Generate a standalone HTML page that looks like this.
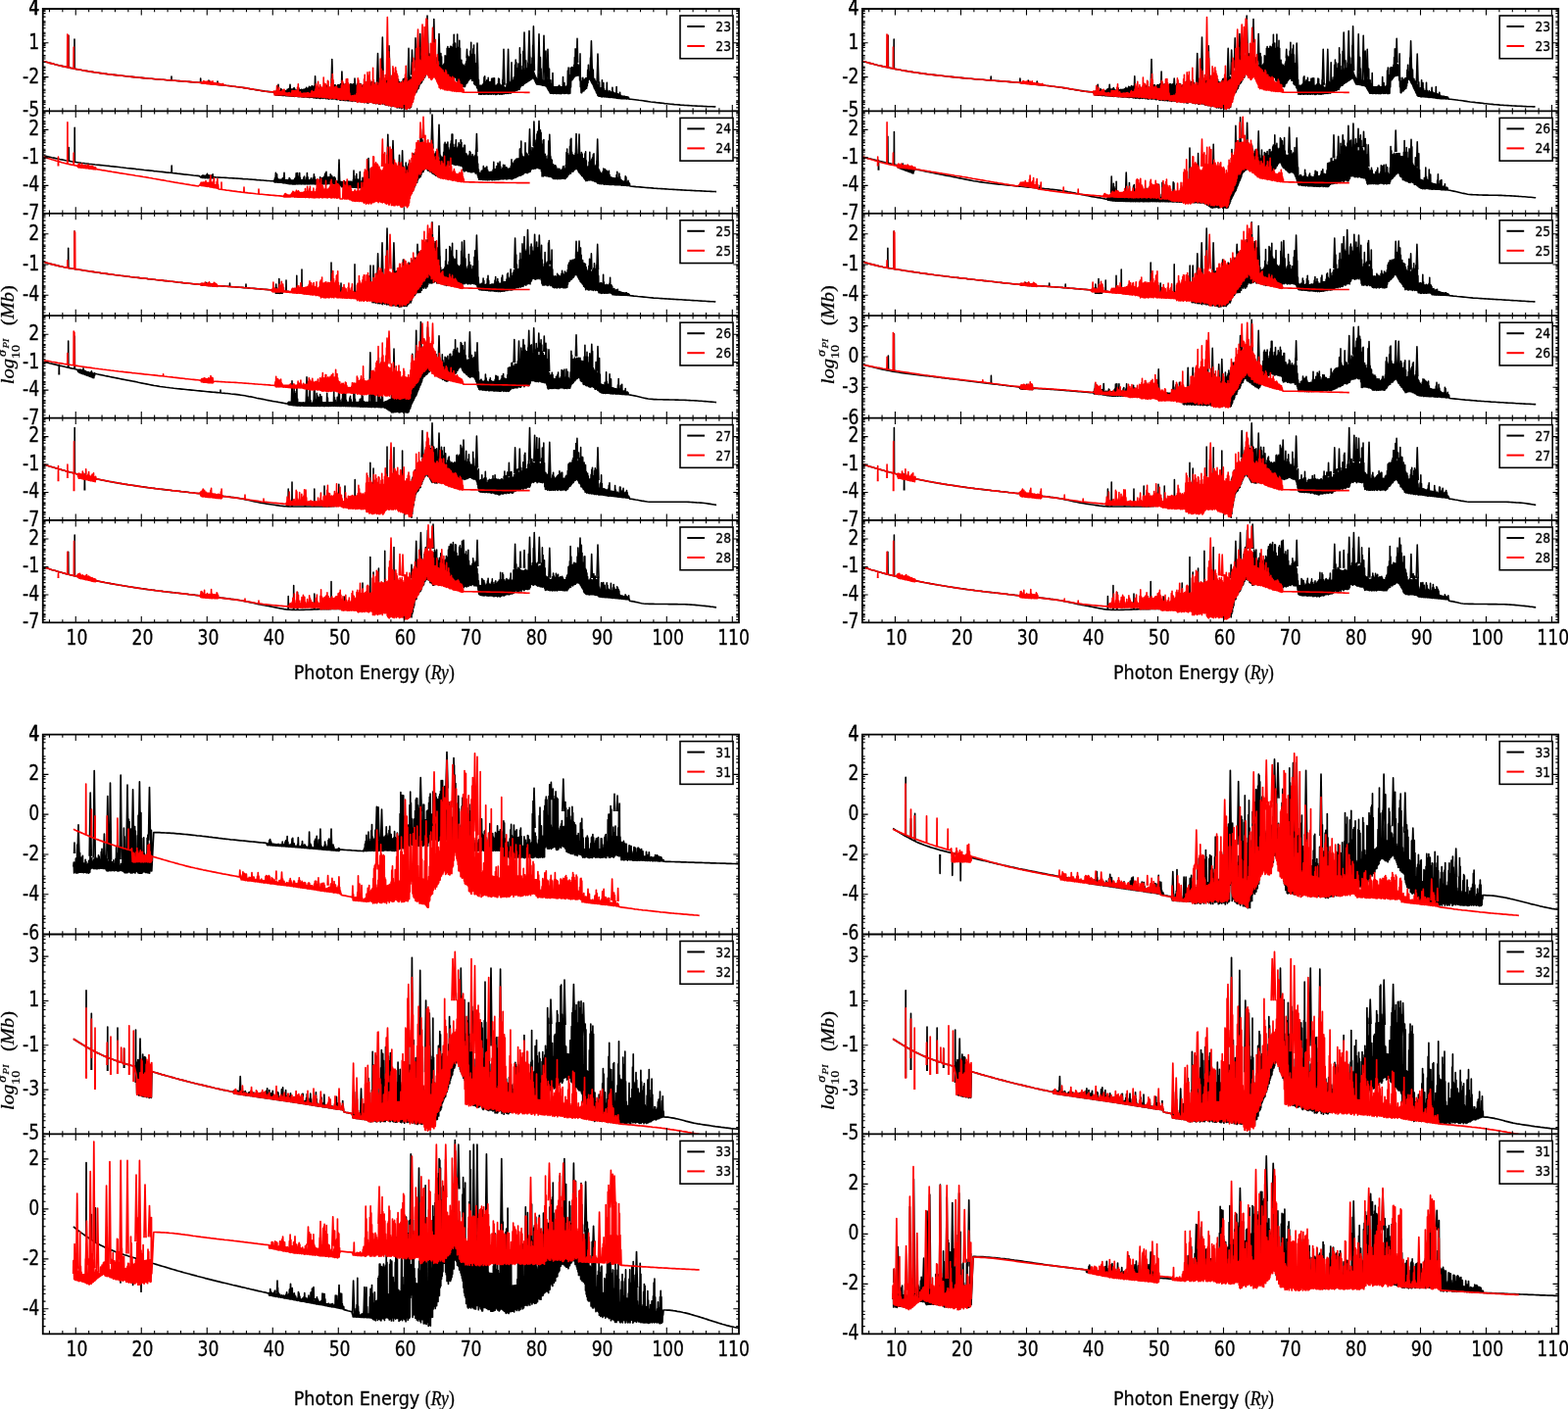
<!DOCTYPE html><html><head><meta charset="utf-8"><title>Photoionization cross sections</title><style>html,body{margin:0;padding:0;background:#fff;width:1600px;height:1438px;overflow:hidden}svg{display:block}text{stroke:#000;stroke-width:.3px}</style></head><body><svg width="1600" height="1438" viewBox="0 0 1600 1438" font-family="'DejaVu Sans', sans-serif">
<rect width="1600" height="1438" fill="#fff"/>
<clipPath id="cTL0"><rect x="43.75" y="9.00" width="710.25" height="104.40"/></clipPath>
<g id="dTL0" clip-path="url(#cTL0)"><path transform="scale(.1)" d="M440 624l20 6 20 5 20 6 20 5 21 5 20 6 20 5 20 5 20 4 20 5 20 5 20 4 20 4 20 5 21 4 20 4 20 4 20 4 20 3 20 4 20 4 20 3 20 4 20 3 21 3 20 3 20 4 20 2 20 3 20 3 20 3 20 2 20 3 20 2 21 3 20 2 20 2 20 3 20 2 20 2 20 2 20 3 20 2 20 2 21 2 20 2 20 2 20 2 20 2 20 2 20 2 20 2 20 2 20 2 21 1 20 2 20 2 20 2 20 1 20 2 20 1 20 2 20 2 20 1 21 2 20 2 20 1 20 2 20 1 20 2 20 2 20 1 20 2 21 1 20 2 20 2 20 2 20 1 20 2 20 2 20 2 20 2 20 2 21 2 20 2 20 2 20 2 20 2 20 3 20 2 20 2 20 2 20 3 21 2 20 2 20 3 20 2 20 3 20 2 20 3 20 3 20 3 20 3 21 3 20 4 20 3 20 4 20 3 20 3 20 4 20 3 20 3 20 3 21 2 20 2 20 2 20 1 2 1 4-1 3 13 4-16 3 30 4-31 3 34 4-40 3 41 4-55 3 54 4-57 3 60 4-69 3 68 4-48 3 50 4-41 3 38 4-48 3 50 4-67 3 67 4-57 3 59 4-52 3 53 4-45 3 44 4-45 3 46 4-46 3 44 4-45 3 50 4-50 3 50 4-51 3 49 4-62 3 63 4-64 3 66 4-74 3 72 4-64 3 66 4-58 3 59 4-55 3 55 4-68 3 71 4-73 3 73 4-73 3 71 4-78 3 78 4-85 3 88 4-75 3 72 4-60 3 62 4-62 3 60 4-61 3 64 4-70 3 70 4-69 3 71 4-85 3 85 4-67 3 65 4-66 3 66 4-69 3 72 4-75 3 75 4-70 3 73 4-74 3 73 4-75 3 76 4-76 3 75 4-80 3 79 4-84 3 86 4-98 3 96 4-86 3 91 4-80 3 80 4-96 3 93 4-108 3 114 4-108 3 103 4-98 3 98 4-104 3 106 4-117 3 115 4-102 3 103 4-109 3 116 4-117 3 114 4-103 3 101 4-86 3 93 4-93 3 92 4-107 3 108 4-108 3 106 4-93 3 89 4-89 3 96 4-112 3 114 4-119 3 119 4-114 3 111 4-97 3 95 4-95 3 97 4-98 3 102 4-102 3 95 4-114 3 115 4-116 3 118 4-112 3 118 4-108 3 102 4-127 3 134 4-126 3 125 4-108 3 112 4-124 3 123 4-111 3 105 4-106 3 110 4-114 3 113 4-111 3 117 4-134 3 128 4-127 3 127 4-128 3 131 4-143 3 141 4-141 3 143 4-125 3 131 4-122 3 118 4-138 3 142 4-150 3 145 4-143 3 144 4-138 3 147 4-157 3 157 4-162 3 164 4-154 3 148 4-130 3 129 4-145 3 153 4-170 3 162 4-149 3 158 4-158 3 159 4-167 3 166 4-161 3 160 4-144 3 138 4-137 3 148 4-145 3 143 4-159 3 153 4-136 3 144 4-170 3 164 4-165 3 171 4-148 3 154 4-172 3 159 4-162 3 169 4-173 3 174 4-184 3 181 4-169 3 175 4-161 3 158 4-149 3 154 4-176 3 176 4-183 3 186 4-182 3 177 4-155 3 158 4-181 3 181 4-181 3 188 4-164 3 160 4-162 3 155 4-162 3 166 4-161 3 159 4-173 3 186 4-188 3 186 4-198 3 191 4-191 3 195 4-210 3 218 4-204 3 203 4-174 3 176 4-176 3 162 4-163 3 169 4-169 3 169 4-199 3 197 4-205 3 208 4-200 3 202 4-190 3 195 4-205 3 209 4-211 3 204 4-177 3 184 4-185 3 188 4-188 3 181 4-181 3 184 4-203 3 198 4-207 3 220 4-234 3 234 4-235 3 227 4-220 3 214 4-210 3 217 4-222 3 224 4-219 3 223 4-224 3 216 4-219 3 222 4-227 3 238 4-233 3 235 4-207 3 210 4-252 3 249 4-242 3 239 4-236 3 248 4-249 3 249 4-250 3 236 4-237 3 246 4-233 3 244 4-227 3 230 4-231 3 224 4-225 3 218 4-223 3 235 4-279 3 269 4-256 3 264 4-264 3 266 4-273 3 284 4-288 3 291 4-288 3 278 4-275 3 284 4-262 3 265 4-263 3 260 4-251 3 248 4-248 3 260 4-271 3 268 4-276 3 261 4-281 3 282 4-284 3 284 4-289 3 308 4-287 3 286 4-266 3 251 4-252 3 262 4-284 3 270 4-287 3 291 4-295 3 300 4-298 3 307 4-269 3 258 4-310 3 308 4-280 3 242 4-254 3 241 4-302 3 270 4-280 3 256 4-246 3 221 4-226 3 214 4-227 3 216 4-234 3 234 4-242 3 222 4-221 3 209 4-269 3 264 4-261 3 240 4-242 3 222 4-232 3 226 4-235 3 227 4-229 3 220 4-220 3 199 4-204 3 202 4-244 3 222 4-231 3 230 4-203 3 189 4-203 3 179 4-224 3 224 4-232 3 227 4-225 3 232 4-203 3 200 4-205 3 205 4-195 3 209 4-189 3 183 4-192 3 189 4-170 3 174 4-139 3 143 4-158 3 158 4-200 3 203 4-152 3 168 4-158 3 173 4-211 3 213 4-155 3 174 4-143 3 148 4-162 3 177 4-147 3 153 4-181 3 185 4-202 3 200 4-304 3 303 4-269 3 279 4-186 3 173 4-178 3 182 4-192 3 191 4-200 3 193 4-274 3 258 4-236 3 235 4-253 3 244 4-322 3 315 4-333 3 342 4-305 3 294 4-311 3 304 4-258 3 254 4-322 3 329 4-327 3 335 4-269 3 253 4-313 3 319 4-349 3 351 4-449 3 440 4-254 3 250 4-348 3 350 4-258 3 286 4-326 3 315 4-457 3 481 4-350 3 345 4-264 3 289 4-438 3 425 4-347 3 359 4-228 3 248 4-259 3 255 4-216 3 227 4-213 3 218 4-220 3 219 4-199 3 204 4-214 3 208 4-230 3 206 4-229 3 221 4-297 3 295 4-282 3 264 4-240 3 231 4-239 3 232 4-224 3 205 4-274 3 282 4-370 3 369 4-248 3 270 4-260 3 252 4-316 3 326 4-364 3 393 4-297 3 308 4-220 3 221 4-206 3 213 4-187 3 208 4-208 3 218 4-239 3 267 4-120 3 150 4-90 3 85 4-85 3 89 4-89 3 91 4-91 3 91 4-91 3 85 4-93 3 96 4-106 3 108 4-173 3 173 4-183 3 179 4-125 3 128 4-95 3 93 4-140 3 139 4-108 3 113 4-169 3 168 4-126 3 121 4-114 3 118 4-126 3 125 4-102 3 104 4-160 3 157 4-141 3 139 4-159 3 163 4-117 3 114 4-160 3 158 4-84 3 92 4-92 3 92 4-92 3 91 4-100 3 97 4-104 3 100 4-156 3 156 4-151 3 157 4-104 3 98 4-86 3 93 4-91 3 85 4-87 3 91 4-149 3 145 4-115 3 114 4-72 3 72 4-62 3 59 4-58 3 57 4-59 3 62 4-99 3 97 4-175 3 175 4-140 3 142 4-122 3 116 4-119 3 118 4-102 3 107 4-112 3 108 4-311 3 302 4-149 3 150 4-117 3 114 4-120 3 118 4-149 3 147 4-272 3 265 4-317 3 314 4-287 3 288 4-230 3 226 4-154 3 147 4-264 3 263 4-213 3 214 4-426 3 410 4-346 3 330 4-207 3 201 4-142 3 138 4-156 3 156 4-350 3 345 4-167 3 155 4-145 3 142 4-138 3 132 4-227 3 222 4-131 3 131 4-142 3 130 4-188 3 188 4-166 3 157 4-162 3 165 4-244 3 236 4-158 3 153 4-120 3 117 4-216 3 207 4-336 3 336 4-147 3 152 4-57 3 71 4-53 3 68 4-52 3 66 4-53 3 67 4-52 3 51 4-54 3 57 4-51 3 52 4-51 3 51 4-112 3 113 4-278 3 278 4-164 3 167 4-49 3 51 4-49 3 51 4-52 3 53 4-50 3 51 4-49 3 50 4-51 3 53 4-355 3 361 4-108 3 117 4-81 3 94 4-50 3 62 4-52 3 64 4-225 3 237 4-108 3 120 4-135 3 134 4-99 3 99 4-79 3 80 4-206 3 209 4-72 3 71 4-65 3 64 4-64 3 63 4-63 3 65 4-65 3 66 4-66 3 65 4-65 3 62 4-69 3 73 4-82 3 81 4-81 3 81 4-68 3 69 4-66 3 67 4-68 3 65 4-67 3 64 4-165 3 166 4-105 3 109 4-109 3 107 4-64 3 65 4-71 3 68 4-62 3 61 4-76 3 77 4-231 3 236 4-266 3 265 4-160 3 160 4-190 3 187 4-259 3 196 4-193 3 123 4-133 3 132 4-115 3 105 4-121 3 111 4-134 3 124 4-202 3 194 4-281 3 276 4-237 3 236 4-154 3 152 4-119 3 117 4-111 3 111 4-101 3 99 4-74 3 126 4-271 3 339 4-95 3 153 4-112 3 113 4-118 3 104 4-139 3 134 4-109 3 110 4-115 3 102 4-108 3 103 4-114 3 105 4-103 3 104 4-108 3 83 4-164 3 132 4-184 3 149 4-63 3 57 4-75 3 83 4-222 3 235 4-213 3 228 4-118 3 130 4-153 3 163 4-150 3 168 4-79 3 98 4-95 3 106 4-87 3 101 4-90 3 107 4-108 3 121 4-98 3 115 4-102 3 110 4-123 3 125 4-145 3 145 4-84 3 85 4-86 3 90 4-77 3 77 4-169 3 171 4-113 3 109 4-139 3 139 4-77 3 82 4-65 3 63 4-59 3 60 4-67 3 67 4-147 3 147 4-65 3 65 4-51 3 56 4-56 3 52 4-65 3 69 4-55 3 55 4-53 3 52 4-47 3 49 4-102 3 102 4-59 3 60 4-45 3 46 4-49 3 48 4-43 3 46 4-46 3 47 4-114 3 116 4-47 3 50 4-47 3 45 4-27 3 29 4-44 3 44 4-61 3 60 4-33 3 35 4-26 3 26 4-26 3 27 4-24 3 24 4-24 3 24 4-24 3 24 4-23 3 24 4-21 3 20 4-19 3 21 4-21 3 21 4-19 3 18 4-18 3 19 4-10 3 12 20 2 20 2 20 2 20 3 21 3 20 2 20 3 20 3 20 3 20 3 20 3 20 2 20 2 20 3 21 2 20 2 20 2 20 3 20 2 20 2 20 2 20 2 20 2 20 1 21 2 20 2 20 1 20 2 20 1 20 1 20 1 20 2 20 1 20 1 21 1 20 1 20 1 20 1 20 1 20 1 20 0 20 1 20 1 19 0M698 689l2 -327 2 327M758 701l2 -301 2 301M1748 820l2 -40 2 40M2045 845l2 -45 2 45M2128 853l2 -33 2 33M2218 863l2 -33 2 33M2836 927l4 -64 4 64M2956 917l4 -54 4 54M3212 896l4 -119 4 119M3380 881l8 -276 8 276M3485 873l4 -143 4 143M3616 862l4 -62 4 62M3846 843l9 -297 9 297M3893 838l10 -458 10 458M3960 829l10 -362 10 362M4161 802l9 -308 9 308M4197 766l8 -256 8 256M4231 696l9 -307 9 307M4278 632l9 -287 9 287M4350 541l10 -380 10 380M4418 617l10 -421 10 421M4470 675l10 -330 10 330M4761 594l4 -91 4 91M4862 700l8 -260 8 260M5130 867l10 -364 10 364M5176 856l10 -353 10 353M5434 720l10 -451 10 451M5390 679l10 -363 10 363M5340 702l10 -372 10 372M5490 805l10 -458 10 458M5540 816l10 -454 10 454M5580 846l10 -343 10 343M5883 640l7 -246 7 246M6024 756l10 -339 10 339M6091 850l9 -300 9 300" fill="none" stroke="#000" stroke-width="16" stroke-linejoin="round"/><path transform="scale(.1)" d="M440 624l20 6 20 5 20 6 20 5 21 5 20 6 20 5 20 5 20 4 20 5 20 5 20 4 20 4 20 5 21 4 20 4 20 4 20 4 20 3 20 4 20 4 20 3 20 4 20 3 21 3 20 3 20 4 20 2 20 3 20 3 20 3 20 2 20 3 20 2 21 3 20 2 20 2 20 3 20 2 20 2 20 2 20 3 20 2 20 2 21 2 20 2 20 2 20 2 20 2 20 2 20 2 20 2 20 2 20 2 21 1 20 2 20 2 20 2 20 1 20 2 20 1 20 2 20 2 20 1 21 2 20 2 20 1 20 2 20 1 20 2 20 2 20 1 20 2 21 1 20 2 20 2 20 2 20 1 20 2 12-3 4 0 3 3 4-3 3 7 4-6 3 9 4-9 3 10 4-19 3 19 4-25 3 26 4-14 3 15 4-21 3 21 4-11 3 12 4-20 3 21 4-20 3 21 4-27 3 28 4-15 3 15 4-15 3 16 4-25 3 26 4-29 3 29 4-18 3 18 4-21 3 23 4-32 3 32 4-15 3 16 4-15 3 16 4-15 3 15 4-14 3 14 4-12 3 13 4-13 3 13 4-11 3 12 4-16 3 17 4-14 3 15 4-11 3 11 4-10 3 11 4-10 3 11 4-9 3 9 4-11 3 11 4-15 3 16 4-8 3 8 5 0 20 3 20 2 20 3 20 2 21 2 20 3 20 3 20 2 20 3 20 3 20 3 20 3 20 4 20 3 21 4 20 4 20 3 20 3 20 4 20 3 20 2 20 3 20 2 20 1 21 1 1 1 4-13 3 42 4-34 3 33 4-33 3 34 4-42 3 40 4-92 3 95 4-57 3 56 4-42 3 41 4-76 3 77 4-34 3 33 4-33 3 34 4-34 3 33 4-35 3 37 4-50 3 47 4-44 3 44 4-53 3 53 4-51 3 52 4-21 3 23 4-20 3 21 4-21 3 22 4-22 3 24 4-22 3 23 4-27 3 28 4-31 3 30 4-23 3 25 4-25 3 28 4-33 3 32 4-53 3 53 4-54 3 54 4-52 3 51 4-51 3 55 4-54 3 52 4-52 3 55 4-55 3 55 4-55 3 55 4-92 3 91 4-125 3 126 4-42 3 44 4-40 3 40 4-46 3 46 4-31 3 32 4-31 3 31 4-31 3 32 4-32 3 30 4-34 3 36 4-33 3 32 4-33 3 33 4-35 3 37 4-33 3 32 4-39 3 40 4-43 3 41 4-37 3 38 4-32 3 31 4-31 3 33 4-33 3 33 4-49 3 47 4-60 3 62 4-53 3 53 4-50 3 51 4-54 3 53 4-54 3 56 4-79 3 74 4-128 3 132 4-108 3 109 4-88 3 86 4-154 3 156 4-75 3 77 4-80 3 82 4-129 3 123 4-90 3 91 4-94 3 97 4-88 3 88 4-112 3 114 4-203 3 202 4-144 3 144 4-121 3 122 4-137 3 141 4-97 3 98 4-102 3 100 4-173 3 170 4-163 3 169 4-107 3 111 4-109 3 103 4-104 3 108 4-147 3 148 4-201 3 196 4-243 3 243 4-180 3 188 4-111 3 108 4-112 3 110 4-106 3 108 4-120 3 117 4-116 3 119 4-103 3 107 4-102 3 110 4-110 3 106 4-106 3 106 4-105 3 105 4-105 3 108 4-143 3 146 4-195 3 195 4-183 3 177 4-138 3 140 4-136 3 141 4-158 3 159 4-130 3 125 4-206 3 210 4-152 3 149 4-210 3 208 4-166 3 168 4-152 3 155 4-68 3 75 4-52 3 51 4-44 3 47 4-47 3 45 4-46 3 48 4-46 3 45 4-51 3 51 4-54 3 56 4-54 3 51 4-44 3 46 4-72 3 82 4-161 3 168 4-245 3 237 4-217 3 218 4-181 3 179 4-139 3 138 4-171 3 178 4-180 3 183 4-151 3 150 4-151 3 151 4-176 3 176 4-236 3 238 4-282 3 273 4-201 3 211 4-178 3 175 4-205 3 201 4-300 3 299 4-268 3 277 4-246 3 242 4-309 3 307 4-220 3 219 4-159 3 163 4-164 3 163 4-202 3 205 4-353 3 359 4-237 3 234 4-171 3 173 4-187 3 183 4-183 3 194 4-212 3 203 4-207 3 202 4-170 3 179 4-180 3 186 4-210 3 202 4-251 3 250 4-449 3 463 4-361 3 352 4-189 3 184 4-224 3 223 4-326 3 336 4-260 3 257 4-196 3 192 4-287 3 304 4-213 3 208 4-211 3 218 4-234 3 232 4-289 3 283 4-536 3 551 4-483 3 474 4-255 3 261 4-218 3 228 4-312 3 312 4-309 3 301 4-400 3 393 4-373 3 384 4-337 3 344 4-285 3 287 4-402 3 389 4-354 3 372 4-343 3 337 4-315 3 319 4-241 3 240 4-241 3 238 4-239 3 233 4-234 3 246 4-248 3 249 4-250 3 242 4-263 3 275 4-256 3 252 4-254 3 260 4-278 3 280 4-343 3 340 4-429 3 437 4-312 3 320 4-279 3 259 4-259 3 265 4-278 3 272 4-260 3 264 4-282 3 270 4-276 3 275 4-276 3 255 4-263 3 238 4-404 3 401 4-447 3 417 4-249 3 214 4-238 3 224 4-342 3 320 4-442 3 423 4-318 3 304 4-279 3 262 4-444 3 419 4-380 3 380 4-253 3 241 4-222 3 205 4-215 3 204 4-284 3 282 4-277 3 268 4-225 3 223 4-247 3 223 4-510 3 510 4-213 3 194 4-198 3 183 4-319 3 317 4-548 3 562 4-321 3 330 4-198 3 217 4-212 3 205 4-202 3 212 4-351 3 366 4-235 3 239 4-314 3 306 4-227 3 216 4-256 3 247 4-346 3 341 4-136 3 144 4-384 3 397 4-144 3 159 4-164 3 183 4-278 3 292 4-222 3 235 4-181 3 210 4-209 3 213 4-204 3 215 4-195 3 187 4-197 3 197 4-177 3 185 4-190 3 189 4-171 3 174 4-162 3 171 4-172 3 162 4-193 3 204 4-189 3 188 4-152 3 155 4-157 3 148 4-147 3 156 4-135 3 133 4-134 3 133 4-129 3 137 4-129 3 126 4-121 3 127 4-147 3 145 4-129 3 130 4-133 3 136 4-100 3 99 4-94 3 94 4-88 3 92 4-87 3 84 4-91 3 95 4-96 3 92 4-121 3 124 4-105 3 104 4-66 3 67 4-71 3 71 4-70 3 74 4-69 3 70 4-29 3 31 4-29 3 30 2 0 20 0 20 0 20 0 20 0 21 0 20 0 20 0 20 0 20 0 20 0 20 0 20 0 20 0 20 0 21 0 20 0 20 0 20 0 20 0 20 0 20 0 20 1 20 0 20 0 21 0 20 0 20 0 20 0 20 0 20 0 20 1 20 0 20 0 8 0M686 687l2 -337 2 337M694 688l2 -328 2 328M750 700l2 -219 2 219M3943 822l10 -647 10 647M4255 640l10 -340 10 340M4301 566l9 -316 9 316M4340 539l10 -349 10 349M4406 599l9 -315 9 315" fill="none" stroke="#f00" stroke-width="16" stroke-linejoin="round"/></g>
<clipPath id="cTL1"><rect x="43.75" y="113.40" width="710.25" height="104.40"/></clipPath>
<g id="dTL1" clip-path="url(#cTL1)"><path transform="scale(.1)" d="M447 1588l20 4 20 5 20 5 20 5 21 4 20 5 20 4 20 5 20 4 20 4 20 4 20 3 20 4 20 4 21 3 20 3 20 3 20 3 20 3 20 2 20 3 20 2 20 3 20 2 21 2 20 3 20 2 20 2 20 2 20 2 20 2 20 2 20 2 20 3 21 2 20 2 20 2 20 2 20 3 20 2 20 2 20 3 20 2 20 2 21 2 20 2 20 3 20 2 20 2 20 2 20 3 20 2 20 2 20 2 21 2 20 3 20 2 20 2 20 2 20 2 20 2 20 3 20 2 20 2 21 2 20 2 20 2 20 3 20 2 20 2 20 3 20 2 20 2 21 2 20 2 20 3 20 2 20 2 20 2 13 14 4-5 3 7 4-17 3 19 4-24 3 25 4-24 3 24 4-22 3 22 4-22 3 23 4-23 3 23 4-23 3 22 4-31 3 32 4-43 3 43 4-29 3 30 4-26 3 25 4-25 3 27 4-26 3 25 4-24 3 25 4-24 3 24 4-33 3 33 4-39 3 40 4-16 2 4 20 2 20 1 20 1 20 1 21 1 20 1 20 1 20 2 20 1 20 1 20 1 20 1 20 2 20 1 21 2 20 1 20 1 20 2 20 1 20 2 20 1 20 2 20 1 20 2 21 1 20 2 20 2 20 1 20 2 20 1 11 2 4-12 3 21 4-42 3 42 4-37 3 37 4-56 3 57 4-82 3 82 4-39 3 40 4-33 3 35 4-30 3 30 4-30 3 30 4-29 3 29 4-29 3 29 4-29 3 30 4-43 3 45 4-47 3 49 4-35 3 36 4-33 3 32 4-32 3 34 4-33 3 33 4-34 3 36 4-35 3 37 4-36 3 35 4-41 3 45 4-62 3 61 4-54 3 54 4-37 3 39 4-38 3 37 4-37 3 39 4-39 3 39 4-39 3 40 4-46 3 45 4-57 3 57 4-67 3 67 4-110 3 109 4-66 3 65 4-111 3 113 4-46 3 45 4-77 3 77 4-112 3 111 4-63 3 62 4-37 3 40 4-42 3 40 4-41 3 42 4-40 3 40 4-67 3 69 4-79 3 76 4-39 3 42 4-42 3 39 4-64 3 63 4-110 3 113 4-70 3 67 4-36 3 40 4-43 3 40 4-39 3 39 4-46 3 46 4-58 3 58 4-45 3 45 4-37 3 38 4-65 3 65 4-99 3 98 4-73 3 76 4-47 3 47 4-40 3 38 4-44 3 46 4-45 3 42 4-40 3 42 4-40 3 40 4-39 3 40 4-73 3 71 4-49 3 50 4-58 3 57 4-60 3 58 4-64 3 67 4-67 3 66 4-78 3 76 4-101 3 103 4-116 3 112 4-120 3 125 4-79 3 74 4-62 3 65 4-67 3 65 4-67 3 67 4-64 3 65 4-97 3 99 4-83 3 80 4-82 3 86 4-67 3 65 4-67 3 64 4-62 3 63 4-66 3 67 4-58 3 64 4-37 3 44 4-34 3 36 4-37 3 39 4-44 3 42 4-80 3 82 4-86 3 89 4-49 3 48 4-39 3 41 4-41 3 51 4-50 3 50 4-50 3 50 4-56 3 58 4-63 3 63 4-52 3 51 4-51 3 51 4-51 3 51 4-53 3 57 4-62 3 61 4-57 3 58 4-56 3 55 4-57 3 57 4-57 3 57 4-58 3 57 4-53 3 53 4-52 3 54 4-73 3 74 4-125 3 124 4-116 3 116 4-68 3 70 4-84 3 83 4-137 3 140 4-89 3 86 4-55 3 56 4-81 3 82 4-75 3 78 4-165 3 161 4-64 3 66 4-58 3 60 4-70 3 66 4-101 3 122 4-100 3 120 4-107 3 110 4-111 3 112 4-113 3 106 4-126 3 125 4-141 3 149 4-133 3 133 4-128 3 126 4-118 3 112 4-115 3 123 4-122 3 118 4-123 3 124 4-126 3 131 4-128 3 127 4-183 3 183 4-149 3 143 4-202 3 206 4-210 3 216 4-238 3 227 4-184 3 189 4-172 3 169 4-238 3 243 4-193 3 195 4-148 3 143 4-135 3 134 4-144 3 154 4-156 3 148 4-139 3 139 4-146 3 152 4-147 3 149 4-191 3 186 4-191 3 193 4-173 3 170 4-179 3 180 4-181 3 187 4-185 3 185 4-218 3 214 4-255 3 256 4-180 3 172 4-235 3 234 4-222 3 234 4-173 3 174 4-166 3 158 4-216 3 215 4-244 3 241 4-195 3 201 4-205 3 209 4-291 3 285 4-195 3 193 4-171 3 175 4-177 3 173 4-175 3 181 4-187 3 195 4-278 3 280 4-225 3 210 4-213 3 227 4-238 3 230 4-226 3 235 4-275 3 275 4-270 3 267 4-218 3 217 4-208 3 211 4-312 3 308 4-266 3 273 4-235 3 227 4-278 3 286 4-306 3 304 4-332 3 331 4-292 3 289 4-303 3 312 4-286 3 280 4-281 3 263 4-311 3 297 4-372 3 342 4-316 3 316 4-337 3 321 4-315 3 289 4-293 3 283 4-289 3 293 4-305 3 280 4-301 3 281 4-283 3 282 4-285 3 264 4-274 3 283 4-344 3 323 4-375 3 352 4-334 3 329 4-269 3 267 4-283 3 263 4-269 3 256 4-261 3 246 4-243 3 256 4-247 3 243 4-234 3 256 4-254 3 259 4-249 3 247 4-240 3 244 4-250 3 262 4-232 3 227 4-215 3 221 4-212 3 224 4-214 3 217 4-208 3 199 4-190 3 209 4-200 3 195 4-214 3 229 4-244 3 246 4-188 3 187 4-177 3 185 4-173 3 173 4-169 3 179 4-178 3 160 4-212 3 216 4-205 3 187 4-166 3 159 4-164 3 152 4-159 3 145 4-192 3 183 4-267 3 265 4-283 3 276 4-249 3 237 4-243 3 234 4-230 3 218 4-245 3 249 4-191 3 183 4-154 3 151 4-158 3 148 4-208 3 211 4-243 3 230 4-298 3 299 4-298 3 303 4-200 3 203 4-171 3 165 4-165 3 179 4-213 3 204 4-248 3 256 4-174 3 166 4-162 3 165 4-181 3 190 4-231 3 231 4-212 3 203 4-201 3 215 4-266 3 258 4-233 3 242 4-180 3 187 4-191 3 226 4-190 3 204 4-268 3 260 4-260 3 266 4-177 3 167 4-171 3 173 4-160 3 165 4-151 3 159 4-151 3 147 4-169 3 170 4-205 3 209 4-202 3 205 4-163 3 164 4-143 3 142 4-181 3 179 4-165 3 164 4-145 3 144 4-152 3 155 4-172 3 187 4-241 3 237 4-274 3 275 4-170 3 192 4-120 3 142 4-82 3 103 4-70 3 67 4-65 3 66 4-65 3 67 4-88 3 85 4-89 3 94 4-82 3 82 4-139 3 138 4-120 3 118 4-69 3 73 4-120 3 119 4-127 3 127 4-135 3 138 4-105 3 103 4-86 3 85 4-79 3 81 4-79 3 74 4-74 3 75 4-79 3 80 4-79 3 81 4-84 3 85 4-105 3 97 4-176 3 183 4-110 3 108 4-87 3 88 4-110 3 108 4-134 3 135 4-137 3 135 4-170 3 172 4-160 3 159 4-151 3 148 4-179 3 179 4-129 3 127 4-99 3 99 4-94 3 94 4-116 3 117 4-147 3 143 4-136 3 138 4-142 3 139 4-111 3 111 4-116 3 121 4-119 3 118 4-105 3 104 4-105 3 102 4-102 3 101 4-103 3 105 4-106 3 106 4-129 3 128 4-197 3 202 4-172 3 167 4-145 3 142 4-152 3 148 4-171 3 170 4-181 3 176 4-180 3 181 4-188 3 178 4-181 3 184 4-175 3 163 4-176 3 179 4-170 3 162 4-267 3 271 4-275 3 275 4-352 3 347 4-217 3 212 4-190 3 188 4-166 3 163 4-173 3 163 4-168 3 164 4-306 3 303 4-180 3 183 4-199 3 202 4-192 3 192 4-168 3 162 4-169 3 155 4-172 3 181 4-162 3 158 4-180 3 158 4-188 3 187 4-222 3 217 4-205 3 189 4-189 3 207 4-292 3 280 4-253 3 260 4-239 3 239 4-290 3 281 4-342 3 338 4-364 3 371 4-212 3 216 4-257 3 260 4-291 3 281 4-384 3 395 4-369 3 395 4-278 3 330 4-247 3 240 4-361 3 367 4-373 3 365 4-175 3 175 4-218 3 222 4-202 3 198 4-166 3 174 4-176 3 169 4-204 3 210 4-358 3 364 4-341 3 339 4-285 3 276 4-195 3 210 4-183 3 173 4-164 3 179 4-111 3 121 4-144 3 147 4-130 3 124 4-130 3 136 4-138 3 132 4-119 3 123 4-102 3 105 4-103 3 97 4-99 3 104 4-92 3 91 4-103 3 101 4-86 3 89 4-89 3 83 4-88 3 91 4-99 3 95 4-119 3 123 4-125 3 124 4-99 3 102 4-105 3 104 4-138 3 124 4-254 3 254 4-289 3 281 4-236 3 217 4-200 3 202 4-189 3 176 4-278 3 271 4-341 3 347 4-357 3 338 4-199 3 194 4-171 3 176 4-165 3 160 4-162 3 144 4-139 3 141 4-168 3 161 4-268 3 266 4-199 3 201 4-148 3 159 4-139 3 155 4-174 3 184 4-201 3 204 4-183 3 197 4-199 3 204 4-227 3 239 4-224 3 226 4-179 3 187 4-184 3 197 4-203 3 212 4-259 3 266 4-285 3 299 4-209 3 202 4-138 3 142 4-141 3 137 4-142 3 135 4-181 3 186 4-287 3 285 4-196 3 197 4-186 3 187 4-217 3 206 4-221 3 239 4-268 3 267 4-278 3 277 4-148 3 159 4-154 3 151 4-169 3 175 4-214 3 217 4-233 3 243 4-167 3 167 4-145 3 145 4-134 3 141 4-126 3 122 4-111 3 114 4-107 3 108 4-96 3 92 4-123 3 125 4-155 3 160 4-124 3 126 4-157 3 153 4-145 3 148 4-110 3 107 4-136 3 140 4-110 3 108 4-127 3 128 4-140 3 142 4-98 3 99 4-76 3 76 4-74 3 73 4-71 3 72 4-69 3 66 4-64 3 66 4-64 3 65 4-68 3 69 4-63 3 64 4-70 3 71 4-102 3 100 4-132 3 134 4-69 3 68 4-73 3 72 4-115 3 116 4-82 3 82 4-54 3 56 4-53 3 55 4-44 3 44 4-44 3 43 4-38 3 39 4-37 3 37 4-45 3 45 4-93 3 94 4-83 3 86 4-37 3 36 4-34 3 35 4-51 3 50 4-30 3 31 4-23 3 24 3 4 20 2 20 2 20 2 20 1 21 2 20 2 20 2 20 2 20 1 20 2 20 1 20 2 20 1 20 2 21 1 20 1 20 2 20 1 20 1 20 2 20 1 20 1 20 1 20 1 21 2 20 1 20 1 20 1 20 1 20 1 20 1 20 1 20 1 20 1 21 1 20 1 20 1 20 1 20 1 20 1 20 1 20 1 20 0 16 1M700 1643l2 -137 2 137M760 1653l2 -350 2 350M1750 1765l2 -75 2 75M2810 1830l4 -66 4 66M2896 1831l4 -67 4 67M3453 1850l7 -220 7 220M3606 1850l4 -110 4 110M3754 1825l6 -209 6 209M3804 1815l6 -199 6 199M3948 1788l10 -415 10 415M4000 1776l10 -340 10 340M4070 1754l5 -170 5 170M4100 1743l6 -205 6 205M4289 1478l5 -159 5 159M4400 1518l10 -348 10 348M4470 1616l10 -344 10 344M4858 1550l6 -184 6 184M5397 1571l8 -252 8 252M5442 1490l7 -250 7 250M5492 1490l8 -255 8 255M5601 1600l7 -227 7 227M5874 1570l6 -204 6 204M5904 1579l6 -209 6 209M6089 1698l8 -278 8 278" fill="none" stroke="#000" stroke-width="16" stroke-linejoin="round"/><path transform="scale(.1)" d="M447 1600l20 7 20 7 20 6 20 7 21 6 20 7 20 6 20 5 20 6 20 5 20 5 20 5 20 4 20 5 21 4 20 4 20 4 1 7 4-12 3 19 4-32 3 35 4-39 3 39 4-31 3 30 4-23 3 25 4-26 3 27 4-42 3 43 4-26 3 26 4-26 3 28 4-26 3 25 4-26 3 27 4-29 3 30 4-26 3 28 4-26 3 26 4-29 3 29 4-37 3 38 4-32 3 34 4-26 3 27 4-24 3 24 4-27 3 28 4-26 3 27 4-32 3 32 4-25 3 27 4-19 3 20 4-20 3 21 4-21 3 22 4-20 4 16 20 4 20 3 20 4 20 3 21 3 20 4 20 3 20 4 20 3 20 3 20 3 20 4 20 3 20 3 21 3 20 4 20 3 20 3 20 3 20 4 20 3 20 3 20 3 20 4 21 3 20 3 20 4 20 3 20 4 20 3 20 4 20 3 20 4 20 3 21 4 20 4 20 3 20 4 20 3 20 4 20 3 20 4 20 3 20 3 21 4 20 3 20 3 20 4 20 3 20 3 20 3 20 3 15-15 4-7 3 13 4-27 3 30 4-30 3 33 4-35 3 33 4-31 3 33 4-36 3 36 4-35 3 37 4-35 3 36 4-54 3 55 4-38 3 38 4-36 3 40 4-40 3 38 4-37 3 39 4-39 3 41 4-74 3 76 4-118 3 116 4-55 3 59 4-49 3 48 4-35 3 39 4-68 3 68 4-98 3 100 4-31 3 31 4-27 3 29 4-26 3 28 4-68 3 70 4-97 3 98 4-40 4 47 20 3 20 2 20 3 20 3 21 2 20 3 20 3 20 2 20 3 20 3 20 2 20 3 20 2 20 2 21 3 20 2 20 2 20 2 20 3 20 2 20 2 20 1 20 2 20 2 21 2 20 2 20 2 20 1 20 2 20 2 20 1 20 2 15 4 3-4 4 6 3-13 4 16 3-30 4 29 3-34 4 34 3-22 4 22 3-25 4 26 3-19 4 18 3-18 4 18 3-17 4 17 3-17 4 18 3-19 4 19 3-23 4 21 3-33 4 32 3-41 4 42 3-55 4 54 3-49 4 49 3-42 4 46 3-47 4 45 3-49 4 52 3-68 4 65 3-56 4 59 3-59 4 59 3-64 4 65 3-54 4 53 3-46 4 45 3-45 4 46 3-46 4 45 3-45 4 45 3-45 4 47 3-46 4 45 3-53 4 54 3-57 4 58 3-88 4 88 3-59 4 57 3-57 4 58 3-109 4 109 3-62 4 64 3-48 4 50 3-90 4 89 3-114 4 111 3-54 4 55 3-55 4 59 3-56 4 53 3-65 4 66 3-96 4 99 3-60 4 57 3-49 4 50 3-62 4 62 3-86 4 83 3-177 4 178 3-187 4 190 3-120 4 119 3-182 4 182 3-146 4 145 3-117 4 114 3-191 4 191 3-98 4 104 3-129 4 124 3-106 4 109 3-82 4 78 3-83 4 84 3-80 4 81 3-171 4 173 3-84 4 85 3-85 4 86 3-86 4 82 3-91 4 88 3-91 4 91 3-108 4 113 3-164 4 167 3-186 4 186 3-148 4 141 3-116 4 120 3-128 4 123 3-120 4 127 3-132 4 130 3-122 4 118 3-169 4 177 3-147 4 149 3-145 4 140 3-138 4 137 3-128 4 127 3-119 4 128 3 5 4 0 3 0 4 0 3 0 4 0 3 0 4 0 3-116 4 110 3-178 4 179 3-137 4 143 3-139 4 137 3-122 4 118 3-169 4 176 3-202 4 197 3-136 4 137 3-104 4 109 3-122 4 127 3-142 4 142 3-138 4 139 3-109 4 115 3-88 4 93 3-93 4 92 3-92 4 92 3-92 4 95 3-111 4 113 3-114 4 107 3-92 4 96 3-95 4 97 3-104 4 104 3-183 4 178 3-93 4 101 3-106 4 102 3-103 4 104 3-124 4 127 3-192 4 186 3-138 4 144 3-131 4 140 3-201 4 208 3-313 4 305 3-334 4 338 3-212 4 226 3-341 4 334 3-447 4 445 3-322 4 327 3-232 4 234 3-248 4 236 3-241 4 233 3-340 4 359 3-367 4 365 3-282 4 273 3-362 4 348 3-457 4 470 3-467 4 456 3-349 4 352 3-388 4 383 3-395 4 389 3-335 4 341 3-380 4 381 3-369 4 382 3-366 4 351 3-351 4 352 3-304 4 310 3-326 4 330 3-320 4 316 3-315 4 324 3-333 4 309 3-328 4 345 3-490 4 476 3-491 4 519 3-403 4 388 3-380 4 401 3-500 4 479 3-557 4 568 3-377 4 395 3-413 4 412 3-444 4 425 3-429 4 428 3-449 4 476 3-571 4 541 3-391 4 419 3-408 4 412 3-402 4 375 3-437 4 465 3-413 4 403 3-425 4 416 3-400 4 413 3-394 4 399 3-402 4 396 3-433 4 426 3-391 4 398 3-366 4 376 3-433 4 445 3-455 4 429 3-382 4 409 3-353 4 325 3-373 4 392 3-401 4 386 3-371 4 380 3-327 4 324 3-324 4 329 3-363 4 378 3-355 4 346 3-334 4 324 3-407 4 380 3-438 4 393 3-318 4 289 3-332 4 317 3-367 4 358 3-410 4 383 3-343 4 344 3-362 4 344 3-315 4 282 3-341 4 336 3-368 4 353 3-419 4 396 3-393 4 361 3-383 4 350 3-353 4 334 3-311 4 303 3-304 4 322 3-322 4 312 3-313 4 294 3-295 4 282 3-283 4 274 3-275 4 265 3-266 4 281 3-347 4 331 3-334 4 335 3-286 4 287 3-256 4 259 3-236 4 226 3-285 4 303 3-261 4 253 3-261 4 282 3-232 4 239 3-276 4 265 3-307 4 312 3-274 4 289 3-245 4 249 3-221 4 223 3-164 4 163 3-128 4 143 3-146 4 144 3-182 4 195 3-267 4 266 3-248 4 266 3-201 4 195 3-160 4 167 3-161 4 167 3-126 4 131 3-119 4 117 3-171 4 173 3-156 4 160 3-151 4 152 3-99 4 95 3-227 4 228 3-95 4 102 3-123 4 120 3-124 4 128 3-144 4 144 3-181 4 186 3-85 4 80 3-121 4 122 3-183 4 187 3-221 4 224 3-139 4 137 3-78 4 84 3-83 4 83 3-95 4 92 3-112 4 113 3-88 4 94 3-73 4 72 3-71 4 75 3-71 4 72 3-71 4 73 3-69 4 68 3-80 4 79 3-89 4 92 3-86 4 89 3-59 4 60 3-122 4 119 3-89 4 92 3-51 4 50 3-28 3 31 20 0 20 0 20 1 20 0 21 0 20 1 20 0 20 1 20 0 20 1 20 0 20 1 20 0 20 0 21 0 20 1 20 0 20 0 20 0 20 0 20 1 20 0 20 0 20 0 21 0 20 0 20 1 20 0 20 0 20 0 20 0 20 0 20 0 8 0M593 1694l2 -94 2 94M687 1672l2 -424 2 424M750 1685l2 -125 2 125M2258 1934l2 -74 2 74M2488 1964l2 -54 2 54M2638 1980l2 -50 2 50M3895 1700l8 -280 8 280M3976 1647l4 -147 4 147M4285 1412l5 -162 5 162M4313 1412l7 -218 7 218" fill="none" stroke="#f00" stroke-width="16" stroke-linejoin="round"/></g>
<clipPath id="cTL2"><rect x="43.75" y="217.80" width="710.25" height="104.40"/></clipPath>
<g id="dTL2" clip-path="url(#cTL2)"><path transform="scale(.1)" d="M447 2673l20 6 20 6 20 6 20 5 21 5 20 5 20 5 20 5 20 4 20 5 20 4 20 4 20 3 20 4 21 3 20 3 20 3 20 3 20 3 20 4 20 3 20 3 20 3 20 3 21 3 20 3 20 3 20 3 20 3 20 2 20 3 20 3 20 3 20 2 21 3 20 3 20 2 20 3 20 3 20 2 20 3 20 2 20 2 20 3 21 2 20 3 20 2 20 2 20 3 20 2 20 2 20 2 20 3 20 2 21 2 20 2 20 3 20 2 20 2 20 2 20 3 20 2 20 2 20 3 21 2 20 2 20 2 20 3 20 2 20 2 20 3 20 2 20 2 21 2 20 2 20 2 20 2 20 2 20 2 5 0 4-1 3 3 4-5 3 7 4-11 3 14 4-14 3 13 4-12 3 13 4-12 3 12 4-12 3 14 4-16 3 16 4-29 3 30 4-26 3 25 4-17 3 18 4-14 3 15 4-27 3 27 4-29 3 30 4-18 3 19 4-16 3 15 4-14 3 15 4-15 3 16 4-19 3 19 4-20 3 20 4-20 3 22 4-19 3 19 4-17 3 18 4-12 3 12 2-4 20 1 20 1 20 2 20 1 21 1 20 2 20 1 20 2 20 1 20 2 20 1 20 2 20 1 20 2 21 1 20 2 20 2 20 1 20 2 20 2 20 2 20 1 20 2 20 2 21 1 20 2 20 2 20 2 20 1 13 1 4-21 3 51 4-91 3 92 4-55 3 54 4-29 3 29 4-28 3 29 4-32 3 32 4-50 3 51 4-50 3 49 4-29 3 29 4-30 3 30 4-31 3 30 4-28 3 6 20 2 20 2 20 2 20 1 21 2 20 2 20 2 20 2 20 1 20 2 20 2 20 1 20 2 20 1 21 1 20 2 20 1 20 2 20 1 20 2 20 1 20 2 20 1 20 2 21 1 20 2 20 1 20 1 20 1 20 1 20 1 20 1 20 1 20 0 21 1 20 0 20 0 20 0 20 0 20 0 20 0 20 0 20-1 20 0 21 0 5 68 4-177 3 174 4-186 3 189 4-186 3 184 4-180 3 182 4-184 3 189 4-219 3 211 4-216 3 219 4-200 3 211 4-216 3 208 4-230 3 237 4-242 3 243 4-243 3 238 4-237 3 241 4-217 3 223 4-244 3 248 4-265 3 248 4-257 3 259 4-261 3 272 4-271 3 263 4-230 3 235 4-238 3 247 4-260 3 251 4-284 3 291 4-295 3 289 4-249 3 262 4-315 3 307 4-275 3 272 4-297 3 304 4-312 3 318 4-318 3 321 4-328 3 315 4-288 3 285 4-313 3 330 4-335 3 337 4-348 3 338 4-343 3 353 4-347 3 342 4-343 3 354 4-357 3 361 4-363 3 363 4-367 3 361 4-362 3 366 4-369 3 367 4-377 3 371 4-372 3 366 4-315 3 325 4-327 3 315 4-320 3 329 4-349 3 339 4-320 3 333 4-335 3 325 4-355 3 344 4-371 3 365 4-384 3 375 4-378 3 364 4-388 3 402 4-413 3 392 4-396 3 374 4-393 3 379 4-404 3 389 4-352 3 351 4-369 3 365 4-379 3 365 4-362 3 348 4-343 3 346 4-434 3 432 4-412 3 400 4-404 3 416 4-393 3 383 4-391 3 399 4-385 3 359 4-401 3 405 4-401 3 377 4-362 3 357 4-435 3 445 4-443 3 428 4-402 3 391 4-427 3 453 4-489 3 468 4-462 3 468 4-479 3 457 4-450 3 432 4-382 3 379 4-399 3 403 4-399 3 395 4-475 3 481 4-501 3 483 4-471 3 485 4-428 3 423 4-397 3 396 4-380 3 371 4-406 3 407 4-405 3 408 4-341 3 354 4-358 3 355 4-290 3 284 4-270 3 281 4-248 3 246 4-273 3 271 4-157 3 163 4-129 3 128 4-133 3 137 4-142 3 140 4-144 3 155 4-162 3 164 4-178 3 168 4-235 3 247 4-364 3 370 4-215 3 211 4-194 3 183 4-192 3 186 4-223 3 218 4-373 3 359 4-350 3 343 4-196 3 185 4-297 3 289 4-366 3 351 4-213 3 222 4-184 3 197 4-213 3 219 4-213 3 210 4-215 3 216 4-304 3 314 4-170 3 182 4-173 3 168 4-160 3 165 4-162 3 163 4-150 3 154 4-185 3 201 4-341 3 336 4-427 3 442 4-288 3 273 4-179 3 171 4-206 3 213 4-224 3 222 4-256 3 249 4-165 3 165 4-145 3 149 4-135 3 142 4-187 3 178 4-295 3 299 4-220 3 222 4-157 3 158 4-189 3 190 4-150 3 141 4-121 3 125 4-176 3 176 4-155 3 160 4-274 3 274 4-339 3 338 4-219 3 226 4-274 3 279 4-277 3 297 4-268 3 278 4-109 3 122 4-59 3 64 4-51 3 52 4-52 3 51 4-61 3 63 4-67 3 70 4-63 3 61 4-120 3 121 4-95 3 94 4-54 3 55 4-53 3 53 4-57 3 58 4-65 3 68 4-119 3 117 4-149 3 152 4-102 3 104 4-60 3 60 4-60 3 62 4-65 3 63 4-65 3 65 4-67 3 65 4-62 3 66 4-66 3 63 4-75 3 81 4-113 3 110 4-145 3 149 4-97 3 94 4-72 3 71 4-124 3 130 4-101 3 95 4-78 3 79 4-76 3 81 4-82 3 78 4-80 3 80 4-139 3 138 4-160 3 161 4-85 3 82 4-91 3 93 4-95 3 91 4-86 3 86 4-92 3 90 4-114 3 111 4-164 3 168 4-178 3 171 4-128 3 129 4-97 3 94 4-114 3 117 4-211 3 212 4-172 3 167 4-94 3 97 4-144 3 137 4-175 3 174 4-196 3 190 4-190 3 191 4-245 3 235 4-335 3 334 4-234 3 235 4-187 3 179 4-179 3 189 4-195 3 181 4-272 3 274 4-342 3 348 4-213 3 205 4-277 3 268 4-426 3 435 4-344 3 342 4-281 3 267 4-231 3 229 4-358 3 355 4-340 3 350 4-236 3 222 4-233 3 231 4-346 3 347 4-293 3 284 4-190 3 194 4-289 3 295 4-382 3 358 4-385 3 376 4-346 3 318 4-278 3 284 4-211 3 208 4-237 3 238 4-237 3 246 4-209 3 209 4-280 3 265 4-366 3 377 4-276 3 268 4-311 3 309 4-267 3 277 4-227 3 220 4-194 3 191 4-239 3 259 4-353 3 389 4-243 3 260 4-187 3 184 4-184 3 189 4-220 3 213 4-330 3 332 4-184 3 181 4-215 3 221 4-237 3 242 4-230 3 229 4-433 3 418 4-176 3 179 4-179 3 192 4-193 3 193 4-253 3 244 4-356 3 369 4-170 3 182 4-119 3 120 4-110 3 116 4-116 3 112 4-116 3 116 4-112 3 112 4-112 3 117 4-147 3 143 4-129 3 124 4-109 3 109 4-118 3 127 4-119 3 114 4-114 3 113 4-141 3 138 4-168 3 170 4-141 3 147 4-116 3 111 4-132 3 139 4-170 3 162 4-141 3 146 4-153 3 151 4-150 3 148 4-178 3 146 4-199 3 167 4-185 3 188 4-194 3 190 4-211 3 189 4-174 3 180 4-191 3 186 4-194 3 181 4-178 3 177 4-180 3 170 4-175 3 160 4-164 3 158 4-180 3 184 4-256 3 253 4-230 3 247 4-176 3 188 4-238 3 254 4-231 3 239 4-327 3 344 4-342 3 349 4-276 3 280 4-221 3 235 4-242 3 246 4-219 3 240 4-236 3 237 4-233 3 244 4-240 3 262 4-231 3 220 4-195 3 198 4-178 3 185 4-190 3 193 4-246 3 247 4-317 3 314 4-225 3 220 4-176 3 181 4-181 3 184 4-203 3 191 4-190 3 207 4-228 3 213 4-262 3 268 4-212 3 220 4-221 3 218 4-254 3 253 4-239 3 244 4-314 3 317 4-154 3 174 4-97 3 97 4-77 3 76 4-100 3 106 4-104 3 105 4-86 3 83 4-101 3 97 4-184 3 188 4-112 3 114 4-86 3 85 4-81 3 78 4-79 3 81 4-88 3 89 4-81 3 77 4-77 3 80 4-83 3 80 4-96 3 98 4-157 3 155 4-82 3 87 4-82 3 86 4-74 3 85 4-48 3 48 4-59 3 58 4-61 3 64 4-49 3 49 4-47 3 46 4-51 3 53 4-35 3 33 4-55 3 55 4-37 3 39 4-31 3 29 4-33 3 35 4-31 3 32 4-28 3 28 4-26 3 26 4-25 3 26 4-24 3 24 4-23 3 23 4-22 3 21 4-19 3 19 4-23 3 25 4-27 3 26 4-15 3 16 4-16 3 16 4-15 3 15 4-9 3 11 3 1 20 2 20 2 20 1 20 3 21 2 20 2 20 2 20 2 20 2 20 2 20 2 20 2 20 1 20 1 21 2 20 1 20 2 20 1 20 1 20 1 20 2 20 1 20 1 20 1 21 1 20 1 20 2 20 1 20 1 20 1 20 2 20 1 20 1 20 1 21 2 20 1 20 1 20 1 20 2 20 1 20 1 20 1 20 1 11 1M695 2734l2 -201 2 201M758 2745l2 -384 2 384M2343 2925l2 -35 2 35M2508 2937l2 -37 2 37M2844 2960l4 -115 4 115M2918 2973l2 -113 2 113M3026 2983l2 -169 2 169M3078 2987l2 -237 2 237M3378 3009l2 -329 2 329M3478 3016l2 -126 2 126M3618 3020l2 -323 2 323M3778 3019l2 -309 2 309M3805 2886l5 -176 5 176M3848 2866l8 -278 8 278M3890 2847l10 -369 10 369M3940 2825l10 -495 10 495M4010 2795l9 -317 9 317M4110 2756l4 -106 4 106M4166 2740l4 -60 4 60M4196 2680l4 17 4 -17M4256 2585l4 -91 4 91M4406 2412l4 -145 4 145M4470 2673l10 -367 10 367M4729 2707l8 -252 8 252M4855 2700l9 -300 9 300M5375 2677l10 -332 10 332M5247 2737l9 -307 9 307M5342 2694l8 -278 8 278M5449 2620l7 -228 7 228M5496 2620l7 -220 7 220M5596 2697l7 -242 7 242M5875 2620l5 -158 5 158M5905 2633l5 -173 5 173M6029 2750l5 -162 5 162M6089 2750l8 -256 8 256" fill="none" stroke="#000" stroke-width="16" stroke-linejoin="round"/><path transform="scale(.1)" d="M447 2673l20 6 20 6 20 6 20 5 21 5 20 5 20 5 20 5 20 4 20 5 20 4 20 4 20 3 20 4 21 3 20 3 20 3 20 3 20 3 20 4 20 3 20 3 20 3 20 3 21 3 20 3 20 3 20 3 20 3 20 2 20 3 20 3 20 3 20 2 21 3 20 3 20 2 20 3 20 3 20 2 20 3 20 2 20 2 20 3 21 2 20 3 20 2 20 2 20 3 20 2 20 2 20 2 20 3 20 2 21 2 20 2 20 3 20 2 20 2 20 2 20 3 20 2 20 2 20 3 21 2 20 2 20 2 20 3 20 2 20 2 20 3 20 2 20 2 21 2 20 2 20 2 20 2 20 2 20 2 5 0 4-4 3 9 4-16 3 18 4-17 3 17 4-17 3 17 4-16 3 18 4-19 3 19 4-21 3 22 4-33 3 33 4-18 3 19 4-18 3 18 4-21 3 23 4-25 3 25 4-30 3 31 4-38 3 39 4-24 3 24 4-19 3 19 4-19 3 19 4-20 3 21 4-19 3 21 4-28 3 28 4-38 3 40 4-34 3 34 4-28 3 28 4-28 3 28 4-20 3 22 5-9 20 2 20 1 20 1 20 2 21 1 20 2 20 1 20 1 20 2 20 1 20 2 20 1 20 2 20 2 21 1 20 2 20 2 20 1 20 2 20 2 20 1 20 2 20 2 20 2 21 1 20 2 20 2 15 16 4-31 3 35 4-98 3 99 4-43 3 41 4-35 3 35 4-31 3 33 4-27 3 27 4-29 3 28 4-25 3 26 4-26 3 26 4-41 3 40 4-79 3 79 4-69 3 68 4-51 3 51 4-105 3 107 4-62 3 61 4-79 3 79 4-45 3 46 4-9 3 9 4-10 3 10 4-9 3 10 4-10 3 10 4-8 3 9 4-8 3 8 4-8 3 9 4-8 3 8 4-8 3 9 4-9 3 10 4-10 3 10 4-34 3 37 4-44 3 46 4-44 3 43 4-43 3 42 4-46 3 49 4-46 3 43 4-44 3 48 4-47 3 48 4-74 3 72 4-45 3 44 4-72 3 73 4-56 3 56 4-54 3 54 4-103 3 103 4-59 3 63 4-61 3 61 4-57 3 61 4-62 3 60 4-60 3 65 4-67 3 64 4-66 3 70 4-64 3 63 4-73 3 73 4-77 3 77 4-81 3 84 4-102 3 100 4-134 3 138 4-98 3 99 4-122 3 121 4-89 3 89 4-89 3 93 4-117 3 114 4-123 3 123 4-84 3 84 4-68 3 73 4-86 3 89 4-138 3 134 4-72 3 72 4-72 3 77 4-79 3 80 4-90 3 90 4-141 3 147 4-163 3 179 4-175 3 167 4-202 3 197 4-137 3 144 4-144 3 144 4-144 3 149 4-155 3 143 4-141 3 154 4-162 3 159 4-147 3 139 4-139 3 145 4-152 3 157 4-153 3 142 4-142 3 150 4-148 3 141 4-155 3 154 4-166 3 174 4-246 3 242 4-268 3 266 4-185 3 193 4-150 3 139 4-138 3 138 4-161 3 166 4-221 3 226 4-233 3 232 4-270 3 272 4-155 3 152 4-124 3 123 4-51 3 55 4-56 3 54 4-54 3 55 4-70 3 73 4-105 3 102 4-79 3 80 4-133 3 135 4-108 3 106 4-63 3 66 4-95 3 96 4-58 3 56 4-58 3 58 4-107 3 106 4-149 3 151 4-99 3 98 4-78 3 82 4-62 3 61 4-110 3 112 4-149 3 146 4-68 3 70 4-70 3 73 4-62 3 59 4-58 3 61 4-61 3 60 4-73 3 79 4-143 3 158 4-176 3 167 4-162 3 161 4-242 3 255 4-203 3 200 4-171 3 172 4-165 3 166 4-187 3 183 4-209 3 204 4-235 3 247 4-266 3 266 4-264 3 254 4-190 3 190 4-187 3 185 4-254 3 268 4-241 3 230 4-278 3 283 4-253 3 247 4-227 3 237 4-190 3 184 4-187 3 185 4-181 3 192 4-195 3 183 4-186 3 198 4-244 3 241 4-206 3 205 4-231 3 239 4-284 3 279 4-284 3 295 4-275 3 262 4-263 3 274 4-325 3 309 4-334 3 347 4-317 3 318 4-299 3 290 4-329 3 348 4-286 3 264 4-286 3 290 4-277 3 287 4-280 3 272 4-273 3 286 4-341 3 347 4-479 3 463 4-364 3 371 4-527 3 539 4-364 3 358 4-358 3 357 4-307 3 322 4-331 3 345 4-331 3 318 4-318 3 332 4-332 3 315 4-346 3 336 4-305 3 313 4-312 3 318 4-318 3 306 4-306 3 329 4-329 3 326 4-334 3 320 4-363 3 360 4-364 3 366 4-364 3 363 4-406 3 434 4-432 3 405 4-362 3 362 4-367 3 385 4-436 3 438 4-401 3 380 4-385 3 387 4-452 3 463 4-416 3 413 4-444 3 446 4-392 3 377 4-393 3 375 4-391 3 404 4-385 3 379 4-379 3 357 4-317 3 311 4-370 3 372 4-422 3 423 4-382 3 351 4-328 3 335 4-456 3 449 4-405 3 373 4-331 3 332 4-345 3 342 4-356 3 345 4-359 3 333 4-346 3 332 4-348 3 352 4-362 3 351 4-358 3 335 4-347 3 357 4-367 3 347 4-347 3 345 4-452 3 428 4-420 3 403 4-405 3 411 4-506 3 504 4-374 3 353 4-375 3 365 4-386 3 378 4-321 3 319 4-346 3 350 4-409 3 371 4-405 3 408 4-461 3 475 4-451 3 459 4-425 3 457 4-425 3 416 4-414 3 413 4-413 3 456 4-414 3 387 4-316 3 320 4-296 3 308 4-296 3 299 4-415 3 413 4-218 3 236 4-189 3 185 4-229 3 226 4-168 3 179 4-102 3 104 4-98 3 102 4-111 3 111 4-124 3 126 4-132 3 131 4-86 3 90 4-76 3 76 4-74 3 73 4-70 3 74 4-77 3 78 4-73 3 74 4-70 3 73 4-71 3 74 4-71 3 68 4-111 3 117 4-92 3 91 4-67 3 71 4-78 3 78 4-110 3 109 4-71 3 73 4-69 3 73 4-70 3 71 4-83 3 85 4-78 3 79 4-65 3 68 4-52 3 51 4-48 3 50 4-46 3 50 4-47 3 49 4-46 3 47 4-43 3 44 4-44 3 45 4-39 3 40 4-31 3 28 4-9 2 8 20 0 20 0 20 1 20 0 21 1 20 0 20 1 20 1 20 1 20 1 20 1 20 1 20 1 20 1 21 1 20 0 20 1 20 1 20 1 20 0 20 1 20 0 20 0 20 0 21 0 20 0 20 0 20 0 20 0 20 0 20 0 20 0 20 0 13 0M687 2733l2 -75 2 75M758 2745l2 -384 2 384M764 2746l2 -376 2 376M3970 2744l10 -352 10 352M4361 2438l4 -138 4 138M4401 2390l4 -115 4 115" fill="none" stroke="#f00" stroke-width="16" stroke-linejoin="round"/></g>
<clipPath id="cTL3"><rect x="43.75" y="322.20" width="710.25" height="104.40"/></clipPath>
<g id="dTL3" clip-path="url(#cTL3)"><path transform="scale(.1)" d="M447 3692l20 5 20 5 20 5 20 4 21 5 20 5 20 5 20 5 20 4 20 5 20 5 20 4 20 5 20 5 21 4 20 5 20 5 1 7 4-3 3 16 4-19 3 26 4-27 3 29 4-29 3 33 4-33 3 35 4-32 3 35 4-28 3 31 4-39 3 41 4-58 3 60 4-31 3 33 4-38 3 42 4-38 3 39 4-31 3 36 4-34 3 36 4-34 3 35 4-37 3 41 4-36 3 37 4-35 3 39 4-37 3 40 4-47 3 48 4-59 3 61 4-45 3 51 4-41 3 41 4-39 3 42 4-52 3 29 5-21 20 5 20 4 20 4 20 4 21 5 20 4 20 4 20 4 20 4 20 4 20 4 20 4 20 4 20 4 21 4 20 4 20 3 20 4 20 4 20 4 20 4 20 5 20 4 20 4 21 4 20 4 20 4 20 4 20 4 20 4 20 3 20 3 20 4 20 2 21 3 20 3 20 2 20 3 20 2 20 3 20 2 20 2 20 2 20 2 21 2 20 2 20 2 20 2 20 2 20 2 20 2 20 2 20 2 20 2 21 2 20 2 20 2 20 2 20 2 20 2 20 1 20 2 20 2 20 2 21 2 20 2 20 1 20 2 20 3 20 2 20 2 20 2 20 3 21 3 20 3 20 3 20 4 20 4 20 3 20 4 20 4 20 5 20 4 21 4 20 4 20 4 20 4 20 4 20 4 20 4 20 3 20 3 20 4 21 3 20 4 20 4 20 4 14 1 4-10 3 20 4-27 3 26 4-26 3 28 4-28 3 30 4-29 3 29 4-28 3 30 4-38 3 37 4-77 3 80 4-75 3 76 4-177 3 177 4-143 3 143 4-117 3 119 4-124 3 123 4-199 3 199 4-68 3 70 4-31 3 30 4-30 3 29 4-31 3 33 4-30 3 30 4-30 3 29 4-29 3 29 4-28 3 28 4-31 3 32 4-30 3 31 4-31 3 30 4-31 3 33 4-43 3 42 4-71 3 71 4-33 3 33 4-92 3 92 4-29 3 29 4-38 3 38 4-189 3 190 4-58 3 59 4-30 3 29 4-29 3 30 4-33 3 31 4-51 3 53 4-157 3 157 4-170 3 168 4-34 3 36 4-66 3 67 4-131 3 129 4-105 3 106 4-44 3 43 4-88 3 89 4-90 3 90 4-119 3 119 4-36 3 35 4-96 3 95 4-40 3 40 4-31 3 34 4-37 3 37 4-35 3 34 4-35 3 35 4-34 3 32 4-32 3 35 4-133 3 131 4-82 3 84 4-36 3 35 4-36 3 36 4-36 3 35 4-35 3 36 4-38 3 36 4-35 3 36 4-35 3 35 4-35 3 36 4-146 3 145 4-87 3 86 4-59 3 61 4-38 3 36 4-38 3 41 4-92 3 91 4-53 3 51 4-137 3 139 4-174 3 175 4-63 3 63 4-41 3 41 4-42 3 41 4-74 3 72 4-191 3 193 4-74 3 74 4-181 3 180 4-135 3 138 4-165 3 163 4-62 3 62 4-41 3 41 4-38 3 40 4-40 3 38 4-38 3 41 4-86 3 84 4-102 3 102 4-66 3 67 4-41 3 41 4-40 3 42 4-42 3 42 4-202 3 201 4-191 3 192 4-75 3 73 4-40 3 40 4-40 3 44 4-44 3 42 4-42 3 44 4-44 3 42 4-50 3 51 4-77 3 79 4-45 3 45 4-84 3 83 4-163 3 164 4-109 3 109 4-54 3 55 4-54 3 52 4-45 3 47 4-46 3 46 4-47 3 45 4-45 3 46 4-46 3 48 4-48 3 48 4-52 3 53 4-47 3 45 4-48 3 50 4-47 3 47 4-47 3 48 4-179 3 177 4-106 3 106 4-123 3 124 4-166 3 168 4-123 3 121 4-47 3 48 4-48 3 46 4-48 3 50 4-67 3 66 4-194 3 196 4-142 3 140 4-51 3 54 4-52 3 53 4-85 3 84 4-175 3 176 4-107 3 104 4-48 3 51 4-51 3 51 4-54 3 60 4-64 3 64 4-66 3 70 4-73 3 80 4-83 3 87 4-91 3 91 4-96 3 106 4-109 3 107 4-109 3 119 4-122 3 126 4-175 3 183 4-197 3 194 4-163 3 167 4-153 3 145 4-157 3 161 4-159 3 159 4-174 3 170 4-150 3 152 4-161 3 156 4-163 3 167 4-159 3 163 4-168 3 171 4-166 3 162 4-187 3 187 4-194 3 189 4-161 3 161 4-137 3 139 4-139 3 148 4-149 3 140 4-149 3 152 4-147 3 149 4-148 3 147 4-151 3 156 4-156 3 150 4-145 3 149 4-157 3 146 4-155 3 134 4-166 3 154 4-171 3 151 4-195 3 172 4-209 3 196 4-173 3 159 4-226 3 212 4-202 3 188 4-229 3 212 4-179 3 170 4-144 3 133 4-196 3 176 4-220 3 200 4-168 3 154 4-200 3 181 4-190 3 169 4-171 3 161 4-147 3 128 4-146 3 129 4-149 3 123 4-141 3 126 4-137 3 128 4-129 3 127 4-132 3 121 4-129 3 126 4-138 3 134 4-137 3 131 4-149 3 137 4-170 3 160 4-119 3 121 4-121 3 109 4-114 3 109 4-121 3 123 4-141 3 143 4-206 3 212 4-172 3 186 4-146 3 148 4-132 3 135 4-177 3 191 4-205 3 208 4-157 3 162 4-135 3 146 4-128 3 127 4-122 3 135 4-173 3 169 4-176 3 186 4-146 3 149 4-155 3 158 4-245 3 255 4-196 3 188 4-161 3 167 4-169 3 180 4-240 3 245 4-238 3 231 4-182 3 193 4-242 3 239 4-255 3 254 4-208 3 191 4-198 3 192 4-250 3 261 4-263 3 251 4-215 3 206 4-214 3 209 4-217 3 209 4-256 3 245 4-263 3 252 4-250 3 242 4-345 3 344 4-228 3 223 4-234 3 213 4-233 3 229 4-182 3 166 4-156 3 147 4-136 3 127 4-147 3 146 4-251 3 251 4-241 3 254 4-137 3 157 4-252 3 261 4-216 3 228 4-213 3 217 4-311 3 311 4-176 3 187 4-148 3 159 4-146 3 141 4-144 3 155 4-162 3 175 4-169 3 160 4-221 3 238 4-267 3 259 4-191 3 192 4-221 3 217 4-179 3 180 4-185 3 192 4-202 3 191 4-154 3 177 4-268 3 283 4-158 3 175 4-99 3 119 4-90 3 116 4-145 3 160 4-158 3 175 4-86 3 92 4-83 3 81 4-101 3 100 4-101 3 103 4-90 3 93 4-81 3 84 4-91 3 86 4-79 3 83 4-98 3 95 4-158 3 163 4-125 3 125 4-90 3 86 4-87 3 88 4-81 3 88 4-90 3 88 4-111 3 113 4-129 3 125 4-86 3 86 4-95 3 98 4-90 3 88 4-89 3 91 4-92 3 96 4-97 3 91 4-113 3 118 4-158 3 156 4-151 3 154 4-128 3 126 4-146 3 147 4-102 3 103 4-106 3 106 4-105 3 106 4-111 3 110 4-123 3 122 4-154 3 149 4-134 3 135 4-170 3 178 4-133 3 127 4-127 3 130 4-116 3 112 4-120 3 127 4-118 3 110 4-159 3 165 4-236 3 238 4-229 3 226 4-242 3 234 4-201 3 188 4-223 3 224 4-266 3 254 4-255 3 256 4-225 3 230 4-229 3 218 4-220 3 226 4-248 3 236 4-220 3 230 4-239 3 236 4-235 3 239 4-272 3 260 4-314 3 310 4-335 3 343 4-285 3 284 4-284 3 287 4-402 3 385 4-353 3 354 4-282 3 277 4-257 3 255 4-285 3 303 4-426 3 412 4-360 3 350 4-294 3 296 4-338 3 339 4-330 3 337 4-385 3 388 4-360 3 358 4-301 3 285 4-286 3 277 4-384 3 349 4-357 3 367 4-259 3 260 4-289 3 279 4-267 3 277 4-378 3 372 4-313 3 328 4-322 3 318 4-385 3 388 4-342 3 336 4-299 3 306 4-267 3 270 4-270 3 263 4-263 3 259 4-383 3 390 4-427 3 432 4-378 3 375 4-309 3 316 4-298 3 289 4-265 3 277 4-277 3 276 4-276 3 274 4-399 3 410 4-354 3 370 4-264 3 293 4-223 3 233 4-164 3 155 4-155 3 161 4-137 3 133 4-130 3 132 4-138 3 133 4-157 3 162 4-138 3 133 4-99 3 104 4-95 3 90 4-90 3 91 4-91 3 96 4-122 3 120 4-94 3 95 4-141 3 142 4-165 3 166 4-105 3 104 4-96 3 90 4-98 3 97 4-113 3 113 4-182 3 182 4-118 3 119 4-176 3 175 4-128 3 135 4-194 3 193 4-98 3 95 4-110 3 110 4-192 3 195 4-174 3 175 4-170 3 163 4-106 3 109 4-92 3 94 4-96 3 94 4-163 3 142 4-356 3 337 4-295 3 290 4-250 3 245 4-243 3 235 4-237 3 217 4-233 3 237 4-221 3 211 4-210 3 191 4-204 3 212 4-206 3 199 4-204 3 194 4-195 3 198 4-190 3 199 4-207 3 228 4-201 3 210 4-205 3 209 4-209 3 209 4-208 3 233 4-221 3 226 4-285 3 283 4-400 3 404 4-287 3 294 4-268 3 270 4-342 3 344 4-296 3 293 4-212 3 221 4-243 3 249 4-343 3 335 4-253 3 264 4-177 3 167 4-208 3 210 4-359 3 361 4-191 3 196 4-181 3 183 4-138 3 155 4-187 3 188 4-276 3 273 4-274 3 277 4-161 3 171 4-173 3 179 4-266 3 260 4-327 3 345 4-179 3 181 4-82 3 87 4-85 3 87 4-83 3 83 4-80 3 85 4-83 3 81 4-79 3 80 4-109 3 111 4-93 3 93 4-217 3 213 4-119 3 121 4-94 3 92 4-65 3 69 4-90 3 87 4-193 3 198 4-77 3 74 4-145 3 150 4-63 3 61 4-59 3 61 4-59 3 59 4-56 3 54 4-52 3 52 4-50 3 53 4-51 3 52 4-50 3 48 4-46 3 47 4-91 3 92 4-155 3 154 4-53 3 54 4-48 3 50 4-89 3 87 4-89 3 92 4-101 3 102 4-35 3 35 4-35 3 34 4-30 3 31 4-40 3 41 4-60 3 61 4-28 3 28 4-24 3 23 4-26 3 27 4-18 2 19 21 3 20 4 20 4 20 4 20 5 20 5 20 5 20 4 20 4 21 4 20 3 20 1 20 2 20 0 20 1 20 1 20 0 20 1 20 0 21 0 20 1 20 0 20 0 20 1 20 0 20 1 20 0 20 1 20 1 21 1 20 1 20 1 20 1 20 1 20 1 20 2 20 1 20 2 20 1 21 2 20 2 20 1 20 2 20 2 13 1M601 3825l2 -102 2 102M695 3751l2 -271 2 271M760 3767l2 -333 2 333M2248 4009l2 -29 2 29M2974 4103l6 -215 6 215M3122 4109l8 -261 8 261M3768 4100l10 -502 10 502M3854 4100l10 -447 10 447M4010 4049l10 -489 10 489M4198 3963l10 -349 10 349M4237 3878l10 -506 10 506M4284 3765l10 -479 10 479M4354 3673l10 -333 10 333M4472 3700l8 -273 8 273M4786 3650l8 -262 8 262M4861 3811l9 -314 9 314M5389 3643l8 -271 8 271M5241 3701l7 -235 7 235M5289 3683l6 -203 6 203M5334 3665l6 -199 6 199M5440 3590l7 -242 7 242M5492 3590l6 -190 6 190M5548 3590l5 -160 5 160M5593 3791l7 -224 7 224M5873 3638l7 -219 7 219M6030 3776l8 -264 8 264M6093 3785l7 -249 7 249" fill="none" stroke="#000" stroke-width="16" stroke-linejoin="round"/><path transform="scale(.1)" d="M447 3677l20 4 20 3 20 4 20 4 21 3 20 4 20 4 20 3 20 3 20 4 20 3 20 3 20 3 20 3 21 3 20 3 20 3 20 3 20 3 20 3 20 3 20 3 20 2 20 3 21 3 20 3 20 2 20 3 20 2 20 3 20 2 20 3 20 2 20 3 21 2 20 3 20 2 20 3 20 2 20 2 20 3 20 2 20 2 20 2 21 3 20 2 20 2 20 2 20 2 20 2 20 3 20 2 20 2 20 2 21 2 20 2 20 2 20 3 20 2 20 2 20 2 20 2 20 3 20 2 21 2 20 3 20 2 20 2 20 3 20 2 20 2 20 3 20 2 21 2 20 2 20 2 20 2 20 2 20 2 13 5 4-11 3 24 4-33 3 33 4-32 3 33 4-33 3 35 4-40 3 41 4-43 3 43 4-39 3 39 4-30 3 30 4-36 3 38 4-35 3 36 4-30 3 31 4-50 3 50 4-33 3 33 4-42 3 42 4-71 3 71 4-46 3 47 4-53 3 55 4-50 3 49 4-9 2-7 20 1 20 1 20 1 20 1 21 1 20 2 20 1 20 1 20 1 20 1 20 1 20 1 20 2 20 1 21 2 20 1 20 1 20 2 20 1 20 2 20 2 20 1 20 2 20 1 21 2 20 1 20 2 20 1 20 2 20 1 20 2 3 0 4-37 3 50 4-105 3 104 4-52 3 56 4-84 3 80 4-75 3 75 4-48 3 52 4-70 3 68 4-60 3 59 4-77 3 76 4-37 3 39 4-29 3 30 4-17 3 17 4-16 3 18 4-18 3 17 4-17 3 18 4-18 3 19 4-19 3 20 4-21 3 21 4-21 3 22 4-21 3 21 4-24 3 24 4-26 3 28 4-38 3 38 4-24 3 24 4-23 3 24 4-25 3 26 4-25 3 24 4-40 3 42 4-32 3 33 4-26 3 25 4-26 3 26 4-26 3 26 4-34 3 33 4-68 3 68 4-51 3 52 4-36 3 35 4-44 3 45 4-78 3 77 4-41 3 42 4-17 3 18 4-30 3 32 4-49 3 51 4-42 3 44 4-39 3 39 4-43 3 46 4-47 3 47 4-46 3 46 4-46 3 50 4-80 3 78 4-112 3 117 4-76 3 78 4-98 3 100 4-80 3 76 4-80 3 83 4-117 3 116 4-86 3 87 4-69 3 66 4-72 3 72 4-77 3 79 4-84 3 80 4-62 3 64 4-82 3 86 4-110 3 110 4-74 3 70 4-65 3 65 4-117 3 124 4-111 3 109 4-120 3 129 4-143 3 144 4-186 3 186 4-132 3 132 4-132 3 129 4-130 3 128 4-161 3 168 4-168 3 160 4-126 3 137 4-137 3 126 4-137 3 148 4-137 3 132 4-132 3 126 4-143 3 153 4-136 3 133 4-166 3 163 4-160 3 161 4-177 3 174 4-135 3 136 4-137 3 140 4-133 3 132 4-218 3 220 4-161 3 165 4-180 3 181 4-138 3 133 4-105 3 119 4-67 3 73 4-113 3 109 4-85 3 87 4-65 3 66 4-99 3 99 4-76 3 76 4-97 3 94 4-79 3 79 4-80 3 83 4-111 3 112 4-107 3 104 4-75 3 75 4-59 3 58 4-51 3 51 4-53 3 53 4-52 3 52 4-51 3 52 4-51 3 53 4-69 3 69 4-104 3 105 4-101 3 97 4-87 3 91 4-101 3 101 4-73 3 71 4-97 3 97 4-80 3 81 4-170 3 182 4-165 3 159 4-126 3 128 4-134 3 132 4-130 3 135 4-150 3 148 4-181 3 187 4-135 3 137 4-156 3 144 4-277 3 287 4-161 3 162 4-142 3 136 4-130 3 136 4-136 3 127 4-127 3 135 4-135 3 129 4-138 3 135 4-135 3 140 4-133 3 132 4-141 3 139 4-153 3 150 4-229 3 236 4-235 3 230 4-234 3 236 4-236 3 238 4-225 3 225 4-131 3 141 4-277 3 281 4-334 3 331 4-347 3 333 4-307 3 306 4-483 3 507 4-331 3 332 4-308 3 304 4-323 3 320 4-337 3 323 4-373 3 386 4-535 3 544 4-416 3 391 4-304 3 306 4-321 3 336 4-288 3 288 4-406 3 412 4-491 3 473 4-324 3 340 4-297 3 293 4-285 3 273 4-269 3 287 4-287 3 263 4-263 3 269 4-309 3 306 4-220 3 256 4-260 3 261 4-357 3 360 4-302 3 311 4-260 3 253 4-281 3 274 4-319 3 334 4-267 3 255 4-265 3 271 4-260 3 257 4-331 3 342 4-283 3 267 4-261 3 278 4-222 3 215 4-217 3 213 4-211 3 216 4-233 3 228 4-301 3 299 4-272 3 270 4-207 3 204 4-209 3 225 4-217 3 214 4-214 3 208 4-213 3 223 4-247 3 248 4-221 3 204 4-202 3 211 4-287 3 238 4-314 3 271 4-348 3 337 4-303 3 283 4-240 3 249 4-267 3 250 4-249 3 250 4-284 3 256 4-298 3 305 4-389 3 378 4-322 3 319 4-278 3 267 4-346 3 329 4-386 3 359 4-322 3 326 4-284 3 269 4-283 3 263 4-264 3 258 4-269 3 255 4-251 3 246 4-331 3 334 4-320 3 304 4-232 3 232 4-287 3 275 4-253 3 237 4-325 3 321 4-289 3 309 4-322 3 335 4-267 3 274 4-278 3 270 4-266 3 279 4-306 3 329 4-307 3 303 4-257 3 264 4-247 3 250 4-236 3 256 4-250 3 237 4-202 3 216 4-197 3 192 4-185 3 196 4-167 3 165 4-198 3 201 4-241 3 251 4-206 3 199 4-114 3 118 4-172 3 177 4-167 3 168 4-109 3 110 4-115 3 117 4-84 3 89 4-86 3 87 4-105 3 109 4-135 3 136 4-123 3 122 4-92 3 98 4-83 3 81 4-75 3 79 4-76 3 78 4-75 3 80 4-135 3 133 4-79 3 81 4-73 3 77 4-86 3 88 4-109 3 108 4-81 3 86 4-63 3 61 4-61 3 65 4-58 3 61 4-74 3 73 4-60 3 62 4-50 3 50 4-46 3 48 4-46 3 50 4-44 3 44 4-40 3 40 4-36 3 39 4-22 3 27 4-4 2 8 20 0 20 0 20 0 20 0 21 1 20 0 20 0 20 0 20 1 20 0 20 1 20 0 20 0 20 1 21 0 20 1 20 0 20 1 20 0 20 1 20 0 20 0 20 1 20 0 21 1 20 0 20 1 20 0 20 1 20 0 20 1 20 0 20 1 7 0 4 0 2 0M687 3719l2 -113 2 113M750 3729l2 -349 2 349M757 3730l2 -340 2 340M1664 3839l2 -21 2 21M3960 3716l10 -336 10 336M3942 3716l8 -266 8 266M4304 3512l6 -212 6 212M4358 3512l7 -226 7 226M4409 3512l6 -212 6 212" fill="none" stroke="#f00" stroke-width="16" stroke-linejoin="round"/></g>
<clipPath id="cTL4"><rect x="43.75" y="426.60" width="710.25" height="104.40"/></clipPath>
<g id="dTL4" clip-path="url(#cTL4)"><path transform="scale(.1)" d="M447 4740l20 6 20 7 20 6 20 6 21 6 20 6 20 6 20 6 20 5 20 6 20 6 20 5 20 6 20 5 21 6 20 5 20 6 20 5 20 5 20 6 20 5 20 5 20 5 20 5 21 5 20 4 20 5 20 4 20 4 20 4 20 4 20 4 20 4 20 3 21 4 20 4 20 3 20 4 20 3 20 3 20 4 20 3 20 3 20 3 21 3 20 3 20 3 20 3 20 3 20 3 20 3 20 3 20 3 20 2 21 3 20 2 20 3 20 2 20 3 20 2 20 2 20 3 20 2 20 2 21 3 20 2 20 2 20 2 20 2 20 3 20 2 20 2 20 2 21 3 20 2 20 2 20 3 20 2 20 2 20 2 20 3 20 2 20 2 21 2 20 2 20 2 20 2 20 3 20 2 20 2 20 3 20 2 20 2 21 3 20 3 20 2 20 3 20 3 20 3 20 4 20 3 20 4 20 5 21 4 20 5 20 4 20 5 20 4 20 4 20 4 20 4 20 3 20 3 21 3 20 3 20 3 20 3 20 3 20 3 20 3 20 2 20 2 20 2 21 1 20 1 20 0 20 0 20 0 20 0 20 0 20 0 20 0 20 0 21 0 20 0 20 0 20 0 20 0 20 0 20 0 20 0 20 0 21 0 20 0 20-1 20-1 20-2 20-1 20-2 20-1 20 0 20 0 21 0 20 1 20 0 20 1 20 1 20 0 20 1 20 1 20 1 20 1 21 1 20 1 20 1 20 1 20 1 20 1 20 1 20 1 20 1 20 0 21 1 20 0 20 1 20 0 20 0 20-1 20-3 20-4 20-5 20-6 21-7 20-7 20-8 20-9 14 152 4-392 3 354 4-374 3 309 4-318 3 296 4-308 3 262 4-282 3 251 4-284 3 248 4-238 3 223 4-238 3 222 4-226 3 229 4-238 3 230 4-243 3 223 4-241 3 231 4-228 3 225 4-240 3 209 4-229 3 223 4-258 3 232 4-227 3 212 4-231 3 214 4-242 3 226 4-248 3 243 4-272 3 252 4-245 3 245 4-244 3 259 4-295 3 303 4-327 3 321 4-297 3 305 4-283 3 308 4-315 3 327 4-299 3 313 4-326 3 335 4-345 3 337 4-357 3 360 4-355 3 355 4-328 3 339 4-341 3 336 4-299 3 305 4-352 3 344 4-230 3 234 4-220 3 213 4-249 3 249 4-231 3 238 4-199 3 195 4-247 3 251 4-363 3 361 4-326 3 324 4-262 3 255 4-265 3 264 4-349 3 358 4-275 3 273 4-293 3 285 4-187 3 178 4-178 3 155 4-183 3 176 4-202 3 200 4-213 3 206 4-161 3 152 4-131 3 119 4-123 3 123 4-126 3 135 4-127 3 130 4-130 3 128 4-128 3 137 4-145 3 140 4-135 3 146 4-141 3 142 4-224 3 223 4-227 3 234 4-219 3 217 4-168 3 169 4-232 3 241 4-195 3 196 4-343 3 339 4-293 3 304 4-315 3 315 4-334 3 326 4-175 3 178 4-147 3 153 4-168 3 166 4-188 3 180 4-280 3 283 4-175 3 172 4-165 3 163 4-197 3 192 4-238 3 231 4-153 3 154 4-130 3 133 4-130 3 129 4-131 3 140 4-132 3 131 4-269 3 278 4-210 3 209 4-129 3 130 4-127 3 129 4-164 3 171 4-193 3 211 4-114 3 141 4-131 3 168 4-194 3 224 4-89 3 96 4-116 3 117 4-122 3 125 4-127 3 122 4-170 3 177 4-130 3 129 4-105 3 104 4-139 3 141 4-149 3 149 4-210 3 210 4-146 3 145 4-95 3 94 4-96 3 101 4-124 3 122 4-104 3 107 4-135 3 131 4-127 3 129 4-128 3 136 4-142 3 136 4-116 3 117 4-173 3 172 4-141 3 147 4-136 3 139 4-189 3 193 4-159 3 155 4-146 3 150 4-142 3 144 4-150 3 146 4-147 3 157 4-134 3 134 4-151 3 150 4-137 3 128 4-149 3 148 4-150 3 151 4-133 3 133 4-141 3 142 4-180 3 173 4-223 3 224 4-178 3 175 4-163 3 170 4-185 3 175 4-208 3 209 4-140 3 144 4-155 3 156 4-150 3 143 4-154 3 154 4-210 3 203 4-205 3 216 4-155 3 156 4-158 3 156 4-160 3 148 4-176 3 170 4-165 3 167 4-203 3 198 4-217 3 209 4-190 3 188 4-210 3 206 4-163 3 167 4-177 3 182 4-221 3 220 4-239 3 232 4-221 3 209 4-170 3 172 4-177 3 182 4-272 3 270 4-269 3 264 4-343 3 332 4-262 3 268 4-186 3 192 4-196 3 186 4-190 3 179 4-223 3 231 4-266 3 260 4-228 3 235 4-208 3 194 4-209 3 186 4-237 3 224 4-238 3 233 4-183 3 187 4-199 3 202 4-194 3 181 4-185 3 185 4-220 3 218 4-286 3 290 4-448 3 461 4-341 3 328 4-288 3 291 4-237 3 240 4-188 3 180 4-177 3 188 4-188 3 188 4-244 3 246 4-354 3 356 4-312 3 304 4-399 3 397 4-191 3 242 4-148 3 174 4-168 3 167 4-152 3 151 4-149 3 160 4-154 3 144 4-150 3 157 4-161 3 166 4-217 3 213 4-140 3 141 4-120 3 121 4-121 3 118 4-151 3 153 4-180 3 179 4-138 3 134 4-116 3 123 4-122 3 113 4-119 3 120 4-131 3 136 4-146 3 150 4-156 3 146 4-147 3 150 4-191 3 188 4-162 3 169 4-138 3 141 4-182 3 177 4-177 3 175 4-116 3 119 4-119 3 113 4-113 3 113 4-113 3 120 4-138 3 142 4-153 3 146 4-134 3 127 4-186 3 183 4-251 3 234 4-241 3 231 4-239 3 239 4-235 3 231 4-234 3 221 4-224 3 209 4-234 3 233 4-253 3 249 4-328 3 312 4-310 3 304 4-248 3 246 4-375 3 359 4-217 3 227 4-185 3 191 4-192 3 201 4-289 3 309 4-254 3 253 4-203 3 215 4-375 3 401 4-246 3 248 4-307 3 310 4-304 3 321 4-246 3 251 4-273 3 281 4-253 3 274 4-277 3 269 4-202 3 218 4-162 3 161 4-200 3 197 4-169 3 177 4-144 3 145 4-144 3 144 4-147 3 140 4-185 3 196 4-248 3 241 4-261 3 268 4-183 3 177 4-178 3 189 4-241 3 241 4-266 3 264 4-250 3 254 4-160 3 154 4-220 3 224 4-264 3 267 4-111 3 115 4-71 3 66 4-64 3 66 4-122 3 123 4-202 3 202 4-115 3 115 4-64 3 67 4-61 3 60 4-64 3 67 4-63 3 63 4-59 3 60 4-56 3 58 4-56 3 56 4-59 3 63 4-71 3 71 4-108 3 109 4-134 3 130 4-52 3 54 4-48 3 52 4-50 3 47 4-50 3 53 4-47 3 47 4-45 3 44 4-50 3 52 4-110 3 112 4-67 3 67 4-40 3 41 4-46 3 47 4-48 3 50 4-40 3 40 4-40 3 41 4-102 3 102 4-101 3 102 4-44 3 45 4-61 3 62 4-72 3 72 4-93 3 94 4-46 3 47 4-43 3 42 4-55 3 58 4-41 3 42 4-76 3 75 4-52 3 54 4-22 3 22 4-20 3 21 4-6 2 14 20 2 20 3 20 4 20 3 21 4 20 4 20 3 20 3 20 3 20 2 20 1 20 0 20 0 20 0 21 0 20 0 20 0 20 0 20 0 20 0 20 0 20 0 20 0 20 0 21 0 20 0 20 0 20 0 20 0 20 1 20 1 20 1 20 1 20 2 21 1 20 1 20 2 20 2 20 3 20 3 20 3 20 3 20 3 20 4 1 0M760 4832l2 -467 2 467M862 5006l2 -166 2 166M2940 5169l2 -179 2 179M2978 5170l2 -250 2 250M3112 5170l2 -160 2 160M3206 5170l2 -180 2 180M3308 5170l2 -210 2 210M3456 5162l2 -219 2 219M3518 5162l2 -202 2 202M3620 5165l2 -269 2 269M3776 5173l2 -449 2 449M3808 5175l2 -395 2 395M3948 5180l2 -620 2 620M4018 5179l2 -611 2 611M4104 5161l2 -561 2 561M4302 4667l8 -271 8 271M4403 4560l7 -242 7 242M4472 4700l8 -280 8 280M4723 4720l7 -230 7 230M4854 4776l10 -326 10 326M5190 4865l4 -141 4 141M5248 4830l8 -262 8 262M5296 4803l7 -223 7 223M5354 4771l4 -148 4 148M5395 4743l10 -378 10 378M5448 4709l8 -266 8 266M5496 4709l7 -235 7 235M5598 4856l10 -343 10 343M5883 4682l6 -208 6 208M6033 4880l4 -30 4 30M6090 4900l10 -332 10 332" fill="none" stroke="#000" stroke-width="16" stroke-linejoin="round"/><path transform="scale(.1)" d="M447 4740l20 6 20 7 20 6 20 6 21 6 20 6 20 6 20 6 20 5 20 6 20 6 20 5 20 6 20 5 21 6 20 5 20 6 1 1 4-4 3 31 4-34 3 48 4-48 3 49 4-47 3 45 4-40 3 42 4-42 3 45 4-41 3 42 4-76 3 78 4-61 3 64 4-43 3 44 4-43 3 44 4-41 3 42 4-41 3 42 4-40 3 43 4-43 3 43 4-57 3 61 4-87 3 86 4-49 3 53 4-43 3 44 4-43 3 45 4-57 3 57 4-67 3 69 4-62 3 64 4-83 3 84 4-42 3 43 4-47 3 49 4-52 4 22 20 5 20 4 20 4 20 4 21 4 20 4 20 4 20 3 20 4 20 3 20 4 20 3 20 4 20 3 21 3 20 4 20 3 20 3 20 3 20 3 20 3 20 3 20 3 20 3 21 2 20 3 20 3 20 3 20 2 20 3 20 2 20 3 20 2 20 2 21 3 20 2 20 2 20 2 20 3 20 2 20 2 20 2 20 3 20 2 21 2 20 2 20 3 20 2 20 2 20 3 20 2 20 2 15-6 4-5 3 31 4-41 3 50 4-44 3 47 4-65 3 66 4-79 3 80 4-40 3 38 4-65 3 67 4-38 3 39 4-51 3 51 4-44 3 45 4-38 3 41 4-41 3 40 4-40 3 42 4-42 3 40 4-36 3 38 4-73 3 72 4-93 3 95 4-39 3 40 4-39 3 40 4-36 3 36 4-35 3 36 4-40 3 42 4-37 3 38 4-38 3 39 4-36 3 36 4-35 3 36 4-42 3 42 4-39 3 40 4-37 3 36 4-32 3 35 4-70 3 71 4-98 3 92 4-27 2 8 20 3 20 2 20 2 20 3 21 2 20 3 20 2 20 3 20 3 20 3 20 3 20 3 20 3 20 3 21 3 20 3 20 3 20 3 20 3 20 3 20 2 20 2 20 2 20 2 21 2 20 2 20 2 20 2 20 2 20 1 20 2 20 1 7 8 4-21 3 24 4-83 3 82 4-60 3 59 4-33 3 36 4-134 3 133 4-50 3 49 4-34 3 35 4-34 3 33 4-33 3 32 4-39 3 41 4-53 3 52 4-57 3 59 4-34 3 33 4-37 3 35 4-147 3 150 4-136 3 134 4-62 3 61 4-37 3 39 4-48 3 47 4-126 3 126 4-50 3 50 4-39 3 40 4-110 3 108 4-76 3 76 4-76 3 77 4-91 3 90 4-153 3 155 4-104 3 104 4-153 3 153 4-74 3 74 4-33 3 33 4-33 3 32 4-32 3 33 4-34 3 32 4-33 3 35 4-43 3 43 4-40 3 44 4-39 3 41 4-39 3 38 4-38 3 39 4-39 3 37 4-37 3 39 4-40 3 38 4-37 3 38 4-38 3 38 4-38 3 38 4-77 3 77 4-43 3 43 4-42 3 44 4-73 3 70 4-127 3 128 4-53 3 54 4-39 3 37 4-41 3 49 4-98 3 101 4-111 3 107 4-99 3 96 4-94 3 101 4-109 3 103 4-160 3 167 4-216 3 213 4-135 3 131 4-116 3 118 4-127 3 130 4-105 3 99 4-95 3 104 4-109 3 101 4-95 3 98 4-102 3 104 4-115 3 115 4-151 3 147 4-111 3 113 4-127 3 130 4-231 3 233 4-139 3 132 4-126 3 132 4-114 3 109 4-119 3 120 4-192 3 190 4-111 3 117 4-116 3 119 4-83 3 86 4-57 3 62 4-63 3 64 4-66 3 63 4-92 3 94 4-151 3 151 4-98 3 100 4-68 3 67 4-87 3 91 4-122 3 130 4-124 3 121 4-121 3 121 4-125 3 125 4-121 3 119 4-127 3 132 4-138 3 132 4-117 3 123 4-129 3 122 4-121 3 125 4-125 3 131 4-129 3 122 4-129 3 135 4-138 3 130 4-151 3 157 4-239 3 235 4-200 3 201 4-141 3 142 4-159 3 165 4-149 3 149 4-127 3 117 4-149 3 160 4-149 3 145 4-124 3 121 4-160 3 163 4-142 3 144 4-266 3 293 4-392 3 395 4-370 3 363 4-294 3 300 4-297 3 311 4-362 3 360 4-323 3 322 4-326 3 320 4-304 3 319 4-266 3 265 4-301 3 302 4-401 3 392 4-300 3 303 4-339 3 324 4-375 3 385 4-352 3 364 4-304 3 298 4-318 3 318 4-372 3 379 4-373 3 371 4-302 3 304 4-267 3 251 4-328 3 331 4-401 3 408 4-345 3 355 4-271 3 266 4-303 3 289 4-369 3 355 4-441 3 432 4-369 3 364 4-311 3 281 4-307 3 327 4-316 3 323 4-323 3 323 4-323 3 323 4-506 3 501 4-363 3 345 4-351 3 374 4-367 3 349 4-304 3 323 4-373 3 364 4-410 3 399 4-394 3 411 4-395 3 387 4-376 3 376 4-330 3 340 4-427 3 435 4-361 3 371 4-324 3 320 4-359 3 358 4-416 3 429 4-427 3 421 4-363 3 364 4-342 3 352 4-394 3 389 4-459 3 470 4-333 3 343 4-336 3 338 4-338 3 321 4-346 3 355 4-347 3 347 4-391 3 396 4-426 3 450 4-413 3 417 4-360 3 354 4-354 3 355 4-355 3 351 4-362 3 316 4-334 3 295 4-364 3 320 4-333 3 301 4-284 3 236 4-244 3 212 4-393 3 384 4-291 3 278 4-251 3 240 4-275 3 268 4-367 3 352 4-267 3 262 4-219 3 215 4-240 3 218 4-230 3 203 4-224 3 218 4-229 3 205 4-241 3 236 4-239 3 210 4-249 3 247 4-280 3 262 4-320 3 333 4-296 3 296 4-377 3 374 4-361 3 392 4-323 3 313 4-271 3 284 4-279 3 293 4-295 3 305 4-341 3 353 4-335 3 348 4-304 3 299 4-199 3 200 4-180 3 176 4-183 3 189 4-176 3 167 4-200 3 205 4-204 3 216 4-178 3 171 4-194 3 192 4-235 3 240 4-328 3 334 4-227 3 228 4-245 3 251 4-169 3 164 4-202 3 202 4-250 3 254 4-197 3 204 4-186 3 191 4-202 3 208 4-211 3 205 4-147 3 154 4-172 3 175 4-175 3 184 4-177 3 173 4-169 3 174 4-150 3 143 4-152 3 164 4-145 3 140 4-133 3 140 4-140 3 143 4-142 3 146 4-148 3 151 4-156 3 152 4-146 3 150 4-134 3 139 4-122 3 116 4-108 3 118 4-109 3 112 4-111 3 111 4-133 3 134 4-122 3 119 4-101 3 106 4-93 3 95 4-48 3 45 4 0 20 0 20 0 20 0 20 1 21 0 20 0 20 1 20 0 20 1 20 0 20 1 20 0 20 1 20 0 21 1 20 0 20 1 20 0 20 0 20 1 20 0 20 0 20 0 20 0 21 0 20 0 20 0 20 0 20 0 20 0 20 0 20 0 20 0 13 0M593 4912l2 -156 2 156M687 4880l2 -140 2 140M753 5013l2 -507 2 507M873 4900l4 -113 4 113M2498 5094l2 -44 2 44M2688 5122l2 -32 2 32M3981 4834l9 -314 9 314M4356 4552l4 -140 4 140" fill="none" stroke="#f00" stroke-width="16" stroke-linejoin="round"/></g>
<clipPath id="cTL5"><rect x="43.75" y="531.00" width="710.25" height="104.40"/></clipPath>
<g id="dTL5" clip-path="url(#cTL5)"><path transform="scale(.1)" d="M447 5788l20 7 20 6 20 6 20 7 21 6 20 6 20 6 20 6 20 5 20 6 20 5 20 6 20 5 20 5 21 5 20 5 20 5 20 5 20 4 20 5 20 5 20 4 20 4 20 5 21 4 20 4 20 4 20 4 20 4 20 4 20 4 20 3 20 4 20 4 21 3 20 4 20 3 20 4 20 3 20 4 20 3 20 3 20 4 20 3 21 3 20 3 20 3 20 3 20 3 20 3 20 3 20 3 20 3 20 2 21 3 20 2 20 3 20 3 20 2 20 2 20 3 20 2 20 3 20 2 21 2 20 2 20 3 20 2 20 2 20 3 20 2 20 2 20 2 21 3 20 2 20 2 20 3 20 2 20 2 20 2 20 2 20 3 20 2 21 2 20 2 20 2 20 2 20 2 20 2 20 3 20 2 20 2 20 3 21 2 20 3 20 2 20 3 20 3 20 3 20 3 20 4 20 4 20 4 21 4 20 5 20 4 20 4 20 5 20 4 20 4 20 4 20 4 20 3 21 4 20 4 20 4 20 4 20 4 20 4 20 4 20 3 20 4 20 3 21 2 20 2 20 1 20 1 20 0 20 0 20 0 20-1 20 0 20-1 21-1 20 0 20-1 20-1 20 0 20-1 20-1 20 0 20-1 21 0 20-1 20 0 20-1 20 0 20 0 20-1 20 0 20 0 20 0 21 0 20 0 20 0 20 1 20 0 20 0 20 0 20 1 20 0 20 0 21 1 20 0 20 0 20 1 20 0 20 0 20 1 20 0 20 0 20 0 21 1 20 0 20 0 20 0 20 0 20-1 20-2 20-2 20-4 20-4 21-5 20-6 20-6 20-6 14 116 4-416 3 380 4-394 3 375 4-396 3 354 4-366 3 344 4-341 3 289 4-288 3 270 4-360 3 364 4-341 3 308 4-301 3 292 4-260 3 244 4-288 3 278 4-293 3 284 4-292 3 289 4-291 3 277 4-291 3 271 4-254 3 229 4-248 3 247 4-273 3 261 4-308 3 283 4-308 3 301 4-345 3 324 4-315 3 318 4-290 3 295 4-279 3 275 4-274 3 278 4-286 3 293 4-286 3 307 4-304 3 290 4-289 3 309 4-308 3 312 4-311 3 328 4-326 3 326 4-334 3 320 4-348 3 357 4-337 3 318 4-243 3 252 4-347 3 344 4-254 3 254 4-235 3 238 4-219 3 227 4-272 3 277 4-258 3 251 4-317 3 324 4-310 3 307 4-261 3 263 4-246 3 242 4-238 3 233 4-237 3 237 4-245 3 240 4-244 3 236 4-272 3 279 4-260 3 252 4-259 3 232 4-309 3 302 4-336 3 329 4-253 3 252 4-350 3 346 4-348 3 342 4-254 3 264 4-344 3 347 4-372 3 367 4-272 3 278 4-267 3 284 4-367 3 357 4-356 3 362 4-279 3 293 4-255 3 265 4-267 3 268 4-274 3 268 4-357 3 365 4-382 3 378 4-323 3 347 4-370 3 361 4-436 3 436 4-296 3 318 4-282 3 298 4-300 3 289 4-331 3 321 4-282 3 288 4-354 3 360 4-266 3 263 4-324 3 317 4-367 3 371 4-259 3 252 4-200 3 190 4-194 3 201 4-197 3 200 4-200 3 189 4-212 3 210 4-265 3 270 4-246 3 256 4-236 3 225 4-210 3 222 4-245 3 240 4-226 3 220 4-165 3 184 4-128 3 162 4-93 3 134 4-85 3 92 4-94 3 95 4-91 3 96 4-99 3 99 4-169 3 171 4-163 3 162 4-123 3 127 4-155 3 153 4-127 3 128 4-106 3 99 4-101 3 104 4-114 3 122 4-154 3 145 4-171 3 180 4-131 3 123 4-110 3 116 4-117 3 113 4-113 3 117 4-140 3 135 4-167 3 172 4-135 3 141 4-124 3 122 4-123 3 125 4-146 3 141 4-153 3 154 4-129 3 129 4-131 3 138 4-149 3 143 4-149 3 150 4-164 3 165 4-152 3 157 4-247 3 238 4-167 3 167 4-132 3 128 4-230 3 226 4-209 3 214 4-164 3 164 4-137 3 134 4-145 3 139 4-156 3 154 4-162 3 162 4-153 3 150 4-131 3 131 4-145 3 150 4-141 3 132 4-160 3 161 4-211 3 208 4-134 3 132 4-135 3 139 4-141 3 131 4-234 3 235 4-241 3 222 4-216 3 215 4-256 3 252 4-269 3 267 4-214 3 231 4-226 3 213 4-237 3 245 4-225 3 225 4-231 3 216 4-196 3 194 4-202 3 215 4-208 3 192 4-192 3 187 4-187 3 193 4-194 3 203 4-203 3 192 4-204 3 200 4-201 3 199 4-187 3 191 4-191 3 190 4-191 3 193 4-364 3 354 4-314 3 318 4-341 3 326 4-248 3 220 4-191 3 186 4-185 3 184 4-218 3 229 4-377 3 376 4-192 3 179 4-228 3 234 4-221 3 221 4-192 3 200 4-220 3 225 4-233 3 239 4-200 3 197 4-196 3 195 4-202 3 209 4-212 3 214 4-212 3 214 4-242 3 236 4-395 3 404 4-327 3 323 4-231 3 231 4-270 3 289 4-211 3 227 4-145 3 141 4-135 3 136 4-130 3 127 4-125 3 128 4-120 3 120 4-112 3 117 4-111 3 111 4-108 3 104 4-109 3 113 4-113 3 117 4-144 3 142 4-177 3 174 4-148 3 150 4-128 3 129 4-135 3 133 4-173 3 170 4-103 3 109 4-158 3 153 4-162 3 158 4-118 3 120 4-127 3 128 4-134 3 133 4-129 3 130 4-136 3 137 4-142 3 139 4-122 3 128 4-111 3 112 4-113 3 108 4-106 3 112 4-109 3 100 4-126 3 132 4-153 3 154 4-164 3 150 4-227 3 222 4-229 3 219 4-271 3 265 4-416 3 418 4-313 3 291 4-203 3 205 4-208 3 214 4-216 3 202 4-222 3 223 4-222 3 211 4-205 3 212 4-210 3 200 4-202 3 197 4-268 3 263 4-353 3 361 4-303 3 297 4-224 3 236 4-194 3 208 4-245 3 253 4-416 3 432 4-353 3 362 4-264 3 276 4-221 3 245 4-359 3 370 4-373 3 373 4-248 3 260 4-246 3 249 4-217 3 212 4-175 3 181 4-146 3 147 4-147 3 149 4-149 3 148 4-163 3 156 4-141 3 146 4-151 3 152 4-147 3 147 4-147 3 147 4-213 3 213 4-179 3 184 4-193 3 195 4-159 3 153 4-150 3 157 4-154 3 144 4-168 3 184 4-199 3 206 4-98 3 98 4-66 3 69 4-82 3 79 4-140 3 145 4-144 3 145 4-92 3 88 4-146 3 152 4-119 3 117 4-123 3 124 4-67 3 69 4-77 3 75 4-148 3 148 4-124 3 127 4-90 3 87 4-80 3 84 4-78 3 77 4-51 3 52 4-148 3 151 4-75 3 73 4-71 3 74 4-105 3 106 4-139 3 137 4-105 3 107 4-50 3 51 4-89 3 88 4-70 3 73 4-120 3 120 4-109 3 109 4-92 3 93 4-79 3 79 4-38 3 39 4-31 3 31 4-29 3 30 4-30 3 32 4-29 3 29 4-27 3 28 4-27 3 27 4-24 3 24 4-47 3 49 4-35 3 35 4-30 3 31 4-25 3 25 4-22 3 24 4-41 3 41 4-1 2 15 20 3 20 3 20 5 20 4 21 5 20 4 20 3 20 2 20 1 20 1 20 0 20 0 20 1 20 0 21 0 20 0 20 0 20 0 20 0 20 1 20 0 20 0 20 0 20 0 21 1 20 0 20 0 20 1 20 1 20 1 20 1 20 2 20 1 20 2 21 2 20 2 20 2 20 2 20 2 20 2 20 3 20 2 20 3 20 3 1 0M695 5862l2 -230 2 230M760 5879l2 -419 2 419M2940 6221l2 -136 2 136M2995 6225l2 -250 2 250M3034 6225l2 -179 2 179M3206 6220l2 -160 2 160M3378 6215l2 -279 2 279M3511 6214l2 -124 2 124M3698 6216l2 -266 2 266M3776 6218l2 -532 2 532M3808 6218l2 -378 2 378M3862 6219l2 -419 2 419M3925 6220l2 -596 2 596M4018 6219l2 -634 2 634M4196 5900l4 -136 4 136M4239 5794l8 -272 8 272M4285 5750l9 -314 9 314M4358 5600l6 -187 6 187M4412 5600l8 -250 8 250M4724 5700l6 -186 6 186M4862 5780l8 -266 8 266M5249 5800l7 -247 7 247M5305 5798l5 -168 5 168M5345 5798l5 -182 5 182M5396 5796l9 -313 9 313M5443 5752l9 -316 9 316M5495 5756l8 -273 8 273M5599 5897l9 -305 9 305M5913 5734l7 -244 7 244M6030 5900l7 -245 7 245M6090 5900l10 -340 10 340" fill="none" stroke="#000" stroke-width="16" stroke-linejoin="round"/><path transform="scale(.1)" d="M447 5788l20 7 20 6 20 6 20 7 21 6 20 6 20 6 20 6 20 5 20 6 20 5 20 6 20 5 20 5 21 5 20 5 20 5 1-15 4-7 3 28 4-35 3 43 4-42 3 45 4-50 3 51 4-41 3 44 4-33 3 32 4-32 3 33 4-38 3 41 4-31 3 31 4-30 3 33 4-30 3 32 4-30 3 33 4-39 3 39 4-52 3 52 4-36 3 39 4-35 3 36 4-41 3 42 4-34 3 36 4-34 3 36 4-30 3 31 4-30 3 34 4-36 3 37 4-27 3 29 4-28 3 29 4-27 3 27 4-24 3 27 4-25 4 14 20 4 20 4 20 4 20 4 21 4 20 3 20 4 20 4 20 3 20 4 20 3 20 4 20 3 20 3 21 4 20 3 20 3 20 3 20 4 20 3 20 3 20 3 20 3 20 3 21 2 20 3 20 3 20 3 20 2 20 3 20 2 20 3 20 2 20 3 21 2 20 2 20 3 20 2 20 2 20 3 20 2 20 2 20 2 20 3 21 2 20 2 20 3 20 2 20 2 20 3 20 2 20 2 15 8 4-15 3 25 4-58 3 60 4-62 3 63 4-53 3 54 4-34 3 35 4-43 3 43 4-76 3 76 4-35 3 36 4-34 3 36 4-35 3 34 4-47 3 47 4-33 3 34 4-37 3 38 4-38 3 38 4-34 3 34 4-40 3 40 4-88 3 90 4-47 3 47 4-34 3 32 4-36 3 36 4-35 3 38 4-38 3 38 4-34 3 34 4-39 3 40 4-61 3 60 4-48 3 49 4-33 4 25 20 2 20 2 20 2 20 3 21 2 20 3 20 2 20 3 20 2 20 3 20 3 20 3 20 4 20 3 21 4 20 3 20 4 20 3 20 4 20 3 20 3 20 3 20 3 20 2 21 2 20 2 20 2 20 2 20 2 20 2 20 2 20 1 20 2 20 2 21 1 16 1 4-21 3 29 4-40 3 41 4-38 3 41 4-41 3 37 4-54 3 56 4-97 3 96 4-52 3 52 4-139 3 141 4-42 3 42 4-42 3 43 4-75 3 74 4-160 3 161 4-67 3 66 4-128 3 126 4-69 3 69 4-42 3 43 4-40 3 41 4-70 3 69 4-104 3 106 4-77 3 77 4-128 3 125 4-109 3 109 4-106 3 108 4-55 3 54 4-40 3 39 4-39 3 39 4-83 3 84 4-42 3 42 4-53 3 52 4-120 3 119 4-95 3 97 4-78 3 77 4-44 3 46 4-55 3 53 4-48 3 50 4-42 3 40 4-39 3 40 4-52 3 53 4-93 3 91 4-96 3 96 4-129 3 130 4-60 3 61 4-45 3 43 4-41 3 41 4-46 3 51 4-120 3 133 4-198 3 196 4-127 3 128 4-116 3 112 4-104 3 107 4-107 3 106 4-119 3 120 4-110 3 109 4-130 3 127 4-133 3 139 4-170 3 167 4-131 3 126 4-121 3 129 4-109 3 100 4-100 3 105 4-111 3 115 4-109 3 104 4-124 3 121 4-103 3 107 4-105 3 106 4-106 3 103 4-109 3 114 4-124 3 121 4-126 3 128 4-127 3 124 4-116 3 116 4-154 3 151 4-104 3 109 4-168 3 170 4-194 3 186 4-135 3 146 4-102 3 112 4-115 3 113 4-140 3 145 4-101 3 95 4-75 3 79 4-93 3 89 4-152 3 153 4-103 3 106 4-88 3 89 4-80 3 81 4-105 3 100 4-127 3 132 4-90 3 86 4-77 3 78 4-95 3 97 4-175 3 171 4-195 3 199 4-154 3 151 4-146 3 151 4-126 3 119 4-97 3 103 4-135 3 133 4-187 3 189 4-208 3 221 4-197 3 201 4-193 3 186 4-218 3 220 4-292 3 286 4-182 3 182 4-182 3 192 4-229 3 220 4-231 3 234 4-186 3 178 4-178 3 190 4-198 3 188 4-187 3 188 4-200 3 204 4-261 3 259 4-266 3 271 4-263 3 268 4-193 3 176 4-176 3 184 4-185 3 183 4-187 3 186 4-181 3 186 4-341 3 375 4-407 3 407 4-389 3 368 4-305 3 328 4-328 3 309 4-375 3 382 4-443 3 429 4-393 3 417 4-437 3 418 4-317 3 327 4-317 3 316 4-316 3 318 4-318 3 310 4-322 3 322 4-314 3 332 4-328 3 305 4-305 3 306 4-306 3 306 4-308 3 311 4-347 3 339 4-301 3 306 4-318 3 344 4-343 3 357 4-370 3 379 4-515 3 519 4-581 3 572 4-459 3 437 4-455 3 472 4-450 3 435 4-451 3 472 4-483 3 461 4-353 3 382 4-382 3 363 4-456 3 446 4-460 3 486 4-452 3 445 4-421 3 410 4-378 3 387 4-371 3 360 4-359 3 381 4-409 3 403 4-386 3 369 4-358 3 374 4-404 3 403 4-374 3 372 4-354 3 359 4-351 3 371 4-455 3 453 4-422 3 419 4-449 3 437 4-462 3 477 4-435 3 430 4-420 3 416 4-398 3 390 4-454 3 452 4-431 3 413 4-349 3 318 4-332 3 326 4-407 3 376 4-399 3 368 4-380 3 348 4-368 3 351 4-400 3 371 4-319 3 304 4-261 3 268 4-296 3 265 4-355 3 363 4-365 3 349 4-447 3 419 4-358 3 354 4-252 3 240 4-309 3 305 4-292 3 267 4-251 3 239 4-259 3 242 4-261 3 230 4-290 3 287 4-319 3 306 4-279 3 255 4-294 3 291 4-315 3 342 4-288 3 294 4-284 3 283 4-282 3 291 4-424 3 431 4-358 3 363 4-306 3 305 4-307 3 332 4-323 3 329 4-271 3 261 4-180 3 189 4-186 3 188 4-184 3 176 4-188 3 191 4-263 3 271 4-178 3 175 4-168 3 175 4-171 3 163 4-159 3 163 4-225 3 228 4-292 3 296 4-370 3 362 4-215 3 222 4-195 3 202 4-307 3 309 4-216 3 216 4-159 3 159 4-161 3 171 4-251 3 244 4-141 3 145 4-153 3 158 4-199 3 201 4-150 3 159 4-118 3 118 4-123 3 123 4-135 3 135 4-107 3 112 4-109 3 115 4-98 3 99 4-98 3 100 4-88 3 89 4-91 3 89 4-90 3 93 4-93 3 95 4-103 3 103 4-105 3 108 4-96 3 102 4-82 3 84 4-82 3 81 4-72 3 78 4-80 3 83 4-67 3 65 4-31 3 27 2-1 20 0 20 0 20 0 20 0 21 1 20 0 20 0 20 0 20 1 20 0 20 0 20 1 20 0 20 1 21 0 20 0 20 1 20 0 20 1 20 0 20 1 20 0 20 1 20 0 21 1 20 0 20 1 20 1 20 0 20 1 20 1 20 1 20 1 13 0M687 5860l2 -228 2 228M753 5877l2 -355 2 355M593 5900l2 -50 2 50M873 5882l4 -8 4 8M2498 6135l2 -25 2 25M2638 6159l2 -29 2 29M3980 5874l10 -384 10 384M4073 5874l7 -219 7 219M4103 5881l7 -221 7 221M4363 5592l7 -234 7 234M4403 5592l7 -222 7 222" fill="none" stroke="#f00" stroke-width="16" stroke-linejoin="round"/></g>
<path d="M50.45 113.40v-3.2M50.45 9.00v3.2M63.85 113.40v-3.2M63.85 9.00v3.2M77.25 113.40v-6.5M77.25 9.00v6.5M90.65 113.40v-3.2M90.65 9.00v3.2M104.05 113.40v-3.2M104.05 9.00v3.2M117.46 113.40v-3.2M117.46 9.00v3.2M130.86 113.40v-3.2M130.86 9.00v3.2M144.26 113.40v-6.5M144.26 9.00v6.5M157.66 113.40v-3.2M157.66 9.00v3.2M171.06 113.40v-3.2M171.06 9.00v3.2M184.46 113.40v-3.2M184.46 9.00v3.2M197.86 113.40v-3.2M197.86 9.00v3.2M211.26 113.40v-6.5M211.26 9.00v6.5M224.66 113.40v-3.2M224.66 9.00v3.2M238.06 113.40v-3.2M238.06 9.00v3.2M251.46 113.40v-3.2M251.46 9.00v3.2M264.87 113.40v-3.2M264.87 9.00v3.2M278.27 113.40v-6.5M278.27 9.00v6.5M291.67 113.40v-3.2M291.67 9.00v3.2M305.07 113.40v-3.2M305.07 9.00v3.2M318.47 113.40v-3.2M318.47 9.00v3.2M331.87 113.40v-3.2M331.87 9.00v3.2M345.27 113.40v-6.5M345.27 9.00v6.5M358.67 113.40v-3.2M358.67 9.00v3.2M372.07 113.40v-3.2M372.07 9.00v3.2M385.47 113.40v-3.2M385.47 9.00v3.2M398.88 113.40v-3.2M398.88 9.00v3.2M412.28 113.40v-6.5M412.28 9.00v6.5M425.68 113.40v-3.2M425.68 9.00v3.2M439.08 113.40v-3.2M439.08 9.00v3.2M452.48 113.40v-3.2M452.48 9.00v3.2M465.88 113.40v-3.2M465.88 9.00v3.2M479.28 113.40v-6.5M479.28 9.00v6.5M492.68 113.40v-3.2M492.68 9.00v3.2M506.08 113.40v-3.2M506.08 9.00v3.2M519.48 113.40v-3.2M519.48 9.00v3.2M532.88 113.40v-3.2M532.88 9.00v3.2M546.29 113.40v-6.5M546.29 9.00v6.5M559.69 113.40v-3.2M559.69 9.00v3.2M573.09 113.40v-3.2M573.09 9.00v3.2M586.49 113.40v-3.2M586.49 9.00v3.2M599.89 113.40v-3.2M599.89 9.00v3.2M613.29 113.40v-6.5M613.29 9.00v6.5M626.69 113.40v-3.2M626.69 9.00v3.2M640.09 113.40v-3.2M640.09 9.00v3.2M653.49 113.40v-3.2M653.49 9.00v3.2M666.89 113.40v-3.2M666.89 9.00v3.2M680.29 113.40v-6.5M680.29 9.00v6.5M693.70 113.40v-3.2M693.70 9.00v3.2M707.10 113.40v-3.2M707.10 9.00v3.2M720.50 113.40v-3.2M720.50 9.00v3.2M733.90 113.40v-3.2M733.90 9.00v3.2M747.30 113.40v-6.5M747.30 9.00v6.5M43.75 109.91h2.8M754.00 109.91h-2.8M43.75 106.42h2.8M754.00 106.42h-2.8M43.75 104.37h2.8M754.00 104.37h-2.8M43.75 102.92h2.8M754.00 102.92h-2.8M43.75 98.31h2.8M754.00 98.31h-2.8M43.75 94.82h2.8M754.00 94.82h-2.8M43.75 92.77h2.8M754.00 92.77h-2.8M43.75 91.32h2.8M754.00 91.32h-2.8M43.75 86.71h2.8M754.00 86.71h-2.8M43.75 83.22h2.8M754.00 83.22h-2.8M43.75 81.17h2.8M754.00 81.17h-2.8M43.75 79.72h2.8M754.00 79.72h-2.8M43.75 75.11h2.8M754.00 75.11h-2.8M43.75 71.62h2.8M754.00 71.62h-2.8M43.75 69.57h2.8M754.00 69.57h-2.8M43.75 68.12h2.8M754.00 68.12h-2.8M43.75 63.51h2.8M754.00 63.51h-2.8M43.75 60.02h2.8M754.00 60.02h-2.8M43.75 57.97h2.8M754.00 57.97h-2.8M43.75 56.52h2.8M754.00 56.52h-2.8M43.75 51.91h2.8M754.00 51.91h-2.8M43.75 48.42h2.8M754.00 48.42h-2.8M43.75 46.37h2.8M754.00 46.37h-2.8M43.75 44.92h2.8M754.00 44.92h-2.8M43.75 40.31h2.8M754.00 40.31h-2.8M43.75 36.82h2.8M754.00 36.82h-2.8M43.75 34.77h2.8M754.00 34.77h-2.8M43.75 33.32h2.8M754.00 33.32h-2.8M43.75 28.71h2.8M754.00 28.71h-2.8M43.75 25.22h2.8M754.00 25.22h-2.8M43.75 23.17h2.8M754.00 23.17h-2.8M43.75 21.72h2.8M754.00 21.72h-2.8M43.75 17.11h2.8M754.00 17.11h-2.8M43.75 13.62h2.8M754.00 13.62h-2.8M43.75 11.57h2.8M754.00 11.57h-2.8M43.75 10.12h2.8M754.00 10.12h-2.8M43.75 9.00h5.7M754.00 9.00h-5.7M43.75 43.80h5.7M754.00 43.80h-5.7M43.75 78.60h5.7M754.00 78.60h-5.7M43.75 113.40h5.7M754.00 113.40h-5.7M43.75 9.00h5.7M754.00 9.00h-5.7M50.45 217.80v-3.2M50.45 113.40v3.2M63.85 217.80v-3.2M63.85 113.40v3.2M77.25 217.80v-6.5M77.25 113.40v6.5M90.65 217.80v-3.2M90.65 113.40v3.2M104.05 217.80v-3.2M104.05 113.40v3.2M117.46 217.80v-3.2M117.46 113.40v3.2M130.86 217.80v-3.2M130.86 113.40v3.2M144.26 217.80v-6.5M144.26 113.40v6.5M157.66 217.80v-3.2M157.66 113.40v3.2M171.06 217.80v-3.2M171.06 113.40v3.2M184.46 217.80v-3.2M184.46 113.40v3.2M197.86 217.80v-3.2M197.86 113.40v3.2M211.26 217.80v-6.5M211.26 113.40v6.5M224.66 217.80v-3.2M224.66 113.40v3.2M238.06 217.80v-3.2M238.06 113.40v3.2M251.46 217.80v-3.2M251.46 113.40v3.2M264.87 217.80v-3.2M264.87 113.40v3.2M278.27 217.80v-6.5M278.27 113.40v6.5M291.67 217.80v-3.2M291.67 113.40v3.2M305.07 217.80v-3.2M305.07 113.40v3.2M318.47 217.80v-3.2M318.47 113.40v3.2M331.87 217.80v-3.2M331.87 113.40v3.2M345.27 217.80v-6.5M345.27 113.40v6.5M358.67 217.80v-3.2M358.67 113.40v3.2M372.07 217.80v-3.2M372.07 113.40v3.2M385.47 217.80v-3.2M385.47 113.40v3.2M398.88 217.80v-3.2M398.88 113.40v3.2M412.28 217.80v-6.5M412.28 113.40v6.5M425.68 217.80v-3.2M425.68 113.40v3.2M439.08 217.80v-3.2M439.08 113.40v3.2M452.48 217.80v-3.2M452.48 113.40v3.2M465.88 217.80v-3.2M465.88 113.40v3.2M479.28 217.80v-6.5M479.28 113.40v6.5M492.68 217.80v-3.2M492.68 113.40v3.2M506.08 217.80v-3.2M506.08 113.40v3.2M519.48 217.80v-3.2M519.48 113.40v3.2M532.88 217.80v-3.2M532.88 113.40v3.2M546.29 217.80v-6.5M546.29 113.40v6.5M559.69 217.80v-3.2M559.69 113.40v3.2M573.09 217.80v-3.2M573.09 113.40v3.2M586.49 217.80v-3.2M586.49 113.40v3.2M599.89 217.80v-3.2M599.89 113.40v3.2M613.29 217.80v-6.5M613.29 113.40v6.5M626.69 217.80v-3.2M626.69 113.40v3.2M640.09 217.80v-3.2M640.09 113.40v3.2M653.49 217.80v-3.2M653.49 113.40v3.2M666.89 217.80v-3.2M666.89 113.40v3.2M680.29 217.80v-6.5M680.29 113.40v6.5M693.70 217.80v-3.2M693.70 113.40v3.2M707.10 217.80v-3.2M707.10 113.40v3.2M720.50 217.80v-3.2M720.50 113.40v3.2M733.90 217.80v-3.2M733.90 113.40v3.2M747.30 217.80v-6.5M747.30 113.40v6.5M43.75 214.94h2.8M754.00 214.94h-2.8M43.75 212.09h2.8M754.00 212.09h-2.8M43.75 210.41h2.8M754.00 210.41h-2.8M43.75 209.23h2.8M754.00 209.23h-2.8M43.75 205.45h2.8M754.00 205.45h-2.8M43.75 202.59h2.8M754.00 202.59h-2.8M43.75 200.92h2.8M754.00 200.92h-2.8M43.75 199.74h2.8M754.00 199.74h-2.8M43.75 195.96h2.8M754.00 195.96h-2.8M43.75 193.10h2.8M754.00 193.10h-2.8M43.75 191.43h2.8M754.00 191.43h-2.8M43.75 190.25h2.8M754.00 190.25h-2.8M43.75 186.47h2.8M754.00 186.47h-2.8M43.75 183.61h2.8M754.00 183.61h-2.8M43.75 181.94h2.8M754.00 181.94h-2.8M43.75 180.76h2.8M754.00 180.76h-2.8M43.75 176.98h2.8M754.00 176.98h-2.8M43.75 174.12h2.8M754.00 174.12h-2.8M43.75 172.45h2.8M754.00 172.45h-2.8M43.75 171.27h2.8M754.00 171.27h-2.8M43.75 167.49h2.8M754.00 167.49h-2.8M43.75 164.63h2.8M754.00 164.63h-2.8M43.75 162.96h2.8M754.00 162.96h-2.8M43.75 161.77h2.8M754.00 161.77h-2.8M43.75 158.00h2.8M754.00 158.00h-2.8M43.75 155.14h2.8M754.00 155.14h-2.8M43.75 153.47h2.8M754.00 153.47h-2.8M43.75 152.28h2.8M754.00 152.28h-2.8M43.75 148.51h2.8M754.00 148.51h-2.8M43.75 145.65h2.8M754.00 145.65h-2.8M43.75 143.98h2.8M754.00 143.98h-2.8M43.75 142.79h2.8M754.00 142.79h-2.8M43.75 139.02h2.8M754.00 139.02h-2.8M43.75 136.16h2.8M754.00 136.16h-2.8M43.75 134.49h2.8M754.00 134.49h-2.8M43.75 133.30h2.8M754.00 133.30h-2.8M43.75 129.52h2.8M754.00 129.52h-2.8M43.75 126.67h2.8M754.00 126.67h-2.8M43.75 125.00h2.8M754.00 125.00h-2.8M43.75 123.81h2.8M754.00 123.81h-2.8M43.75 120.03h2.8M754.00 120.03h-2.8M43.75 117.18h2.8M754.00 117.18h-2.8M43.75 115.51h2.8M754.00 115.51h-2.8M43.75 114.32h2.8M754.00 114.32h-2.8M43.75 132.38h5.7M754.00 132.38h-5.7M43.75 160.85h5.7M754.00 160.85h-5.7M43.75 189.33h5.7M754.00 189.33h-5.7M43.75 217.80h5.7M754.00 217.80h-5.7M50.45 322.20v-3.2M50.45 217.80v3.2M63.85 322.20v-3.2M63.85 217.80v3.2M77.25 322.20v-6.5M77.25 217.80v6.5M90.65 322.20v-3.2M90.65 217.80v3.2M104.05 322.20v-3.2M104.05 217.80v3.2M117.46 322.20v-3.2M117.46 217.80v3.2M130.86 322.20v-3.2M130.86 217.80v3.2M144.26 322.20v-6.5M144.26 217.80v6.5M157.66 322.20v-3.2M157.66 217.80v3.2M171.06 322.20v-3.2M171.06 217.80v3.2M184.46 322.20v-3.2M184.46 217.80v3.2M197.86 322.20v-3.2M197.86 217.80v3.2M211.26 322.20v-6.5M211.26 217.80v6.5M224.66 322.20v-3.2M224.66 217.80v3.2M238.06 322.20v-3.2M238.06 217.80v3.2M251.46 322.20v-3.2M251.46 217.80v3.2M264.87 322.20v-3.2M264.87 217.80v3.2M278.27 322.20v-6.5M278.27 217.80v6.5M291.67 322.20v-3.2M291.67 217.80v3.2M305.07 322.20v-3.2M305.07 217.80v3.2M318.47 322.20v-3.2M318.47 217.80v3.2M331.87 322.20v-3.2M331.87 217.80v3.2M345.27 322.20v-6.5M345.27 217.80v6.5M358.67 322.20v-3.2M358.67 217.80v3.2M372.07 322.20v-3.2M372.07 217.80v3.2M385.47 322.20v-3.2M385.47 217.80v3.2M398.88 322.20v-3.2M398.88 217.80v3.2M412.28 322.20v-6.5M412.28 217.80v6.5M425.68 322.20v-3.2M425.68 217.80v3.2M439.08 322.20v-3.2M439.08 217.80v3.2M452.48 322.20v-3.2M452.48 217.80v3.2M465.88 322.20v-3.2M465.88 217.80v3.2M479.28 322.20v-6.5M479.28 217.80v6.5M492.68 322.20v-3.2M492.68 217.80v3.2M506.08 322.20v-3.2M506.08 217.80v3.2M519.48 322.20v-3.2M519.48 217.80v3.2M532.88 322.20v-3.2M532.88 217.80v3.2M546.29 322.20v-6.5M546.29 217.80v6.5M559.69 322.20v-3.2M559.69 217.80v3.2M573.09 322.20v-3.2M573.09 217.80v3.2M586.49 322.20v-3.2M586.49 217.80v3.2M599.89 322.20v-3.2M599.89 217.80v3.2M613.29 322.20v-6.5M613.29 217.80v6.5M626.69 322.20v-3.2M626.69 217.80v3.2M640.09 322.20v-3.2M640.09 217.80v3.2M653.49 322.20v-3.2M653.49 217.80v3.2M666.89 322.20v-3.2M666.89 217.80v3.2M680.29 322.20v-6.5M680.29 217.80v6.5M693.70 322.20v-3.2M693.70 217.80v3.2M707.10 322.20v-3.2M707.10 217.80v3.2M720.50 322.20v-3.2M720.50 217.80v3.2M733.90 322.20v-3.2M733.90 217.80v3.2M747.30 322.20v-6.5M747.30 217.80v6.5M43.75 319.06h2.8M754.00 319.06h-2.8M43.75 315.91h2.8M754.00 315.91h-2.8M43.75 314.08h2.8M754.00 314.08h-2.8M43.75 312.77h2.8M754.00 312.77h-2.8M43.75 308.62h2.8M754.00 308.62h-2.8M43.75 305.47h2.8M754.00 305.47h-2.8M43.75 303.64h2.8M754.00 303.64h-2.8M43.75 302.33h2.8M754.00 302.33h-2.8M43.75 298.18h2.8M754.00 298.18h-2.8M43.75 295.03h2.8M754.00 295.03h-2.8M43.75 293.20h2.8M754.00 293.20h-2.8M43.75 291.89h2.8M754.00 291.89h-2.8M43.75 287.74h2.8M754.00 287.74h-2.8M43.75 284.59h2.8M754.00 284.59h-2.8M43.75 282.76h2.8M754.00 282.76h-2.8M43.75 281.45h2.8M754.00 281.45h-2.8M43.75 277.30h2.8M754.00 277.30h-2.8M43.75 274.15h2.8M754.00 274.15h-2.8M43.75 272.32h2.8M754.00 272.32h-2.8M43.75 271.01h2.8M754.00 271.01h-2.8M43.75 266.86h2.8M754.00 266.86h-2.8M43.75 263.71h2.8M754.00 263.71h-2.8M43.75 261.88h2.8M754.00 261.88h-2.8M43.75 260.57h2.8M754.00 260.57h-2.8M43.75 256.42h2.8M754.00 256.42h-2.8M43.75 253.27h2.8M754.00 253.27h-2.8M43.75 251.44h2.8M754.00 251.44h-2.8M43.75 250.13h2.8M754.00 250.13h-2.8M43.75 245.98h2.8M754.00 245.98h-2.8M43.75 242.83h2.8M754.00 242.83h-2.8M43.75 241.00h2.8M754.00 241.00h-2.8M43.75 239.69h2.8M754.00 239.69h-2.8M43.75 235.54h2.8M754.00 235.54h-2.8M43.75 232.39h2.8M754.00 232.39h-2.8M43.75 230.56h2.8M754.00 230.56h-2.8M43.75 229.25h2.8M754.00 229.25h-2.8M43.75 225.10h2.8M754.00 225.10h-2.8M43.75 221.95h2.8M754.00 221.95h-2.8M43.75 220.12h2.8M754.00 220.12h-2.8M43.75 218.81h2.8M754.00 218.81h-2.8M43.75 238.68h5.7M754.00 238.68h-5.7M43.75 270.00h5.7M754.00 270.00h-5.7M43.75 301.32h5.7M754.00 301.32h-5.7M50.45 426.60v-3.2M50.45 322.20v3.2M63.85 426.60v-3.2M63.85 322.20v3.2M77.25 426.60v-6.5M77.25 322.20v6.5M90.65 426.60v-3.2M90.65 322.20v3.2M104.05 426.60v-3.2M104.05 322.20v3.2M117.46 426.60v-3.2M117.46 322.20v3.2M130.86 426.60v-3.2M130.86 322.20v3.2M144.26 426.60v-6.5M144.26 322.20v6.5M157.66 426.60v-3.2M157.66 322.20v3.2M171.06 426.60v-3.2M171.06 322.20v3.2M184.46 426.60v-3.2M184.46 322.20v3.2M197.86 426.60v-3.2M197.86 322.20v3.2M211.26 426.60v-6.5M211.26 322.20v6.5M224.66 426.60v-3.2M224.66 322.20v3.2M238.06 426.60v-3.2M238.06 322.20v3.2M251.46 426.60v-3.2M251.46 322.20v3.2M264.87 426.60v-3.2M264.87 322.20v3.2M278.27 426.60v-6.5M278.27 322.20v6.5M291.67 426.60v-3.2M291.67 322.20v3.2M305.07 426.60v-3.2M305.07 322.20v3.2M318.47 426.60v-3.2M318.47 322.20v3.2M331.87 426.60v-3.2M331.87 322.20v3.2M345.27 426.60v-6.5M345.27 322.20v6.5M358.67 426.60v-3.2M358.67 322.20v3.2M372.07 426.60v-3.2M372.07 322.20v3.2M385.47 426.60v-3.2M385.47 322.20v3.2M398.88 426.60v-3.2M398.88 322.20v3.2M412.28 426.60v-6.5M412.28 322.20v6.5M425.68 426.60v-3.2M425.68 322.20v3.2M439.08 426.60v-3.2M439.08 322.20v3.2M452.48 426.60v-3.2M452.48 322.20v3.2M465.88 426.60v-3.2M465.88 322.20v3.2M479.28 426.60v-6.5M479.28 322.20v6.5M492.68 426.60v-3.2M492.68 322.20v3.2M506.08 426.60v-3.2M506.08 322.20v3.2M519.48 426.60v-3.2M519.48 322.20v3.2M532.88 426.60v-3.2M532.88 322.20v3.2M546.29 426.60v-6.5M546.29 322.20v6.5M559.69 426.60v-3.2M559.69 322.20v3.2M573.09 426.60v-3.2M573.09 322.20v3.2M586.49 426.60v-3.2M586.49 322.20v3.2M599.89 426.60v-3.2M599.89 322.20v3.2M613.29 426.60v-6.5M613.29 322.20v6.5M626.69 426.60v-3.2M626.69 322.20v3.2M640.09 426.60v-3.2M640.09 322.20v3.2M653.49 426.60v-3.2M653.49 322.20v3.2M666.89 426.60v-3.2M666.89 322.20v3.2M680.29 426.60v-6.5M680.29 322.20v6.5M693.70 426.60v-3.2M693.70 322.20v3.2M707.10 426.60v-3.2M707.10 322.20v3.2M720.50 426.60v-3.2M720.50 322.20v3.2M733.90 426.60v-3.2M733.90 322.20v3.2M747.30 426.60v-6.5M747.30 322.20v6.5M43.75 423.74h2.8M754.00 423.74h-2.8M43.75 420.89h2.8M754.00 420.89h-2.8M43.75 419.21h2.8M754.00 419.21h-2.8M43.75 418.03h2.8M754.00 418.03h-2.8M43.75 414.25h2.8M754.00 414.25h-2.8M43.75 411.39h2.8M754.00 411.39h-2.8M43.75 409.72h2.8M754.00 409.72h-2.8M43.75 408.54h2.8M754.00 408.54h-2.8M43.75 404.76h2.8M754.00 404.76h-2.8M43.75 401.90h2.8M754.00 401.90h-2.8M43.75 400.23h2.8M754.00 400.23h-2.8M43.75 399.05h2.8M754.00 399.05h-2.8M43.75 395.27h2.8M754.00 395.27h-2.8M43.75 392.41h2.8M754.00 392.41h-2.8M43.75 390.74h2.8M754.00 390.74h-2.8M43.75 389.56h2.8M754.00 389.56h-2.8M43.75 385.78h2.8M754.00 385.78h-2.8M43.75 382.92h2.8M754.00 382.92h-2.8M43.75 381.25h2.8M754.00 381.25h-2.8M43.75 380.07h2.8M754.00 380.07h-2.8M43.75 376.29h2.8M754.00 376.29h-2.8M43.75 373.43h2.8M754.00 373.43h-2.8M43.75 371.76h2.8M754.00 371.76h-2.8M43.75 370.57h2.8M754.00 370.57h-2.8M43.75 366.80h2.8M754.00 366.80h-2.8M43.75 363.94h2.8M754.00 363.94h-2.8M43.75 362.27h2.8M754.00 362.27h-2.8M43.75 361.08h2.8M754.00 361.08h-2.8M43.75 357.31h2.8M754.00 357.31h-2.8M43.75 354.45h2.8M754.00 354.45h-2.8M43.75 352.78h2.8M754.00 352.78h-2.8M43.75 351.59h2.8M754.00 351.59h-2.8M43.75 347.82h2.8M754.00 347.82h-2.8M43.75 344.96h2.8M754.00 344.96h-2.8M43.75 343.29h2.8M754.00 343.29h-2.8M43.75 342.10h2.8M754.00 342.10h-2.8M43.75 338.32h2.8M754.00 338.32h-2.8M43.75 335.47h2.8M754.00 335.47h-2.8M43.75 333.80h2.8M754.00 333.80h-2.8M43.75 332.61h2.8M754.00 332.61h-2.8M43.75 328.83h2.8M754.00 328.83h-2.8M43.75 325.98h2.8M754.00 325.98h-2.8M43.75 324.31h2.8M754.00 324.31h-2.8M43.75 323.12h2.8M754.00 323.12h-2.8M43.75 341.18h5.7M754.00 341.18h-5.7M43.75 369.65h5.7M754.00 369.65h-5.7M43.75 398.13h5.7M754.00 398.13h-5.7M43.75 426.60h5.7M754.00 426.60h-5.7M50.45 531.00v-3.2M50.45 426.60v3.2M63.85 531.00v-3.2M63.85 426.60v3.2M77.25 531.00v-6.5M77.25 426.60v6.5M90.65 531.00v-3.2M90.65 426.60v3.2M104.05 531.00v-3.2M104.05 426.60v3.2M117.46 531.00v-3.2M117.46 426.60v3.2M130.86 531.00v-3.2M130.86 426.60v3.2M144.26 531.00v-6.5M144.26 426.60v6.5M157.66 531.00v-3.2M157.66 426.60v3.2M171.06 531.00v-3.2M171.06 426.60v3.2M184.46 531.00v-3.2M184.46 426.60v3.2M197.86 531.00v-3.2M197.86 426.60v3.2M211.26 531.00v-6.5M211.26 426.60v6.5M224.66 531.00v-3.2M224.66 426.60v3.2M238.06 531.00v-3.2M238.06 426.60v3.2M251.46 531.00v-3.2M251.46 426.60v3.2M264.87 531.00v-3.2M264.87 426.60v3.2M278.27 531.00v-6.5M278.27 426.60v6.5M291.67 531.00v-3.2M291.67 426.60v3.2M305.07 531.00v-3.2M305.07 426.60v3.2M318.47 531.00v-3.2M318.47 426.60v3.2M331.87 531.00v-3.2M331.87 426.60v3.2M345.27 531.00v-6.5M345.27 426.60v6.5M358.67 531.00v-3.2M358.67 426.60v3.2M372.07 531.00v-3.2M372.07 426.60v3.2M385.47 531.00v-3.2M385.47 426.60v3.2M398.88 531.00v-3.2M398.88 426.60v3.2M412.28 531.00v-6.5M412.28 426.60v6.5M425.68 531.00v-3.2M425.68 426.60v3.2M439.08 531.00v-3.2M439.08 426.60v3.2M452.48 531.00v-3.2M452.48 426.60v3.2M465.88 531.00v-3.2M465.88 426.60v3.2M479.28 531.00v-6.5M479.28 426.60v6.5M492.68 531.00v-3.2M492.68 426.60v3.2M506.08 531.00v-3.2M506.08 426.60v3.2M519.48 531.00v-3.2M519.48 426.60v3.2M532.88 531.00v-3.2M532.88 426.60v3.2M546.29 531.00v-6.5M546.29 426.60v6.5M559.69 531.00v-3.2M559.69 426.60v3.2M573.09 531.00v-3.2M573.09 426.60v3.2M586.49 531.00v-3.2M586.49 426.60v3.2M599.89 531.00v-3.2M599.89 426.60v3.2M613.29 531.00v-6.5M613.29 426.60v6.5M626.69 531.00v-3.2M626.69 426.60v3.2M640.09 531.00v-3.2M640.09 426.60v3.2M653.49 531.00v-3.2M653.49 426.60v3.2M666.89 531.00v-3.2M666.89 426.60v3.2M680.29 531.00v-6.5M680.29 426.60v6.5M693.70 531.00v-3.2M693.70 426.60v3.2M707.10 531.00v-3.2M707.10 426.60v3.2M720.50 531.00v-3.2M720.50 426.60v3.2M733.90 531.00v-3.2M733.90 426.60v3.2M747.30 531.00v-6.5M747.30 426.60v6.5M43.75 528.14h2.8M754.00 528.14h-2.8M43.75 525.29h2.8M754.00 525.29h-2.8M43.75 523.61h2.8M754.00 523.61h-2.8M43.75 522.43h2.8M754.00 522.43h-2.8M43.75 518.65h2.8M754.00 518.65h-2.8M43.75 515.79h2.8M754.00 515.79h-2.8M43.75 514.12h2.8M754.00 514.12h-2.8M43.75 512.94h2.8M754.00 512.94h-2.8M43.75 509.16h2.8M754.00 509.16h-2.8M43.75 506.30h2.8M754.00 506.30h-2.8M43.75 504.63h2.8M754.00 504.63h-2.8M43.75 503.45h2.8M754.00 503.45h-2.8M43.75 499.67h2.8M754.00 499.67h-2.8M43.75 496.81h2.8M754.00 496.81h-2.8M43.75 495.14h2.8M754.00 495.14h-2.8M43.75 493.96h2.8M754.00 493.96h-2.8M43.75 490.18h2.8M754.00 490.18h-2.8M43.75 487.32h2.8M754.00 487.32h-2.8M43.75 485.65h2.8M754.00 485.65h-2.8M43.75 484.47h2.8M754.00 484.47h-2.8M43.75 480.69h2.8M754.00 480.69h-2.8M43.75 477.83h2.8M754.00 477.83h-2.8M43.75 476.16h2.8M754.00 476.16h-2.8M43.75 474.97h2.8M754.00 474.97h-2.8M43.75 471.20h2.8M754.00 471.20h-2.8M43.75 468.34h2.8M754.00 468.34h-2.8M43.75 466.67h2.8M754.00 466.67h-2.8M43.75 465.48h2.8M754.00 465.48h-2.8M43.75 461.71h2.8M754.00 461.71h-2.8M43.75 458.85h2.8M754.00 458.85h-2.8M43.75 457.18h2.8M754.00 457.18h-2.8M43.75 455.99h2.8M754.00 455.99h-2.8M43.75 452.22h2.8M754.00 452.22h-2.8M43.75 449.36h2.8M754.00 449.36h-2.8M43.75 447.69h2.8M754.00 447.69h-2.8M43.75 446.50h2.8M754.00 446.50h-2.8M43.75 442.72h2.8M754.00 442.72h-2.8M43.75 439.87h2.8M754.00 439.87h-2.8M43.75 438.20h2.8M754.00 438.20h-2.8M43.75 437.01h2.8M754.00 437.01h-2.8M43.75 433.23h2.8M754.00 433.23h-2.8M43.75 430.38h2.8M754.00 430.38h-2.8M43.75 428.71h2.8M754.00 428.71h-2.8M43.75 427.52h2.8M754.00 427.52h-2.8M43.75 445.58h5.7M754.00 445.58h-5.7M43.75 474.05h5.7M754.00 474.05h-5.7M43.75 502.53h5.7M754.00 502.53h-5.7M43.75 531.00h5.7M754.00 531.00h-5.7M50.45 635.40v-3.2M50.45 531.00v3.2M63.85 635.40v-3.2M63.85 531.00v3.2M77.25 635.40v-6.5M77.25 531.00v6.5M90.65 635.40v-3.2M90.65 531.00v3.2M104.05 635.40v-3.2M104.05 531.00v3.2M117.46 635.40v-3.2M117.46 531.00v3.2M130.86 635.40v-3.2M130.86 531.00v3.2M144.26 635.40v-6.5M144.26 531.00v6.5M157.66 635.40v-3.2M157.66 531.00v3.2M171.06 635.40v-3.2M171.06 531.00v3.2M184.46 635.40v-3.2M184.46 531.00v3.2M197.86 635.40v-3.2M197.86 531.00v3.2M211.26 635.40v-6.5M211.26 531.00v6.5M224.66 635.40v-3.2M224.66 531.00v3.2M238.06 635.40v-3.2M238.06 531.00v3.2M251.46 635.40v-3.2M251.46 531.00v3.2M264.87 635.40v-3.2M264.87 531.00v3.2M278.27 635.40v-6.5M278.27 531.00v6.5M291.67 635.40v-3.2M291.67 531.00v3.2M305.07 635.40v-3.2M305.07 531.00v3.2M318.47 635.40v-3.2M318.47 531.00v3.2M331.87 635.40v-3.2M331.87 531.00v3.2M345.27 635.40v-6.5M345.27 531.00v6.5M358.67 635.40v-3.2M358.67 531.00v3.2M372.07 635.40v-3.2M372.07 531.00v3.2M385.47 635.40v-3.2M385.47 531.00v3.2M398.88 635.40v-3.2M398.88 531.00v3.2M412.28 635.40v-6.5M412.28 531.00v6.5M425.68 635.40v-3.2M425.68 531.00v3.2M439.08 635.40v-3.2M439.08 531.00v3.2M452.48 635.40v-3.2M452.48 531.00v3.2M465.88 635.40v-3.2M465.88 531.00v3.2M479.28 635.40v-6.5M479.28 531.00v6.5M492.68 635.40v-3.2M492.68 531.00v3.2M506.08 635.40v-3.2M506.08 531.00v3.2M519.48 635.40v-3.2M519.48 531.00v3.2M532.88 635.40v-3.2M532.88 531.00v3.2M546.29 635.40v-6.5M546.29 531.00v6.5M559.69 635.40v-3.2M559.69 531.00v3.2M573.09 635.40v-3.2M573.09 531.00v3.2M586.49 635.40v-3.2M586.49 531.00v3.2M599.89 635.40v-3.2M599.89 531.00v3.2M613.29 635.40v-6.5M613.29 531.00v6.5M626.69 635.40v-3.2M626.69 531.00v3.2M640.09 635.40v-3.2M640.09 531.00v3.2M653.49 635.40v-3.2M653.49 531.00v3.2M666.89 635.40v-3.2M666.89 531.00v3.2M680.29 635.40v-6.5M680.29 531.00v6.5M693.70 635.40v-3.2M693.70 531.00v3.2M707.10 635.40v-3.2M707.10 531.00v3.2M720.50 635.40v-3.2M720.50 531.00v3.2M733.90 635.40v-3.2M733.90 531.00v3.2M747.30 635.40v-6.5M747.30 531.00v6.5M43.75 632.54h2.8M754.00 632.54h-2.8M43.75 629.69h2.8M754.00 629.69h-2.8M43.75 628.01h2.8M754.00 628.01h-2.8M43.75 626.83h2.8M754.00 626.83h-2.8M43.75 623.05h2.8M754.00 623.05h-2.8M43.75 620.19h2.8M754.00 620.19h-2.8M43.75 618.52h2.8M754.00 618.52h-2.8M43.75 617.34h2.8M754.00 617.34h-2.8M43.75 613.56h2.8M754.00 613.56h-2.8M43.75 610.70h2.8M754.00 610.70h-2.8M43.75 609.03h2.8M754.00 609.03h-2.8M43.75 607.85h2.8M754.00 607.85h-2.8M43.75 604.07h2.8M754.00 604.07h-2.8M43.75 601.21h2.8M754.00 601.21h-2.8M43.75 599.54h2.8M754.00 599.54h-2.8M43.75 598.36h2.8M754.00 598.36h-2.8M43.75 594.58h2.8M754.00 594.58h-2.8M43.75 591.72h2.8M754.00 591.72h-2.8M43.75 590.05h2.8M754.00 590.05h-2.8M43.75 588.87h2.8M754.00 588.87h-2.8M43.75 585.09h2.8M754.00 585.09h-2.8M43.75 582.23h2.8M754.00 582.23h-2.8M43.75 580.56h2.8M754.00 580.56h-2.8M43.75 579.37h2.8M754.00 579.37h-2.8M43.75 575.60h2.8M754.00 575.60h-2.8M43.75 572.74h2.8M754.00 572.74h-2.8M43.75 571.07h2.8M754.00 571.07h-2.8M43.75 569.88h2.8M754.00 569.88h-2.8M43.75 566.11h2.8M754.00 566.11h-2.8M43.75 563.25h2.8M754.00 563.25h-2.8M43.75 561.58h2.8M754.00 561.58h-2.8M43.75 560.39h2.8M754.00 560.39h-2.8M43.75 556.62h2.8M754.00 556.62h-2.8M43.75 553.76h2.8M754.00 553.76h-2.8M43.75 552.09h2.8M754.00 552.09h-2.8M43.75 550.90h2.8M754.00 550.90h-2.8M43.75 547.12h2.8M754.00 547.12h-2.8M43.75 544.27h2.8M754.00 544.27h-2.8M43.75 542.60h2.8M754.00 542.60h-2.8M43.75 541.41h2.8M754.00 541.41h-2.8M43.75 537.63h2.8M754.00 537.63h-2.8M43.75 534.78h2.8M754.00 534.78h-2.8M43.75 533.11h2.8M754.00 533.11h-2.8M43.75 531.92h2.8M754.00 531.92h-2.8M43.75 549.98h5.7M754.00 549.98h-5.7M43.75 578.45h5.7M754.00 578.45h-5.7M43.75 606.93h5.7M754.00 606.93h-5.7M43.75 635.40h5.7M754.00 635.40h-5.7" stroke="#000" stroke-width="1.1" fill="none"/>
<path d="M43.75 9.00H754.00V113.40H43.75ZM43.75 113.40H754.00V217.80H43.75ZM43.75 217.80H754.00V322.20H43.75ZM43.75 322.20H754.00V426.60H43.75ZM43.75 426.60H754.00V531.00H43.75ZM43.75 531.00H754.00V635.40H43.75Z" stroke="#000" stroke-width="1.8" fill="none" stroke-linejoin="miter"/>
<text transform="translate(40.15 14.90) scale(0.84 1)" text-anchor="end" font-size="20.5" >4</text>
<text transform="translate(40.15 14.90) scale(0.84 1)" text-anchor="end" font-size="20.5" >4</text>
<text transform="translate(40.15 49.70) scale(0.84 1)" text-anchor="end" font-size="20.5" >1</text>
<text transform="translate(40.15 84.50) scale(0.84 1)" text-anchor="end" font-size="20.5" >-2</text>
<text transform="translate(40.15 119.30) scale(0.84 1)" text-anchor="end" font-size="20.5" >-5</text>
<text transform="translate(40.15 138.28) scale(0.84 1)" text-anchor="end" font-size="20.5" >2</text>
<text transform="translate(40.15 166.75) scale(0.84 1)" text-anchor="end" font-size="20.5" >-1</text>
<text transform="translate(40.15 195.23) scale(0.84 1)" text-anchor="end" font-size="20.5" >-4</text>
<text transform="translate(40.15 223.70) scale(0.84 1)" text-anchor="end" font-size="20.5" >-7</text>
<text transform="translate(40.15 244.58) scale(0.84 1)" text-anchor="end" font-size="20.5" >2</text>
<text transform="translate(40.15 275.90) scale(0.84 1)" text-anchor="end" font-size="20.5" >-1</text>
<text transform="translate(40.15 307.22) scale(0.84 1)" text-anchor="end" font-size="20.5" >-4</text>
<text transform="translate(40.15 347.08) scale(0.84 1)" text-anchor="end" font-size="20.5" >2</text>
<text transform="translate(40.15 375.55) scale(0.84 1)" text-anchor="end" font-size="20.5" >-1</text>
<text transform="translate(40.15 404.03) scale(0.84 1)" text-anchor="end" font-size="20.5" >-4</text>
<text transform="translate(40.15 432.50) scale(0.84 1)" text-anchor="end" font-size="20.5" >-7</text>
<text transform="translate(40.15 451.48) scale(0.84 1)" text-anchor="end" font-size="20.5" >2</text>
<text transform="translate(40.15 479.95) scale(0.84 1)" text-anchor="end" font-size="20.5" >-1</text>
<text transform="translate(40.15 508.43) scale(0.84 1)" text-anchor="end" font-size="20.5" >-4</text>
<text transform="translate(40.15 536.90) scale(0.84 1)" text-anchor="end" font-size="20.5" >-7</text>
<text transform="translate(40.15 555.88) scale(0.84 1)" text-anchor="end" font-size="20.5" >2</text>
<text transform="translate(40.15 584.35) scale(0.84 1)" text-anchor="end" font-size="20.5" >-1</text>
<text transform="translate(40.15 612.83) scale(0.84 1)" text-anchor="end" font-size="20.5" >-4</text>
<text transform="translate(40.15 641.30) scale(0.84 1)" text-anchor="end" font-size="20.5" >-7</text>
<text transform="translate(78.55 657.60) scale(0.84 1)" text-anchor="middle" font-size="20.5" >10</text>
<text transform="translate(145.56 657.60) scale(0.84 1)" text-anchor="middle" font-size="20.5" >20</text>
<text transform="translate(212.56 657.60) scale(0.84 1)" text-anchor="middle" font-size="20.5" >30</text>
<text transform="translate(279.57 657.60) scale(0.84 1)" text-anchor="middle" font-size="20.5" >40</text>
<text transform="translate(346.57 657.60) scale(0.84 1)" text-anchor="middle" font-size="20.5" >50</text>
<text transform="translate(413.58 657.60) scale(0.84 1)" text-anchor="middle" font-size="20.5" >60</text>
<text transform="translate(480.58 657.60) scale(0.84 1)" text-anchor="middle" font-size="20.5" >70</text>
<text transform="translate(547.59 657.60) scale(0.84 1)" text-anchor="middle" font-size="20.5" >80</text>
<text transform="translate(614.59 657.60) scale(0.84 1)" text-anchor="middle" font-size="20.5" >90</text>
<text transform="translate(681.59 657.60) scale(0.84 1)" text-anchor="middle" font-size="20.5" >100</text>
<text transform="translate(748.60 657.60) scale(0.84 1)" text-anchor="middle" font-size="20.5" >110</text>
<rect x="694.00" y="16.00" width="54.00" height="43.75" fill="#fff" stroke="#000" stroke-width="1.6"/>
<path d="M701.25 27.00h17.75" stroke="#000" stroke-width="2"/>
<path d="M701.25 47.00h17.75" stroke="#f00" stroke-width="2"/>
<text transform="translate(746.00 32.00) scale(0.88 1)" text-anchor="end" font-size="14" >23</text>
<text transform="translate(746.00 52.00) scale(0.88 1)" text-anchor="end" font-size="14" >23</text>
<rect x="694.00" y="120.40" width="54.00" height="43.75" fill="#fff" stroke="#000" stroke-width="1.6"/>
<path d="M701.25 131.40h17.75" stroke="#000" stroke-width="2"/>
<path d="M701.25 151.40h17.75" stroke="#f00" stroke-width="2"/>
<text transform="translate(746.00 136.40) scale(0.88 1)" text-anchor="end" font-size="14" >24</text>
<text transform="translate(746.00 156.40) scale(0.88 1)" text-anchor="end" font-size="14" >24</text>
<rect x="694.00" y="224.80" width="54.00" height="43.75" fill="#fff" stroke="#000" stroke-width="1.6"/>
<path d="M701.25 235.80h17.75" stroke="#000" stroke-width="2"/>
<path d="M701.25 255.80h17.75" stroke="#f00" stroke-width="2"/>
<text transform="translate(746.00 240.80) scale(0.88 1)" text-anchor="end" font-size="14" >25</text>
<text transform="translate(746.00 260.80) scale(0.88 1)" text-anchor="end" font-size="14" >25</text>
<rect x="694.00" y="329.20" width="54.00" height="43.75" fill="#fff" stroke="#000" stroke-width="1.6"/>
<path d="M701.25 340.20h17.75" stroke="#000" stroke-width="2"/>
<path d="M701.25 360.20h17.75" stroke="#f00" stroke-width="2"/>
<text transform="translate(746.00 345.20) scale(0.88 1)" text-anchor="end" font-size="14" >26</text>
<text transform="translate(746.00 365.20) scale(0.88 1)" text-anchor="end" font-size="14" >26</text>
<rect x="694.00" y="433.60" width="54.00" height="43.75" fill="#fff" stroke="#000" stroke-width="1.6"/>
<path d="M701.25 444.60h17.75" stroke="#000" stroke-width="2"/>
<path d="M701.25 464.60h17.75" stroke="#f00" stroke-width="2"/>
<text transform="translate(746.00 449.60) scale(0.88 1)" text-anchor="end" font-size="14" >27</text>
<text transform="translate(746.00 469.60) scale(0.88 1)" text-anchor="end" font-size="14" >27</text>
<rect x="694.00" y="538.00" width="54.00" height="43.75" fill="#fff" stroke="#000" stroke-width="1.6"/>
<path d="M701.25 549.00h17.75" stroke="#000" stroke-width="2"/>
<path d="M701.25 569.00h17.75" stroke="#f00" stroke-width="2"/>
<text transform="translate(746.00 554.00) scale(0.88 1)" text-anchor="end" font-size="14" >28</text>
<text transform="translate(746.00 574.00) scale(0.88 1)" text-anchor="end" font-size="14" >28</text>
<text transform="translate(300.60 693.00) scale(0.88 1)" font-size="20"><tspan x="-1">Photon Energy </tspan><tspan font-family="'Liberation Serif', serif">(</tspan><tspan font-family="'Liberation Serif', serif" font-style="italic">Ry</tspan><tspan font-family="'Liberation Serif', serif">)</tspan></text>
<g transform="translate(14.40 392.20) scale(0.88 1) rotate(-90)" font-family="'Liberation Serif', serif"><text x="0" y="0" font-size="20.5" font-style="italic">log</text><text x="26.2" y="6.6" font-size="14">10</text><text x="28.3" y="-9.5" font-size="14" font-style="italic">σ</text><text x="36.6" y="-6.2" font-size="10.5" font-style="italic">PI</text><text x="60" y="0" font-size="20.5">(<tspan font-style="italic">Mb</tspan>)</text></g>
<use href="#dTL0" x="836.2"/>
<clipPath id="cTR1"><rect x="879.95" y="113.40" width="710.25" height="104.40"/></clipPath>
<g id="dTR1" clip-path="url(#cTR1)"><path transform="scale(.1)" d="M8809 1604l20 5 20 5 20 5 20 4 21 5 20 5 20 5 20 5 20 4 20 5 20 5 20 4 20 5 20 5 21 4 20 5 20 5 1 7 4-3 3 16 4-19 3 26 4-27 3 29 4-29 3 33 4-33 3 35 4-32 3 35 4-28 3 31 4-39 3 41 4-58 3 60 4-31 3 33 4-38 3 42 4-38 3 39 4-31 3 36 4-34 3 36 4-34 3 35 4-37 3 41 4-36 3 37 4-35 3 39 4-37 3 40 4-47 3 48 4-59 3 61 4-45 3 51 4-41 3 41 4-39 3 42 4-52 3 29 5-21 20 5 20 4 20 4 20 4 21 5 20 4 20 4 20 4 20 4 20 4 20 4 20 4 20 4 20 4 21 4 20 4 20 3 20 4 20 4 20 4 20 4 20 5 20 4 20 4 21 4 20 4 20 4 20 4 20 4 20 4 20 3 20 3 20 4 20 2 21 3 20 3 20 2 20 3 20 2 20 3 20 2 20 2 20 2 20 2 21 2 20 2 20 2 20 2 20 2 20 2 20 2 20 2 20 2 20 2 21 2 20 2 20 2 20 2 20 2 20 2 20 1 20 2 20 2 20 2 21 2 20 2 20 1 20 2 20 3 20 2 20 2 20 2 20 3 21 3 20 3 20 3 20 4 20 4 20 3 20 4 20 4 20 5 20 4 21 4 20 4 20 4 20 4 20 4 20 4 20 4 20 3 20 3 20 4 21 3 20 4 20 4 20 4 14 1 4-10 3 20 4-27 3 26 4-26 3 28 4-28 3 30 4-29 3 29 4-28 3 30 4-38 3 37 4-77 3 80 4-75 3 76 4-177 3 177 4-143 3 143 4-117 3 119 4-124 3 123 4-199 3 199 4-68 3 70 4-31 3 30 4-30 3 29 4-31 3 33 4-30 3 30 4-30 3 29 4-29 3 29 4-28 3 28 4-31 3 32 4-30 3 31 4-31 3 30 4-31 3 33 4-43 3 42 4-71 3 71 4-33 3 33 4-92 3 92 4-29 3 29 4-38 3 38 4-189 3 190 4-58 3 59 4-30 3 29 4-29 3 30 4-33 3 31 4-51 3 53 4-157 3 157 4-170 3 168 4-34 3 36 4-66 3 67 4-131 3 129 4-105 3 106 4-44 3 43 4-88 3 89 4-90 3 90 4-119 3 119 4-36 3 35 4-96 3 95 4-40 3 40 4-31 3 34 4-37 3 37 4-35 3 34 4-35 3 35 4-34 3 32 4-32 3 35 4-133 3 131 4-82 3 84 4-36 3 35 4-36 3 36 4-36 3 35 4-35 3 36 4-38 3 36 4-35 3 36 4-35 3 35 4-35 3 36 4-146 3 145 4-87 3 86 4-59 3 61 4-38 3 36 4-38 3 41 4-92 3 91 4-53 3 51 4-137 3 139 4-174 3 175 4-63 3 63 4-41 3 41 4-42 3 41 4-74 3 72 4-191 3 193 4-74 3 74 4-181 3 180 4-135 3 138 4-165 3 163 4-62 3 62 4-41 3 41 4-38 3 40 4-40 3 38 4-38 3 41 4-86 3 84 4-102 3 102 4-66 3 67 4-41 3 41 4-40 3 42 4-42 3 42 4-202 3 201 4-191 3 192 4-75 3 73 4-40 3 40 4-40 3 44 4-44 3 42 4-42 3 44 4-44 3 42 4-50 3 51 4-77 3 79 4-45 3 45 4-84 3 83 4-163 3 164 4-109 3 109 4-54 3 55 4-54 3 52 4-45 3 47 4-46 3 46 4-47 3 45 4-45 3 46 4-46 3 48 4-48 3 48 4-52 3 53 4-47 3 45 4-48 3 50 4-47 3 47 4-47 3 48 4-179 3 177 4-106 3 106 4-123 3 124 4-166 3 168 4-123 3 121 4-47 3 48 4-48 3 46 4-48 3 50 4-67 3 66 4-194 3 196 4-142 3 140 4-51 3 54 4-52 3 53 4-85 3 84 4-175 3 176 4-107 3 104 4-48 3 51 4-51 3 51 4-54 3 60 4-64 3 64 4-66 3 70 4-73 3 80 4-83 3 87 4-91 3 91 4-96 3 106 4-109 3 107 4-109 3 119 4-122 3 126 4-175 3 183 4-197 3 194 4-163 3 167 4-153 3 145 4-157 3 161 4-159 3 159 4-174 3 170 4-150 3 152 4-161 3 156 4-163 3 167 4-159 3 163 4-168 3 171 4-166 3 162 4-187 3 187 4-194 3 189 4-161 3 161 4-137 3 139 4-139 3 148 4-149 3 140 4-149 3 152 4-147 3 149 4-148 3 147 4-151 3 156 4-156 3 150 4-145 3 149 4-157 3 146 4-155 3 134 4-166 3 154 4-171 3 151 4-195 3 172 4-209 3 196 4-173 3 159 4-226 3 212 4-202 3 188 4-229 3 212 4-179 3 170 4-144 3 133 4-196 3 176 4-220 3 200 4-168 3 154 4-200 3 181 4-190 3 169 4-171 3 161 4-147 3 128 4-146 3 129 4-149 3 123 4-141 3 126 4-137 3 128 4-129 3 127 4-132 3 121 4-129 3 126 4-138 3 134 4-137 3 131 4-149 3 137 4-170 3 160 4-119 3 121 4-121 3 109 4-114 3 109 4-121 3 123 4-141 3 143 4-206 3 212 4-172 3 186 4-146 3 148 4-132 3 135 4-177 3 191 4-205 3 208 4-157 3 162 4-135 3 146 4-128 3 127 4-122 3 135 4-173 3 169 4-176 3 186 4-146 3 149 4-155 3 158 4-245 3 255 4-196 3 188 4-161 3 167 4-169 3 180 4-240 3 245 4-238 3 231 4-182 3 193 4-242 3 239 4-255 3 254 4-208 3 191 4-198 3 192 4-250 3 261 4-263 3 251 4-215 3 206 4-214 3 209 4-217 3 209 4-256 3 245 4-263 3 252 4-250 3 242 4-345 3 344 4-228 3 223 4-234 3 213 4-233 3 229 4-182 3 166 4-156 3 147 4-136 3 127 4-147 3 146 4-251 3 251 4-241 3 254 4-137 3 157 4-252 3 261 4-216 3 228 4-213 3 217 4-311 3 311 4-176 3 187 4-148 3 159 4-146 3 141 4-144 3 155 4-162 3 175 4-169 3 160 4-221 3 238 4-267 3 259 4-191 3 192 4-221 3 217 4-179 3 180 4-185 3 192 4-202 3 191 4-154 3 177 4-268 3 283 4-158 3 175 4-99 3 119 4-90 3 116 4-145 3 160 4-158 3 175 4-86 3 92 4-83 3 81 4-101 3 100 4-101 3 103 4-90 3 93 4-81 3 84 4-91 3 86 4-79 3 83 4-98 3 95 4-158 3 163 4-125 3 125 4-90 3 86 4-87 3 88 4-81 3 88 4-90 3 88 4-111 3 113 4-129 3 125 4-86 3 86 4-95 3 98 4-90 3 88 4-89 3 91 4-92 3 96 4-97 3 91 4-113 3 118 4-158 3 156 4-151 3 154 4-128 3 126 4-146 3 147 4-102 3 103 4-106 3 106 4-105 3 106 4-111 3 110 4-123 3 122 4-154 3 149 4-134 3 135 4-170 3 178 4-133 3 127 4-127 3 130 4-116 3 112 4-120 3 127 4-118 3 110 4-159 3 165 4-236 3 238 4-229 3 226 4-242 3 234 4-201 3 188 4-223 3 224 4-266 3 254 4-255 3 256 4-225 3 230 4-229 3 218 4-220 3 226 4-248 3 236 4-220 3 230 4-239 3 236 4-235 3 239 4-272 3 260 4-314 3 310 4-335 3 343 4-285 3 284 4-284 3 287 4-402 3 385 4-353 3 354 4-282 3 277 4-257 3 255 4-285 3 303 4-426 3 412 4-360 3 350 4-294 3 296 4-338 3 339 4-330 3 337 4-385 3 388 4-360 3 358 4-301 3 285 4-286 3 277 4-384 3 349 4-357 3 367 4-259 3 260 4-289 3 279 4-267 3 277 4-378 3 372 4-313 3 328 4-322 3 318 4-385 3 388 4-342 3 336 4-299 3 306 4-267 3 270 4-270 3 263 4-263 3 259 4-383 3 390 4-427 3 432 4-378 3 375 4-309 3 316 4-298 3 289 4-265 3 277 4-277 3 276 4-276 3 274 4-399 3 410 4-354 3 370 4-264 3 293 4-223 3 233 4-164 3 155 4-155 3 161 4-137 3 133 4-130 3 132 4-138 3 133 4-157 3 162 4-138 3 133 4-99 3 104 4-95 3 90 4-90 3 91 4-91 3 96 4-122 3 120 4-94 3 95 4-141 3 142 4-165 3 166 4-105 3 104 4-96 3 90 4-98 3 97 4-113 3 113 4-182 3 182 4-118 3 119 4-176 3 175 4-128 3 135 4-194 3 193 4-98 3 95 4-110 3 110 4-192 3 195 4-174 3 175 4-170 3 163 4-106 3 109 4-92 3 94 4-96 3 94 4-163 3 142 4-356 3 337 4-295 3 290 4-250 3 245 4-243 3 235 4-237 3 217 4-233 3 237 4-221 3 211 4-210 3 191 4-204 3 212 4-206 3 199 4-204 3 194 4-195 3 198 4-190 3 199 4-207 3 228 4-201 3 210 4-205 3 209 4-209 3 209 4-208 3 233 4-221 3 226 4-285 3 283 4-400 3 404 4-287 3 294 4-268 3 270 4-342 3 344 4-296 3 293 4-212 3 221 4-243 3 249 4-343 3 335 4-253 3 264 4-177 3 167 4-208 3 210 4-359 3 361 4-191 3 196 4-181 3 183 4-138 3 155 4-187 3 188 4-276 3 273 4-274 3 277 4-161 3 171 4-173 3 179 4-266 3 260 4-327 3 345 4-179 3 181 4-82 3 87 4-85 3 87 4-83 3 83 4-80 3 85 4-83 3 81 4-79 3 80 4-109 3 111 4-93 3 93 4-217 3 213 4-119 3 121 4-94 3 92 4-65 3 69 4-90 3 87 4-193 3 198 4-77 3 74 4-145 3 150 4-63 3 61 4-59 3 61 4-59 3 59 4-56 3 54 4-52 3 52 4-50 3 53 4-51 3 52 4-50 3 48 4-46 3 47 4-91 3 92 4-155 3 154 4-53 3 54 4-48 3 50 4-89 3 87 4-89 3 92 4-101 3 102 4-35 3 35 4-35 3 34 4-30 3 31 4-40 3 41 4-60 3 61 4-28 3 28 4-24 3 23 4-26 3 27 4-18 2 19 21 3 20 4 20 4 20 4 20 5 20 5 20 5 20 4 20 4 21 4 20 3 20 1 20 2 20 0 20 1 20 1 20 0 20 1 20 0 21 0 20 1 20 0 20 0 20 1 20 0 20 1 20 0 20 1 20 1 21 1 20 1 20 1 20 1 20 1 20 1 20 2 20 1 20 2 20 1 21 2 20 2 20 1 20 2 20 2 13 1M8963 1737l2 -102 2 102M9057 1663l2 -271 2 271M9122 1679l2 -333 2 333M10610 1921l2 -29 2 29M11336 2015l6 -215 6 215M11484 2021l8 -261 8 261M12130 2012l10 -502 10 502M12216 2012l10 -447 10 447M12372 1961l10 -489 10 489M12560 1875l10 -349 10 349M12599 1790l10 -506 10 506M12646 1677l10 -479 10 479M12716 1585l10 -333 10 333M12834 1612l8 -273 8 273M13148 1562l8 -262 8 262M13223 1723l9 -314 9 314M13751 1555l8 -271 8 271M13603 1613l7 -235 7 235M13651 1595l6 -203 6 203M13696 1577l6 -199 6 199M13802 1502l7 -242 7 242M13854 1502l6 -190 6 190M13910 1502l5 -160 5 160M13955 1703l7 -224 7 224M14235 1550l7 -219 7 219M14392 1688l8 -264 8 264M14455 1697l7 -249 7 249" fill="none" stroke="#000" stroke-width="16" stroke-linejoin="round"/><path transform="scale(.1)" d="M8809 1600l20 7 20 7 20 6 20 7 21 6 20 7 20 6 20 5 20 6 20 5 20 5 20 5 20 4 20 5 21 4 20 4 20 4 1 7 4-12 3 19 4-32 3 35 4-39 3 39 4-31 3 30 4-23 3 25 4-26 3 27 4-42 3 43 4-26 3 26 4-26 3 28 4-26 3 25 4-26 3 27 4-29 3 30 4-26 3 28 4-26 3 26 4-29 3 29 4-37 3 38 4-32 3 34 4-26 3 27 4-24 3 24 4-27 3 28 4-26 3 27 4-32 3 32 4-25 3 27 4-19 3 20 4-20 3 21 4-21 3 22 4-20 4 16 20 4 20 3 20 4 20 3 21 3 20 4 20 3 20 4 20 3 20 3 20 3 20 4 20 3 20 3 21 3 20 4 20 3 20 3 20 3 20 4 20 3 20 3 20 3 20 4 21 3 20 3 20 4 20 3 20 4 20 3 20 4 20 3 20 4 20 3 21 4 20 4 20 3 20 4 20 3 20 4 20 3 20 4 20 3 20 3 21 4 20 3 20 3 20 4 20 3 20 3 20 3 20 3 15-15 4-7 3 13 4-27 3 30 4-30 3 33 4-35 3 33 4-31 3 33 4-36 3 36 4-35 3 37 4-35 3 36 4-54 3 55 4-38 3 38 4-36 3 40 4-40 3 38 4-37 3 39 4-39 3 41 4-74 3 76 4-118 3 116 4-55 3 59 4-49 3 48 4-35 3 39 4-68 3 68 4-98 3 100 4-31 3 31 4-27 3 29 4-26 3 28 4-68 3 70 4-97 3 98 4-40 4 47 20 3 20 2 20 3 20 3 21 2 20 3 20 3 20 2 20 3 20 3 20 2 20 3 20 2 20 2 21 3 20 2 20 2 20 2 20 3 20 2 20 2 20 1 20 2 20 2 21 2 20 2 20 2 20 1 20 2 20 2 20 1 20 2 15 4 3-4 4 6 3-13 4 16 3-30 4 29 3-34 4 34 3-22 4 22 3-25 4 26 3-19 4 18 3-18 4 18 3-17 4 17 3-17 4 18 3-19 4 19 3-23 4 21 3-33 4 32 3-41 4 42 3-55 4 54 3-49 4 49 3-42 4 46 3-47 4 45 3-49 4 52 3-68 4 65 3-56 4 59 3-59 4 59 3-64 4 65 3-54 4 53 3-46 4 45 3-45 4 46 3-46 4 45 3-45 4 45 3-45 4 47 3-46 4 45 3-53 4 54 3-57 4 58 3-88 4 88 3-59 4 57 3-57 4 58 3-109 4 109 3-62 4 64 3-48 4 50 3-90 4 89 3-114 4 111 3-54 4 55 3-55 4 59 3-56 4 53 3-65 4 66 3-96 4 99 3-60 4 57 3-49 4 50 3-62 4 62 3-86 4 83 3-177 4 178 3-187 4 190 3-120 4 119 3-182 4 182 3-146 4 145 3-117 4 114 3-191 4 191 3-98 4 104 3-129 4 124 3-106 4 109 3-82 4 78 3-83 4 84 3-80 4 81 3-171 4 173 3-84 4 85 3-85 4 86 3-86 4 82 3-91 4 88 3-91 4 91 3-108 4 113 3-164 4 167 3-186 4 186 3-148 4 141 3-116 4 120 3-128 4 123 3-120 4 127 3-132 4 130 3-122 4 118 3-169 4 177 3-147 4 149 3-145 4 140 3-138 4 137 3-128 4 127 3-119 4 128 3 5 4 0 3 0 4 0 3 0 4 0 3 0 4 0 3-116 4 110 3-178 4 179 3-137 4 143 3-139 4 137 3-122 4 118 3-169 4 176 3-202 4 197 3-136 4 137 3-104 4 109 3-122 4 127 3-142 4 142 3-138 4 139 3-109 4 115 3-88 4 93 3-93 4 92 3-92 4 92 3-92 4 95 3-111 4 113 3-114 4 107 3-92 4 96 3-95 4 97 3-104 4 104 3-183 4 178 3-93 4 101 3-106 4 102 3-103 4 104 3-124 4 127 3-192 4 186 3-138 4 144 3-131 4 140 3-201 4 208 3-313 4 305 3-334 4 338 3-212 4 226 3-341 4 334 3-447 4 445 3-322 4 327 3-232 4 234 3-248 4 236 3-241 4 233 3-340 4 359 3-367 4 365 3-282 4 273 3-362 4 348 3-457 4 470 3-467 4 456 3-349 4 352 3-388 4 383 3-395 4 389 3-335 4 341 3-380 4 381 3-369 4 382 3-366 4 351 3-351 4 352 3-304 4 310 3-326 4 330 3-320 4 316 3-315 4 324 3-333 4 309 3-328 4 345 3-490 4 476 3-491 4 519 3-403 4 388 3-380 4 401 3-500 4 479 3-557 4 568 3-377 4 395 3-413 4 412 3-444 4 425 3-429 4 428 3-449 4 476 3-571 4 541 3-391 4 419 3-408 4 412 3-402 4 375 3-437 4 465 3-413 4 403 3-425 4 416 3-400 4 413 3-394 4 399 3-402 4 396 3-433 4 426 3-391 4 398 3-366 4 376 3-433 4 445 3-455 4 429 3-382 4 409 3-353 4 325 3-373 4 392 3-401 4 386 3-371 4 380 3-327 4 324 3-324 4 329 3-363 4 378 3-355 4 346 3-334 4 324 3-407 4 380 3-438 4 393 3-318 4 289 3-332 4 317 3-367 4 358 3-410 4 383 3-343 4 344 3-362 4 344 3-315 4 282 3-341 4 336 3-368 4 353 3-419 4 396 3-393 4 361 3-383 4 350 3-353 4 334 3-311 4 303 3-304 4 322 3-322 4 312 3-313 4 294 3-295 4 282 3-283 4 274 3-275 4 265 3-266 4 281 3-347 4 331 3-334 4 335 3-286 4 287 3-256 4 259 3-236 4 226 3-285 4 303 3-261 4 253 3-261 4 282 3-232 4 239 3-276 4 265 3-307 4 312 3-274 4 289 3-245 4 249 3-221 4 223 3-164 4 163 3-128 4 143 3-146 4 144 3-182 4 195 3-267 4 266 3-248 4 266 3-201 4 195 3-160 4 167 3-161 4 167 3-126 4 131 3-119 4 117 3-171 4 173 3-156 4 160 3-151 4 152 3-99 4 95 3-227 4 228 3-95 4 102 3-123 4 120 3-124 4 128 3-144 4 144 3-181 4 186 3-85 4 80 3-121 4 122 3-183 4 187 3-221 4 224 3-139 4 137 3-78 4 84 3-83 4 83 3-95 4 92 3-112 4 113 3-88 4 94 3-73 4 72 3-71 4 75 3-71 4 72 3-71 4 73 3-69 4 68 3-80 4 79 3-89 4 92 3-86 4 89 3-59 4 60 3-122 4 119 3-89 4 92 3-51 4 50 3-28 3 31 20 0 20 0 20 1 20 0 21 0 20 1 20 0 20 1 20 0 20 1 20 0 20 1 20 0 20 0 21 0 20 1 20 0 20 0 20 0 20 0 20 1 20 0 20 0 20 0 21 0 20 0 20 1 20 0 20 0 20 0 20 0 20 0 20 0 8 0M8955 1694l2 -94 2 94M9049 1672l2 -424 2 424M9112 1685l2 -125 2 125M10620 1934l2 -74 2 74M10850 1964l2 -54 2 54M11000 1980l2 -50 2 50M12257 1700l8 -280 8 280M12338 1647l4 -147 4 147M12647 1412l5 -162 5 162M12675 1412l7 -218 7 218" fill="none" stroke="#f00" stroke-width="16" stroke-linejoin="round"/></g>
<use href="#dTL2" x="836.2"/>
<clipPath id="cTR3"><rect x="879.95" y="322.20" width="710.25" height="104.40"/></clipPath>
<g id="dTR3" clip-path="url(#cTR3)"><path transform="scale(.1)" d="M8809 3721l20 5 20 6 20 5 20 5 21 5 20 5 20 5 20 5 20 4 20 5 20 4 20 4 20 4 20 4 21 4 20 3 20 3 20 3 20 4 20 2 20 3 20 3 20 3 20 2 21 3 20 2 20 2 20 3 20 2 20 2 20 3 20 2 20 2 20 3 21 2 20 3 20 2 20 3 20 2 20 3 20 2 20 3 20 2 20 3 21 2 20 2 20 3 20 2 20 3 20 2 20 3 20 2 20 2 20 3 21 2 20 3 20 2 20 3 20 2 20 2 20 3 20 2 20 2 20 3 21 2 20 3 20 2 20 2 20 3 20 2 20 3 20 2 20 3 21 2 20 3 20 2 20 2 20 3 20 2 13 16 4-6 3 8 4-19 3 21 4-26 3 27 4-27 3 27 4-24 3 25 4-25 3 25 4-25 3 25 4-25 3 24 4-35 3 37 4-49 3 48 4-32 3 33 4-28 3 27 4-27 3 30 4-29 3 28 4-27 3 27 4-27 3 27 4-36 3 36 4-43 3 44 4-17 2 5 20 1 20 1 20 2 20 1 21 1 20 1 20 2 20 1 20 1 20 1 20 2 20 1 20 2 20 1 21 2 20 1 20 2 20 1 20 2 20 2 20 1 20 2 20 2 20 1 21 2 20 2 20 2 20 1 20 2 20 2 11 2 4-14 3 24 4-47 3 47 4-41 3 41 4-62 3 63 4-91 3 91 4-43 3 43 4-36 3 39 4-33 3 33 4-33 3 33 4-32 3 32 4-32 3 32 4-32 3 33 4-48 3 50 4-52 3 55 4-40 3 40 4-36 3 35 4-34 3 36 4-36 3 37 4-38 3 40 4-39 3 41 4-40 3 39 4-45 3 49 4-68 3 67 4-59 3 60 4-41 3 42 4-42 3 41 4-41 3 44 4-44 3 43 4-43 3 45 4-51 3 49 4-62 3 62 4-74 3 75 4-122 3 121 4-73 3 72 4-122 3 123 4-50 3 50 4-86 3 85 4-123 3 122 4-69 3 69 4-41 3 44 4-46 3 43 4-45 3 46 4-43 3 44 4-74 3 76 4-87 3 84 4-43 3 45 4-45 3 42 4-70 3 70 4-122 3 125 4-78 3 75 4-41 3 45 4-47 3 43 4-43 3 43 4-51 3 52 4-64 3 63 4-49 3 50 4-42 3 42 4-72 3 73 4-109 3 107 4-80 3 83 4-51 3 51 4-44 3 43 4-48 3 49 4-48 3 45 4-43 3 45 4-43 3 44 4-44 3 44 4-80 3 78 4-54 3 56 4-65 3 63 4-66 3 65 4-71 3 73 4-73 3 73 4-87 3 84 4-110 3 112 4-127 3 123 4-132 3 138 4-87 3 81 4-68 3 71 4-73 3 71 4-74 3 74 4-71 3 73 4-107 3 109 4-92 3 88 4-90 3 94 4-73 3 71 4-73 3 70 4-68 3 69 4-73 3 75 4-64 3 70 4-41 3 48 4-37 3 40 4-41 3 43 4-49 3 47 4-88 3 90 4-94 3 97 4-54 3 54 4-44 3 46 4-45 3 55 4-54 3 54 4-54 3 55 4-62 3 63 4-69 3 70 4-57 3 55 4-55 3 55 4-55 3 55 4-58 3 63 4-69 3 67 4-62 3 64 4-62 3 61 4-63 3 63 4-63 3 62 4-63 3 62 4-57 3 58 4-58 3 60 4-80 3 81 4-137 3 135 4-127 3 127 4-74 3 77 4-92 3 91 4-150 3 153 4-98 3 94 4-59 3 61 4-89 3 90 4-83 3 87 4-182 3 177 4-71 3 74 4-64 3 65 4-76 3 72 4-111 3 134 4-110 3 132 4-117 3 120 4-121 3 122 4-124 3 116 4-138 3 137 4-154 3 163 4-145 3 145 4-140 3 138 4-129 3 123 4-127 3 135 4-134 3 130 4-135 3 136 4-138 3 144 4-142 3 140 4-201 3 201 4-164 3 158 4-223 3 228 4-231 3 237 4-262 3 250 4-202 3 208 4-190 3 186 4-261 3 267 4-213 3 215 4-163 3 157 4-149 3 148 4-159 3 170 4-172 3 164 4-154 3 153 4-160 3 167 4-162 3 164 4-210 3 205 4-210 3 212 4-191 3 188 4-197 3 198 4-200 3 206 4-203 3 204 4-240 3 235 4-280 3 280 4-197 3 190 4-259 3 257 4-244 3 257 4-190 3 192 4-183 3 174 4-238 3 237 4-269 3 265 4-214 3 220 4-225 3 230 4-320 3 314 4-215 3 213 4-188 3 192 4-194 3 189 4-192 3 199 4-206 3 214 4-305 3 308 4-248 3 232 4-235 3 250 4-261 3 253 4-249 3 258 4-303 3 303 4-298 3 295 4-241 3 240 4-229 3 232 4-344 3 340 4-293 3 300 4-258 3 250 4-307 3 315 4-336 3 334 4-365 3 363 4-320 3 318 4-333 3 342 4-314 3 308 4-309 3 289 4-342 3 326 4-409 3 377 4-348 3 348 4-371 3 353 4-346 3 318 4-323 3 311 4-317 3 322 4-335 3 308 4-331 3 308 4-311 3 310 4-313 3 290 4-301 3 311 4-379 3 356 4-413 3 388 4-368 3 362 4-295 3 294 4-312 3 290 4-296 3 280 4-287 3 271 4-267 3 281 4-271 3 267 4-257 3 281 4-279 3 284 4-273 3 272 4-265 3 268 4-274 3 288 4-255 3 250 4-237 3 243 4-232 3 245 4-235 3 239 4-229 3 219 4-209 3 230 4-220 3 215 4-236 3 252 4-268 3 270 4-207 3 206 4-194 3 203 4-190 3 189 4-185 3 196 4-195 3 176 4-234 3 238 4-225 3 205 4-182 3 175 4-181 3 168 4-176 3 160 4-210 3 200 4-294 3 292 4-311 3 303 4-273 3 260 4-267 3 257 4-252 3 240 4-270 3 273 4-209 3 201 4-170 3 167 4-175 3 164 4-230 3 233 4-267 3 253 4-328 3 328 4-327 3 333 4-220 3 223 4-188 3 182 4-182 3 198 4-235 3 224 4-273 3 282 4-191 3 182 4-178 3 182 4-199 3 208 4-253 3 253 4-233 3 224 4-222 3 237 4-293 3 284 4-256 3 266 4-198 3 205 4-209 3 248 4-208 3 224 4-295 3 286 4-286 3 292 4-195 3 185 4-189 3 190 4-175 3 181 4-166 3 175 4-166 3 162 4-186 3 187 4-226 3 230 4-222 3 225 4-179 3 180 4-157 3 156 4-199 3 197 4-182 3 181 4-160 3 159 4-167 3 170 4-189 3 205 4-264 3 261 4-302 3 303 4-187 3 210 4-132 3 157 4-90 3 113 4-77 3 74 4-71 3 72 4-72 3 73 4-95 3 93 4-98 3 103 4-90 3 90 4-153 3 152 4-132 3 130 4-76 3 81 4-133 3 132 4-141 3 140 4-149 3 152 4-115 3 114 4-95 3 93 4-87 3 90 4-88 3 81 4-80 3 82 4-87 3 88 4-86 3 88 4-92 3 93 4-116 3 108 4-194 3 202 4-122 3 120 4-97 3 97 4-121 3 119 4-147 3 148 4-150 3 148 4-187 3 189 4-176 3 175 4-166 3 163 4-198 3 198 4-142 3 140 4-109 3 108 4-103 3 103 4-127 3 128 4-161 3 157 4-149 3 152 4-157 3 153 4-122 3 122 4-127 3 132 4-131 3 131 4-117 3 116 4-117 3 114 4-114 3 112 4-113 3 115 4-116 3 116 4-142 3 141 4-217 3 223 4-190 3 183 4-158 3 155 4-167 3 164 4-189 3 187 4-199 3 194 4-199 3 200 4-207 3 196 4-199 3 203 4-194 3 180 4-194 3 197 4-186 3 178 4-294 3 298 4-303 3 303 4-387 3 381 4-238 3 233 4-209 3 207 4-183 3 179 4-190 3 179 4-185 3 181 4-337 3 334 4-198 3 201 4-219 3 223 4-212 3 211 4-185 3 178 4-186 3 172 4-190 3 199 4-178 3 173 4-197 3 174 4-207 3 206 4-245 3 239 4-225 3 207 4-207 3 227 4-321 3 307 4-278 3 286 4-262 3 262 4-319 3 310 4-377 3 373 4-401 3 408 4-234 3 238 4-282 3 285 4-319 3 308 4-422 3 434 4-405 3 434 4-305 3 363 4-272 3 263 4-396 3 404 4-411 3 402 4-192 3 192 4-240 3 244 4-222 3 218 4-183 3 191 4-194 3 187 4-224 3 231 4-395 3 400 4-374 3 373 4-314 3 304 4-215 3 231 4-201 3 191 4-181 3 197 4-123 3 134 4-159 3 162 4-143 3 137 4-143 3 149 4-152 3 146 4-132 3 136 4-112 3 115 4-113 3 107 4-109 3 114 4-101 3 100 4-113 3 111 4-94 3 97 4-97 3 90 4-96 3 100 4-109 3 105 4-132 3 136 4-138 3 137 4-109 3 112 4-115 3 114 4-152 3 136 4-278 3 279 4-318 3 309 4-259 3 238 4-220 3 222 4-208 3 194 4-305 3 297 4-375 3 381 4-392 3 372 4-219 3 213 4-187 3 193 4-181 3 175 4-178 3 158 4-152 3 155 4-185 3 177 4-295 3 293 4-219 3 221 4-163 3 175 4-153 3 170 4-191 3 203 4-221 3 224 4-202 3 218 4-219 3 223 4-249 3 263 4-246 3 248 4-196 3 205 4-202 3 216 4-223 3 234 4-286 3 293 4-313 3 328 4-229 3 222 4-152 3 156 4-155 3 151 4-157 3 149 4-200 3 205 4-316 3 314 4-215 3 217 4-206 3 206 4-238 3 227 4-244 3 264 4-296 3 294 4-306 3 305 4-163 3 176 4-170 3 166 4-186 3 193 4-236 3 239 4-256 3 267 4-184 3 184 4-160 3 160 4-148 3 155 4-138 3 134 4-123 3 126 4-117 3 119 4-106 3 101 4-136 3 138 4-171 3 177 4-137 3 139 4-173 3 169 4-160 3 163 4-121 3 117 4-149 3 154 4-121 3 119 4-140 3 141 4-154 3 156 4-108 3 109 4-84 3 84 4-81 3 80 4-78 3 79 4-76 3 73 4-71 3 73 4-70 3 71 4-75 3 76 4-69 3 70 4-77 3 78 4-111 3 109 4-145 3 147 4-75 3 75 4-81 3 79 4-127 3 128 4-90 3 90 4-59 3 62 4-58 3 60 4-49 3 48 4-47 3 47 4-43 3 43 4-40 3 41 4-50 3 50 4-103 3 104 4-91 3 94 4-41 3 40 4-38 3 39 4-57 3 56 4-32 3 33 4-25 3 27 3 4 20 2 20 2 20 2 20 2 21 2 20 2 20 2 20 2 20 1 20 2 20 2 20 2 20 1 20 2 21 1 20 2 20 1 20 2 20 1 20 1 20 2 20 1 20 1 20 2 21 1 20 1 20 1 20 2 20 1 20 1 20 1 20 1 20 1 20 2 21 1 20 1 20 1 20 1 20 1 20 1 20 1 20 1 20 1 16 0M9062 3782l2 -151 2 151M9122 3793l2 -385 2 385M10112 3916l2 -82 2 82M11172 3988l4 -73 4 73M11258 3989l4 -74 4 74M11815 4010l7 -242 7 242M11968 4010l4 -121 4 121M12115 3982l7 -230 7 230M12165 3972l7 -220 7 220M12310 3941l10 -456 10 456M12362 3929l10 -375 10 375M12431 3904l6 -187 6 187M12461 3892l7 -226 7 226M12651 3601l5 -175 5 175M12762 3644l10 -382 10 382M12832 3752l10 -378 10 378M13220 3680l6 -203 6 203M13759 3703l8 -277 8 277M13804 3614l8 -275 8 275M13854 3614l8 -281 8 281M13963 3735l7 -250 7 250M14235 3702l7 -225 7 225M14265 3712l7 -230 7 230M14450 3842l9 -305 9 305" fill="none" stroke="#000" stroke-width="16" stroke-linejoin="round"/><path transform="scale(.1)" d="M8809 3722l20 5 20 4 20 4 20 4 21 4 20 4 20 4 20 3 20 4 20 4 20 3 20 4 20 3 20 4 21 3 20 3 20 4 20 3 20 3 20 3 20 3 20 3 20 3 20 3 21 3 20 3 20 3 20 3 20 3 20 3 20 3 20 2 20 3 20 3 21 2 20 3 20 3 20 2 20 3 20 3 20 2 20 3 20 2 20 3 21 2 20 2 20 3 20 2 20 3 20 2 20 2 20 3 20 2 20 2 21 3 20 2 20 2 20 3 20 2 20 2 20 3 20 2 20 3 20 2 21 3 20 3 20 2 20 3 20 2 20 3 20 2 20 3 20 2 21 3 20 2 20 3 20 2 20 2 20 2 13 5 4-12 3 27 4-37 3 36 4-34 3 36 4-36 3 37 4-43 3 45 4-48 3 48 4-42 3 42 4-33 3 33 4-40 3 43 4-40 3 40 4-33 3 34 4-54 3 54 4-36 3 37 4-46 3 45 4-77 3 78 4-52 3 52 4-58 3 61 4-55 3 54 4-10 2-8 20 1 20 1 20 2 20 1 21 1 20 1 20 1 20 2 20 1 20 1 20 1 20 2 20 1 20 2 21 1 20 2 20 2 20 1 20 2 20 2 20 1 20 2 20 2 20 1 21 2 20 2 20 1 20 2 20 2 20 1 20 2 3 0 4-40 3 55 4-116 3 115 4-57 3 60 4-91 3 88 4-83 3 83 4-54 3 58 4-77 3 75 4-67 3 66 4-85 3 83 4-40 3 43 4-33 3 34 4-19 3 19 4-18 3 19 4-19 3 19 4-19 3 20 4-20 3 21 4-21 3 22 4-23 3 23 4-23 3 24 4-23 3 23 4-26 3 26 4-28 3 30 4-41 3 42 4-27 3 26 4-25 3 27 4-28 3 28 4-26 3 26 4-45 3 46 4-34 3 36 4-29 3 27 4-28 3 29 4-29 3 28 4-37 3 37 4-75 3 74 4-55 3 57 4-39 3 37 4-48 3 49 4-85 3 84 4-45 3 47 4-19 3 20 4-33 3 35 4-54 3 57 4-47 3 48 4-42 3 43 4-47 3 50 4-52 3 52 4-50 3 50 4-51 3 55 4-88 3 86 4-123 3 129 4-84 3 86 4-108 3 110 4-89 3 85 4-89 3 92 4-129 3 128 4-95 3 96 4-76 3 72 4-79 3 80 4-85 3 87 4-93 3 88 4-68 3 70 4-90 3 95 4-122 3 121 4-80 3 76 4-71 3 71 4-128 3 136 4-122 3 119 4-131 3 142 4-158 3 159 4-205 3 205 4-145 3 145 4-145 3 142 4-144 3 141 4-177 3 185 4-185 3 177 4-139 3 150 4-150 3 138 4-150 3 163 4-151 3 145 4-145 3 138 4-157 3 169 4-150 3 146 4-182 3 179 4-177 3 178 4-195 3 191 4-148 3 150 4-151 3 154 4-147 3 146 4-241 3 243 4-177 3 182 4-198 3 198 4-151 3 146 4-115 3 130 4-73 3 80 4-125 3 120 4-93 3 96 4-71 3 72 4-109 3 109 4-84 3 84 4-107 3 103 4-87 3 88 4-88 3 90 4-121 3 123 4-118 3 115 4-83 3 83 4-66 3 64 4-55 3 56 4-59 3 58 4-57 3 58 4-56 3 57 4-57 3 59 4-76 3 76 4-115 3 116 4-111 3 106 4-95 3 100 4-111 3 111 4-80 3 77 4-106 3 107 4-89 3 90 4-187 3 200 4-182 3 175 4-138 3 141 4-148 3 145 4-143 3 149 4-165 3 162 4-198 3 206 4-149 3 150 4-171 3 158 4-305 3 316 4-177 3 178 4-156 3 149 4-142 3 149 4-149 3 140 4-140 3 149 4-149 3 142 4-152 3 149 4-149 3 154 4-146 3 145 4-155 3 153 4-169 3 165 4-252 3 260 4-258 3 253 4-258 3 260 4-260 3 262 4-247 3 247 4-144 3 155 4-304 3 308 4-367 3 364 4-382 3 367 4-337 3 335 4-531 3 558 4-364 3 365 4-338 3 334 4-356 3 352 4-371 3 356 4-411 3 426 4-589 3 598 4-458 3 430 4-334 3 337 4-353 3 370 4-317 3 317 4-447 3 453 4-540 3 521 4-358 3 375 4-327 3 323 4-314 3 301 4-296 3 315 4-315 3 289 4-289 3 295 4-339 3 336 4-242 3 282 4-286 3 286 4-392 3 396 4-333 3 342 4-285 3 278 4-309 3 302 4-352 3 368 4-294 3 280 4-291 3 298 4-285 3 282 4-364 3 376 4-311 3 294 4-288 3 306 4-244 3 237 4-239 3 234 4-232 3 238 4-257 3 251 4-331 3 329 4-300 3 297 4-227 3 224 4-230 3 248 4-239 3 236 4-236 3 229 4-235 3 246 4-272 3 273 4-243 3 225 4-223 3 232 4-316 3 262 4-345 3 298 4-383 3 371 4-333 3 311 4-264 3 273 4-292 3 275 4-275 3 275 4-312 3 281 4-327 3 335 4-428 3 417 4-355 3 351 4-306 3 294 4-381 3 362 4-425 3 395 4-353 3 358 4-312 3 295 4-311 3 290 4-291 3 284 4-296 3 280 4-275 3 269 4-363 3 368 4-353 3 335 4-256 3 255 4-315 3 302 4-278 3 261 4-358 3 353 4-317 3 340 4-355 3 369 4-294 3 301 4-306 3 298 4-293 3 306 4-336 3 362 4-338 3 334 4-283 3 290 4-271 3 274 4-259 3 281 4-274 3 261 4-223 3 237 4-216 3 211 4-203 3 216 4-184 3 181 4-217 3 220 4-265 3 276 4-226 3 218 4-124 3 129 4-190 3 196 4-184 3 185 4-120 3 121 4-127 3 129 4-92 3 97 4-94 3 96 4-116 3 120 4-149 3 150 4-135 3 134 4-102 3 108 4-91 3 89 4-82 3 87 4-84 3 86 4-82 3 88 4-149 3 147 4-87 3 89 4-81 3 85 4-95 3 97 4-120 3 119 4-89 3 95 4-70 3 67 4-67 3 72 4-64 3 67 4-81 3 80 4-66 3 68 4-54 3 55 4-51 3 52 4-50 3 55 4-48 3 48 4-44 3 44 4-40 3 43 4-24 3 30 4-5 2 9 20 0 20 0 20 0 20 0 21 1 20 0 20 0 20 1 20 0 20 0 20 1 20 0 20 1 20 0 21 1 20 0 20 1 20 0 20 1 20 0 20 1 20 0 20 1 20 0 21 1 20 0 20 1 20 0 20 1 20 0 20 1 20 0 20 1 7 0 4 0 2 0M9049 3769l2 -125 2 125M9112 3780l2 -384 2 384M9119 3781l2 -374 2 374M10026 3901l2 -23 2 23M12322 3765l10 -369 10 369M12303 3765l9 -292 9 292M12665 3542l7 -234 7 234M12720 3542l7 -250 7 250M12770 3542l7 -234 7 234" fill="none" stroke="#f00" stroke-width="16" stroke-linejoin="round"/></g>
<use href="#dTL4" x="836.2"/>
<use href="#dTL5" x="836.2"/>
<path d="M886.65 113.40v-3.2M886.65 9.00v3.2M900.05 113.40v-3.2M900.05 9.00v3.2M913.45 113.40v-6.5M913.45 9.00v6.5M926.85 113.40v-3.2M926.85 9.00v3.2M940.25 113.40v-3.2M940.25 9.00v3.2M953.66 113.40v-3.2M953.66 9.00v3.2M967.06 113.40v-3.2M967.06 9.00v3.2M980.46 113.40v-6.5M980.46 9.00v6.5M993.86 113.40v-3.2M993.86 9.00v3.2M1007.26 113.40v-3.2M1007.26 9.00v3.2M1020.66 113.40v-3.2M1020.66 9.00v3.2M1034.06 113.40v-3.2M1034.06 9.00v3.2M1047.46 113.40v-6.5M1047.46 9.00v6.5M1060.86 113.40v-3.2M1060.86 9.00v3.2M1074.26 113.40v-3.2M1074.26 9.00v3.2M1087.66 113.40v-3.2M1087.66 9.00v3.2M1101.07 113.40v-3.2M1101.07 9.00v3.2M1114.47 113.40v-6.5M1114.47 9.00v6.5M1127.87 113.40v-3.2M1127.87 9.00v3.2M1141.27 113.40v-3.2M1141.27 9.00v3.2M1154.67 113.40v-3.2M1154.67 9.00v3.2M1168.07 113.40v-3.2M1168.07 9.00v3.2M1181.47 113.40v-6.5M1181.47 9.00v6.5M1194.87 113.40v-3.2M1194.87 9.00v3.2M1208.27 113.40v-3.2M1208.27 9.00v3.2M1221.67 113.40v-3.2M1221.67 9.00v3.2M1235.08 113.40v-3.2M1235.08 9.00v3.2M1248.48 113.40v-6.5M1248.48 9.00v6.5M1261.88 113.40v-3.2M1261.88 9.00v3.2M1275.28 113.40v-3.2M1275.28 9.00v3.2M1288.68 113.40v-3.2M1288.68 9.00v3.2M1302.08 113.40v-3.2M1302.08 9.00v3.2M1315.48 113.40v-6.5M1315.48 9.00v6.5M1328.88 113.40v-3.2M1328.88 9.00v3.2M1342.28 113.40v-3.2M1342.28 9.00v3.2M1355.68 113.40v-3.2M1355.68 9.00v3.2M1369.08 113.40v-3.2M1369.08 9.00v3.2M1382.49 113.40v-6.5M1382.49 9.00v6.5M1395.89 113.40v-3.2M1395.89 9.00v3.2M1409.29 113.40v-3.2M1409.29 9.00v3.2M1422.69 113.40v-3.2M1422.69 9.00v3.2M1436.09 113.40v-3.2M1436.09 9.00v3.2M1449.49 113.40v-6.5M1449.49 9.00v6.5M1462.89 113.40v-3.2M1462.89 9.00v3.2M1476.29 113.40v-3.2M1476.29 9.00v3.2M1489.69 113.40v-3.2M1489.69 9.00v3.2M1503.09 113.40v-3.2M1503.09 9.00v3.2M1516.49 113.40v-6.5M1516.49 9.00v6.5M1529.90 113.40v-3.2M1529.90 9.00v3.2M1543.30 113.40v-3.2M1543.30 9.00v3.2M1556.70 113.40v-3.2M1556.70 9.00v3.2M1570.10 113.40v-3.2M1570.10 9.00v3.2M1583.50 113.40v-6.5M1583.50 9.00v6.5M879.95 109.91h2.8M1590.20 109.91h-2.8M879.95 106.42h2.8M1590.20 106.42h-2.8M879.95 104.37h2.8M1590.20 104.37h-2.8M879.95 102.92h2.8M1590.20 102.92h-2.8M879.95 98.31h2.8M1590.20 98.31h-2.8M879.95 94.82h2.8M1590.20 94.82h-2.8M879.95 92.77h2.8M1590.20 92.77h-2.8M879.95 91.32h2.8M1590.20 91.32h-2.8M879.95 86.71h2.8M1590.20 86.71h-2.8M879.95 83.22h2.8M1590.20 83.22h-2.8M879.95 81.17h2.8M1590.20 81.17h-2.8M879.95 79.72h2.8M1590.20 79.72h-2.8M879.95 75.11h2.8M1590.20 75.11h-2.8M879.95 71.62h2.8M1590.20 71.62h-2.8M879.95 69.57h2.8M1590.20 69.57h-2.8M879.95 68.12h2.8M1590.20 68.12h-2.8M879.95 63.51h2.8M1590.20 63.51h-2.8M879.95 60.02h2.8M1590.20 60.02h-2.8M879.95 57.97h2.8M1590.20 57.97h-2.8M879.95 56.52h2.8M1590.20 56.52h-2.8M879.95 51.91h2.8M1590.20 51.91h-2.8M879.95 48.42h2.8M1590.20 48.42h-2.8M879.95 46.37h2.8M1590.20 46.37h-2.8M879.95 44.92h2.8M1590.20 44.92h-2.8M879.95 40.31h2.8M1590.20 40.31h-2.8M879.95 36.82h2.8M1590.20 36.82h-2.8M879.95 34.77h2.8M1590.20 34.77h-2.8M879.95 33.32h2.8M1590.20 33.32h-2.8M879.95 28.71h2.8M1590.20 28.71h-2.8M879.95 25.22h2.8M1590.20 25.22h-2.8M879.95 23.17h2.8M1590.20 23.17h-2.8M879.95 21.72h2.8M1590.20 21.72h-2.8M879.95 17.11h2.8M1590.20 17.11h-2.8M879.95 13.62h2.8M1590.20 13.62h-2.8M879.95 11.57h2.8M1590.20 11.57h-2.8M879.95 10.12h2.8M1590.20 10.12h-2.8M879.95 9.00h5.7M1590.20 9.00h-5.7M879.95 43.80h5.7M1590.20 43.80h-5.7M879.95 78.60h5.7M1590.20 78.60h-5.7M879.95 113.40h5.7M1590.20 113.40h-5.7M879.95 9.00h5.7M1590.20 9.00h-5.7M886.65 217.80v-3.2M886.65 113.40v3.2M900.05 217.80v-3.2M900.05 113.40v3.2M913.45 217.80v-6.5M913.45 113.40v6.5M926.85 217.80v-3.2M926.85 113.40v3.2M940.25 217.80v-3.2M940.25 113.40v3.2M953.66 217.80v-3.2M953.66 113.40v3.2M967.06 217.80v-3.2M967.06 113.40v3.2M980.46 217.80v-6.5M980.46 113.40v6.5M993.86 217.80v-3.2M993.86 113.40v3.2M1007.26 217.80v-3.2M1007.26 113.40v3.2M1020.66 217.80v-3.2M1020.66 113.40v3.2M1034.06 217.80v-3.2M1034.06 113.40v3.2M1047.46 217.80v-6.5M1047.46 113.40v6.5M1060.86 217.80v-3.2M1060.86 113.40v3.2M1074.26 217.80v-3.2M1074.26 113.40v3.2M1087.66 217.80v-3.2M1087.66 113.40v3.2M1101.07 217.80v-3.2M1101.07 113.40v3.2M1114.47 217.80v-6.5M1114.47 113.40v6.5M1127.87 217.80v-3.2M1127.87 113.40v3.2M1141.27 217.80v-3.2M1141.27 113.40v3.2M1154.67 217.80v-3.2M1154.67 113.40v3.2M1168.07 217.80v-3.2M1168.07 113.40v3.2M1181.47 217.80v-6.5M1181.47 113.40v6.5M1194.87 217.80v-3.2M1194.87 113.40v3.2M1208.27 217.80v-3.2M1208.27 113.40v3.2M1221.67 217.80v-3.2M1221.67 113.40v3.2M1235.08 217.80v-3.2M1235.08 113.40v3.2M1248.48 217.80v-6.5M1248.48 113.40v6.5M1261.88 217.80v-3.2M1261.88 113.40v3.2M1275.28 217.80v-3.2M1275.28 113.40v3.2M1288.68 217.80v-3.2M1288.68 113.40v3.2M1302.08 217.80v-3.2M1302.08 113.40v3.2M1315.48 217.80v-6.5M1315.48 113.40v6.5M1328.88 217.80v-3.2M1328.88 113.40v3.2M1342.28 217.80v-3.2M1342.28 113.40v3.2M1355.68 217.80v-3.2M1355.68 113.40v3.2M1369.08 217.80v-3.2M1369.08 113.40v3.2M1382.49 217.80v-6.5M1382.49 113.40v6.5M1395.89 217.80v-3.2M1395.89 113.40v3.2M1409.29 217.80v-3.2M1409.29 113.40v3.2M1422.69 217.80v-3.2M1422.69 113.40v3.2M1436.09 217.80v-3.2M1436.09 113.40v3.2M1449.49 217.80v-6.5M1449.49 113.40v6.5M1462.89 217.80v-3.2M1462.89 113.40v3.2M1476.29 217.80v-3.2M1476.29 113.40v3.2M1489.69 217.80v-3.2M1489.69 113.40v3.2M1503.09 217.80v-3.2M1503.09 113.40v3.2M1516.49 217.80v-6.5M1516.49 113.40v6.5M1529.90 217.80v-3.2M1529.90 113.40v3.2M1543.30 217.80v-3.2M1543.30 113.40v3.2M1556.70 217.80v-3.2M1556.70 113.40v3.2M1570.10 217.80v-3.2M1570.10 113.40v3.2M1583.50 217.80v-6.5M1583.50 113.40v6.5M879.95 214.94h2.8M1590.20 214.94h-2.8M879.95 212.09h2.8M1590.20 212.09h-2.8M879.95 210.41h2.8M1590.20 210.41h-2.8M879.95 209.23h2.8M1590.20 209.23h-2.8M879.95 205.45h2.8M1590.20 205.45h-2.8M879.95 202.59h2.8M1590.20 202.59h-2.8M879.95 200.92h2.8M1590.20 200.92h-2.8M879.95 199.74h2.8M1590.20 199.74h-2.8M879.95 195.96h2.8M1590.20 195.96h-2.8M879.95 193.10h2.8M1590.20 193.10h-2.8M879.95 191.43h2.8M1590.20 191.43h-2.8M879.95 190.25h2.8M1590.20 190.25h-2.8M879.95 186.47h2.8M1590.20 186.47h-2.8M879.95 183.61h2.8M1590.20 183.61h-2.8M879.95 181.94h2.8M1590.20 181.94h-2.8M879.95 180.76h2.8M1590.20 180.76h-2.8M879.95 176.98h2.8M1590.20 176.98h-2.8M879.95 174.12h2.8M1590.20 174.12h-2.8M879.95 172.45h2.8M1590.20 172.45h-2.8M879.95 171.27h2.8M1590.20 171.27h-2.8M879.95 167.49h2.8M1590.20 167.49h-2.8M879.95 164.63h2.8M1590.20 164.63h-2.8M879.95 162.96h2.8M1590.20 162.96h-2.8M879.95 161.77h2.8M1590.20 161.77h-2.8M879.95 158.00h2.8M1590.20 158.00h-2.8M879.95 155.14h2.8M1590.20 155.14h-2.8M879.95 153.47h2.8M1590.20 153.47h-2.8M879.95 152.28h2.8M1590.20 152.28h-2.8M879.95 148.51h2.8M1590.20 148.51h-2.8M879.95 145.65h2.8M1590.20 145.65h-2.8M879.95 143.98h2.8M1590.20 143.98h-2.8M879.95 142.79h2.8M1590.20 142.79h-2.8M879.95 139.02h2.8M1590.20 139.02h-2.8M879.95 136.16h2.8M1590.20 136.16h-2.8M879.95 134.49h2.8M1590.20 134.49h-2.8M879.95 133.30h2.8M1590.20 133.30h-2.8M879.95 129.52h2.8M1590.20 129.52h-2.8M879.95 126.67h2.8M1590.20 126.67h-2.8M879.95 125.00h2.8M1590.20 125.00h-2.8M879.95 123.81h2.8M1590.20 123.81h-2.8M879.95 120.03h2.8M1590.20 120.03h-2.8M879.95 117.18h2.8M1590.20 117.18h-2.8M879.95 115.51h2.8M1590.20 115.51h-2.8M879.95 114.32h2.8M1590.20 114.32h-2.8M879.95 132.38h5.7M1590.20 132.38h-5.7M879.95 160.85h5.7M1590.20 160.85h-5.7M879.95 189.33h5.7M1590.20 189.33h-5.7M879.95 217.80h5.7M1590.20 217.80h-5.7M886.65 322.20v-3.2M886.65 217.80v3.2M900.05 322.20v-3.2M900.05 217.80v3.2M913.45 322.20v-6.5M913.45 217.80v6.5M926.85 322.20v-3.2M926.85 217.80v3.2M940.25 322.20v-3.2M940.25 217.80v3.2M953.66 322.20v-3.2M953.66 217.80v3.2M967.06 322.20v-3.2M967.06 217.80v3.2M980.46 322.20v-6.5M980.46 217.80v6.5M993.86 322.20v-3.2M993.86 217.80v3.2M1007.26 322.20v-3.2M1007.26 217.80v3.2M1020.66 322.20v-3.2M1020.66 217.80v3.2M1034.06 322.20v-3.2M1034.06 217.80v3.2M1047.46 322.20v-6.5M1047.46 217.80v6.5M1060.86 322.20v-3.2M1060.86 217.80v3.2M1074.26 322.20v-3.2M1074.26 217.80v3.2M1087.66 322.20v-3.2M1087.66 217.80v3.2M1101.07 322.20v-3.2M1101.07 217.80v3.2M1114.47 322.20v-6.5M1114.47 217.80v6.5M1127.87 322.20v-3.2M1127.87 217.80v3.2M1141.27 322.20v-3.2M1141.27 217.80v3.2M1154.67 322.20v-3.2M1154.67 217.80v3.2M1168.07 322.20v-3.2M1168.07 217.80v3.2M1181.47 322.20v-6.5M1181.47 217.80v6.5M1194.87 322.20v-3.2M1194.87 217.80v3.2M1208.27 322.20v-3.2M1208.27 217.80v3.2M1221.67 322.20v-3.2M1221.67 217.80v3.2M1235.08 322.20v-3.2M1235.08 217.80v3.2M1248.48 322.20v-6.5M1248.48 217.80v6.5M1261.88 322.20v-3.2M1261.88 217.80v3.2M1275.28 322.20v-3.2M1275.28 217.80v3.2M1288.68 322.20v-3.2M1288.68 217.80v3.2M1302.08 322.20v-3.2M1302.08 217.80v3.2M1315.48 322.20v-6.5M1315.48 217.80v6.5M1328.88 322.20v-3.2M1328.88 217.80v3.2M1342.28 322.20v-3.2M1342.28 217.80v3.2M1355.68 322.20v-3.2M1355.68 217.80v3.2M1369.08 322.20v-3.2M1369.08 217.80v3.2M1382.49 322.20v-6.5M1382.49 217.80v6.5M1395.89 322.20v-3.2M1395.89 217.80v3.2M1409.29 322.20v-3.2M1409.29 217.80v3.2M1422.69 322.20v-3.2M1422.69 217.80v3.2M1436.09 322.20v-3.2M1436.09 217.80v3.2M1449.49 322.20v-6.5M1449.49 217.80v6.5M1462.89 322.20v-3.2M1462.89 217.80v3.2M1476.29 322.20v-3.2M1476.29 217.80v3.2M1489.69 322.20v-3.2M1489.69 217.80v3.2M1503.09 322.20v-3.2M1503.09 217.80v3.2M1516.49 322.20v-6.5M1516.49 217.80v6.5M1529.90 322.20v-3.2M1529.90 217.80v3.2M1543.30 322.20v-3.2M1543.30 217.80v3.2M1556.70 322.20v-3.2M1556.70 217.80v3.2M1570.10 322.20v-3.2M1570.10 217.80v3.2M1583.50 322.20v-6.5M1583.50 217.80v6.5M879.95 319.06h2.8M1590.20 319.06h-2.8M879.95 315.91h2.8M1590.20 315.91h-2.8M879.95 314.08h2.8M1590.20 314.08h-2.8M879.95 312.77h2.8M1590.20 312.77h-2.8M879.95 308.62h2.8M1590.20 308.62h-2.8M879.95 305.47h2.8M1590.20 305.47h-2.8M879.95 303.64h2.8M1590.20 303.64h-2.8M879.95 302.33h2.8M1590.20 302.33h-2.8M879.95 298.18h2.8M1590.20 298.18h-2.8M879.95 295.03h2.8M1590.20 295.03h-2.8M879.95 293.20h2.8M1590.20 293.20h-2.8M879.95 291.89h2.8M1590.20 291.89h-2.8M879.95 287.74h2.8M1590.20 287.74h-2.8M879.95 284.59h2.8M1590.20 284.59h-2.8M879.95 282.76h2.8M1590.20 282.76h-2.8M879.95 281.45h2.8M1590.20 281.45h-2.8M879.95 277.30h2.8M1590.20 277.30h-2.8M879.95 274.15h2.8M1590.20 274.15h-2.8M879.95 272.32h2.8M1590.20 272.32h-2.8M879.95 271.01h2.8M1590.20 271.01h-2.8M879.95 266.86h2.8M1590.20 266.86h-2.8M879.95 263.71h2.8M1590.20 263.71h-2.8M879.95 261.88h2.8M1590.20 261.88h-2.8M879.95 260.57h2.8M1590.20 260.57h-2.8M879.95 256.42h2.8M1590.20 256.42h-2.8M879.95 253.27h2.8M1590.20 253.27h-2.8M879.95 251.44h2.8M1590.20 251.44h-2.8M879.95 250.13h2.8M1590.20 250.13h-2.8M879.95 245.98h2.8M1590.20 245.98h-2.8M879.95 242.83h2.8M1590.20 242.83h-2.8M879.95 241.00h2.8M1590.20 241.00h-2.8M879.95 239.69h2.8M1590.20 239.69h-2.8M879.95 235.54h2.8M1590.20 235.54h-2.8M879.95 232.39h2.8M1590.20 232.39h-2.8M879.95 230.56h2.8M1590.20 230.56h-2.8M879.95 229.25h2.8M1590.20 229.25h-2.8M879.95 225.10h2.8M1590.20 225.10h-2.8M879.95 221.95h2.8M1590.20 221.95h-2.8M879.95 220.12h2.8M1590.20 220.12h-2.8M879.95 218.81h2.8M1590.20 218.81h-2.8M879.95 238.68h5.7M1590.20 238.68h-5.7M879.95 270.00h5.7M1590.20 270.00h-5.7M879.95 301.32h5.7M1590.20 301.32h-5.7M886.65 426.60v-3.2M886.65 322.20v3.2M900.05 426.60v-3.2M900.05 322.20v3.2M913.45 426.60v-6.5M913.45 322.20v6.5M926.85 426.60v-3.2M926.85 322.20v3.2M940.25 426.60v-3.2M940.25 322.20v3.2M953.66 426.60v-3.2M953.66 322.20v3.2M967.06 426.60v-3.2M967.06 322.20v3.2M980.46 426.60v-6.5M980.46 322.20v6.5M993.86 426.60v-3.2M993.86 322.20v3.2M1007.26 426.60v-3.2M1007.26 322.20v3.2M1020.66 426.60v-3.2M1020.66 322.20v3.2M1034.06 426.60v-3.2M1034.06 322.20v3.2M1047.46 426.60v-6.5M1047.46 322.20v6.5M1060.86 426.60v-3.2M1060.86 322.20v3.2M1074.26 426.60v-3.2M1074.26 322.20v3.2M1087.66 426.60v-3.2M1087.66 322.20v3.2M1101.07 426.60v-3.2M1101.07 322.20v3.2M1114.47 426.60v-6.5M1114.47 322.20v6.5M1127.87 426.60v-3.2M1127.87 322.20v3.2M1141.27 426.60v-3.2M1141.27 322.20v3.2M1154.67 426.60v-3.2M1154.67 322.20v3.2M1168.07 426.60v-3.2M1168.07 322.20v3.2M1181.47 426.60v-6.5M1181.47 322.20v6.5M1194.87 426.60v-3.2M1194.87 322.20v3.2M1208.27 426.60v-3.2M1208.27 322.20v3.2M1221.67 426.60v-3.2M1221.67 322.20v3.2M1235.08 426.60v-3.2M1235.08 322.20v3.2M1248.48 426.60v-6.5M1248.48 322.20v6.5M1261.88 426.60v-3.2M1261.88 322.20v3.2M1275.28 426.60v-3.2M1275.28 322.20v3.2M1288.68 426.60v-3.2M1288.68 322.20v3.2M1302.08 426.60v-3.2M1302.08 322.20v3.2M1315.48 426.60v-6.5M1315.48 322.20v6.5M1328.88 426.60v-3.2M1328.88 322.20v3.2M1342.28 426.60v-3.2M1342.28 322.20v3.2M1355.68 426.60v-3.2M1355.68 322.20v3.2M1369.08 426.60v-3.2M1369.08 322.20v3.2M1382.49 426.60v-6.5M1382.49 322.20v6.5M1395.89 426.60v-3.2M1395.89 322.20v3.2M1409.29 426.60v-3.2M1409.29 322.20v3.2M1422.69 426.60v-3.2M1422.69 322.20v3.2M1436.09 426.60v-3.2M1436.09 322.20v3.2M1449.49 426.60v-6.5M1449.49 322.20v6.5M1462.89 426.60v-3.2M1462.89 322.20v3.2M1476.29 426.60v-3.2M1476.29 322.20v3.2M1489.69 426.60v-3.2M1489.69 322.20v3.2M1503.09 426.60v-3.2M1503.09 322.20v3.2M1516.49 426.60v-6.5M1516.49 322.20v6.5M1529.90 426.60v-3.2M1529.90 322.20v3.2M1543.30 426.60v-3.2M1543.30 322.20v3.2M1556.70 426.60v-3.2M1556.70 322.20v3.2M1570.10 426.60v-3.2M1570.10 322.20v3.2M1583.50 426.60v-6.5M1583.50 322.20v6.5M879.95 423.46h2.8M1590.20 423.46h-2.8M879.95 420.31h2.8M1590.20 420.31h-2.8M879.95 418.48h2.8M1590.20 418.48h-2.8M879.95 417.17h2.8M1590.20 417.17h-2.8M879.95 413.02h2.8M1590.20 413.02h-2.8M879.95 409.87h2.8M1590.20 409.87h-2.8M879.95 408.04h2.8M1590.20 408.04h-2.8M879.95 406.73h2.8M1590.20 406.73h-2.8M879.95 402.58h2.8M1590.20 402.58h-2.8M879.95 399.43h2.8M1590.20 399.43h-2.8M879.95 397.60h2.8M1590.20 397.60h-2.8M879.95 396.29h2.8M1590.20 396.29h-2.8M879.95 392.14h2.8M1590.20 392.14h-2.8M879.95 388.99h2.8M1590.20 388.99h-2.8M879.95 387.16h2.8M1590.20 387.16h-2.8M879.95 385.85h2.8M1590.20 385.85h-2.8M879.95 381.70h2.8M1590.20 381.70h-2.8M879.95 378.55h2.8M1590.20 378.55h-2.8M879.95 376.72h2.8M1590.20 376.72h-2.8M879.95 375.41h2.8M1590.20 375.41h-2.8M879.95 371.26h2.8M1590.20 371.26h-2.8M879.95 368.11h2.8M1590.20 368.11h-2.8M879.95 366.28h2.8M1590.20 366.28h-2.8M879.95 364.97h2.8M1590.20 364.97h-2.8M879.95 360.82h2.8M1590.20 360.82h-2.8M879.95 357.67h2.8M1590.20 357.67h-2.8M879.95 355.84h2.8M1590.20 355.84h-2.8M879.95 354.53h2.8M1590.20 354.53h-2.8M879.95 350.38h2.8M1590.20 350.38h-2.8M879.95 347.23h2.8M1590.20 347.23h-2.8M879.95 345.40h2.8M1590.20 345.40h-2.8M879.95 344.09h2.8M1590.20 344.09h-2.8M879.95 339.94h2.8M1590.20 339.94h-2.8M879.95 336.79h2.8M1590.20 336.79h-2.8M879.95 334.96h2.8M1590.20 334.96h-2.8M879.95 333.65h2.8M1590.20 333.65h-2.8M879.95 329.50h2.8M1590.20 329.50h-2.8M879.95 326.35h2.8M1590.20 326.35h-2.8M879.95 324.52h2.8M1590.20 324.52h-2.8M879.95 323.21h2.8M1590.20 323.21h-2.8M879.95 332.64h5.7M1590.20 332.64h-5.7M879.95 363.96h5.7M1590.20 363.96h-5.7M879.95 395.28h5.7M1590.20 395.28h-5.7M879.95 426.60h5.7M1590.20 426.60h-5.7M886.65 531.00v-3.2M886.65 426.60v3.2M900.05 531.00v-3.2M900.05 426.60v3.2M913.45 531.00v-6.5M913.45 426.60v6.5M926.85 531.00v-3.2M926.85 426.60v3.2M940.25 531.00v-3.2M940.25 426.60v3.2M953.66 531.00v-3.2M953.66 426.60v3.2M967.06 531.00v-3.2M967.06 426.60v3.2M980.46 531.00v-6.5M980.46 426.60v6.5M993.86 531.00v-3.2M993.86 426.60v3.2M1007.26 531.00v-3.2M1007.26 426.60v3.2M1020.66 531.00v-3.2M1020.66 426.60v3.2M1034.06 531.00v-3.2M1034.06 426.60v3.2M1047.46 531.00v-6.5M1047.46 426.60v6.5M1060.86 531.00v-3.2M1060.86 426.60v3.2M1074.26 531.00v-3.2M1074.26 426.60v3.2M1087.66 531.00v-3.2M1087.66 426.60v3.2M1101.07 531.00v-3.2M1101.07 426.60v3.2M1114.47 531.00v-6.5M1114.47 426.60v6.5M1127.87 531.00v-3.2M1127.87 426.60v3.2M1141.27 531.00v-3.2M1141.27 426.60v3.2M1154.67 531.00v-3.2M1154.67 426.60v3.2M1168.07 531.00v-3.2M1168.07 426.60v3.2M1181.47 531.00v-6.5M1181.47 426.60v6.5M1194.87 531.00v-3.2M1194.87 426.60v3.2M1208.27 531.00v-3.2M1208.27 426.60v3.2M1221.67 531.00v-3.2M1221.67 426.60v3.2M1235.08 531.00v-3.2M1235.08 426.60v3.2M1248.48 531.00v-6.5M1248.48 426.60v6.5M1261.88 531.00v-3.2M1261.88 426.60v3.2M1275.28 531.00v-3.2M1275.28 426.60v3.2M1288.68 531.00v-3.2M1288.68 426.60v3.2M1302.08 531.00v-3.2M1302.08 426.60v3.2M1315.48 531.00v-6.5M1315.48 426.60v6.5M1328.88 531.00v-3.2M1328.88 426.60v3.2M1342.28 531.00v-3.2M1342.28 426.60v3.2M1355.68 531.00v-3.2M1355.68 426.60v3.2M1369.08 531.00v-3.2M1369.08 426.60v3.2M1382.49 531.00v-6.5M1382.49 426.60v6.5M1395.89 531.00v-3.2M1395.89 426.60v3.2M1409.29 531.00v-3.2M1409.29 426.60v3.2M1422.69 531.00v-3.2M1422.69 426.60v3.2M1436.09 531.00v-3.2M1436.09 426.60v3.2M1449.49 531.00v-6.5M1449.49 426.60v6.5M1462.89 531.00v-3.2M1462.89 426.60v3.2M1476.29 531.00v-3.2M1476.29 426.60v3.2M1489.69 531.00v-3.2M1489.69 426.60v3.2M1503.09 531.00v-3.2M1503.09 426.60v3.2M1516.49 531.00v-6.5M1516.49 426.60v6.5M1529.90 531.00v-3.2M1529.90 426.60v3.2M1543.30 531.00v-3.2M1543.30 426.60v3.2M1556.70 531.00v-3.2M1556.70 426.60v3.2M1570.10 531.00v-3.2M1570.10 426.60v3.2M1583.50 531.00v-6.5M1583.50 426.60v6.5M879.95 528.14h2.8M1590.20 528.14h-2.8M879.95 525.29h2.8M1590.20 525.29h-2.8M879.95 523.61h2.8M1590.20 523.61h-2.8M879.95 522.43h2.8M1590.20 522.43h-2.8M879.95 518.65h2.8M1590.20 518.65h-2.8M879.95 515.79h2.8M1590.20 515.79h-2.8M879.95 514.12h2.8M1590.20 514.12h-2.8M879.95 512.94h2.8M1590.20 512.94h-2.8M879.95 509.16h2.8M1590.20 509.16h-2.8M879.95 506.30h2.8M1590.20 506.30h-2.8M879.95 504.63h2.8M1590.20 504.63h-2.8M879.95 503.45h2.8M1590.20 503.45h-2.8M879.95 499.67h2.8M1590.20 499.67h-2.8M879.95 496.81h2.8M1590.20 496.81h-2.8M879.95 495.14h2.8M1590.20 495.14h-2.8M879.95 493.96h2.8M1590.20 493.96h-2.8M879.95 490.18h2.8M1590.20 490.18h-2.8M879.95 487.32h2.8M1590.20 487.32h-2.8M879.95 485.65h2.8M1590.20 485.65h-2.8M879.95 484.47h2.8M1590.20 484.47h-2.8M879.95 480.69h2.8M1590.20 480.69h-2.8M879.95 477.83h2.8M1590.20 477.83h-2.8M879.95 476.16h2.8M1590.20 476.16h-2.8M879.95 474.97h2.8M1590.20 474.97h-2.8M879.95 471.20h2.8M1590.20 471.20h-2.8M879.95 468.34h2.8M1590.20 468.34h-2.8M879.95 466.67h2.8M1590.20 466.67h-2.8M879.95 465.48h2.8M1590.20 465.48h-2.8M879.95 461.71h2.8M1590.20 461.71h-2.8M879.95 458.85h2.8M1590.20 458.85h-2.8M879.95 457.18h2.8M1590.20 457.18h-2.8M879.95 455.99h2.8M1590.20 455.99h-2.8M879.95 452.22h2.8M1590.20 452.22h-2.8M879.95 449.36h2.8M1590.20 449.36h-2.8M879.95 447.69h2.8M1590.20 447.69h-2.8M879.95 446.50h2.8M1590.20 446.50h-2.8M879.95 442.72h2.8M1590.20 442.72h-2.8M879.95 439.87h2.8M1590.20 439.87h-2.8M879.95 438.20h2.8M1590.20 438.20h-2.8M879.95 437.01h2.8M1590.20 437.01h-2.8M879.95 433.23h2.8M1590.20 433.23h-2.8M879.95 430.38h2.8M1590.20 430.38h-2.8M879.95 428.71h2.8M1590.20 428.71h-2.8M879.95 427.52h2.8M1590.20 427.52h-2.8M879.95 445.58h5.7M1590.20 445.58h-5.7M879.95 474.05h5.7M1590.20 474.05h-5.7M879.95 502.53h5.7M1590.20 502.53h-5.7M879.95 531.00h5.7M1590.20 531.00h-5.7M886.65 635.40v-3.2M886.65 531.00v3.2M900.05 635.40v-3.2M900.05 531.00v3.2M913.45 635.40v-6.5M913.45 531.00v6.5M926.85 635.40v-3.2M926.85 531.00v3.2M940.25 635.40v-3.2M940.25 531.00v3.2M953.66 635.40v-3.2M953.66 531.00v3.2M967.06 635.40v-3.2M967.06 531.00v3.2M980.46 635.40v-6.5M980.46 531.00v6.5M993.86 635.40v-3.2M993.86 531.00v3.2M1007.26 635.40v-3.2M1007.26 531.00v3.2M1020.66 635.40v-3.2M1020.66 531.00v3.2M1034.06 635.40v-3.2M1034.06 531.00v3.2M1047.46 635.40v-6.5M1047.46 531.00v6.5M1060.86 635.40v-3.2M1060.86 531.00v3.2M1074.26 635.40v-3.2M1074.26 531.00v3.2M1087.66 635.40v-3.2M1087.66 531.00v3.2M1101.07 635.40v-3.2M1101.07 531.00v3.2M1114.47 635.40v-6.5M1114.47 531.00v6.5M1127.87 635.40v-3.2M1127.87 531.00v3.2M1141.27 635.40v-3.2M1141.27 531.00v3.2M1154.67 635.40v-3.2M1154.67 531.00v3.2M1168.07 635.40v-3.2M1168.07 531.00v3.2M1181.47 635.40v-6.5M1181.47 531.00v6.5M1194.87 635.40v-3.2M1194.87 531.00v3.2M1208.27 635.40v-3.2M1208.27 531.00v3.2M1221.67 635.40v-3.2M1221.67 531.00v3.2M1235.08 635.40v-3.2M1235.08 531.00v3.2M1248.48 635.40v-6.5M1248.48 531.00v6.5M1261.88 635.40v-3.2M1261.88 531.00v3.2M1275.28 635.40v-3.2M1275.28 531.00v3.2M1288.68 635.40v-3.2M1288.68 531.00v3.2M1302.08 635.40v-3.2M1302.08 531.00v3.2M1315.48 635.40v-6.5M1315.48 531.00v6.5M1328.88 635.40v-3.2M1328.88 531.00v3.2M1342.28 635.40v-3.2M1342.28 531.00v3.2M1355.68 635.40v-3.2M1355.68 531.00v3.2M1369.08 635.40v-3.2M1369.08 531.00v3.2M1382.49 635.40v-6.5M1382.49 531.00v6.5M1395.89 635.40v-3.2M1395.89 531.00v3.2M1409.29 635.40v-3.2M1409.29 531.00v3.2M1422.69 635.40v-3.2M1422.69 531.00v3.2M1436.09 635.40v-3.2M1436.09 531.00v3.2M1449.49 635.40v-6.5M1449.49 531.00v6.5M1462.89 635.40v-3.2M1462.89 531.00v3.2M1476.29 635.40v-3.2M1476.29 531.00v3.2M1489.69 635.40v-3.2M1489.69 531.00v3.2M1503.09 635.40v-3.2M1503.09 531.00v3.2M1516.49 635.40v-6.5M1516.49 531.00v6.5M1529.90 635.40v-3.2M1529.90 531.00v3.2M1543.30 635.40v-3.2M1543.30 531.00v3.2M1556.70 635.40v-3.2M1556.70 531.00v3.2M1570.10 635.40v-3.2M1570.10 531.00v3.2M1583.50 635.40v-6.5M1583.50 531.00v6.5M879.95 632.54h2.8M1590.20 632.54h-2.8M879.95 629.69h2.8M1590.20 629.69h-2.8M879.95 628.01h2.8M1590.20 628.01h-2.8M879.95 626.83h2.8M1590.20 626.83h-2.8M879.95 623.05h2.8M1590.20 623.05h-2.8M879.95 620.19h2.8M1590.20 620.19h-2.8M879.95 618.52h2.8M1590.20 618.52h-2.8M879.95 617.34h2.8M1590.20 617.34h-2.8M879.95 613.56h2.8M1590.20 613.56h-2.8M879.95 610.70h2.8M1590.20 610.70h-2.8M879.95 609.03h2.8M1590.20 609.03h-2.8M879.95 607.85h2.8M1590.20 607.85h-2.8M879.95 604.07h2.8M1590.20 604.07h-2.8M879.95 601.21h2.8M1590.20 601.21h-2.8M879.95 599.54h2.8M1590.20 599.54h-2.8M879.95 598.36h2.8M1590.20 598.36h-2.8M879.95 594.58h2.8M1590.20 594.58h-2.8M879.95 591.72h2.8M1590.20 591.72h-2.8M879.95 590.05h2.8M1590.20 590.05h-2.8M879.95 588.87h2.8M1590.20 588.87h-2.8M879.95 585.09h2.8M1590.20 585.09h-2.8M879.95 582.23h2.8M1590.20 582.23h-2.8M879.95 580.56h2.8M1590.20 580.56h-2.8M879.95 579.37h2.8M1590.20 579.37h-2.8M879.95 575.60h2.8M1590.20 575.60h-2.8M879.95 572.74h2.8M1590.20 572.74h-2.8M879.95 571.07h2.8M1590.20 571.07h-2.8M879.95 569.88h2.8M1590.20 569.88h-2.8M879.95 566.11h2.8M1590.20 566.11h-2.8M879.95 563.25h2.8M1590.20 563.25h-2.8M879.95 561.58h2.8M1590.20 561.58h-2.8M879.95 560.39h2.8M1590.20 560.39h-2.8M879.95 556.62h2.8M1590.20 556.62h-2.8M879.95 553.76h2.8M1590.20 553.76h-2.8M879.95 552.09h2.8M1590.20 552.09h-2.8M879.95 550.90h2.8M1590.20 550.90h-2.8M879.95 547.12h2.8M1590.20 547.12h-2.8M879.95 544.27h2.8M1590.20 544.27h-2.8M879.95 542.60h2.8M1590.20 542.60h-2.8M879.95 541.41h2.8M1590.20 541.41h-2.8M879.95 537.63h2.8M1590.20 537.63h-2.8M879.95 534.78h2.8M1590.20 534.78h-2.8M879.95 533.11h2.8M1590.20 533.11h-2.8M879.95 531.92h2.8M1590.20 531.92h-2.8M879.95 549.98h5.7M1590.20 549.98h-5.7M879.95 578.45h5.7M1590.20 578.45h-5.7M879.95 606.93h5.7M1590.20 606.93h-5.7M879.95 635.40h5.7M1590.20 635.40h-5.7" stroke="#000" stroke-width="1.1" fill="none"/>
<path d="M879.95 9.00H1590.20V113.40H879.95ZM879.95 113.40H1590.20V217.80H879.95ZM879.95 217.80H1590.20V322.20H879.95ZM879.95 322.20H1590.20V426.60H879.95ZM879.95 426.60H1590.20V531.00H879.95ZM879.95 531.00H1590.20V635.40H879.95Z" stroke="#000" stroke-width="1.8" fill="none" stroke-linejoin="miter"/>
<text transform="translate(876.35 14.90) scale(0.84 1)" text-anchor="end" font-size="20.5" >4</text>
<text transform="translate(876.35 14.90) scale(0.84 1)" text-anchor="end" font-size="20.5" >4</text>
<text transform="translate(876.35 49.70) scale(0.84 1)" text-anchor="end" font-size="20.5" >1</text>
<text transform="translate(876.35 84.50) scale(0.84 1)" text-anchor="end" font-size="20.5" >-2</text>
<text transform="translate(876.35 119.30) scale(0.84 1)" text-anchor="end" font-size="20.5" >-5</text>
<text transform="translate(876.35 138.28) scale(0.84 1)" text-anchor="end" font-size="20.5" >2</text>
<text transform="translate(876.35 166.75) scale(0.84 1)" text-anchor="end" font-size="20.5" >-1</text>
<text transform="translate(876.35 195.23) scale(0.84 1)" text-anchor="end" font-size="20.5" >-4</text>
<text transform="translate(876.35 223.70) scale(0.84 1)" text-anchor="end" font-size="20.5" >-7</text>
<text transform="translate(876.35 244.58) scale(0.84 1)" text-anchor="end" font-size="20.5" >2</text>
<text transform="translate(876.35 275.90) scale(0.84 1)" text-anchor="end" font-size="20.5" >-1</text>
<text transform="translate(876.35 307.22) scale(0.84 1)" text-anchor="end" font-size="20.5" >-4</text>
<text transform="translate(876.35 338.54) scale(0.84 1)" text-anchor="end" font-size="20.5" >3</text>
<text transform="translate(876.35 369.86) scale(0.84 1)" text-anchor="end" font-size="20.5" >0</text>
<text transform="translate(876.35 401.18) scale(0.84 1)" text-anchor="end" font-size="20.5" >-3</text>
<text transform="translate(876.35 432.50) scale(0.84 1)" text-anchor="end" font-size="20.5" >-6</text>
<text transform="translate(876.35 451.48) scale(0.84 1)" text-anchor="end" font-size="20.5" >2</text>
<text transform="translate(876.35 479.95) scale(0.84 1)" text-anchor="end" font-size="20.5" >-1</text>
<text transform="translate(876.35 508.43) scale(0.84 1)" text-anchor="end" font-size="20.5" >-4</text>
<text transform="translate(876.35 536.90) scale(0.84 1)" text-anchor="end" font-size="20.5" >-7</text>
<text transform="translate(876.35 555.88) scale(0.84 1)" text-anchor="end" font-size="20.5" >2</text>
<text transform="translate(876.35 584.35) scale(0.84 1)" text-anchor="end" font-size="20.5" >-1</text>
<text transform="translate(876.35 612.83) scale(0.84 1)" text-anchor="end" font-size="20.5" >-4</text>
<text transform="translate(876.35 641.30) scale(0.84 1)" text-anchor="end" font-size="20.5" >-7</text>
<text transform="translate(914.75 657.60) scale(0.84 1)" text-anchor="middle" font-size="20.5" >10</text>
<text transform="translate(981.76 657.60) scale(0.84 1)" text-anchor="middle" font-size="20.5" >20</text>
<text transform="translate(1048.76 657.60) scale(0.84 1)" text-anchor="middle" font-size="20.5" >30</text>
<text transform="translate(1115.77 657.60) scale(0.84 1)" text-anchor="middle" font-size="20.5" >40</text>
<text transform="translate(1182.77 657.60) scale(0.84 1)" text-anchor="middle" font-size="20.5" >50</text>
<text transform="translate(1249.78 657.60) scale(0.84 1)" text-anchor="middle" font-size="20.5" >60</text>
<text transform="translate(1316.78 657.60) scale(0.84 1)" text-anchor="middle" font-size="20.5" >70</text>
<text transform="translate(1383.79 657.60) scale(0.84 1)" text-anchor="middle" font-size="20.5" >80</text>
<text transform="translate(1450.79 657.60) scale(0.84 1)" text-anchor="middle" font-size="20.5" >90</text>
<text transform="translate(1517.79 657.60) scale(0.84 1)" text-anchor="middle" font-size="20.5" >100</text>
<text transform="translate(1584.80 657.60) scale(0.84 1)" text-anchor="middle" font-size="20.5" >110</text>
<rect x="1530.20" y="16.00" width="54.00" height="43.75" fill="#fff" stroke="#000" stroke-width="1.6"/>
<path d="M1537.45 27.00h17.75" stroke="#000" stroke-width="2"/>
<path d="M1537.45 47.00h17.75" stroke="#f00" stroke-width="2"/>
<text transform="translate(1582.20 32.00) scale(0.88 1)" text-anchor="end" font-size="14" >23</text>
<text transform="translate(1582.20 52.00) scale(0.88 1)" text-anchor="end" font-size="14" >23</text>
<rect x="1530.20" y="120.40" width="54.00" height="43.75" fill="#fff" stroke="#000" stroke-width="1.6"/>
<path d="M1537.45 131.40h17.75" stroke="#000" stroke-width="2"/>
<path d="M1537.45 151.40h17.75" stroke="#f00" stroke-width="2"/>
<text transform="translate(1582.20 136.40) scale(0.88 1)" text-anchor="end" font-size="14" >26</text>
<text transform="translate(1582.20 156.40) scale(0.88 1)" text-anchor="end" font-size="14" >24</text>
<rect x="1530.20" y="224.80" width="54.00" height="43.75" fill="#fff" stroke="#000" stroke-width="1.6"/>
<path d="M1537.45 235.80h17.75" stroke="#000" stroke-width="2"/>
<path d="M1537.45 255.80h17.75" stroke="#f00" stroke-width="2"/>
<text transform="translate(1582.20 240.80) scale(0.88 1)" text-anchor="end" font-size="14" >25</text>
<text transform="translate(1582.20 260.80) scale(0.88 1)" text-anchor="end" font-size="14" >25</text>
<rect x="1530.20" y="329.20" width="54.00" height="43.75" fill="#fff" stroke="#000" stroke-width="1.6"/>
<path d="M1537.45 340.20h17.75" stroke="#000" stroke-width="2"/>
<path d="M1537.45 360.20h17.75" stroke="#f00" stroke-width="2"/>
<text transform="translate(1582.20 345.20) scale(0.88 1)" text-anchor="end" font-size="14" >24</text>
<text transform="translate(1582.20 365.20) scale(0.88 1)" text-anchor="end" font-size="14" >26</text>
<rect x="1530.20" y="433.60" width="54.00" height="43.75" fill="#fff" stroke="#000" stroke-width="1.6"/>
<path d="M1537.45 444.60h17.75" stroke="#000" stroke-width="2"/>
<path d="M1537.45 464.60h17.75" stroke="#f00" stroke-width="2"/>
<text transform="translate(1582.20 449.60) scale(0.88 1)" text-anchor="end" font-size="14" >27</text>
<text transform="translate(1582.20 469.60) scale(0.88 1)" text-anchor="end" font-size="14" >27</text>
<rect x="1530.20" y="538.00" width="54.00" height="43.75" fill="#fff" stroke="#000" stroke-width="1.6"/>
<path d="M1537.45 549.00h17.75" stroke="#000" stroke-width="2"/>
<path d="M1537.45 569.00h17.75" stroke="#f00" stroke-width="2"/>
<text transform="translate(1582.20 554.00) scale(0.88 1)" text-anchor="end" font-size="14" >28</text>
<text transform="translate(1582.20 574.00) scale(0.88 1)" text-anchor="end" font-size="14" >28</text>
<text transform="translate(1136.80 693.00) scale(0.88 1)" font-size="20"><tspan x="-1">Photon Energy </tspan><tspan font-family="'Liberation Serif', serif">(</tspan><tspan font-family="'Liberation Serif', serif" font-style="italic">Ry</tspan><tspan font-family="'Liberation Serif', serif">)</tspan></text>
<g transform="translate(850.60 392.20) scale(0.88 1) rotate(-90)" font-family="'Liberation Serif', serif"><text x="0" y="0" font-size="20.5" font-style="italic">log</text><text x="26.2" y="6.6" font-size="14">10</text><text x="28.3" y="-9.5" font-size="14" font-style="italic">σ</text><text x="36.6" y="-6.2" font-size="10.5" font-style="italic">PI</text><text x="60" y="0" font-size="20.5">(<tspan font-style="italic">Mb</tspan>)</text></g>
<clipPath id="cBL0"><rect x="43.75" y="749.60" width="710.25" height="203.90"/></clipPath>
<g id="dBL0" clip-path="url(#cBL0)"><path transform="scale(.1)" d="M749 8845l4-45 3 110 4-97 3 87 4-98 3 97 4-137 3 147 4-90 3 78 4-276 3 290 4-229 3 215 4-312 3 318 4-212 3 210 4-195 3 195 4-114 3 115 4-150 3 145 4-76 3 84 4-171 3 167 4-89 3 95 4-95 3 85 4-76 3 81 4-128 3 127 4-104 3 113 4-89 3 81 4-81 3 86 4-96 3 100 4-127 3 122 4-92 3 88 4-230 3 197 4-114 3 107 4-107 3 105 4-69 3 68 4-62 3 62 4-89 3 97 4-50 3 46 4-113 3 115 4-115 3 116 4-49 3 50 4-103 3 102 4-49 3 45 4-134 3 136 4-122 3 123 4-94 3 89 4-44 3 46 4-168 3 168 4-198 3 195 4-118 3 124 4-48 3 48 4-134 3 133 4-201 3 200 4-130 3 136 4-57 3 70 4-113 3 121 4-122 3 118 4-89 3 92 4-61 3 57 4-174 3 174 4-226 3 227 4-143 3 143 4-50 3 48 4-86 3 87 4-49 3 46 4-103 3 108 4-74 3 74 4-66 3 62 4-120 3 119 4-240 3 241 4-128 3 133 4-180 3 180 4-244 3 246 4-145 3 139 4-48 3 49 4-49 3 49 4-70 3 66 4-45 3 52 4-124 3 121 4-214 3 222 4-441 3 448 4-361 3 368 4-237 3 236 4-100 3 100 4-255 3 256 4-389 3 387 4-465 3 460 4-540 3 537 4-512 3 513 4-286 3 294 4-446 3 449 4-437 3 431 4-390 3 395 4-550 3 546 4-522 3 510 4-280 3 290 4-467 3 474 4-429 3 416 4-121 3 114 4-116 3 122 4-367 3 378 4-584 3 585 4-492 3 497 4-341 3 321 4-529 3 549 4-616 3 611 4-351 3 356 4-144 3 134 4-135 3 127 4-346 3 349 4-186 3 178 4-157 3 171 4-138 3 141 4-142 3 125 4-336 3 351 4-384 3 390 4-182 3 164 4-130 3 150 4-151 3 128 4-326 3 322 4-412 4 417 20-394 20 0 20 1 20 0 20 1 20 1 20 1 20 1 20 1 21 1 20 1 20 2 20 2 20 1 20 2 20 2 20 2 20 2 20 2 21 2 20 2 20 2 20 3 20 2 20 2 20 3 20 2 20 2 20 3 21 2 20 3 20 2 20 2 20 3 20 2 20 3 20 2 20 2 20 2 21 3 20 2 20 2 20 2 20 2 20 2 20 2 20 2 20 2 20 2 21 2 20 2 20 2 20 2 20 2 20 2 20 2 20 2 20 2 5 1 3 0 4 18 3-9 4 11 3-11 4 11 3-25 4 25 3-50 4 52 3-62 4 62 3-43 4 43 3-25 4 25 3-9 4 11 3-16 4 16 3-15 4 16 3-16 4 16 3-11 4 11 3-15 4 16 3-10 4 10 3-13 4 14 3-10 4 10 3-18 4 20 3-11 4 10 3-10 4 11 3-16 4 15 3-9 4 11 3-10 4 11 3-46 4 45 3-10 4 11 3-17 4 17 3-9 4 10 3-47 4 48 3-60 4 61 3-59 4 58 3-102 4 104 3-47 4 48 3-11 4 11 3-16 4 17 3-21 4 20 3-10 4 10 3-30 4 32 3-81 4 82 3-90 4 89 3-38 4 39 3-36 4 36 3-10 4 11 3-10 4 11 3-10 4 10 3-10 4 12 3-30 4 29 3-98 4 100 3-12 4 13 3-12 4 11 3-10 4 10 3-9 4 10 3-30 4 31 3-65 4 66 3-24 4 24 3-24 4 25 3-33 4 33 3-30 4 32 3-19 4 19 3-11 4 11 3-10 4 12 3-11 4 10 3-23 4 25 3-25 4 25 3-10 4 10 3-44 4 45 3-30 4 31 3-10 4 9 3-9 4 10 3-9 4 11 3-14 4 14 3-80 4 81 3-99 4 99 3-82 4 82 3-129 4 131 3-50 4 50 3-10 4 10 3-94 4 95 3-58 4 59 3-36 4 36 3-56 4 57 3-31 4 32 3-20 4 21 3-21 4 22 3-12 4 11 3-38 4 39 3-80 4 81 3-56 4 57 3-24 4 24 3-13 4 14 3-41 4 42 3-101 4 101 3-114 4 114 3-80 4 81 3-26 4 27 3-42 4 43 3-33 4 32 3-31 4 32 3-58 4 58 3-34 4 36 3-14 4 14 3-10 4 10 3-12 4 14 3-14 4 15 3-17 4 16 3-10 4 12 3-27 4 27 3-24 4 15 3-4 20 1 20 1 20 2 20 1 21 1 20 2 20 1 20 1 20 2 20 1 20 1 17 1 3-13 4 13 3-30 4 26 3-68 4 68 3-97 4 102 3-163 4 158 3-92 4 93 3-42 4 44 3-194 4 190 3-118 4 116 3-55 4 60 3-98 4 94 3-202 4 204 3-266 4 266 3-141 4 139 3-94 4 97 3-119 4 120 3-108 4 103 3-207 4 205 3-115 4 122 3-258 4 254 3-240 4 238 3-42 4 49 3-99 4 90 3-112 4 114 3-130 4 136 3-115 4 110 3-109 4 108 3-135 4 142 3-152 4 148 3-115 4 117 3-136 4 129 3-138 4 138 3-150 4 152 3-239 4 239 3-170 4 170 3-46 4 50 3-152 4 146 3-200 4 204 3-246 4 244 3-165 4 165 3-162 4 166 3-126 4 126 3-120 4 122 3-54 4 50 3-131 4 136 3-198 4 196 3-136 4 133 3-75 4 76 3-126 4 127 3-180 4 157 3-122 4 136 3-126 4 120 3-135 4 122 3-348 4 351 3-570 4 578 3-374 4 364 3-539 4 536 3-428 4 419 3-524 4 542 3-331 4 316 3-125 4 113 3-146 4 146 3-257 4 235 3-135 4 154 3-192 4 179 3-197 4 192 3-146 4 165 3-415 4 417 3-552 4 533 3-421 4 421 3-261 4 269 3-146 4 135 3-160 4 164 3-256 4 255 3-138 4 144 3-345 4 358 3-474 4 462 3-476 4 476 3-473 4 483 3-413 4 407 3-375 4 380 3-359 4 362 3-157 4 143 3-381 4 376 3-456 4 463 3-240 4 227 3-232 4 256 3-421 4 412 3-411 4 400 3-136 4 141 3-249 4 254 3-160 4 174 3-359 4 351 3-357 4 361 3-354 4 319 3-405 4 384 3-443 4 448 3-482 4 477 3-234 4 217 3-248 4 258 3-174 4 169 3-484 4 485 3-477 4 478 3-252 4 257 3-421 4 416 3-468 4 468 3-428 4 420 3-163 4 180 3-417 4 426 3-189 4 165 3-432 4 446 3-468 4 466 3-496 4 505 3-615 4 594 3-548 4 566 3-612 4 598 3-522 4 523 3-222 4 205 3-522 4 532 3-519 4 531 3-539 4 534 3-589 4 577 3-536 4 542 3-337 4 346 3-225 4 234 3-390 4 381 3-296 4 316 3-288 4 286 3-243 4 208 3-208 4 236 3-236 4 225 3-557 4 560 3-761 4 758 3-659 4 667 3-581 4 553 3-302 4 401 3-372 4 391 3-467 4 474 3-551 4 537 3-406 4 410 3-161 4 176 3-176 4 166 3-243 4 231 3-428 4 443 3-528 4 518 3-429 4 437 3-519 4 505 3-481 4 499 3-564 4 565 3-221 4 224 3-191 4 174 3-308 4 317 3-231 4 235 3-427 4 416 3-452 4 443 3-378 4 386 3-221 4 232 3-229 4 240 3-175 4 175 3-74 4 73 3-73 4 73 3-106 4 104 3-71 4 63 3-63 4 62 3-62 4 72 3-106 4 109 3-82 4 72 3-65 4 69 3-110 4 111 3-83 4 80 3-67 4 64 3-189 4 198 3-325 4 316 3-162 4 163 3-65 4 73 3-159 4 157 3-194 4 196 3-207 4 205 3-136 4 132 3-67 4 67 3-67 4 73 3-73 4 68 3-127 4 126 3-67 4 70 3-273 4 265 3-170 4 176 3-68 4 75 3-75 4 69 3-172 4 178 3-143 4 138 3-125 4 118 3-85 4 94 3-187 4 187 3-167 4 162 3-170 4 175 3-254 4 245 3-188 4 196 3-71 4 72 3-196 4 190 3-208 4 212 3-70 4 74 3-115 4 108 3-67 4 74 3-196 4 232 3-342 4 375 3-354 4 357 3-197 4 194 3-85 4 74 3-74 4 87 3-87 4 78 3-153 4 153 3-103 4 98 3-74 4 89 3-197 4 184 3-274 4 276 3-331 4 327 3-216 4 219 3-193 4 197 3-206 4 203 3-324 4 333 3-195 4 196 3-272 4 269 3-96 4 98 3-285 4 275 3-198 4 203 3-92 4 90 3-200 4 201 3-208 4 205 3-271 4 280 3-304 4 299 3-212 4 211 3-80 4 80 3-113 4 113 3-91 4 97 3-215 4 217 3-88 4 74 3-169 4 177 3-82 4 79 3-143 4 151 3-228 4 228 3-224 4 211 3-82 4 79 3-168 4 168 3-114 4 125 3-141 4 134 3-147 4 158 3-448 4 448 3-579 4 568 3-335 4 342 3-142 4 129 3-235 4 230 3-196 4 212 3-144 4 146 3-132 4 126 3-126 4 136 3-184 4 162 3-405 4 422 3-507 4 508 3-316 4 310 3-315 4 309 3-120 4 133 3-218 4 207 3-122 4 131 3-475 4 472 3-522 4 423 3-486 4 476 3-505 4 493 3-464 4 495 3-237 4 243 3-338 4 305 3-503 4 536 3-654 4 646 3-530 4 517 3-221 4 244 3-221 4 208 3-207 4 208 3-602 4 591 3-486 4 484 3-344 4 350 3-519 4 515 3-562 4 589 3-220 4 226 3-530 4 522 3-511 4 515 3-220 4 207 3-183 4 160 3-155 4 161 3-207 4 220 3-245 4 228 3-260 4 258 3-150 4 153 3-198 4 203 3-153 4 149 3-206 4 226 3-472 4 468 3-405 4 441 3-124 4 129 3-348 4 344 3-422 4 433 3-421 4 409 3-447 4 463 3-375 4 378 3-311 4 315 3-343 4 336 3-472 4 481 3-418 4 410 3-318 4 313 3-307 4 329 3-309 4 312 3-306 4 304 3-196 4 199 3-144 4 150 3-209 4 187 3-207 4 212 3-129 4 129 3-128 4 134 3-323 4 320 3-323 4 327 3-370 4 384 3-271 4 284 3-201 4 199 3-81 4 76 3-76 4 85 3-85 4 74 3-190 4 191 3-83 4 85 3-215 4 219 3-197 4 191 3-75 4 88 3-88 4 76 3-83 4 90 3-142 4 143 3-204 4 198 3-208 4 216 3-238 4 227 3-195 4 192 3-124 4 127 3-137 4 145 3-170 4 171 3-193 4 186 3-190 4 195 3-194 4 193 3-202 4 199 3-78 4 82 3-82 4 86 3-86 4 78 3-188 4 194 3-193 4 190 3-129 4 131 3-83 4 74 3-88 4 89 3-194 4 202 3-222 4 220 3-234 4 239 3-163 4 141 3-135 4 138 3-369 4 366 3-420 4 437 3-439 4 413 3-261 4 289 3-525 4 498 3-464 4 479 3-197 4 203 3-208 4 209 3-304 4 309 3-247 4 237 3-245 4 233 3-298 4 293 3-182 4 186 3-186 4 179 3-183 4 195 3-284 4 270 3-446 4 465 3-536 4 526 3-186 4 196 3-148 4 187 3-77 4 73 3-174 4 176 3-180 4 180 3-191 4 196 3-176 4 169 3-159 4 161 3-160 4 157 3-159 4 159 3-62 4 71 3-70 4 60 3-71 4 72 3-144 4 149 3-145 4 142 3-58 4 60 3-140 4 137 3-81 4 87 3-67 4 69 3-60 4 61 3-135 4 132 3-131 4 134 3-129 4 123 3-76 4 81 3-77 4 79 3-124 4 121 3-128 4 128 3-125 4 126 3-114 4 114 3-102 4 100 3-109 4 109 3-113 4 113 3-43 4 46 3-93 4 91 3-40 4 42 3-41 4 39 3-38 4 43 3-41 4 37 3-87 4 90 3-38 4 39 3-60 4 59 3-55 4 52 3-83 4 85 3-32 4 35 3-33 4 29 3-36 4 35 3-31 4 37 3-36 4 36 3-34 4 33 3-27 4 24 3-36 4 40 3-60 4 59 3-23 4 21 3-52 4 55 3-58 4 57 3-47 4 49 3-23 4 24 3-45 4 44 3-41 4 41 3-39 4 38 3-36 4 36 3-14 4 15 3-13 4 15 3-15 5 17 20 1 20 0 20 1 20 1 21 0 20 1 20 1 20 0 20 1 20 1 20 0 20 1 20 1 20 0 21 1 20 1 20 0 20 1 20 0 20 1 20 1 20 0 20 1 20 1 21 0 20 1 20 1 20 0 20 1 20 1 20 0 20 1 20 0 20 1 21 1 20 0 20 1 20 1 11 0M756 8710l4 -110 4 110M791 8710l9 -292 9 292M912 8737l10 -647 10 647M952 8755l10 -889 10 889M1057 8755l7 -245 7 245M1088 8770l10 -645 10 645M1115 8770l10 -780 10 780M1222 8770l10 -860 10 860M1290 8665l10 -653 10 653M1346 8629l10 -571 10 571M1414 8596l10 -617 10 617M1515 8578l10 -543 10 543M3152 8634l4 -144 4 144M3263 8643l6 -183 6 183M3374 8653l6 -193 6 193M3834 8576l10 -342 10 342M3850 8575l10 -337 10 337M3886 8572l9 -312 9 312M4282 8280l10 -343 10 343M4550 8044l10 -368 10 368M4621 8044l9 -309 9 309M5440 8450l10 -406 10 406M5619 8162l5 -178 5 178M5738 8280l10 -330 10 330M6265 8280l5 -177 5 177M6295 8280l5 -160 5 160" fill="none" stroke="#000" stroke-width="17" stroke-linejoin="round"/><path transform="scale(.1)" d="M749 8462l20 10 20 9 20 9 20 9 21 9 20 9 20 8 20 9 20 8 20 8 20 8 20 8 20 8 20 7 21 8 20 7 20 7 20 7 20 7 20 6 20 7 20 6 20 6 20 6 21 6 20 6 20 6 20 6 20 6 13-18 4 70 3 65 4-87 3 89 4-94 3 97 4-91 3 85 4-34 3 39 4-39 3 37 4-101 3 97 4-138 3 141 4-112 3 109 4-74 3 75 4-84 3 85 4-94 3 94 4-116 3 119 4-102 3 101 4-37 3 37 4-103 3 101 4-56 3 60 4-70 3 68 4-42 3 38 4-61 3 64 4-40 3 39 4-75 3 75 4-42 3 45 4-171 3 170 4-172 3 169 4-177 3 182 4-109 3 108 4-39 3 39 4-65 3 51 2-44 20 5 20 6 20 6 20 6 21 6 20 6 20 5 20 6 20 6 20 6 20 5 20 6 20 5 20 6 21 5 20 5 20 6 20 5 20 5 20 5 20 4 20 5 20 4 20 5 21 4 20 5 20 4 20 4 20 4 20 4 20 4 20 4 20 4 20 4 21 4 20 4 20 3 20 4 20 4 20 4 20 4 20 3 20 4 20 4 14-2 3 2 4 15 3-14 4 29 3-20 4 19 3-47 4 49 3-80 4 81 3-57 4 60 3-69 4 68 3-48 4 52 3-66 4 63 3-61 4 63 3-20 4 23 3-22 4 23 3-23 4 24 3-37 4 37 3-29 4 28 3-32 4 32 3-21 4 24 3-87 4 86 3-46 4 49 3-25 4 26 3-44 4 43 3-19 4 23 3-22 4 21 3-20 4 20 3-23 4 24 3-55 4 56 3-92 4 93 3-58 4 61 3-21 4 22 3-21 4 19 3-21 4 25 3-34 4 33 3-20 4 22 3-21 4 22 3-21 4 21 3-20 4 23 3-22 4 20 3-63 4 64 3-75 4 75 3-68 4 72 3-53 4 52 3-73 4 75 3-80 4 79 3-67 4 71 3-23 4 23 3-23 4 24 3-61 4 62 3-51 4 51 3-48 4 48 3-19 4 21 3-42 4 41 3-18 4 22 3-28 4 26 3-31 4 35 3-22 4 23 3-22 4 20 3-25 4 27 3-42 4 43 3-20 4 20 3-47 4 51 3-68 4 67 3-75 4 75 3-61 4 63 3-24 4 25 3-42 4 42 3-20 4 21 3-20 4 19 3-18 4 22 3-32 4 33 3-24 4 24 3-28 4 28 3-20 4 20 3-57 4 60 3-76 4 76 3-55 4 56 3-35 4 36 3-20 4 20 3-19 4 22 3-58 4 59 3-55 4 53 3-18 4 21 3-33 4 35 3-21 4 20 3-34 4 37 3-21 4 23 3-70 4 68 3-95 4 97 3-70 4 73 3-53 4 52 3-53 4 54 3-66 4 68 3-55 4 56 3-36 4 37 3-53 4 53 3-58 4 60 3-54 4 54 3-21 4 23 3-30 4 31 3-32 4 35 3-56 4 55 3-61 4 62 3-56 4 57 3-34 4 34 3-34 4 37 3-25 4 27 3-39 4 36 3-22 4 24 3-22 4 26 3-60 4 58 3-84 4 86 3-86 4 88 3-89 4 91 3-25 4 26 3-60 4 62 3-128 4 125 3-71 4 76 3-28 4 29 3-27 4 29 3-72 4 71 3-67 4 68 3-78 4 78 3-69 4 70 3-79 4 82 3-62 4 62 3-26 4 24 3-23 4 27 3-26 4 28 3-34 4 33 3-28 4 28 3-43 4 45 3-45 4 49 3-29 4 26 3-82 4 84 3-86 4 86 3-141 4 144 3-70 4 70 3-79 4 84 3-116 4 114 3-27 4 27 3-78 4 78 3-40 4 41 3-49 4 52 3-49 4 51 3-75 4 73 3-165 4 169 3-63 4 66 3-30 4 32 3-6 2 17 21 4 20 4 20 4 20 4 20 4 12 6 4-119 3 147 4-60 3 62 4-12 3 12 4-29 3 30 4-33 3 34 4-31 3 31 4-32 3 32 4-87 3 88 4-255 3 257 4-135 3 135 4-174 3 174 4-31 3 31 4-20 3 22 4-162 3 162 4-31 3 30 4-13 3 16 4-13 3 12 4-21 3 21 4-30 3 30 4-30 3 33 4-78 3 81 4-55 3 52 4-137 3 131 4-68 3 74 4-166 3 163 4-89 3 85 4-96 3 99 4-111 3 115 4-127 3 128 4-137 3 155 4-253 3 248 4-351 3 347 4-376 3 381 4-394 3 391 4-183 3 170 4-133 3 151 4-158 3 147 4-224 3 217 4-367 3 369 4-133 3 144 4-482 3 479 4-591 3 596 4-497 3 496 4-480 3 473 4-164 3 161 4-478 3 474 4-463 3 472 4-251 3 237 4-217 3 229 4-161 3 173 4-177 3 148 4-152 3 156 4-159 3 162 4-166 3 180 4-184 3 156 4-159 3 165 4-187 3 192 4-314 3 321 4-362 3 363 4-235 3 226 4-183 3 188 4-190 3 166 4-297 3 305 4-215 3 214 4-437 3 442 4-674 3 684 4-659 3 647 4-188 3 208 4-210 3 176 4-177 3 186 4-489 3 506 4-655 3 665 4-511 3 491 4-203 3 220 4-478 3 455 4-219 3 241 4-563 3 540 4-689 3 700 4-539 3 542 4-863 3 847 4-735 3 755 4-557 3 535 4-206 3 207 4-242 3 165 4-583 3 505 4-383 3 283 4-105 3 172 4-113 3 245 4-611 3 638 4-549 3 565 4-718 3 713 4-585 3 618 4-529 3 529 4-614 3 623 4-768 3 768 4-364 3 344 4-223 3 236 4-233 3 259 4-682 3 670 4-972 3 984 4-634 3 622 4-437 3 454 4-252 3 246 4-244 3 251 4-249 3 250 4-439 3 440 4-698 3 704 4-855 3 868 4-692 3 701 4-267 3 274 4-272 3 270 4-313 3 253 4-357 3 345 4-663 3 620 4-653 3 641 4-476 3 447 4-446 3 463 4-686 3 649 4-675 3 645 4-653 3 642 4-271 3 300 4-357 3 308 4-683 3 710 4-768 3 745 4-308 3 302 4-375 3 361 4-309 3 265 4-275 3 293 4-441 3 406 4-779 3 771 4-706 3 684 4-729 3 733 4-885 3 864 4-644 3 619 4-730 3 740 4-652 3 691 4-289 3 282 4-280 3 255 4-674 3 685 4-692 3 712 4-736 3 708 4-667 3 702 4-291 3 280 4-738 3 720 4-696 3 711 4-302 3 239 4-270 3 255 4-626 3 569 4-867 3 816 4-239 3 170 4-187 3 223 4-644 3 707 4-555 3 579 4-217 3 256 4-226 3 291 4-473 3 453 4-257 3 284 4-449 3 501 4-662 3 642 4-660 3 695 4-728 3 721 4-845 3 852 4-768 3 797 4-1124 3 1148 4-826 3 836 4-1131 3 1112 4-852 3 875 4-321 3 325 4-723 3 737 4-927 3 974 4-708 3 713 4-327 3 325 4-566 3 591 4-963 3 965 4-1101 3 1073 4-1159 3 1156 4-865 3 860 4-250 3 289 4-376 3 376 4-572 3 550 4-646 3 668 4-757 3 762 4-263 3 273 4-430 3 422 4-393 3 407 4-612 3 582 4-1242 3 1241 4-566 3 605 4-248 3 238 4-235 3 233 4-255 3 248 4-327 3 327 4-219 3 211 4-610 3 613 4-913 3 920 4-543 3 532 4-424 3 432 4-563 3 576 4-646 3 644 4-495 3 487 4-256 3 266 4-674 3 667 4-886 3 898 4-211 3 205 4-203 3 179 4-176 3 197 4-195 3 189 4-187 3 200 4-255 3 235 4-282 3 301 4-205 3 212 4-202 3 202 4-315 3 292 4-174 3 173 4-169 3 169 4-170 3 191 4-502 3 505 4-1020 3 1010 4-464 3 469 4-497 3 494 4-396 3 398 4-324 3 308 4-388 3 402 4-545 3 524 4-609 3 637 4-508 3 495 4-208 3 195 4-289 3 312 4-170 3 167 4-458 3 451 4-503 3 497 4-152 3 143 4-378 3 379 4-570 3 573 4-432 3 452 4-439 3 419 4-144 3 146 4-354 3 353 4-511 3 514 4-445 3 434 4-177 3 181 4-187 3 203 4-153 3 141 4-408 3 408 4-507 3 521 4-181 3 155 4-180 3 204 4-167 3 161 4-171 3 173 4-278 3 272 4-142 3 136 4-201 3 193 4-131 3 150 4-196 3 187 4-477 3 464 4-496 3 515 4-162 3 155 4-129 3 116 4-394 3 401 4-350 3 363 4-303 3 288 4-139 3 136 4-187 3 190 4-328 3 324 4-300 3 302 4-120 3 124 4-146 3 141 4-141 3 164 4-91 3 94 4-170 3 183 4-263 3 265 4-230 3 226 4-165 3 163 4-71 3 72 4-69 3 74 4-73 3 64 4-103 3 111 4-194 3 195 4-178 3 169 4-160 3 162 4-244 3 247 4-181 3 188 4-274 3 268 4-179 3 186 4-174 3 173 4-172 3 167 4-69 3 76 4-123 3 116 4-183 3 191 4-232 3 227 4-179 3 174 4-164 3 170 4-72 3 71 4-71 3 75 4-187 3 182 4-255 3 260 4-190 3 185 4-171 3 181 4-183 3 180 4-173 3 174 4-114 3 104 4-124 3 129 4-73 3 74 4-193 3 192 4-189 3 197 4-78 3 67 4-177 3 179 4-199 3 206 4-76 3 68 4-195 3 205 4-226 3 230 4-240 3 231 4-211 3 210 4-171 3 169 4-173 3 182 4-180 3 179 4-190 3 188 4-183 3 192 4-83 3 82 4-170 3 158 4-211 3 222 4-271 3 269 4-248 3 244 4-214 3 216 4-101 3 109 4-195 3 195 4-250 3 249 4-231 3 225 4-81 3 88 4-83 3 75 4-74 3 73 4-115 3 120 4-208 3 211 4-215 3 219 4-192 3 215 4-56 3 55 4-82 3 82 4-88 3 90 4-22 3 23 4-54 3 55 4-59 3 60 4-54 3 57 4-58 3 57 4-139 3 140 4-87 3 88 4-91 3 92 4-23 3 21 4-27 3 32 4-28 3 26 4-31 3 34 4-37 3 36 4-25 3 25 4-21 3 24 4-81 3 81 4-86 3 86 4-138 3 139 4-106 3 109 4-36 3 34 4-23 3 25 4-69 3 69 4-25 3 27 4-34 3 36 4-24 3 23 4-51 3 54 4-132 3 133 4-129 3 128 4-157 3 157 4-61 3 63 4-78 3 79 4-75 3 73 4-49 3 52 4-57 3 56 4-69 3 71 4-50 3 52 4-73 3 73 4-21 3 20 4-19 3 23 4-29 3 28 4-22 3 24 4-22 3 23 4-62 3 63 4-134 3 135 4-110 3 107 4-46 3 50 4-21 3 22 4-22 3 23 4-32 3 32 4-21 3 21 4-3 3 10 20 3 20 3 20 3 20 3 20 3 20 2 20 3 20 3 20 2 21 3 20 2 20 3 20 2 20 2 20 3 20 2 20 2 20 2 20 2 21 2 20 3 20 2 20 2 20 2 20 2 20 2 20 2 20 2 20 1 21 2 20 2 20 2 20 2 20 1 20 2 20 2 20 1 20 2 20 1 21 2 15 1M875 8520l2 -520 2 520M931 8543l2 -283 2 283M968 8558l2 -230 2 230M1091 8604l2 -276 2 276M1197 8638l2 -288 2 288M1308 8672l2 -212 2 212M2444 8946l4 -66 4 66M2815 8977l4 -87 4 87M2871 8984l4 -84 4 84M3342 9038l4 -103 4 103M3836 8875l10 -405 10 405M4125 8696l10 -534 10 534M4420 8405l10 -527 10 527M4550 8264l10 -505 10 505M4610 8242l10 -436 10 436M4835 8485l10 -797 10 797M4860 8525l10 -802 10 802M6239 9191l7 -221 7 221M6302 9199l4 -134 4 134" fill="none" stroke="#f00" stroke-width="17" stroke-linejoin="round"/></g>
<clipPath id="cBL1"><rect x="43.75" y="953.50" width="710.25" height="203.90"/></clipPath>
<g id="dBL1" clip-path="url(#cBL1)"><path transform="scale(.1)" d="M749 10602l20 13 20 13 20 13 20 12 21 13 20 11 20 12 20 12 20 11 20 11 20 10 20 11 20 9 20 10 21 9 20 9 20 8 20 8 20 8 20 7 20 8 20 7 20 7 20 6 21 7 20 6 20 7 20 6 20 6 20 6 20 6 18 96 4 25 3 154 4-318 3 331 4-357 3 350 4-326 3 340 4-358 3 353 4-152 3 152 4-223 3 212 4-163 3 186 4-345 3 341 4-422 3 431 4-402 3 382 4-319 3 340 4-407 3 406 4-398 3 391 4-323 3 336 4-352 3 348 4-329 3 329 4-324 3 318 4-323 3 340 4-330 3 324 4-156 3 143 4-219 3 237 4-188 2-79 20 6 20 6 20 6 20 6 21 6 20 5 20 6 20 6 20 5 20 6 20 5 20 6 20 5 20 6 21 5 20 5 20 5 20 6 20 5 20 5 20 5 20 5 20 5 20 5 21 4 20 5 20 5 20 5 20 5 20 4 20 5 20 5 20 4 20 5 21 4 20 5 20 4 20 4 20 4 20 5 20 4 6 1 4-11 3 25 4-28 3 28 4-12 3 15 4-21 3 20 4-16 3 19 4-30 3 31 4-31 3 32 4-14 3 15 4-30 3 30 4-74 3 75 4-28 3 28 4-18 3 20 4-15 3 17 4-30 3 30 4-31 3 33 4-30 3 30 4-31 3 32 4-40 3 43 4-26 3 25 4-13 3 14 4-13 3 14 4-13 3 14 4-30 3 32 4-35 3 36 4-14 3 16 4-15 3 15 4-14 3 14 4-38 3 40 4-35 3 35 4-30 3 32 4-36 3 37 4-13 3 13 4-23 3 24 4-24 3 27 4-18 3 17 4-14 3 17 4-14 3 14 4-32 3 33 4-40 3 42 4-31 3 30 4-23 3 25 4-29 3 30 4-22 3 24 4-30 3 29 4-51 3 53 4-51 3 53 4-33 3 34 4-31 3 31 4-76 3 78 4-101 3 101 4-45 3 46 4-49 3 51 4-86 3 86 4-42 3 43 4-33 3 35 4-59 3 59 4-31 3 32 4-82 3 84 4-14 3 15 4-14 3 16 4-15 3 13 4-12 3 15 4-14 3 15 4-14 3 14 4-76 3 77 4-72 3 74 4-15 3 15 4-17 3 19 4-14 3 16 4-50 3 51 4-112 3 111 4-45 3 47 4-33 3 34 4-33 3 34 4-30 3 31 4-13 3 13 4-108 3 110 4-52 3 52 4-12 3 15 4-15 3 15 4-34 3 34 4-32 3 33 4-55 3 57 4-85 3 87 4-63 3 63 4-28 3 29 4-17 3 17 4-27 3 30 4-53 3 54 4-52 3 53 4-17 3 17 4-19 3 20 4-18 3 20 4-18 3 19 4-14 3 15 4-28 3 28 4-38 3 41 4-56 3 56 4-24 3 26 4-63 3 64 4-95 3 96 4-99 3 101 4-23 3 22 4-21 3 22 4-30 3 32 4-30 3 31 4-62 3 63 4-103 3 104 4-28 3 29 4-15 3 16 4-16 3 19 4-63 3 62 4-112 3 113 4-57 3 58 4-12 3 13 4-12 3 15 4-14 3 14 4-14 3 16 4-19 3 20 4-64 3 66 4-137 3 137 4-68 3 68 4-23 3 26 4-23 3 24 4-14 3 15 4-15 3 15 4-18 3 19 4-16 3 17 4-90 3 91 4-39 3 42 4-19 3 19 4-32 3 32 4-124 3 127 4-29 3 29 4-13 3 13 4-12 3 14 4-19 3 20 4-17 3 18 4-19 3 22 4-26 3 26 4-43 3 44 4-59 3 59 4-12 3 14 4-17 3 19 4-18 3 19 4-21 3 23 4-15 3 14 4-13 3 14 4-13 3 15 4-18 3 20 4-124 3 124 4-61 3 62 4-14 3 15 4-15 3 17 4-24 3 23 4-12 3 15 4-14 3 15 4-18 3 18 4-36 3 39 4-92 3 92 4-13 3 19 3 14 20 5 20 4 20 4 20 4 5 15 4-35 3 64 4-129 3 128 4-22 3 24 4-37 3 38 4-29 3 32 4-267 3 267 4-158 3 160 4-25 3 24 4-26 3 28 4-26 3 25 4-19 3 23 4-58 3 58 4-125 3 127 4-160 3 161 4-23 3 22 4-65 3 65 4-155 3 157 4-84 3 87 4-34 3 32 4-48 3 50 4-76 3 77 4-82 3 84 4-229 3 234 4-429 3 433 4-219 3 220 4-116 3 106 4-107 3 127 4-179 3 174 4-319 3 317 4-710 3 707 4-309 3 304 4-120 3 125 4-356 3 355 4-676 3 675 4-546 3 556 4-402 3 401 4-630 3 616 4-405 3 408 4-132 3 126 4-171 3 170 4-279 3 299 4-550 3 533 4-716 3 723 4-410 3 400 4-675 3 673 4-603 3 620 4-370 3 360 4-419 3 431 4-759 3 743 4-436 3 438 4-247 3 237 4-403 3 410 4-648 3 643 4-427 3 439 4-609 3 620 4-700 3 692 4-402 3 391 4-302 3 305 4-158 3 170 4-171 3 176 4-177 3 159 4-209 3 227 4-190 3 194 4-185 3 178 4-271 3 278 4-404 3 386 4-592 3 600 4-467 3 458 4-423 3 424 4-521 3 538 4-403 3 400 4-190 3 199 4-383 3 366 4-214 3 213 4-207 3 219 4-262 3 273 4-625 3 598 4-574 3 569 4-419 3 435 4-809 3 818 4-640 3 630 4-856 3 860 4-541 3 543 4-579 3 570 4-432 3 426 4-375 3 385 4-209 3 222 4-258 3 258 4-620 3 601 4-825 3 834 4-574 3 592 4-233 3 211 4-648 3 669 4-234 3 216 4-217 3 243 4-374 3 365 4-237 3 234 4-379 3 381 4-279 3 263 4-577 3 597 4-615 3 616 4-246 3 250 4-252 3 230 4-363 3 369 4-238 3 229 4-230 3 264 4-308 3 301 4-288 3 285 4-258 3 262 4-628 3 611 4-680 3 707 4-820 3 823 4-800 3 792 4-706 3 713 4-670 3 633 4-601 3 620 4-688 3 677 4-1067 3 1081 4-680 3 670 4-269 3 266 4-406 3 429 4-294 3 240 4-255 3 243 4-460 3 466 4-654 3 605 4-700 3 716 4-610 3 559 4-813 3 809 4-776 3 766 4-543 3 523 4-491 3 445 4-502 3 490 4-479 3 460 4-226 3 206 4-575 3 564 4-682 3 676 4-466 3 424 4-258 3 253 4-200 3 176 4-206 3 180 4-436 3 402 4-683 3 681 4-589 3 553 4-336 3 315 4-290 3 266 4-332 3 323 4-328 3 289 4-215 3 189 4-129 3 125 4-140 3 119 4-136 3 106 4-122 3 106 4-113 3 115 4-325 3 335 4-709 3 728 4-455 3 471 4-289 3 322 4-216 3 238 4-325 3 329 4-379 3 407 4-331 3 334 4-370 3 404 4-645 3 641 4-795 3 821 4-473 3 495 4-195 3 237 4-476 3 499 4-693 3 713 4-644 3 701 4-956 3 944 4-624 3 663 4-569 3 592 4-306 3 315 4-698 3 696 4-972 3 984 4-936 3 958 4-310 3 308 4-306 3 310 4-309 3 284 4-447 3 479 4-322 3 310 4-645 3 666 4-780 3 769 4-497 3 510 4-320 3 293 4-632 3 653 4-679 3 663 4-636 3 638 4-842 3 854 4-800 3 826 4-518 3 524 4-498 3 490 4-900 3 871 4-1265 3 1267 4-855 3 861 4-532 3 556 4-707 3 718 4-699 3 695 4-356 3 365 4-568 3 530 4-297 3 325 4-387 3 392 4-469 3 445 4-280 3 305 4-296 3 305 4-296 3 265 4-256 3 278 4-342 3 369 4-337 3 320 4-747 3 759 4-767 3 773 4-660 3 655 4-246 3 219 4-481 3 493 4-213 3 206 4-197 3 197 4-187 3 195 4-417 3 440 4-574 3 555 4-560 3 562 4-459 3 485 4-333 3 316 4-359 3 352 4-281 3 280 4-335 3 350 4-249 3 246 4-227 3 235 4-314 3 311 4-368 3 335 4-245 3 263 4-389 3 388 4-221 3 207 4-260 3 259 4-216 3 225 4-218 3 205 4-269 3 264 4-202 3 215 4-493 3 509 4-486 3 467 4-215 3 233 4-234 3 213 4-214 3 199 4-419 3 450 4-478 3 475 4-507 3 490 4-214 3 216 4-217 3 212 4-253 3 236 4-432 3 445 4-460 3 467 4-761 3 758 4-217 3 231 4-232 3 194 4-195 3 219 4-308 3 288 4-283 3 278 4-228 3 247 4-325 3 335 4-300 3 280 4-209 3 205 4-464 3 451 4-776 3 800 4-491 3 497 4-234 3 236 4-383 3 363 4-210 3 218 4-635 3 616 4-535 3 538 4-680 3 667 4-505 3 525 4-451 3 452 4-444 3 446 4-565 3 551 4-487 3 489 4-209 3 197 4-198 3 203 4-451 3 462 4-562 3 569 4-224 3 191 4-469 3 500 4-534 3 517 4-612 3 617 4-579 3 590 4-587 3 523 4-950 3 832 4-727 3 733 4-323 3 342 4-572 3 531 4-702 3 722 4-700 3 708 4-434 3 424 4-476 3 447 4-305 3 282 4-285 3 326 4-540 3 537 4-550 3 513 4-331 3 350 4-648 3 614 4-740 3 737 4-698 3 702 4-356 3 372 4-633 3 598 4-589 3 599 4-984 3 972 4-985 3 972 4-670 3 700 4-302 3 286 4-591 3 551 4-631 3 636 4-558 3 551 4-320 3 320 4-313 3 310 4-236 3 264 4-262 3 230 4-228 3 253 4-251 3 245 4-242 3 232 4-378 3 383 4-234 3 271 4-563 3 569 4-708 3 712 4-762 3 753 4-611 3 633 4-824 3 805 4-729 3 745 4-699 3 735 4-838 3 820 4-638 3 663 4-659 3 670 4-885 3 900 4-904 3 885 4-823 3 845 4-792 3 776 4-896 3 931 4-795 3 811 4-746 3 829 4-379 3 374 4-327 3 321 4-693 3 711 4-803 3 802 4-746 3 753 4-333 3 344 4-341 3 323 4-319 3 367 4-364 3 314 4-534 3 562 4-728 3 733 4-834 3 877 4-799 3 758 4-738 3 781 4-859 3 844 4-762 3 865 4-181 3 208 4-293 3 287 4-192 3 190 4-189 3 176 4-175 3 178 4-177 3 174 4-195 3 194 4-252 3 253 4-219 3 232 4-193 3 198 4-188 3 170 4-169 3 188 4-385 3 370 4-522 3 535 4-481 3 477 4-179 3 167 4-276 3 276 4-165 3 166 4-165 3 178 4-223 3 224 4-439 3 453 4-671 3 665 4-804 3 795 4-529 3 520 4-369 3 393 4-539 3 523 4-400 3 399 4-370 3 373 4-584 3 601 4-610 3 596 4-177 3 194 4-218 3 201 4-286 3 305 4-218 3 214 4-380 3 376 4-595 3 593 4-824 3 829 4-484 3 476 4-437 3 451 4-407 3 404 4-440 3 429 4-378 3 387 4-667 3 663 4-375 3 379 4-594 3 599 4-731 3 712 4-406 3 425 4-220 3 224 4-182 3 157 4-156 3 171 4-169 3 163 4-397 3 405 4-167 3 176 4-258 3 259 4-264 3 241 4-329 3 326 4-553 3 567 4-698 3 686 4-401 3 410 4-150 3 144 4-389 3 401 4-514 3 499 4-421 3 428 4-309 3 309 4-341 3 334 4-295 3 313 4-147 3 149 4-304 3 287 4-524 3 539 4-421 3 412 4-324 3 321 4-294 3 294 4-364 3 379 4-407 3 394 4-176 3 180 4-167 3 165 4-121 3 132 4-284 3 268 4-430 3 438 4-408 3 402 4-535 3 531 4-322 3 320 4-241 3 243 4-112 3 107 4-431 3 422 4-264 3 261 4-100 3 97 4-106 3 103 4-129 3 130 4-127 3 126 4-94 3 99 4-105 3 96 4-109 3 106 4-171 3 170 4-195 3 195 4-169 3 162 4-269 3 268 4-70 3 66 4-68 3 67 4-169 3 161 4-208 3 211 4-59 3 57 2 3 20 1 20 1 20 3 20 3 21 3 20 5 20 4 20 5 20 5 20 5 20 6 20 5 20 5 20 5 21 5 20 4 20 4 20 3 20 3 20 3 20 3 20 3 20 3 20 3 21 3 20 3 20 2 20 3 20 3 20 2 20 3 20 2 20 2 20 3 21 2 20 2 20 2 20 2 11 1M878 11000l2 -892 2 892M931 10920l2 -576 2 576M1096 10930l2 -450 2 450M1198 10960l2 -470 2 470M1264 10900l2 -200 2 200M1383 11050l2 -540 2 540M1420 11070l10 -470 10 470M2447 11140l5 -155 5 155M2882 11203l4 -105 4 105M3677 11376l8 -266 8 266M3811 11178l9 -306 9 306M3835 11167l10 -387 10 387M4194 11007l10 -1234 10 1234M4277 10970l10 -1066 10 1066M4336 10943l10 -733 10 733M4372 10926l10 -586 10 586M4693 10627l10 -747 10 747M5000 10675l10 -795 10 795M5096 10911l10 -1021 10 1021M5612 10450l8 -250 8 250M5750 10460l10 -460 10 460M5844 10480l10 -434 10 434M5944 10570l10 -334 10 334" fill="none" stroke="#000" stroke-width="17" stroke-linejoin="round"/><path transform="scale(.1)" d="M749 10602l20 13 20 13 20 13 20 12 21 13 20 11 20 12 20 12 20 11 20 11 20 10 20 11 20 9 20 10 21 9 20 9 20 8 20 8 20 8 20 7 20 8 20 7 20 7 20 6 21 7 20 6 20 7 20 6 20 6 20 6 20 6 18 81 4 35 3 171 4-155 3 155 4-154 3 142 4-140 3 146 4-145 3 140 4-212 3 234 4-169 3 166 4-368 3 361 4-344 3 351 4-152 3 155 4-215 3 216 4-160 3 167 4-240 3 239 4-200 3 202 4-329 3 315 4-363 3 375 4-356 3 357 4-351 3 359 4-432 3 413 4-327 3 339 4-171 3 170 4-325 3 331 4-350 2 90 20 6 20 6 20 6 20 6 21 6 20 5 20 6 20 6 20 5 20 6 20 5 20 6 20 5 20 6 21 5 20 5 20 5 20 6 20 5 20 5 20 5 20 5 20 5 20 5 21 4 20 5 20 5 20 5 20 5 20 4 20 5 20 5 20 4 20 5 21 4 20 5 20 4 20 4 20 4 20 5 20 4 6 1 4 0 3 14 4-23 3 25 4-41 3 42 4-46 3 45 4-27 3 28 4-12 3 15 4-14 3 14 4-13 3 15 4-14 3 14 4-13 3 15 4-32 3 33 4-31 3 32 4-14 3 15 4-14 3 15 4-14 3 15 4-22 3 24 4-15 3 14 4-22 3 24 4-17 3 17 4-14 3 16 4-16 3 18 4-15 3 14 4-13 3 15 4-17 3 17 4-16 3 18 4-52 3 53 4-89 3 89 4-45 3 46 4-21 3 24 4-19 3 20 4-32 3 33 4-33 3 34 4-15 3 15 4-63 3 64 4-56 3 57 4-32 3 33 4-40 3 40 4-33 3 36 4-22 3 21 4-32 3 33 4-48 3 50 4-32 3 34 4-77 3 77 4-39 3 40 4-31 3 31 4-56 3 57 4-64 3 66 4-36 3 37 4-14 3 15 4-19 3 20 4-41 3 43 4-36 3 36 4-61 3 61 4-12 3 14 4-19 3 21 4-15 3 15 4-19 3 20 4-13 3 15 4-31 3 32 4-47 3 48 4-39 3 40 4-14 3 15 4-23 3 23 4-38 3 39 4-43 3 45 4-22 3 22 4-15 3 16 4-13 3 15 4-40 3 40 4-55 3 56 4-32 3 35 4-38 3 38 4-36 3 36 4-66 3 69 4-83 3 83 4-13 3 13 4-29 3 32 4-41 3 41 4-14 3 15 4-76 3 78 4-77 3 78 4-39 3 39 4-13 3 14 4-13 3 15 4-56 3 56 4-67 3 67 4-34 3 37 4-45 3 45 4-49 3 49 4-43 3 46 4-52 3 54 4-118 3 117 4-47 3 49 4-79 3 79 4-59 3 61 4-90 3 91 4-72 3 74 4-14 3 14 4-45 3 46 4-86 3 87 4-84 3 84 4-66 3 70 4-15 3 14 4-13 3 16 4-15 3 16 4-14 3 14 4-13 3 15 4-30 3 29 4-135 3 138 4-39 3 39 4-13 3 15 4-18 3 18 4-18 3 21 4-15 3 16 4-14 3 13 4-19 3 21 4-79 3 82 4-95 3 95 4-90 3 90 4-72 3 73 4-101 3 104 4-14 3 14 4-20 3 21 4-16 3 18 4-14 3 14 4-13 3 16 4-63 3 62 4-150 3 151 4-65 3 67 4-14 3 15 4-13 3 14 4-13 3 14 4-17 3 17 4-12 3 15 4-14 3 13 4-21 3 22 4-12 3 13 4-35 3 37 4-53 3 55 4-107 3 108 4-88 3 89 4-86 3 88 4-14 3 14 4-13 3 14 4-13 3 13 4-12 3 15 4-14 3 14 4-44 3 47 4-127 3 126 4-12 3 15 4-26 3 27 4-22 3 23 4-18 3 19 4-16 3 17 4-52 3 52 4-63 3 63 4-12 3 15 4-14 3 14 4-40 3 41 4-63 3 66 4-33 3 38 3 14 20 5 20 4 20 4 20 4 5 15 4 7 3 21 4-17 3 20 4-20 3 21 4-23 3 21 4-105 3 109 4-66 3 66 4-20 3 21 4-196 3 196 4-82 3 85 4-60 3 58 4-52 3 55 4-21 3 20 4-19 3 21 4-36 3 37 4-205 3 208 4-62 3 60 4-20 3 21 4-20 3 23 4-361 3 361 4-115 3 118 4-66 3 67 4-373 3 377 4-561 3 567 4-295 3 300 4-402 3 405 4-295 3 294 4-138 3 132 4-179 3 184 4-294 3 275 4-298 3 318 4-571 3 554 4-467 3 473 4-570 3 561 4-682 3 686 4-346 3 355 4-379 3 385 4-512 3 488 4-269 3 289 4-211 3 197 4-253 3 245 4-408 3 425 4-369 3 359 4-161 3 164 4-166 3 180 4-183 3 166 4-255 3 263 4-219 3 206 4-330 3 338 4-470 3 458 4-827 3 837 4-525 3 528 4-185 3 190 4-191 3 196 4-298 3 280 4-177 3 175 4-439 3 449 4-492 3 492 4-721 3 708 4-526 3 535 4-448 3 445 4-512 3 529 4-458 3 460 4-529 3 527 4-514 3 499 4-180 3 180 4-180 3 201 4-201 3 196 4-196 3 198 4-198 3 183 4-183 3 177 4-279 3 282 4-243 3 237 4-596 3 598 4-665 3 660 4-539 3 567 4-606 3 588 4-421 3 426 4-941 3 958 4-947 3 911 4-810 3 808 4-1220 3 1249 4-854 3 845 4-480 3 485 4-486 3 518 4-544 3 521 4-930 3 899 4-1106 3 1150 4-1330 3 1331 4-1101 3 1096 4-786 3 761 4-546 3 531 4-576 3 620 4-451 3 460 4-430 3 421 4-781 3 760 4-983 3 958 4-1140 3 1186 4-878 3 885 4-812 3 765 4-853 3 891 4-1068 3 1070 4-946 3 904 4-732 3 775 4-380 3 390 4-339 3 371 4-327 3 357 4-841 3 844 4-830 3 808 4-1213 3 1206 4-801 3 837 4-1263 3 1219 4-1193 3 1225 4-851 3 842 4-346 3 357 4-358 3 327 4-327 3 311 4-424 3 445 4-491 3 470 4-557 3 590 4-366 3 338 4-432 3 437 4-426 3 319 4-405 3 359 4-575 3 585 4-384 3 351 4-358 3 379 4-638 3 598 4-567 3 537 4-511 3 524 4-362 3 323 4-321 3 312 4-320 3 312 4-552 3 519 4-294 3 290 4-995 3 974 4-756 3 758 4-694 3 663 4-590 3 587 4-304 3 249 4-301 3 279 4-331 3 297 4-425 3 389 4-487 3 396 4-326 3 327 4-335 3 330 4-336 3 312 4-326 3 305 4-427 3 401 4-282 3 290 4-295 3 317 4-323 3 265 4-290 3 316 4-419 3 433 4-626 3 646 4-955 3 982 4-886 3 863 4-856 3 879 4-692 3 745 4-488 3 501 4-754 3 772 4-802 3 822 4-846 3 816 4-744 3 765 4-349 3 486 4-248 3 402 4-589 3 591 4-896 3 897 4-833 3 829 4-692 3 685 4-388 3 415 4-295 3 282 4-267 3 266 4-322 3 334 4-273 3 260 4-257 3 237 4-235 3 257 4-721 3 717 4-379 3 371 4-319 3 322 4-341 3 339 4-753 3 758 4-957 3 993 4-281 3 259 4-1021 3 1004 4-925 3 936 4-840 3 841 4-869 3 871 4-526 3 529 4-659 3 681 4-603 3 579 4-388 3 391 4-230 3 247 4-403 3 406 4-321 3 337 4-573 3 548 4-557 3 578 4-258 3 251 4-571 3 586 4-966 3 935 4-256 3 279 4-313 3 306 4-366 3 365 4-370 3 364 4-499 3 518 4-891 3 871 4-779 3 801 4-606 3 595 4-937 3 932 4-644 3 656 4-210 3 232 4-229 3 221 4-218 3 208 4-237 3 249 4-750 3 755 4-947 3 934 4-516 3 517 4-496 3 497 4-896 3 904 4-641 3 650 4-1021 3 1015 4-576 3 587 4-791 3 792 4-760 3 735 4-443 3 465 4-226 3 219 4-293 3 281 4-179 3 202 4-200 3 198 4-208 3 184 4-550 3 566 4-830 3 831 4-482 3 494 4-193 3 175 4-173 3 194 4-192 3 174 4-451 3 458 4-490 3 498 4-384 3 370 4-285 3 308 4-467 3 450 4-461 3 464 4-663 3 682 4-310 3 291 4-399 3 409 4-645 3 634 4-602 3 598 4-393 3 400 4-561 3 573 4-618 3 620 4-582 3 576 4-739 3 745 4-491 3 482 4-513 3 515 4-509 3 502 4-620 3 635 4-634 3 630 4-433 3 426 4-492 3 493 4-407 3 405 4-146 3 150 4-333 3 346 4-480 3 479 4-445 3 429 4-312 3 315 4-249 3 256 4-167 3 182 4-197 3 176 4-145 3 146 4-400 3 399 4-135 3 136 4-135 3 156 4-155 3 142 4-141 3 142 4-141 3 138 4-137 3 146 4-322 3 322 4-396 3 386 4-288 3 300 4-504 3 503 4-418 3 420 4-366 3 354 4-568 3 579 4-366 3 358 4-280 3 280 4-128 3 144 4-348 3 334 4-302 3 306 4-130 3 140 4-139 3 124 4-284 3 291 4-346 3 342 4-278 3 296 4-176 3 172 4-196 3 195 4-230 3 237 4-191 3 177 4-251 3 254 4-375 3 375 4-567 3 582 4-386 3 378 4-235 3 225 4-212 3 215 4-318 3 326 4-278 3 277 4-139 3 136 4-194 3 200 4-297 3 294 4-119 3 120 4-124 3 136 4-149 3 149 4-209 3 194 4-111 3 123 4-171 3 178 4-137 3 134 4-283 3 286 4-421 3 412 4-336 3 333 4-129 3 140 4-119 3 110 4-109 3 121 4-245 3 248 4-478 3 466 4-329 3 333 4-455 3 447 4-269 3 285 4-305 3 299 4-256 3 253 4-103 3 105 4-103 3 112 4-154 3 146 4-102 3 98 4-96 3 99 4-107 3 110 4-115 3 119 4-167 3 169 4-121 3 124 4-103 3 96 4-270 3 282 4-426 3 417 4-220 3 228 4-138 3 143 4-101 3 100 4-204 3 197 4-199 3 198 4-242 3 255 4-109 3 103 4-201 3 207 4-253 3 244 4-239 3 251 4-313 3 315 4-225 3 223 4-86 3 86 4-139 3 138 4-111 3 116 4-84 3 75 4-172 3 173 4-224 3 237 4-182 3 178 4-76 3 75 4-214 3 221 4-198 3 190 4-299 3 302 4-244 3 243 4-146 3 155 4-329 3 323 4-64 3 66 4-63 3 65 4-91 3 93 4-67 3 66 4-127 3 133 4-84 3 87 4-81 3 73 4-140 3 149 4-230 3 226 4-277 3 276 4-289 3 295 4-150 3 147 4-141 3 143 4-170 3 173 4-151 3 154 4-151 3 146 4-45 3 52 4-56 3 53 4-71 3 76 4-78 3 79 4-66 3 64 4-44 3 42 4-84 3 92 4-36 3 36 20 2 20 1 20 2 20 2 20 1 20 2 20 2 20 2 20 2 21 2 20 2 20 2 20 2 20 2 20 2 20 2 20 3 20 2 20 2 21 3 20 2 20 3 20 2 20 3 20 3 20 3 20 2 20 4 20 3 21 3 20 3 20 4 20 3 20 4 20 4 20 3 20 4 20 4 20 4 21 3 20 4 20 4 20 4 18 4M878 11008l2 -720 2 720M931 10800l2 -400 2 400M968 11120l2 -630 2 630M1091 10870l2 -230 2 230M1128 10970l2 -390 2 390M1198 10960l2 -340 2 340M1235 10850l2 -160 2 160M1264 10870l2 -170 2 170M1316 10970l2 -502 2 502M1361 11040l2 -520 2 520M2470 11143l4 -63 4 63M2816 11194l4 -108 4 108M3196 11252l4 -142 4 142M3455 11293l5 -183 5 183M3596 11370l10 -520 10 520M3630 11373l10 -373 10 373M3720 11379l10 -484 10 484M3844 11112l10 -577 10 577M3945 11044l10 -554 10 554M3850 11108l10 -578 10 578M3944 11044l10 -546 10 546M4158 10688l10 -642 10 642M4194 10688l10 -713 10 713M4610 10212l10 -427 10 427M4633 10212l10 -498 10 498M4800 10732l10 -947 10 947M4835 10750l10 -894 10 894M4977 10830l10 -855 10 855M5096 10905l10 -835 10 835M6227 11343l7 -228 7 228" fill="none" stroke="#f00" stroke-width="17" stroke-linejoin="round"/></g>
<clipPath id="cBL2"><rect x="43.75" y="1157.40" width="710.25" height="203.90"/></clipPath>
<g id="dBL2" clip-path="url(#cBL2)"><path transform="scale(.1)" d="M749 12519l20 16 20 15 20 16 20 15 21 15 20 14 20 14 20 14 20 13 20 13 20 13 20 12 20 11 20 11 21 10 20 10 20 8 20 9 20 8 20 8 20 8 20 8 20 7 20 7 21 6 20 7 20 6 20 7 20 6 20 6 20 6 20 6 20 6 20 6 21 6 20 5 20 6 20 6 20 7 20 6 20 6 20 6 20 6 20 6 21 6 20 6 20 6 20 6 20 6 20 6 20 6 20 6 20 6 20 5 21 6 20 6 20 5 20 6 20 5 20 6 20 5 20 5 20 6 20 5 21 5 20 5 20 6 20 5 20 5 20 5 20 5 20 5 20 5 21 5 20 5 20 5 20 4 20 5 20 5 20 5 20 5 20 4 20 5 21 5 20 5 20 4 20 5 20 5 20 4 20 5 20 5 20 4 20 5 21 5 20 4 20 5 20 4 20 5 20 4 1 2 4 0 3 20 4-27 3 29 4-66 3 64 4-39 3 41 4-29 3 30 4-23 3 26 4-27 3 27 4-17 3 19 4-48 3 48 4-56 3 59 4-18 3 20 4-19 3 18 4-44 3 46 4-90 3 93 4-44 3 45 4-23 3 22 4-26 3 29 4-20 3 21 4-18 3 19 4-23 3 23 4-16 3 17 4-16 3 20 4-25 3 26 4-19 3 19 4-19 3 20 4-39 3 42 4-64 3 63 4-38 3 40 4-23 3 24 4-47 3 49 4-94 3 97 4-85 3 86 4-42 3 42 4-59 3 59 4-115 3 116 4-57 3 61 4-43 3 44 4-67 3 68 4-45 3 45 4-37 3 40 4-19 3 20 4-18 3 20 4-19 3 18 4-87 3 88 4-73 3 77 4-47 3 48 4-19 3 19 4-18 3 21 4-19 3 20 4-32 3 31 4-27 3 28 4-45 3 48 4-88 3 87 4-40 3 44 4-39 3 39 4-29 3 32 4-25 3 26 4-46 3 46 4-72 3 75 4-49 3 48 4-39 3 41 4-105 3 107 4-110 3 112 4-150 3 150 4-40 3 41 4-17 3 20 4-19 3 18 4-45 3 47 4-46 3 49 4-19 3 19 4-70 3 72 4-52 3 54 4-41 3 39 4-22 3 25 4-24 3 25 4-18 3 18 4-37 3 39 4-39 3 40 4-116 3 117 4-99 3 101 4-113 3 114 4-114 3 117 4-66 3 67 4-18 3 19 4-18 3 19 4-18 3 19 4-23 3 26 4-27 3 27 4-18 3 20 4-19 3 19 4-17 3 18 4-26 3 30 4-26 3 24 4-30 3 32 4-18 3 19 4-18 3 19 4-23 3 25 4-122 3 123 4-58 3 60 4-121 3 124 4-69 3 68 4-17 3 20 4-82 3 83 4-86 3 87 4-150 3 152 4-19 3 20 4-151 3 152 4-49 3 51 4-27 3 28 4-22 3 29 20 5 20 6 20 5 20 6 5 22 4 1 3 27 4-28 3 28 4-33 3 35 4-21 3 20 4-44 3 44 4-83 3 86 4-125 3 124 4-398 3 397 4-110 3 112 4-52 3 51 4-17 3 20 4-23 3 21 4-18 3 19 4-33 3 33 4-32 3 32 4-38 3 39 4-62 3 64 4-54 3 52 4-45 3 45 4-209 3 210 4-307 3 309 4-110 3 109 4-27 3 28 4-37 3 36 4-38 3 39 4-210 3 211 4-295 3 296 4-248 3 248 4-333 3 336 4-252 3 265 4-155 3 145 4-156 3 170 4-280 3 264 4-174 3 199 4-197 3 172 4-176 3 175 4-179 3 201 4-428 3 402 4-424 3 438 4-560 3 548 4-549 3 574 4-507 3 510 4-553 3 525 4-465 3 471 4-525 3 523 4-554 3 559 4-529 3 544 4-496 3 462 4-526 3 536 4-655 3 645 4-556 3 561 4-230 3 234 4-238 3 243 4-247 3 262 4-566 3 557 4-602 3 597 4-548 3 572 4-607 3 577 4-355 3 344 4-402 3 443 4-370 3 333 4-354 3 360 4-564 3 577 4-835 3 826 4-705 3 707 4-716 3 716 4-290 3 276 4-275 3 318 4-302 3 263 4-264 3 294 4-295 3 261 4-592 3 613 4-625 3 640 4-440 3 421 4-293 3 275 4-325 3 352 4-710 3 682 4-979 3 1028 4-1066 3 1023 4-653 3 658 4-662 3 685 4-885 3 864 4-990 3 994 4-629 3 615 4-459 3 262 4-336 3 96 4-77 3 287 4-563 3 792 4-993 3 965 4-708 3 709 4-469 3 474 4-375 3 406 4-354 3 345 4-343 3 370 4-368 3 335 4-333 3 375 4-530 3 497 4-575 3 591 4-352 3 372 4-513 3 528 4-848 3 799 4-1087 3 1105 4-1060 3 1058 4-784 3 828 4-815 3 795 4-1047 3 1066 4-1409 3 1401 4-1042 3 1058 4-814 3 791 4-360 3 361 4-373 3 413 4-1188 3 1163 4-1348 3 1361 4-1007 3 1017 4-858 3 773 4-505 3 480 4-404 3 425 4-1135 3 1052 4-944 3 919 4-424 3 422 4-1056 3 1079 4-1172 3 1143 4-1303 3 1303 4-1141 3 1071 4-1232 3 1259 4-1308 3 1239 4-1389 3 1398 4-1382 3 1299 4-1219 3 1201 4-874 3 805 4-455 3 425 4-906 3 861 4-872 3 780 4-357 3 362 4-368 3 360 4-332 3 430 4-401 3 427 4-399 3 466 4-529 3 495 4-462 3 525 4-637 3 604 4-444 3 436 4-436 3 448 4-448 3 431 4-439 3 417 4-556 3 524 4-496 3 432 4-567 3 577 4-464 3 376 4-746 3 743 4-906 3 902 4-786 3 806 4-830 3 868 4-384 3 387 4-393 3 403 4-472 3 506 4-404 3 377 4-369 3 427 4-404 3 429 4-507 3 538 4-854 3 881 4-1056 3 1122 4-1007 3 1057 4-1031 3 1064 4-1150 3 1169 4-365 3 429 4-404 3 403 4-379 3 414 4-389 3 399 4-810 3 805 4-1078 3 1059 4-1579 3 1592 4-1402 3 1414 4-359 3 329 4-341 3 357 4-754 3 765 4-761 3 762 4-754 3 764 4-785 3 768 4-742 3 761 4-775 3 735 4-711 3 714 4-715 3 711 4-861 3 909 4-761 3 727 4-339 3 339 4-813 3 832 4-899 3 910 4-791 3 806 4-1029 3 1029 4-388 3 335 4-578 3 598 4-520 3 517 4-533 3 537 4-846 3 823 4-824 3 854 4-937 3 939 4-758 3 768 4-382 3 356 4-342 3 368 4-368 3 339 4-339 3 385 4-385 3 335 4-334 3 384 4-384 3 343 4-420 3 458 4-579 3 536 4-727 3 763 4-780 3 756 4-349 3 350 4-393 3 404 4-454 3 463 4-402 3 379 4-349 3 383 4-380 3 369 4-615 3 602 4-514 3 518 4-584 3 582 4-590 3 598 4-895 3 900 4-560 3 567 4-268 3 272 4-568 3 574 4-814 3 829 4-862 3 824 4-710 3 741 4-1065 3 1039 4-735 3 769 4-560 3 534 4-251 3 260 4-548 3 529 4-533 3 550 4-261 3 232 4-233 3 259 4-260 3 252 4-253 3 268 4-269 3 245 4-246 3 236 4-237 3 249 4-250 3 258 4-318 3 298 4-533 3 535 4-636 3 654 4-563 3 528 4-512 3 535 4-534 3 504 4-228 3 232 4-504 3 525 4-660 3 655 4-327 3 318 4-257 3 227 4-629 3 636 4-1003 3 994 4-622 3 629 4-852 3 858 4-948 3 930 4-584 3 576 4-529 3 550 4-614 3 614 4-911 3 880 4-779 3 777 4-996 3 1019 4-649 3 614 4-539 3 559 4-764 3 745 4-768 3 795 4-757 3 718 4-842 3 878 4-371 3 324 4-301 3 335 4-302 3 268 4-720 3 706 4-835 3 854 4-716 3 699 4-663 3 684 4-338 3 301 4-313 3 313 4-411 3 407 4-839 3 821 4-758 3 746 4-399 3 398 4-333 3 312 4-313 3 322 4-381 3 382 4-698 3 672 4-666 3 707 4-352 3 293 4-815 3 841 4-735 3 692 4-763 3 746 4-854 3 852 4-878 3 904 4-1054 3 1020 4-709 3 710 4-298 3 278 4-284 3 286 4-292 3 253 4-261 3 243 4-252 3 263 4-272 3 232 4-456 3 446 4-715 3 705 4-968 3 926 4-600 3 593 4-269 3 254 4-212 3 202 4-574 3 580 4-611 3 617 4-214 3 206 4-223 3 245 4-582 3 566 4-818 3 847 4-216 3 197 4-238 3 258 4-210 3 223 4-483 3 444 4-645 3 654 4-610 3 587 4-407 3 403 4-261 3 252 4-304 3 290 4-227 3 219 4-185 3 166 4-252 3 286 4-588 3 618 4-851 3 849 4-509 3 535 4-211 3 236 4-209 3 234 4-224 3 260 4-560 3 560 4-755 3 750 4-850 3 897 4-980 3 967 4-750 3 779 4-573 3 550 4-288 3 323 4-261 3 256 4-243 3 265 4-546 3 614 4-481 3 520 4-701 3 726 4-760 3 792 4-725 3 734 4-647 3 652 4-310 3 306 4-354 3 356 4-346 3 398 4-279 3 249 4-625 3 672 4-658 3 662 4-556 3 540 4-657 3 659 4-666 3 680 4-520 3 556 4-230 3 207 4-229 3 242 4-359 3 365 4-408 3 415 4-536 3 569 4-437 3 420 4-249 3 279 4-505 3 498 4-508 3 501 4-157 3 180 4-247 3 227 4-156 3 162 4-385 3 382 4-347 3 371 4-397 3 382 4-433 3 431 4-593 3 599 4-544 3 546 4-484 3 498 4-612 3 608 4-550 3 543 4-558 3 590 4-417 3 396 4-462 3 470 4-505 3 508 4-182 3 181 4-314 3 324 4-513 3 530 4-677 3 671 4-467 3 474 4-281 3 263 4-515 3 509 4-599 3 604 4-419 3 417 4-181 3 201 4-201 3 206 4-334 3 325 4-411 3 407 4-478 3 491 4-419 3 396 4-248 3 246 4-231 3 234 4-427 3 450 4-541 3 518 4-223 3 219 4-221 3 243 4-212 3 217 4-298 3 287 4-434 3 417 4-512 3 540 4-196 3 169 4-379 3 378 4-544 3 546 4-479 3 507 4-625 3 617 4-480 3 470 4-367 3 366 4-368 3 367 4-537 3 549 4-435 3 418 4-197 3 198 4-150 3 162 4-167 3 156 4-340 3 352 4-597 3 602 4-492 3 494 4-159 3 142 4-140 3 157 4-179 3 174 4-309 3 317 4-395 3 375 4-357 3 376 4-148 3 134 4-147 3 162 4-166 3 166 4-325 3 309 4-214 3 234 4-142 3 126 4-124 3 136 4-183 3 175 4-162 3 155 4-207 3 221 4-126 3 119 4-263 3 263 4-401 3 407 4-448 3 438 4-250 3 255 4-109 3 111 4-109 3 114 4-142 3 133 4-202 3 205 4-149 3 154 4-105 3 114 4-271 3 265 4-328 3 330 4-267 3 265 4-131 3 124 4-110 3 36 4-51 20 0 20 1 20 1 20 2 21 3 20 2 20 4 20 3 20 4 20 5 20 4 20 5 20 5 20 6 21 6 20 6 20 6 20 6 20 6 20 6 20 7 20 6 20 7 20 6 21 7 20 6 20 6 20 7 20 6 20 6 20 5 20 6 20 5 20 5 21 4 20 5 20 4 20 3 16 3M878 12617l2 -751 2 751M931 12653l2 -258 2 258M972 12679l2 -351 2 351M1228 12850l2 240 2 -240M1354 12900l2 215 2 -215M1438 12940l2 242 2 -242M2826 13196l4 -126 4 126M2961 13221l4 -117 4 117M3196 13264l4 -127 4 127M3454 13312l6 -197 6 197M3596 13400l10 -330 10 330M3711 13407l8 -270 8 270M4182 12777l10 -999 10 999M4265 12727l10 -807 10 807M4633 12134l10 -499 10 499M4668 12134l10 -452 10 452M4823 12610l10 -928 10 928M4859 12610l10 -928 10 928M4954 12610l10 -832 10 832M5108 12610l10 -785 10 785M5749 12490l10 -665 10 665M5844 12490l10 -618 10 618M5966 12572l10 -510 10 510M6046 12835l10 -321 10 321M6485 13141l10 -366 10 366" fill="none" stroke="#000" stroke-width="17" stroke-linejoin="round"/><path transform="scale(.1)" d="M749 13000l1 0 4-77 3 132 4-358 3 362 4-259 3 264 4-253 3 254 4-362 3 363 4-128 3 126 4-55 3 63 4-96 3 101 4-146 3 142 4-502 3 499 4-147 3 150 4-89 3 94 4-69 3 71 4-71 3 73 4-73 3 72 4-73 3 80 4-80 3 79 4-238 3 240 4-340 3 349 4-215 3 215 4-90 3 90 4-90 3 97 4-257 3 263 4-287 3 274 4-509 3 510 4-259 3 263 4-307 3 296 4-194 3 187 4-231 3 230 4-186 3 172 4-87 3 88 4-58 3 51 4-105 3 97 4-117 3 111 4-72 3 65 4-31 3 27 4-50 3 44 4-26 3 22 4-25 3 21 4-95 3 89 4-44 3 40 4-103 3 99 4-79 3 73 4-116 3 112 4-119 3 125 4-55 3 68 4-130 3 132 4-191 3 190 4-334 3 340 4-246 3 244 4-82 3 81 4-117 3 119 4-58 3 69 4-76 3 71 4-60 3 68 4-184 3 183 4-166 3 165 4-251 3 265 4-175 3 166 4-175 3 182 4-153 3 159 4-172 3 171 4-277 3 281 4-416 3 408 4-402 3 403 4-275 3 289 4-180 3 169 4-102 3 117 4-393 3 393 4-532 3 522 4-319 3 321 4-231 3 242 4-247 3 234 4-236 3 239 4-113 3 113 4-115 3 122 4-125 3 139 4-140 3 132 4-153 3 160 4-190 3 177 4-174 3 195 4-156 3 136 4-139 3 153 4-465 3 472 4-403 3 401 4-256 3 253 4-194 3 183 4-163 3 187 4-192 3 192 4-203 3 203 4-241 3 228 4-196 3 196 4-406 3 405 4-453 3 479 4-683 3 651 4-569 3 600 4-677 3 659 4-481 3 495 4-345 3 319 4-287 3 297 4-291 3 290 4-385 3 363 4-200 3 234 4-234 3 215 4-216 3 198 4-199 3 221 4-223 3 219 4-220 3 234 4-347 3 324 4-300 3 301 4-216 3 210 4-211 3 226 4-228 3 223 4-653 3 574 20-425 20 0 20 1 20 1 20 1 20 1 20 1 20 2 20 2 21 1 20 2 20 3 20 2 20 2 20 3 20 2 20 3 20 2 20 3 21 3 20 3 20 2 20 3 20 3 20 3 20 2 20 3 20 3 20 2 21 3 20 2 20 2 20 3 20 2 20 2 20 2 20 3 20 2 20 2 21 3 20 2 20 3 20 2 20 2 20 3 20 2 20 3 20 2 20 3 21 2 20 2 20 3 20 2 20 3 20 2 20 2 20 3 20 2 20 2 7 0 4 4 3 31 4-29 3 28 4-27 3 30 4-29 3 27 4-63 3 65 4-66 3 67 4-63 3 66 4-29 3 29 4-29 3 33 4-82 3 82 4-74 3 73 4-74 3 79 4-70 3 69 4-31 3 36 4-35 3 36 4-43 3 39 4-87 3 92 4-90 3 89 4-88 3 91 4-113 3 115 4-76 3 80 4-77 3 77 4-91 3 93 4-91 3 88 4-34 3 38 4-42 3 41 4-37 3 41 4-49 3 46 4-34 3 35 4-34 3 41 4-113 3 115 4-181 3 183 4-130 3 127 4-52 3 54 4-64 3 66 4-56 3 56 4-106 3 111 4-118 3 119 4-171 3 171 4-91 3 89 4-88 3 89 4-42 3 44 4-68 3 67 4-88 3 88 4-107 3 111 4-94 3 91 4-55 3 56 4-51 3 55 4-53 3 50 4-63 3 65 4-45 3 43 4-40 3 48 4-53 3 54 4-85 3 80 4-55 3 54 4-95 3 101 4-47 3 45 4-44 3 42 4-115 3 118 4-222 3 225 4-121 3 122 4-207 3 205 4-146 3 150 4-48 3 47 4-144 3 148 4-212 3 208 4-105 3 105 4-84 3 90 4-68 3 63 4-68 3 68 4-44 3 46 4-66 3 69 4-67 3 70 4-51 3 53 4-183 3 182 4-299 3 300 4-156 3 157 4-52 3 51 4-109 3 112 4-285 3 282 4-298 3 297 4-323 3 326 4-227 3 227 4-252 3 255 4-315 3 312 4-223 3 222 4-108 3 113 4-120 3 125 4-120 3 113 4-59 3 62 4-58 3 58 4-73 3 74 4-103 3 104 4-51 3 54 4-53 3 53 4-80 3 83 4-270 3 272 4-176 3 172 4-56 3 60 4-191 3 186 4-388 3 397 4-258 3 250 4-240 3 240 4-95 3 52 2-16 20 1 20 2 20 2 20 2 21 1 20 2 4 9 4-5 3 25 4-38 3 38 4-129 3 129 4-16 3 17 4-17 3 17 4-21 3 22 4-28 3 29 4-27 3 27 4-27 3 28 4-26 3 25 4-21 3 21 4-36 3 40 4-27 3 27 4-27 3 26 4-27 3 26 4-65 3 65 4-91 3 90 4-45 3 50 4-188 3 190 4-511 3 509 4-380 3 367 4-234 3 238 4-156 3 149 4-110 3 114 4-121 3 117 4-378 3 394 4-510 3 501 4-431 3 440 4-321 3 306 4-148 3 150 4-216 3 230 4-169 3 169 4-164 3 163 4-235 3 233 4-215 3 201 4-175 3 178 4-150 3 142 4-142 3 153 4-418 3 431 4-574 3 569 4-404 3 401 4-326 3 333 4-426 3 421 4-600 3 588 4-438 3 441 4-329 3 343 4-431 3 408 4-337 3 338 4-205 3 205 4-143 3 163 4-163 3 143 4-311 3 334 4-354 3 345 4-501 3 487 4-445 3 468 4-217 3 194 4-143 3 165 4-195 3 187 4-372 3 364 4-196 3 201 4-343 3 355 4-368 3 364 4-329 3 311 4-146 3 174 4-182 3 178 4-387 3 402 4-463 3 449 4-179 3 180 4-335 3 349 4-194 3 188 4-360 3 353 4-483 3 482 4-484 3 505 4-572 3 550 4-641 3 655 4-638 3 628 4-429 3 435 4-407 3 418 4-200 3 199 4-391 3 380 4-188 3 177 4-177 3 174 4-224 3 247 4-340 3 342 4-199 3 202 4-202 3 203 4-424 3 414 4-799 3 803 4-217 3 213 4-236 3 240 4-279 3 279 4-521 3 511 4-712 3 700 4-602 3 609 4-604 3 609 4-187 3 177 4-201 3 208 4-203 3 231 4-249 3 279 4-614 3 620 4-885 3 844 4-636 3 671 4-358 3 338 4-736 3 738 4-741 3 731 4-369 3 368 4-365 3 369 4-254 3 268 4-449 3 431 4-250 3 251 4-253 3 253 4-817 3 808 4-683 3 683 4-687 3 686 4-263 3 279 4-407 3 409 4-296 3 280 4-243 3 245 4-245 3 284 4-284 3 252 4-252 3 270 4-713 3 722 4-566 3 542 4-551 3 578 4-695 3 678 4-617 3 613 4-327 3 312 4-927 3 921 4-597 3 616 4-259 3 246 4-246 3 238 4-793 3 819 4-285 3 263 4-688 3 716 4-691 3 653 4-1010 3 996 4-812 3 826 4-312 3 287 4-442 3 442 4-408 3 405 4-335 3 311 4-380 3 390 4-495 3 478 4-429 3 399 4-346 3 328 4-913 3 896 4-635 3 659 4-361 3 309 4-256 3 281 4-763 3 766 4-969 3 991 4-728 3 733 4-719 3 782 4-329 3 324 4-316 3 309 4-534 3 587 4-480 3 469 4-326 3 364 4-405 3 412 4-330 3 301 4-425 3 452 4-499 3 481 4-304 3 320 4-346 3 354 4-217 3 239 4-264 3 236 4-213 3 237 4-224 3 228 4-228 3 217 4-476 3 465 4-595 3 621 4-557 3 533 4-528 3 531 4-211 3 201 4-458 3 491 4-472 3 447 4-478 3 474 4-469 3 475 4-474 3 488 4-467 3 474 4-605 3 608 4-235 3 214 4-214 3 222 4-467 3 480 4-523 3 517 4-563 3 571 4-480 3 458 4-559 3 571 4-595 3 576 4-458 3 462 4-467 3 490 4-597 3 582 4-504 3 498 4-214 3 231 4-552 3 534 4-457 3 477 4-567 3 549 4-607 3 611 4-503 3 517 4-394 3 383 4-303 3 305 4-175 3 160 4-181 3 186 4-304 3 304 4-297 3 297 4-433 3 425 4-395 3 405 4-295 3 282 4-282 3 289 4-132 3 142 4-158 3 161 4-426 3 422 4-295 3 295 4-339 3 337 4-331 3 338 4-342 3 332 4-328 3 337 4-406 3 406 4-305 3 299 4-334 3 341 4-146 3 136 4-300 3 296 4-289 3 282 4-125 3 145 4-145 3 139 4-299 3 298 4-317 3 320 4-312 3 301 4-300 3 317 4-147 3 135 4-135 3 128 4-209 3 218 4-137 3 142 4-331 3 330 4-417 3 413 4-347 3 345 4-371 3 381 4-359 3 349 4-334 3 331 4-132 3 132 4-286 3 282 4-375 3 376 4-318 3 322 4-178 3 187 4-142 3 127 4-314 3 330 4-364 3 354 4-299 3 302 4-136 3 142 4-142 3 145 4-234 3 214 4-125 3 146 4-493 3 476 4-470 3 479 4-254 3 241 4-131 3 149 4-187 3 183 4-288 3 291 4-291 3 289 4-155 3 153 4-169 3 162 4-217 3 213 4-169 3 183 4-177 3 183 4-172 3 154 4-320 3 334 4-517 3 500 4-402 3 411 4-395 3 384 4-325 3 348 4-235 3 215 4-454 3 471 4-470 3 474 4-314 3 313 4-176 3 154 4-342 3 352 4-324 3 317 4-148 3 155 4-154 3 154 4-295 3 304 4-596 3 566 4-870 3 829 4-632 3 667 4-420 3 391 4-294 3 297 4-278 3 285 4-285 3 298 4-404 3 390 4-618 3 633 4-564 3 533 4-270 3 276 4-360 3 375 4-289 3 308 4-308 3 270 4-270 3 297 4-412 3 389 4-485 3 504 4-430 3 434 4-547 3 526 4-275 3 297 4-608 3 597 4-783 3 776 4-866 3 886 4-652 3 629 4-294 3 309 4-516 3 530 4-688 3 694 4-380 3 374 4-436 3 422 4-290 3 285 4-285 3 278 4-278 3 278 4-359 3 368 4-426 3 425 4-300 3 324 4-310 3 303 4-398 3 383 4-351 3 356 4-292 3 303 4-303 3 287 4-602 3 613 4-681 3 673 4-804 3 802 4-804 3 784 4-639 3 641 4-772 3 781 4-617 3 618 4-303 3 288 4-264 3 266 4-266 3 312 4-725 3 722 4-726 3 696 4-629 3 655 4-788 3 796 4-786 3 773 4-188 3 203 4-30 3 29 4-281 3 279 4-230 3 230 4-29 3 33 4-30 3 27 4-48 3 50 4-37 3 35 4-120 3 123 4-298 3 299 4-210 3 210 4-68 3 70 4-33 3 28 4-27 3 32 4-32 3 32 4-60 3 57 4-29 3 29 4-148 3 148 4-210 3 212 4-69 3 67 4-45 3 45 4-35 3 39 4-42 3 39 4-68 3 72 4-188 3 188 4-216 3 213 4-87 3 89 4-37 3 35 4-53 3 56 4-152 3 153 4-194 3 191 4-257 3 261 4-104 3 103 4-84 3 60 4-568 3 569 4-436 3 462 4-396 3 390 4-721 3 704 4-772 3 788 4-739 3 725 4-258 3 250 4-250 3 263 4-262 3 283 4-658 3 663 4-917 3 917 4-696 3 695 4-593 3 583 4-569 3 564 4-592 3 598 4-618 3 602 4-266 3 277 4-270 3 276 4-276 3 257 4-587 3 618 4-520 3 517 4-296 3 306 4-157 4 159 20 1 20 2 20 1 20 1 21 2 20 1 20 1 20 2 20 1 20 1 20 2 20 1 20 1 20 1 21 2 20 1 20 1 20 1 20 2 20 1 20 1 20 1 20 1 20 1 21 2 20 1 20 1 20 1 20 1 20 1 20 1 20 1 20 1 20 1 21 1 20 1 20 1 20 1 20 1 13 1M747 13000l2 -133 2 133M777 12948l10 -768 10 768M874 12913l10 -453 10 453M912 12902l10 -946 10 946M948 12943l10 -1291 10 1291M986 12980l10 -650 10 650M1076 12900l10 -800 10 800M1110 12900l10 -1045 10 1045M1222 12854l10 -1010 10 1010M1290 12794l10 -950 10 950M1380 12670l10 -680 10 680M1414 12645l10 -801 10 801M1470 12633l10 -543 10 543M1515 12624l10 -319 10 319M2882 12691l4 -71 4 71M3139 12706l6 -186 6 186M3263 12712l7 -247 7 247M3388 12717l9 -299 9 299M3860 12490l10 -380 10 380M4194 12442l10 -642 10 642M4443 12324l10 -642 10 642M4538 12221l10 -539 10 539M4633 12134l10 -452 10 452M5405 12610l10 -595 10 595M5595 12252l10 -380 10 380M5738 12252l10 -380 10 380M6106 12820l10 -450 10 450M6224 12324l10 -380 10 380M6260 12324l10 -324 10 324" fill="none" stroke="#f00" stroke-width="17" stroke-linejoin="round"/></g>
<path d="M50.45 953.50v-3.2M50.45 749.60v3.2M63.85 953.50v-3.2M63.85 749.60v3.2M77.25 953.50v-6.5M77.25 749.60v6.5M90.65 953.50v-3.2M90.65 749.60v3.2M104.05 953.50v-3.2M104.05 749.60v3.2M117.46 953.50v-3.2M117.46 749.60v3.2M130.86 953.50v-3.2M130.86 749.60v3.2M144.26 953.50v-6.5M144.26 749.60v6.5M157.66 953.50v-3.2M157.66 749.60v3.2M171.06 953.50v-3.2M171.06 749.60v3.2M184.46 953.50v-3.2M184.46 749.60v3.2M197.86 953.50v-3.2M197.86 749.60v3.2M211.26 953.50v-6.5M211.26 749.60v6.5M224.66 953.50v-3.2M224.66 749.60v3.2M238.06 953.50v-3.2M238.06 749.60v3.2M251.46 953.50v-3.2M251.46 749.60v3.2M264.87 953.50v-3.2M264.87 749.60v3.2M278.27 953.50v-6.5M278.27 749.60v6.5M291.67 953.50v-3.2M291.67 749.60v3.2M305.07 953.50v-3.2M305.07 749.60v3.2M318.47 953.50v-3.2M318.47 749.60v3.2M331.87 953.50v-3.2M331.87 749.60v3.2M345.27 953.50v-6.5M345.27 749.60v6.5M358.67 953.50v-3.2M358.67 749.60v3.2M372.07 953.50v-3.2M372.07 749.60v3.2M385.47 953.50v-3.2M385.47 749.60v3.2M398.88 953.50v-3.2M398.88 749.60v3.2M412.28 953.50v-6.5M412.28 749.60v6.5M425.68 953.50v-3.2M425.68 749.60v3.2M439.08 953.50v-3.2M439.08 749.60v3.2M452.48 953.50v-3.2M452.48 749.60v3.2M465.88 953.50v-3.2M465.88 749.60v3.2M479.28 953.50v-6.5M479.28 749.60v6.5M492.68 953.50v-3.2M492.68 749.60v3.2M506.08 953.50v-3.2M506.08 749.60v3.2M519.48 953.50v-3.2M519.48 749.60v3.2M532.88 953.50v-3.2M532.88 749.60v3.2M546.29 953.50v-6.5M546.29 749.60v6.5M559.69 953.50v-3.2M559.69 749.60v3.2M573.09 953.50v-3.2M573.09 749.60v3.2M586.49 953.50v-3.2M586.49 749.60v3.2M599.89 953.50v-3.2M599.89 749.60v3.2M613.29 953.50v-6.5M613.29 749.60v6.5M626.69 953.50v-3.2M626.69 749.60v3.2M640.09 953.50v-3.2M640.09 749.60v3.2M653.49 953.50v-3.2M653.49 749.60v3.2M666.89 953.50v-3.2M666.89 749.60v3.2M680.29 953.50v-6.5M680.29 749.60v6.5M693.70 953.50v-3.2M693.70 749.60v3.2M707.10 953.50v-3.2M707.10 749.60v3.2M720.50 953.50v-3.2M720.50 749.60v3.2M733.90 953.50v-3.2M733.90 749.60v3.2M747.30 953.50v-6.5M747.30 749.60v6.5M43.75 947.36h2.8M754.00 947.36h-2.8M43.75 941.22h2.8M754.00 941.22h-2.8M43.75 937.63h2.8M754.00 937.63h-2.8M43.75 935.09h2.8M754.00 935.09h-2.8M43.75 926.97h2.8M754.00 926.97h-2.8M43.75 920.83h2.8M754.00 920.83h-2.8M43.75 917.24h2.8M754.00 917.24h-2.8M43.75 914.70h2.8M754.00 914.70h-2.8M43.75 906.58h2.8M754.00 906.58h-2.8M43.75 900.44h2.8M754.00 900.44h-2.8M43.75 896.85h2.8M754.00 896.85h-2.8M43.75 894.31h2.8M754.00 894.31h-2.8M43.75 886.19h2.8M754.00 886.19h-2.8M43.75 880.05h2.8M754.00 880.05h-2.8M43.75 876.46h2.8M754.00 876.46h-2.8M43.75 873.92h2.8M754.00 873.92h-2.8M43.75 865.80h2.8M754.00 865.80h-2.8M43.75 859.66h2.8M754.00 859.66h-2.8M43.75 856.07h2.8M754.00 856.07h-2.8M43.75 853.53h2.8M754.00 853.53h-2.8M43.75 845.41h2.8M754.00 845.41h-2.8M43.75 839.27h2.8M754.00 839.27h-2.8M43.75 835.68h2.8M754.00 835.68h-2.8M43.75 833.14h2.8M754.00 833.14h-2.8M43.75 825.02h2.8M754.00 825.02h-2.8M43.75 818.88h2.8M754.00 818.88h-2.8M43.75 815.29h2.8M754.00 815.29h-2.8M43.75 812.75h2.8M754.00 812.75h-2.8M43.75 804.63h2.8M754.00 804.63h-2.8M43.75 798.49h2.8M754.00 798.49h-2.8M43.75 794.90h2.8M754.00 794.90h-2.8M43.75 792.36h2.8M754.00 792.36h-2.8M43.75 784.24h2.8M754.00 784.24h-2.8M43.75 778.10h2.8M754.00 778.10h-2.8M43.75 774.51h2.8M754.00 774.51h-2.8M43.75 771.97h2.8M754.00 771.97h-2.8M43.75 763.85h2.8M754.00 763.85h-2.8M43.75 757.71h2.8M754.00 757.71h-2.8M43.75 754.12h2.8M754.00 754.12h-2.8M43.75 751.58h2.8M754.00 751.58h-2.8M43.75 749.60h5.7M754.00 749.60h-5.7M43.75 790.38h5.7M754.00 790.38h-5.7M43.75 831.16h5.7M754.00 831.16h-5.7M43.75 871.94h5.7M754.00 871.94h-5.7M43.75 912.72h5.7M754.00 912.72h-5.7M43.75 953.50h5.7M754.00 953.50h-5.7M43.75 749.60h5.7M754.00 749.60h-5.7M50.45 1157.40v-3.2M50.45 953.50v3.2M63.85 1157.40v-3.2M63.85 953.50v3.2M77.25 1157.40v-6.5M77.25 953.50v6.5M90.65 1157.40v-3.2M90.65 953.50v3.2M104.05 1157.40v-3.2M104.05 953.50v3.2M117.46 1157.40v-3.2M117.46 953.50v3.2M130.86 1157.40v-3.2M130.86 953.50v3.2M144.26 1157.40v-6.5M144.26 953.50v6.5M157.66 1157.40v-3.2M157.66 953.50v3.2M171.06 1157.40v-3.2M171.06 953.50v3.2M184.46 1157.40v-3.2M184.46 953.50v3.2M197.86 1157.40v-3.2M197.86 953.50v3.2M211.26 1157.40v-6.5M211.26 953.50v6.5M224.66 1157.40v-3.2M224.66 953.50v3.2M238.06 1157.40v-3.2M238.06 953.50v3.2M251.46 1157.40v-3.2M251.46 953.50v3.2M264.87 1157.40v-3.2M264.87 953.50v3.2M278.27 1157.40v-6.5M278.27 953.50v6.5M291.67 1157.40v-3.2M291.67 953.50v3.2M305.07 1157.40v-3.2M305.07 953.50v3.2M318.47 1157.40v-3.2M318.47 953.50v3.2M331.87 1157.40v-3.2M331.87 953.50v3.2M345.27 1157.40v-6.5M345.27 953.50v6.5M358.67 1157.40v-3.2M358.67 953.50v3.2M372.07 1157.40v-3.2M372.07 953.50v3.2M385.47 1157.40v-3.2M385.47 953.50v3.2M398.88 1157.40v-3.2M398.88 953.50v3.2M412.28 1157.40v-6.5M412.28 953.50v6.5M425.68 1157.40v-3.2M425.68 953.50v3.2M439.08 1157.40v-3.2M439.08 953.50v3.2M452.48 1157.40v-3.2M452.48 953.50v3.2M465.88 1157.40v-3.2M465.88 953.50v3.2M479.28 1157.40v-6.5M479.28 953.50v6.5M492.68 1157.40v-3.2M492.68 953.50v3.2M506.08 1157.40v-3.2M506.08 953.50v3.2M519.48 1157.40v-3.2M519.48 953.50v3.2M532.88 1157.40v-3.2M532.88 953.50v3.2M546.29 1157.40v-6.5M546.29 953.50v6.5M559.69 1157.40v-3.2M559.69 953.50v3.2M573.09 1157.40v-3.2M573.09 953.50v3.2M586.49 1157.40v-3.2M586.49 953.50v3.2M599.89 1157.40v-3.2M599.89 953.50v3.2M613.29 1157.40v-6.5M613.29 953.50v6.5M626.69 1157.40v-3.2M626.69 953.50v3.2M640.09 1157.40v-3.2M640.09 953.50v3.2M653.49 1157.40v-3.2M653.49 953.50v3.2M666.89 1157.40v-3.2M666.89 953.50v3.2M680.29 1157.40v-6.5M680.29 953.50v6.5M693.70 1157.40v-3.2M693.70 953.50v3.2M707.10 1157.40v-3.2M707.10 953.50v3.2M720.50 1157.40v-3.2M720.50 953.50v3.2M733.90 1157.40v-3.2M733.90 953.50v3.2M747.30 1157.40v-6.5M747.30 953.50v6.5M43.75 1150.58h2.8M754.00 1150.58h-2.8M43.75 1143.76h2.8M754.00 1143.76h-2.8M43.75 1139.77h2.8M754.00 1139.77h-2.8M43.75 1136.94h2.8M754.00 1136.94h-2.8M43.75 1127.92h2.8M754.00 1127.92h-2.8M43.75 1121.10h2.8M754.00 1121.10h-2.8M43.75 1117.11h2.8M754.00 1117.11h-2.8M43.75 1114.28h2.8M754.00 1114.28h-2.8M43.75 1105.27h2.8M754.00 1105.27h-2.8M43.75 1098.45h2.8M754.00 1098.45h-2.8M43.75 1094.46h2.8M754.00 1094.46h-2.8M43.75 1091.63h2.8M754.00 1091.63h-2.8M43.75 1082.61h2.8M754.00 1082.61h-2.8M43.75 1075.79h2.8M754.00 1075.79h-2.8M43.75 1071.80h2.8M754.00 1071.80h-2.8M43.75 1068.97h2.8M754.00 1068.97h-2.8M43.75 1059.96h2.8M754.00 1059.96h-2.8M43.75 1053.14h2.8M754.00 1053.14h-2.8M43.75 1049.15h2.8M754.00 1049.15h-2.8M43.75 1046.32h2.8M754.00 1046.32h-2.8M43.75 1037.30h2.8M754.00 1037.30h-2.8M43.75 1030.48h2.8M754.00 1030.48h-2.8M43.75 1026.49h2.8M754.00 1026.49h-2.8M43.75 1023.66h2.8M754.00 1023.66h-2.8M43.75 1014.65h2.8M754.00 1014.65h-2.8M43.75 1007.83h2.8M754.00 1007.83h-2.8M43.75 1003.84h2.8M754.00 1003.84h-2.8M43.75 1001.01h2.8M754.00 1001.01h-2.8M43.75 991.99h2.8M754.00 991.99h-2.8M43.75 985.17h2.8M754.00 985.17h-2.8M43.75 981.18h2.8M754.00 981.18h-2.8M43.75 978.35h2.8M754.00 978.35h-2.8M43.75 969.34h2.8M754.00 969.34h-2.8M43.75 962.52h2.8M754.00 962.52h-2.8M43.75 958.53h2.8M754.00 958.53h-2.8M43.75 955.70h2.8M754.00 955.70h-2.8M43.75 976.16h5.7M754.00 976.16h-5.7M43.75 1021.47h5.7M754.00 1021.47h-5.7M43.75 1066.78h5.7M754.00 1066.78h-5.7M43.75 1112.09h5.7M754.00 1112.09h-5.7M43.75 1157.40h5.7M754.00 1157.40h-5.7M50.45 1361.30v-3.2M50.45 1157.40v3.2M63.85 1361.30v-3.2M63.85 1157.40v3.2M77.25 1361.30v-6.5M77.25 1157.40v6.5M90.65 1361.30v-3.2M90.65 1157.40v3.2M104.05 1361.30v-3.2M104.05 1157.40v3.2M117.46 1361.30v-3.2M117.46 1157.40v3.2M130.86 1361.30v-3.2M130.86 1157.40v3.2M144.26 1361.30v-6.5M144.26 1157.40v6.5M157.66 1361.30v-3.2M157.66 1157.40v3.2M171.06 1361.30v-3.2M171.06 1157.40v3.2M184.46 1361.30v-3.2M184.46 1157.40v3.2M197.86 1361.30v-3.2M197.86 1157.40v3.2M211.26 1361.30v-6.5M211.26 1157.40v6.5M224.66 1361.30v-3.2M224.66 1157.40v3.2M238.06 1361.30v-3.2M238.06 1157.40v3.2M251.46 1361.30v-3.2M251.46 1157.40v3.2M264.87 1361.30v-3.2M264.87 1157.40v3.2M278.27 1361.30v-6.5M278.27 1157.40v6.5M291.67 1361.30v-3.2M291.67 1157.40v3.2M305.07 1361.30v-3.2M305.07 1157.40v3.2M318.47 1361.30v-3.2M318.47 1157.40v3.2M331.87 1361.30v-3.2M331.87 1157.40v3.2M345.27 1361.30v-6.5M345.27 1157.40v6.5M358.67 1361.30v-3.2M358.67 1157.40v3.2M372.07 1361.30v-3.2M372.07 1157.40v3.2M385.47 1361.30v-3.2M385.47 1157.40v3.2M398.88 1361.30v-3.2M398.88 1157.40v3.2M412.28 1361.30v-6.5M412.28 1157.40v6.5M425.68 1361.30v-3.2M425.68 1157.40v3.2M439.08 1361.30v-3.2M439.08 1157.40v3.2M452.48 1361.30v-3.2M452.48 1157.40v3.2M465.88 1361.30v-3.2M465.88 1157.40v3.2M479.28 1361.30v-6.5M479.28 1157.40v6.5M492.68 1361.30v-3.2M492.68 1157.40v3.2M506.08 1361.30v-3.2M506.08 1157.40v3.2M519.48 1361.30v-3.2M519.48 1157.40v3.2M532.88 1361.30v-3.2M532.88 1157.40v3.2M546.29 1361.30v-6.5M546.29 1157.40v6.5M559.69 1361.30v-3.2M559.69 1157.40v3.2M573.09 1361.30v-3.2M573.09 1157.40v3.2M586.49 1361.30v-3.2M586.49 1157.40v3.2M599.89 1361.30v-3.2M599.89 1157.40v3.2M613.29 1361.30v-6.5M613.29 1157.40v6.5M626.69 1361.30v-3.2M626.69 1157.40v3.2M640.09 1361.30v-3.2M640.09 1157.40v3.2M653.49 1361.30v-3.2M653.49 1157.40v3.2M666.89 1361.30v-3.2M666.89 1157.40v3.2M680.29 1361.30v-6.5M680.29 1157.40v6.5M693.70 1361.30v-3.2M693.70 1157.40v3.2M707.10 1361.30v-3.2M707.10 1157.40v3.2M720.50 1361.30v-3.2M720.50 1157.40v3.2M733.90 1361.30v-3.2M733.90 1157.40v3.2M747.30 1361.30v-6.5M747.30 1157.40v6.5M43.75 1353.63h2.8M754.00 1353.63h-2.8M43.75 1345.95h2.8M754.00 1345.95h-2.8M43.75 1341.47h2.8M754.00 1341.47h-2.8M43.75 1338.28h2.8M754.00 1338.28h-2.8M43.75 1328.14h2.8M754.00 1328.14h-2.8M43.75 1320.47h2.8M754.00 1320.47h-2.8M43.75 1315.98h2.8M754.00 1315.98h-2.8M43.75 1312.79h2.8M754.00 1312.79h-2.8M43.75 1302.65h2.8M754.00 1302.65h-2.8M43.75 1294.98h2.8M754.00 1294.98h-2.8M43.75 1290.49h2.8M754.00 1290.49h-2.8M43.75 1287.31h2.8M754.00 1287.31h-2.8M43.75 1277.16h2.8M754.00 1277.16h-2.8M43.75 1269.49h2.8M754.00 1269.49h-2.8M43.75 1265.00h2.8M754.00 1265.00h-2.8M43.75 1261.82h2.8M754.00 1261.82h-2.8M43.75 1251.68h2.8M754.00 1251.68h-2.8M43.75 1244.00h2.8M754.00 1244.00h-2.8M43.75 1239.52h2.8M754.00 1239.52h-2.8M43.75 1236.33h2.8M754.00 1236.33h-2.8M43.75 1226.19h2.8M754.00 1226.19h-2.8M43.75 1218.52h2.8M754.00 1218.52h-2.8M43.75 1214.03h2.8M754.00 1214.03h-2.8M43.75 1210.84h2.8M754.00 1210.84h-2.8M43.75 1200.70h2.8M754.00 1200.70h-2.8M43.75 1193.03h2.8M754.00 1193.03h-2.8M43.75 1188.54h2.8M754.00 1188.54h-2.8M43.75 1185.36h2.8M754.00 1185.36h-2.8M43.75 1175.21h2.8M754.00 1175.21h-2.8M43.75 1167.54h2.8M754.00 1167.54h-2.8M43.75 1163.05h2.8M754.00 1163.05h-2.8M43.75 1159.87h2.8M754.00 1159.87h-2.8M43.75 1182.89h5.7M754.00 1182.89h-5.7M43.75 1233.86h5.7M754.00 1233.86h-5.7M43.75 1284.84h5.7M754.00 1284.84h-5.7M43.75 1335.81h5.7M754.00 1335.81h-5.7" stroke="#000" stroke-width="1.1" fill="none"/>
<path d="M43.75 749.60H754.00V953.50H43.75ZM43.75 953.50H754.00V1157.40H43.75ZM43.75 1157.40H754.00V1361.30H43.75Z" stroke="#000" stroke-width="1.8" fill="none" stroke-linejoin="miter"/>
<text transform="translate(40.15 755.50) scale(0.84 1)" text-anchor="end" font-size="20.5" >4</text>
<text transform="translate(40.15 755.50) scale(0.84 1)" text-anchor="end" font-size="20.5" >4</text>
<text transform="translate(40.15 796.28) scale(0.84 1)" text-anchor="end" font-size="20.5" >2</text>
<text transform="translate(40.15 837.06) scale(0.84 1)" text-anchor="end" font-size="20.5" >0</text>
<text transform="translate(40.15 877.84) scale(0.84 1)" text-anchor="end" font-size="20.5" >-2</text>
<text transform="translate(40.15 918.62) scale(0.84 1)" text-anchor="end" font-size="20.5" >-4</text>
<text transform="translate(40.15 959.40) scale(0.84 1)" text-anchor="end" font-size="20.5" >-6</text>
<text transform="translate(40.15 982.06) scale(0.84 1)" text-anchor="end" font-size="20.5" >3</text>
<text transform="translate(40.15 1027.37) scale(0.84 1)" text-anchor="end" font-size="20.5" >1</text>
<text transform="translate(40.15 1072.68) scale(0.84 1)" text-anchor="end" font-size="20.5" >-1</text>
<text transform="translate(40.15 1117.99) scale(0.84 1)" text-anchor="end" font-size="20.5" >-3</text>
<text transform="translate(40.15 1163.30) scale(0.84 1)" text-anchor="end" font-size="20.5" >-5</text>
<text transform="translate(40.15 1188.79) scale(0.84 1)" text-anchor="end" font-size="20.5" >2</text>
<text transform="translate(40.15 1239.76) scale(0.84 1)" text-anchor="end" font-size="20.5" >0</text>
<text transform="translate(40.15 1290.74) scale(0.84 1)" text-anchor="end" font-size="20.5" >-2</text>
<text transform="translate(40.15 1341.71) scale(0.84 1)" text-anchor="end" font-size="20.5" >-4</text>
<text transform="translate(78.55 1383.50) scale(0.84 1)" text-anchor="middle" font-size="20.5" >10</text>
<text transform="translate(145.56 1383.50) scale(0.84 1)" text-anchor="middle" font-size="20.5" >20</text>
<text transform="translate(212.56 1383.50) scale(0.84 1)" text-anchor="middle" font-size="20.5" >30</text>
<text transform="translate(279.57 1383.50) scale(0.84 1)" text-anchor="middle" font-size="20.5" >40</text>
<text transform="translate(346.57 1383.50) scale(0.84 1)" text-anchor="middle" font-size="20.5" >50</text>
<text transform="translate(413.58 1383.50) scale(0.84 1)" text-anchor="middle" font-size="20.5" >60</text>
<text transform="translate(480.58 1383.50) scale(0.84 1)" text-anchor="middle" font-size="20.5" >70</text>
<text transform="translate(547.59 1383.50) scale(0.84 1)" text-anchor="middle" font-size="20.5" >80</text>
<text transform="translate(614.59 1383.50) scale(0.84 1)" text-anchor="middle" font-size="20.5" >90</text>
<text transform="translate(681.59 1383.50) scale(0.84 1)" text-anchor="middle" font-size="20.5" >100</text>
<text transform="translate(748.60 1383.50) scale(0.84 1)" text-anchor="middle" font-size="20.5" >110</text>
<rect x="694.00" y="756.60" width="54.00" height="43.75" fill="#fff" stroke="#000" stroke-width="1.6"/>
<path d="M701.25 767.60h17.75" stroke="#000" stroke-width="2"/>
<path d="M701.25 787.60h17.75" stroke="#f00" stroke-width="2"/>
<text transform="translate(746.00 772.60) scale(0.88 1)" text-anchor="end" font-size="14" >31</text>
<text transform="translate(746.00 792.60) scale(0.88 1)" text-anchor="end" font-size="14" >31</text>
<rect x="694.00" y="960.50" width="54.00" height="43.75" fill="#fff" stroke="#000" stroke-width="1.6"/>
<path d="M701.25 971.50h17.75" stroke="#000" stroke-width="2"/>
<path d="M701.25 991.50h17.75" stroke="#f00" stroke-width="2"/>
<text transform="translate(746.00 976.50) scale(0.88 1)" text-anchor="end" font-size="14" >32</text>
<text transform="translate(746.00 996.50) scale(0.88 1)" text-anchor="end" font-size="14" >32</text>
<rect x="694.00" y="1164.40" width="54.00" height="43.75" fill="#fff" stroke="#000" stroke-width="1.6"/>
<path d="M701.25 1175.40h17.75" stroke="#000" stroke-width="2"/>
<path d="M701.25 1195.40h17.75" stroke="#f00" stroke-width="2"/>
<text transform="translate(746.00 1180.40) scale(0.88 1)" text-anchor="end" font-size="14" >33</text>
<text transform="translate(746.00 1200.40) scale(0.88 1)" text-anchor="end" font-size="14" >33</text>
<text transform="translate(300.60 1433.75) scale(0.88 1)" font-size="20"><tspan x="-1">Photon Energy </tspan><tspan font-family="'Liberation Serif', serif">(</tspan><tspan font-family="'Liberation Serif', serif" font-style="italic">Ry</tspan><tspan font-family="'Liberation Serif', serif">)</tspan></text>
<g transform="translate(14.40 1133.00) scale(0.88 1) rotate(-90)" font-family="'Liberation Serif', serif"><text x="0" y="0" font-size="20.5" font-style="italic">log</text><text x="26.2" y="6.6" font-size="14">10</text><text x="28.3" y="-9.5" font-size="14" font-style="italic">σ</text><text x="36.6" y="-6.2" font-size="10.5" font-style="italic">PI</text><text x="60" y="0" font-size="20.5">(<tspan font-style="italic">Mb</tspan>)</text></g>
<clipPath id="cBR0"><rect x="879.95" y="749.60" width="710.25" height="203.90"/></clipPath>
<g id="dBR0" clip-path="url(#cBR0)"><path transform="scale(.1)" d="M9111 8456l20 12 20 13 20 12 20 12 21 12 20 12 20 11 20 11 20 11 20 10 20 10 20 10 20 9 20 8 21 8 20 8 20 7 20 7 20 7 20 6 20 6 20 6 20 6 20 6 21 5 20 5 20 5 20 6 20 4 20 5 20 5 20 5 20 5 20 4 21 5 20 5 20 4 20 5 20 5 20 5 20 5 20 5 20 5 20 5 21 5 20 4 20 5 20 5 20 5 20 4 20 5 20 5 20 4 20 5 21 4 20 5 20 4 20 5 20 4 20 5 20 4 20 4 20 4 20 5 21 4 20 4 20 4 20 4 20 4 20 4 20 4 20 4 20 4 21 4 20 4 20 4 20 4 20 4 20 4 20 4 20 3 20 4 20 4 21 4 20 4 20 3 20 4 20 4 20 4 20 3 20 4 20 4 20 3 21 4 20 4 20 3 20 4 20 4 20 3 1 2 4 0 3 15 4-21 3 23 4-52 3 51 4-32 3 34 4-24 3 24 4-18 3 21 4-22 3 21 4-13 3 15 4-38 3 38 4-45 3 47 4-14 3 16 4-15 3 15 4-36 3 37 4-72 3 74 4-35 3 36 4-19 3 19 4-22 3 24 4-17 3 18 4-15 3 15 4-18 3 18 4-13 3 14 4-13 3 16 4-20 3 21 4-15 3 15 4-15 3 16 4-31 3 33 4-51 3 50 4-30 3 32 4-18 3 19 4-37 3 38 4-75 3 78 4-68 3 68 4-33 3 34 4-47 3 47 4-92 3 93 4-46 3 49 4-35 3 36 4-54 3 54 4-36 3 37 4-30 3 31 4-14 3 15 4-14 3 16 4-15 3 14 4-69 3 70 4-59 3 62 4-37 3 38 4-15 3 15 4-14 3 16 4-15 3 16 4-25 3 25 4-22 3 23 4-37 3 39 4-71 3 70 4-32 3 35 4-31 3 31 4-23 3 25 4-19 3 21 4-38 3 37 4-57 3 59 4-39 3 39 4-31 3 32 4-83 3 85 4-88 3 90 4-120 3 119 4-31 3 33 4-14 3 16 4-15 3 14 4-36 3 37 4-36 3 39 4-15 3 15 4-56 3 58 4-42 3 43 4-32 3 31 4-18 3 20 4-19 3 20 4-14 3 14 4-30 3 32 4-32 3 33 4-93 3 93 4-79 3 81 4-90 3 91 4-92 3 94 4-53 3 53 4-14 3 16 4-15 3 16 4-15 3 15 4-18 3 21 4-22 3 21 4-14 3 16 4-15 3 15 4-14 3 15 4-21 3 24 4-21 3 20 4-24 3 25 4-15 3 16 4-15 3 16 4-18 3 20 4-99 3 99 4-46 3 47 4-96 3 99 4-55 3 55 4-14 3 16 4-66 3 66 4-69 3 71 4-121 3 122 4-15 3 16 4-121 3 121 4-39 3 41 4-21 3 22 4-17 3 22 20 5 20 4 20 5 20 4 5 18 4 1 3 21 4-22 3 22 4-26 3 28 4-17 3 16 4-35 3 35 4-67 3 69 4-100 3 99 4-318 3 318 4-89 3 90 4-42 3 42 4-14 3 16 4-19 3 17 4-14 3 15 4-26 3 26 4-25 3 25 4-30 3 31 4-50 3 52 4-44 3 42 4-36 3 36 4-167 3 168 4-246 3 247 4-88 3 87 4-21 3 22 4-29 3 29 4-31 3 31 4-167 3 168 4-236 3 237 4-198 3 198 4-266 3 268 4-201 3 212 4-125 3 116 4-124 3 136 4-224 3 211 4-139 3 159 4-158 3 138 4-141 3 140 4-143 3 161 4-343 3 322 4-339 3 351 4-449 3 439 4-440 3 460 4-406 3 408 4-442 3 420 4-372 3 377 4-421 3 419 4-443 3 447 4-423 3 435 4-397 3 370 4-421 3 429 4-525 3 517 4-445 3 449 4-185 3 188 4-191 3 195 4-198 3 210 4-453 3 445 4-481 3 478 4-439 3 458 4-486 3 462 4-284 3 275 4-321 3 354 4-296 3 266 4-283 3 288 4-451 3 462 4-668 3 661 4-565 3 566 4-573 3 573 4-232 3 221 4-220 3 254 4-242 3 211 4-211 3 235 4-236 3 209 4-474 3 490 4-500 3 512 4-352 3 337 4-234 3 220 4-260 3 282 4-568 3 545 4-783 3 822 4-852 3 818 4-522 3 526 4-530 3 548 4-708 3 692 4-792 3 795 4-503 3 492 4-367 3 209 4-269 3 77 4-62 3 230 4-451 3 634 4-794 3 771 4-566 3 568 4-376 3 380 4-301 3 325 4-283 3 276 4-274 3 295 4-294 3 269 4-267 3 300 4-424 3 397 4-460 3 473 4-281 3 297 4-410 3 422 4-678 3 639 4-869 3 884 4-848 3 846 4-627 3 662 4-652 3 636 4-838 3 853 4-1127 3 1121 4-834 3 847 4-651 3 632 4-288 3 289 4-298 3 330 4-950 3 930 4-1078 3 1089 4-806 3 813 4-686 3 619 4-404 3 383 4-323 3 341 4-908 3 841 4-756 3 736 4-339 3 337 4-845 3 863 4-937 3 914 4-1042 3 1042 4-912 3 856 4-985 3 1007 4-1046 3 991 4-1111 3 1118 4-1106 3 1040 4-975 3 960 4-699 3 644 4-364 3 340 4-725 3 689 4-698 3 625 4-286 3 289 4-294 3 288 4-265 3 343 4-321 3 342 4-319 3 373 4-424 3 397 4-370 3 420 4-510 3 484 4-356 3 349 4-349 3 359 4-359 3 345 4-351 3 333 4-444 3 419 4-397 3 346 4-454 3 462 4-371 3 301 4-597 3 594 4-725 3 722 4-629 3 645 4-664 3 694 4-307 3 310 4-314 3 321 4-377 3 405 4-324 3 302 4-295 3 342 4-324 3 344 4-406 3 430 4-683 3 705 4-845 3 898 4-806 3 846 4-825 3 851 4-920 3 935 4-291 3 343 4-324 3 323 4-303 3 331 4-311 3 319 4-648 3 644 4-862 3 847 4-1263 3 1273 4-1122 3 1132 4-288 3 264 4-273 3 286 4-604 3 612 4-609 3 610 4-603 3 611 4-628 3 615 4-594 3 609 4-621 3 589 4-569 3 571 4-572 3 569 4-689 3 727 4-609 3 582 4-271 3 271 4-650 3 665 4-719 3 728 4-633 3 645 4-823 3 823 4-310 3 268 4-462 3 478 4-417 3 414 4-426 3 429 4-676 3 658 4-659 3 683 4-750 3 751 4-606 3 615 4-306 3 285 4-274 3 295 4-295 3 271 4-271 3 308 4-307 3 267 4-267 3 307 4-307 3 275 4-337 3 367 4-464 3 429 4-581 3 611 4-625 3 605 4-279 3 280 4-315 3 324 4-364 3 371 4-322 3 304 4-280 3 307 4-304 3 295 4-492 3 481 4-410 3 413 4-467 3 466 4-472 3 479 4-716 3 719 4-448 3 454 4-214 3 217 4-454 3 459 4-651 3 663 4-689 3 659 4-568 3 592 4-852 3 832 4-588 3 615 4-448 3 427 4-201 3 209 4-439 3 423 4-427 3 441 4-209 3 186 4-187 3 207 4-208 3 202 4-203 3 215 4-216 3 196 4-196 3 189 4-190 3 199 4-200 3 206 4-254 3 239 4-426 3 427 4-509 3 524 4-451 3 423 4-410 3 428 4-427 3 403 4-182 3 185 4-403 3 420 4-528 3 524 4-261 3 254 4-206 3 182 4-504 3 509 4-802 3 795 4-497 3 503 4-682 3 687 4-759 3 744 4-467 3 461 4-423 3 440 4-492 3 491 4-728 3 704 4-624 3 622 4-797 3 815 4-518 3 491 4-431 3 447 4-611 3 595 4-614 3 636 4-605 3 574 4-674 3 703 4-297 3 259 4-241 3 269 4-243 3 215 4-576 3 565 4-668 3 683 4-572 3 559 4-531 3 547 4-270 3 240 4-250 3 251 4-329 3 325 4-671 3 657 4-607 3 598 4-320 3 319 4-267 3 250 4-251 3 258 4-305 3 306 4-559 3 538 4-533 3 566 4-281 3 234 4-652 3 672 4-587 3 553 4-611 3 597 4-683 3 682 4-702 3 722 4-842 3 815 4-567 3 568 4-238 3 222 4-227 3 229 4-234 3 203 4-209 3 194 4-201 3 210 4-217 3 185 4-365 3 357 4-572 3 564 4-774 3 741 4-480 3 474 4-215 3 203 4-170 3 162 4-459 3 464 4-489 3 494 4-172 3 165 4-178 3 196 4-466 3 453 4-655 3 678 4-173 3 158 4-191 3 207 4-168 3 178 4-386 3 355 4-516 3 524 4-489 3 470 4-326 3 323 4-209 3 201 4-243 3 233 4-183 3 176 4-148 3 133 4-202 3 229 4-470 3 494 4-681 3 679 4-407 3 428 4-169 3 189 4-167 3 187 4-179 3 208 4-448 3 448 4-604 3 600 4-680 3 717 4-784 3 774 4-600 3 623 4-458 3 440 4-230 3 258 4-209 3 205 4-195 3 212 4-436 3 491 4-385 3 416 4-560 3 580 4-608 3 634 4-581 3 588 4-517 3 521 4-248 3 245 4-284 3 285 4-276 3 318 4-223 3 199 4-500 3 537 4-526 3 529 4-444 3 432 4-526 3 527 4-533 3 545 4-416 3 444 4-183 3 165 4-183 3 194 4-288 3 292 4-326 3 332 4-429 3 455 4-349 3 336 4-199 3 222 4-403 3 398 4-406 3 400 4-125 3 144 4-197 3 181 4-125 3 129 4-307 3 305 4-277 3 297 4-318 3 305 4-346 3 345 4-474 3 479 4-436 3 437 4-387 3 398 4-489 3 487 4-441 3 435 4-447 3 472 4-334 3 317 4-369 3 376 4-404 3 407 4-146 3 144 4-251 3 259 4-410 3 424 4-542 3 538 4-375 3 380 4-225 3 211 4-413 3 408 4-479 3 482 4-334 3 333 4-145 3 161 4-161 3 165 4-267 3 260 4-329 3 326 4-382 3 392 4-335 3 317 4-199 3 197 4-185 3 188 4-342 3 360 4-433 3 414 4-178 3 175 4-177 3 195 4-170 3 174 4-239 3 230 4-347 3 334 4-410 3 432 4-157 3 135 4-303 3 302 4-435 3 437 4-383 3 406 4-501 3 494 4-384 3 376 4-293 3 293 4-295 3 293 4-429 3 439 4-348 3 334 4-157 3 159 4-121 3 130 4-134 3 125 4-272 3 282 4-478 3 481 4-393 3 395 4-127 3 114 4-112 3 125 4-143 3 140 4-248 3 254 4-316 3 300 4-286 3 301 4-119 3 108 4-118 3 129 4-132 3 132 4-260 3 248 4-172 3 188 4-114 3 101 4-99 3 109 4-147 3 140 4-129 3 124 4-166 3 177 4-101 3 95 4-210 3 211 4-321 3 325 4-358 3 350 4-200 3 204 4-87 3 88 4-86 3 91 4-114 3 106 4-161 3 164 4-119 3 123 4-84 3 91 4-217 3 212 4-262 3 264 4-213 3 212 4-106 3 100 4-88 3 28 4-40 20 0 20 1 20 1 20 1 21 2 20 2 20 3 20 3 20 3 20 3 20 4 20 4 20 4 20 5 21 4 20 5 20 5 20 5 20 5 20 5 20 5 20 5 20 5 20 6 21 5 20 5 20 5 20 5 20 5 20 4 20 5 20 4 20 4 20 4 21 4 20 3 20 4 20 2 16 3M9240 8535l2 -602 2 602M9293 8563l2 -206 2 206M9334 8584l2 -281 2 281M9590 8721l2 192 2 -192M9716 8761l2 172 2 -172M9800 8793l2 194 2 -194M11188 8997l4 -100 4 100M11323 9017l4 -93 4 93M11558 9052l4 -101 4 101M11817 9090l5 -157 5 157M11960 9161l8 -264 8 264M12075 9166l6 -215 6 215M12544 8662l10 -799 10 799M12627 8623l10 -646 10 646M12995 8148l10 -399 10 399M13030 8148l10 -361 10 361M13185 8529l10 -742 10 742M13221 8529l10 -742 10 742M13316 8529l10 -666 10 666M13470 8529l10 -628 10 628M14111 8433l10 -532 10 532M14206 8433l10 -494 10 494M14328 8498l10 -407 10 407M14410 8708l8 -256 8 256M14848 8954l9 -293 9 293" fill="none" stroke="#000" stroke-width="17" stroke-linejoin="round"/><path transform="scale(.1)" d="M9111 8462l20 10 20 9 20 9 20 9 21 9 20 9 20 8 20 9 20 8 20 8 20 8 20 8 20 8 20 7 21 8 20 7 20 7 20 7 20 7 20 6 20 7 20 6 20 6 20 6 21 6 20 6 20 6 20 6 20 6 13-18 4 70 3 65 4-87 3 89 4-94 3 97 4-91 3 85 4-34 3 39 4-39 3 37 4-101 3 97 4-138 3 141 4-112 3 109 4-74 3 75 4-84 3 85 4-94 3 94 4-116 3 119 4-102 3 101 4-37 3 37 4-103 3 101 4-56 3 60 4-70 3 68 4-42 3 38 4-61 3 64 4-40 3 39 4-75 3 75 4-42 3 45 4-171 3 170 4-172 3 169 4-177 3 182 4-109 3 108 4-39 3 39 4-65 3 51 2-44 20 5 20 6 20 6 20 6 21 6 20 6 20 5 20 6 20 6 20 6 20 5 20 6 20 5 20 6 21 5 20 5 20 6 20 5 20 5 20 5 20 4 20 5 20 4 20 5 21 4 20 5 20 4 20 4 20 4 20 4 20 4 20 4 20 4 20 4 21 4 20 4 20 3 20 4 20 4 20 4 20 4 20 3 20 4 20 4 14-2 3 2 4 15 3-14 4 29 3-20 4 19 3-47 4 49 3-80 4 81 3-57 4 60 3-69 4 68 3-48 4 52 3-66 4 63 3-61 4 63 3-20 4 23 3-22 4 23 3-23 4 24 3-37 4 37 3-29 4 28 3-32 4 32 3-21 4 24 3-87 4 86 3-46 4 49 3-25 4 26 3-44 4 43 3-19 4 23 3-22 4 21 3-20 4 20 3-23 4 24 3-55 4 56 3-92 4 93 3-58 4 61 3-21 4 22 3-21 4 19 3-21 4 25 3-34 4 33 3-20 4 22 3-21 4 22 3-21 4 21 3-20 4 23 3-22 4 20 3-63 4 64 3-75 4 75 3-68 4 72 3-53 4 52 3-73 4 75 3-80 4 79 3-67 4 71 3-23 4 23 3-23 4 24 3-61 4 62 3-51 4 51 3-48 4 48 3-19 4 21 3-42 4 41 3-18 4 22 3-28 4 26 3-31 4 35 3-22 4 23 3-22 4 20 3-25 4 27 3-42 4 43 3-20 4 20 3-47 4 51 3-68 4 67 3-75 4 75 3-61 4 63 3-24 4 25 3-42 4 42 3-20 4 21 3-20 4 19 3-18 4 22 3-32 4 33 3-24 4 24 3-28 4 28 3-20 4 20 3-57 4 60 3-76 4 76 3-55 4 56 3-35 4 36 3-20 4 20 3-19 4 22 3-58 4 59 3-55 4 53 3-18 4 21 3-33 4 35 3-21 4 20 3-34 4 37 3-21 4 23 3-70 4 68 3-95 4 97 3-70 4 73 3-53 4 52 3-53 4 54 3-66 4 68 3-55 4 56 3-36 4 37 3-53 4 53 3-58 4 60 3-54 4 54 3-21 4 23 3-30 4 31 3-32 4 35 3-56 4 55 3-61 4 62 3-56 4 57 3-34 4 34 3-34 4 37 3-25 4 27 3-39 4 36 3-22 4 24 3-22 4 26 3-60 4 58 3-84 4 86 3-86 4 88 3-89 4 91 3-25 4 26 3-60 4 62 3-128 4 125 3-71 4 76 3-28 4 29 3-27 4 29 3-72 4 71 3-67 4 68 3-78 4 78 3-69 4 70 3-79 4 82 3-62 4 62 3-26 4 24 3-23 4 27 3-26 4 28 3-34 4 33 3-28 4 28 3-43 4 45 3-45 4 49 3-29 4 26 3-82 4 84 3-86 4 86 3-141 4 144 3-70 4 70 3-79 4 84 3-116 4 114 3-27 4 27 3-78 4 78 3-40 4 41 3-49 4 52 3-49 4 51 3-75 4 73 3-165 4 169 3-63 4 66 3-30 4 32 3-6 2 17 21 4 20 4 20 4 20 4 20 4 12 6 4-119 3 147 4-60 3 62 4-12 3 12 4-29 3 30 4-33 3 34 4-31 3 31 4-32 3 32 4-87 3 88 4-255 3 257 4-135 3 135 4-174 3 174 4-31 3 31 4-20 3 22 4-162 3 162 4-31 3 30 4-13 3 16 4-13 3 12 4-21 3 21 4-30 3 30 4-30 3 33 4-78 3 81 4-55 3 52 4-137 3 131 4-68 3 74 4-166 3 163 4-89 3 85 4-96 3 99 4-111 3 115 4-127 3 128 4-137 3 155 4-253 3 248 4-351 3 347 4-376 3 381 4-394 3 391 4-183 3 170 4-133 3 151 4-158 3 147 4-224 3 217 4-367 3 369 4-133 3 144 4-482 3 479 4-591 3 596 4-497 3 496 4-480 3 473 4-164 3 161 4-478 3 474 4-463 3 472 4-251 3 237 4-217 3 229 4-161 3 173 4-177 3 148 4-152 3 156 4-159 3 162 4-166 3 180 4-184 3 156 4-159 3 165 4-187 3 192 4-314 3 321 4-362 3 363 4-235 3 226 4-183 3 188 4-190 3 166 4-297 3 305 4-215 3 214 4-437 3 442 4-674 3 684 4-659 3 647 4-188 3 208 4-210 3 176 4-177 3 186 4-489 3 506 4-655 3 665 4-511 3 491 4-203 3 220 4-478 3 455 4-219 3 241 4-563 3 540 4-689 3 700 4-539 3 542 4-863 3 847 4-735 3 755 4-557 3 535 4-206 3 207 4-242 3 165 4-583 3 505 4-383 3 283 4-105 3 172 4-113 3 245 4-611 3 638 4-549 3 565 4-718 3 713 4-585 3 618 4-529 3 529 4-614 3 623 4-768 3 768 4-364 3 344 4-223 3 236 4-233 3 259 4-682 3 670 4-972 3 984 4-634 3 622 4-437 3 454 4-252 3 246 4-244 3 251 4-249 3 250 4-439 3 440 4-698 3 704 4-855 3 868 4-692 3 701 4-267 3 274 4-272 3 270 4-313 3 253 4-357 3 345 4-663 3 620 4-653 3 641 4-476 3 447 4-446 3 463 4-686 3 649 4-675 3 645 4-653 3 642 4-271 3 300 4-357 3 308 4-683 3 710 4-768 3 745 4-308 3 302 4-375 3 361 4-309 3 265 4-275 3 293 4-441 3 406 4-779 3 771 4-706 3 684 4-729 3 733 4-885 3 864 4-644 3 619 4-730 3 740 4-652 3 691 4-289 3 282 4-280 3 255 4-674 3 685 4-692 3 712 4-736 3 708 4-667 3 702 4-291 3 280 4-738 3 720 4-696 3 711 4-302 3 239 4-270 3 255 4-626 3 569 4-867 3 816 4-239 3 170 4-187 3 223 4-644 3 707 4-555 3 579 4-217 3 256 4-226 3 291 4-473 3 453 4-257 3 284 4-449 3 501 4-662 3 642 4-660 3 695 4-728 3 721 4-845 3 852 4-768 3 797 4-1124 3 1148 4-826 3 836 4-1131 3 1112 4-852 3 875 4-321 3 325 4-723 3 737 4-927 3 974 4-708 3 713 4-327 3 325 4-566 3 591 4-963 3 965 4-1101 3 1073 4-1159 3 1156 4-865 3 860 4-250 3 289 4-376 3 376 4-572 3 550 4-646 3 668 4-757 3 762 4-263 3 273 4-430 3 422 4-393 3 407 4-612 3 582 4-1242 3 1241 4-566 3 605 4-248 3 238 4-235 3 233 4-255 3 248 4-327 3 327 4-219 3 211 4-610 3 613 4-913 3 920 4-543 3 532 4-424 3 432 4-563 3 576 4-646 3 644 4-495 3 487 4-256 3 266 4-674 3 667 4-886 3 898 4-211 3 205 4-203 3 179 4-176 3 197 4-195 3 189 4-187 3 200 4-255 3 235 4-282 3 301 4-205 3 212 4-202 3 202 4-315 3 292 4-174 3 173 4-169 3 169 4-170 3 191 4-502 3 505 4-1020 3 1010 4-464 3 469 4-497 3 494 4-396 3 398 4-324 3 308 4-388 3 402 4-545 3 524 4-609 3 637 4-508 3 495 4-208 3 195 4-289 3 312 4-170 3 167 4-458 3 451 4-503 3 497 4-152 3 143 4-378 3 379 4-570 3 573 4-432 3 452 4-439 3 419 4-144 3 146 4-354 3 353 4-511 3 514 4-445 3 434 4-177 3 181 4-187 3 203 4-153 3 141 4-408 3 408 4-507 3 521 4-181 3 155 4-180 3 204 4-167 3 161 4-171 3 173 4-278 3 272 4-142 3 136 4-201 3 193 4-131 3 150 4-196 3 187 4-477 3 464 4-496 3 515 4-162 3 155 4-129 3 116 4-394 3 401 4-350 3 363 4-303 3 288 4-139 3 136 4-187 3 190 4-328 3 324 4-300 3 302 4-120 3 124 4-146 3 141 4-141 3 164 4-91 3 94 4-170 3 183 4-263 3 265 4-230 3 226 4-165 3 163 4-71 3 72 4-69 3 74 4-73 3 64 4-103 3 111 4-194 3 195 4-178 3 169 4-160 3 162 4-244 3 247 4-181 3 188 4-274 3 268 4-179 3 186 4-174 3 173 4-172 3 167 4-69 3 76 4-123 3 116 4-183 3 191 4-232 3 227 4-179 3 174 4-164 3 170 4-72 3 71 4-71 3 75 4-187 3 182 4-255 3 260 4-190 3 185 4-171 3 181 4-183 3 180 4-173 3 174 4-114 3 104 4-124 3 129 4-73 3 74 4-193 3 192 4-189 3 197 4-78 3 67 4-177 3 179 4-199 3 206 4-76 3 68 4-195 3 205 4-226 3 230 4-240 3 231 4-211 3 210 4-171 3 169 4-173 3 182 4-180 3 179 4-190 3 188 4-183 3 192 4-83 3 82 4-170 3 158 4-211 3 222 4-271 3 269 4-248 3 244 4-214 3 216 4-101 3 109 4-195 3 195 4-250 3 249 4-231 3 225 4-81 3 88 4-83 3 75 4-74 3 73 4-115 3 120 4-208 3 211 4-215 3 219 4-192 3 215 4-56 3 55 4-82 3 82 4-88 3 90 4-22 3 23 4-54 3 55 4-59 3 60 4-54 3 57 4-58 3 57 4-139 3 140 4-87 3 88 4-91 3 92 4-23 3 21 4-27 3 32 4-28 3 26 4-31 3 34 4-37 3 36 4-25 3 25 4-21 3 24 4-81 3 81 4-86 3 86 4-138 3 139 4-106 3 109 4-36 3 34 4-23 3 25 4-69 3 69 4-25 3 27 4-34 3 36 4-24 3 23 4-51 3 54 4-132 3 133 4-129 3 128 4-157 3 157 4-61 3 63 4-78 3 79 4-75 3 73 4-49 3 52 4-57 3 56 4-69 3 71 4-50 3 52 4-73 3 73 4-21 3 20 4-19 3 23 4-29 3 28 4-22 3 24 4-22 3 23 4-62 3 63 4-134 3 135 4-110 3 107 4-46 3 50 4-21 3 22 4-22 3 23 4-32 3 32 4-21 3 21 4-3 3 10 20 3 20 3 20 3 20 3 20 3 20 2 20 3 20 3 20 2 21 3 20 2 20 3 20 2 20 2 20 3 20 2 20 2 20 2 20 2 21 2 20 3 20 2 20 2 20 2 20 2 20 2 20 2 20 2 20 1 21 2 20 2 20 2 20 2 20 1 20 2 20 2 20 1 20 2 20 1 21 2 15 1M9237 8520l2 -520 2 520M9293 8543l2 -283 2 283M9330 8558l2 -230 2 230M9453 8604l2 -276 2 276M9559 8638l2 -288 2 288M9670 8672l2 -212 2 212M10806 8946l4 -66 4 66M11177 8977l4 -87 4 87M11233 8984l4 -84 4 84M11704 9038l4 -103 4 103M12198 8875l10 -405 10 405M12487 8696l10 -534 10 534M12782 8405l10 -527 10 527M12912 8264l10 -505 10 505M12972 8242l10 -436 10 436M13197 8485l10 -797 10 797M13222 8525l10 -802 10 802M14601 9191l7 -221 7 221M14664 9199l4 -134 4 134" fill="none" stroke="#f00" stroke-width="17" stroke-linejoin="round"/></g>
<use href="#dBL1" x="836.2"/>
<clipPath id="cBR2"><rect x="879.95" y="1157.40" width="710.25" height="203.90"/></clipPath>
<g id="dBR2" clip-path="url(#cBR2)"><path transform="scale(.1)" d="M9111 13260l4-56 3 137 4-121 3 109 4-123 3 121 4-171 3 184 4-112 3 97 4-344 3 362 4-286 3 268 4-390 3 397 4-264 3 262 4-243 3 244 4-143 3 143 4-188 3 183 4-95 3 104 4-214 3 209 4-110 3 117 4-118 3 107 4-96 3 102 4-161 3 159 4-129 3 140 4-110 3 100 4-100 3 107 4-120 3 124 4-159 3 154 4-115 3 109 4-287 3 247 4-143 3 133 4-133 3 130 4-86 3 86 4-78 3 78 4-112 3 121 4-62 3 58 4-141 3 143 4-144 3 145 4-61 3 63 4-130 3 129 4-62 3 57 4-168 3 170 4-153 3 154 4-118 3 112 4-55 3 58 4-211 3 211 4-248 3 244 4-147 3 154 4-60 3 61 4-169 3 167 4-251 3 249 4-162 3 170 4-71 3 87 4-141 3 151 4-152 3 147 4-111 3 115 4-76 3 72 4-219 3 218 4-282 3 284 4-179 3 179 4-63 3 60 4-107 3 109 4-62 3 58 4-129 3 135 4-93 3 92 4-82 3 77 4-149 3 148 4-300 3 301 4-159 3 166 4-224 3 224 4-305 3 307 4-181 3 174 4-60 3 61 4-61 3 62 4-89 3 83 4-56 3 65 4-155 3 151 4-267 3 278 4-552 3 560 4-452 3 461 4-296 3 295 4-126 3 126 4-320 3 321 4-487 3 484 4-581 3 575 4-674 3 670 4-639 3 641 4-358 3 367 4-557 3 561 4-546 3 539 4-488 3 494 4-688 3 683 4-652 3 637 4-350 3 363 4-584 3 593 4-537 3 520 4-151 3 142 4-145 3 153 4-459 3 473 4-731 3 731 4-614 3 622 4-427 3 401 4-661 3 686 4-770 3 764 4-439 3 445 4-180 3 168 4-169 3 159 4-433 3 437 4-233 3 222 4-197 3 215 4-173 3 176 4-177 3 156 4-420 3 439 4-480 3 488 4-228 3 205 4-162 3 186 4-187 3 159 4-407 3 403 4-515 4 520 20-492 20 0 20 1 20 0 20 1 20 1 20 1 20 2 20 1 21 2 20 2 20 1 20 2 20 2 20 3 20 2 20 2 20 3 20 2 21 3 20 3 20 3 20 2 20 3 20 3 20 3 20 3 20 3 20 3 21 3 20 3 20 3 20 3 20 3 20 3 20 3 20 3 20 3 20 3 21 2 20 3 20 3 20 2 20 3 20 2 20 2 20 3 20 2 20 3 21 3 20 2 20 3 20 2 20 3 20 3 20 2 20 3 20 2 5 1 3 0 4 23 3-12 4 15 3-14 4 13 3-31 4 31 3-62 4 65 3-78 4 78 3-54 4 54 3-32 4 31 3-11 4 14 3-20 4 20 3-19 4 20 3-19 4 20 3-14 4 14 3-19 4 20 3-13 4 12 3-16 4 18 3-13 4 12 3-22 4 25 3-14 4 14 3-13 4 14 3-21 4 20 3-12 4 14 3-13 4 14 3-58 4 57 3-12 4 14 3-22 4 21 3-12 4 13 3-59 4 61 3-75 4 75 3-73 4 73 3-128 4 130 3-59 4 60 3-14 4 14 3-20 4 21 3-26 4 25 3-12 4 12 3-37 4 39 3-100 4 102 3-112 4 110 3-47 4 49 3-45 4 45 3-12 4 14 3-13 4 14 3-13 4 13 3-13 4 15 3-38 4 37 3-123 4 125 3-14 4 15 3-15 4 14 3-12 4 12 3-11 4 12 3-38 4 40 3-82 4 83 3-30 4 29 3-29 4 32 3-42 4 42 3-38 4 39 3-23 4 24 3-13 4 12 3-11 4 14 3-13 4 12 3-29 4 31 3-30 4 31 3-13 4 13 3-56 4 57 3-38 4 39 3-13 4 12 3-11 4 12 3-11 4 14 3-19 4 18 3-99 4 101 3-124 4 124 3-103 4 103 3-161 4 163 3-62 4 62 3-12 4 13 3-118 4 118 3-73 4 75 3-45 4 45 3-70 4 71 3-39 4 41 3-26 4 26 3-26 4 27 3-14 4 13 3-47 4 48 3-100 4 101 3-69 4 71 3-30 4 30 3-16 4 18 3-52 4 53 3-127 4 127 3-143 4 143 3-101 4 101 3-31 4 33 3-52 4 53 3-41 4 40 3-39 4 41 3-73 4 73 3-43 4 45 3-18 4 18 3-12 4 13 3-16 4 18 3-18 4 18 3-21 4 20 3-12 4 14 3-33 4 33 3-28 4 17 3-4 20 1 20 2 20 1 20 2 21 2 20 1 20 2 20 2 20 1 20 2 20 1 17 2 3-17 4 16 3-36 4 32 3-85 4 84 3-121 4 127 3-203 4 198 3-116 4 117 3-53 4 55 3-243 4 238 3-148 4 145 3-68 4 75 3-122 4 117 3-252 4 254 3-332 4 333 3-177 4 174 3-118 4 121 3-149 4 152 3-136 4 128 3-258 4 256 3-143 4 152 3-322 4 317 3-301 4 298 3-53 4 62 3-123 4 113 3-141 4 142 3-162 4 171 3-144 4 137 3-137 4 135 3-168 4 177 3-189 4 184 3-144 4 146 3-169 4 161 3-172 4 172 3-188 4 190 3-299 4 299 3-212 4 212 3-57 4 63 3-190 4 182 3-250 4 255 3-308 4 305 3-205 4 206 3-203 4 207 3-157 4 158 3-151 4 153 3-68 4 64 3-165 4 170 3-247 4 244 3-170 4 168 3-95 4 95 3-157 4 159 3-225 4 196 3-153 4 170 3-157 4 149 3-168 4 152 3-435 4 439 3-712 4 722 3-468 4 455 3-673 4 669 3-534 4 523 3-654 4 677 3-414 4 396 3-157 4 141 3-182 4 182 3-321 4 294 3-169 4 193 3-240 4 224 3-246 4 240 3-184 4 207 3-518 4 521 3-690 4 666 3-526 4 526 3-326 4 336 3-183 4 168 3-199 4 205 3-320 4 318 3-172 4 181 3-432 4 447 3-592 4 577 3-595 4 595 3-591 4 603 3-515 4 508 3-468 4 475 3-449 4 452 3-196 4 179 3-476 4 470 3-571 4 579 3-299 4 283 3-290 4 321 3-527 4 515 3-514 4 501 3-171 4 177 3-311 4 317 3-200 4 217 3-449 4 440 3-447 4 451 3-442 4 399 3-507 4 480 3-553 4 560 3-603 4 596 3-293 4 272 3-310 4 323 3-217 4 210 3-605 4 607 3-596 4 597 3-316 4 322 3-526 4 520 3-585 4 585 3-535 4 524 3-202 4 224 3-522 4 534 3-236 4 205 3-539 4 557 3-585 4 582 3-619 4 630 3-768 4 742 3-684 4 707 3-765 4 747 3-652 4 653 3-277 4 256 3-653 4 666 3-649 4 664 3-674 4 668 3-737 4 722 3-670 4 677 3-421 4 432 3-281 4 293 3-489 4 477 3-369 4 394 3-360 4 358 3-304 4 261 3-261 4 295 3-295 4 281 3-696 4 700 3-952 4 949 3-824 4 833 3-727 4 692 3-378 4 502 3-465 4 489 3-584 4 592 3-688 4 671 3-507 4 513 3-203 4 220 3-220 4 208 3-304 4 289 3-535 4 554 3-660 4 647 3-536 4 546 3-649 4 632 3-602 4 625 3-705 4 706 3-277 4 281 3-239 4 217 3-384 4 396 3-289 4 293 3-533 4 520 3-565 4 554 3-473 4 482 3-275 4 289 3-286 4 300 3-219 4 219 3-92 4 91 3-91 4 90 3-131 4 130 3-89 4 78 3-78 4 77 3-77 4 90 3-133 4 136 3-102 4 90 3-81 4 86 3-137 4 139 3-105 4 101 3-84 4 79 3-236 4 248 3-407 4 395 3-202 4 204 3-81 4 90 3-199 4 197 3-242 4 244 3-259 4 257 3-170 4 165 3-83 4 83 3-83 4 91 3-91 4 85 3-160 4 158 3-83 4 87 3-341 4 331 3-212 4 220 3-85 4 93 3-93 4 86 3-215 4 222 3-178 4 172 3-156 4 148 3-107 4 118 3-234 4 234 3-210 4 203 3-212 4 219 3-318 4 307 3-236 4 246 3-89 4 89 3-244 4 238 3-260 4 264 3-87 4 92 3-144 4 135 3-83 4 92 3-245 4 290 3-428 4 469 3-442 4 446 3-246 4 242 3-106 4 92 3-92 4 109 3-109 4 97 3-190 4 191 3-129 4 122 3-92 4 111 3-246 4 229 3-342 4 346 3-415 4 410 3-270 4 273 3-241 4 246 3-258 4 254 3-405 4 417 3-244 4 245 3-340 4 336 3-119 4 121 3-356 4 344 3-247 4 253 3-115 4 113 3-251 4 252 3-260 4 256 3-338 4 350 3-380 4 373 3-265 4 264 3-100 4 100 3-142 4 142 3-114 4 122 3-269 4 271 3-110 4 92 3-211 4 221 3-102 4 99 3-178 4 187 3-284 4 284 3-279 4 264 3-103 4 99 3-211 4 210 3-142 4 157 3-177 4 168 3-183 4 196 3-560 4 560 3-723 4 710 3-419 4 428 3-177 4 161 3-295 4 288 3-245 4 265 3-180 4 183 3-165 4 157 3-157 4 170 3-230 4 203 3-507 4 527 3-634 4 635 3-395 4 388 3-394 4 386 3-149 4 166 3-273 4 259 3-152 4 163 3-593 4 589 3-652 4 529 3-608 4 595 3-631 4 616 3-580 4 619 3-296 4 303 3-422 4 381 3-629 4 670 3-817 4 808 3-663 4 646 3-275 4 305 3-277 4 260 3-259 4 260 3-752 4 738 3-608 4 605 3-429 4 437 3-648 4 644 3-703 4 736 3-275 4 282 3-661 4 651 3-638 4 643 3-275 4 260 3-230 4 201 3-194 4 201 3-259 4 276 3-307 4 286 3-326 4 323 3-188 4 191 3-247 4 254 3-192 4 187 3-258 4 282 3-590 4 586 3-507 4 551 3-155 4 162 3-435 4 430 3-528 4 542 3-527 4 511 3-558 4 579 3-469 4 472 3-388 4 393 3-428 4 420 3-590 4 600 3-522 4 513 3-398 4 391 3-383 4 411 3-387 4 390 3-382 4 380 3-245 4 249 3-180 4 187 3-260 4 233 3-259 4 265 3-162 4 163 3-161 4 167 3-403 4 399 3-402 4 409 3-463 4 480 3-340 4 355 3-250 4 248 3-102 4 96 3-95 4 106 3-106 4 93 3-238 4 239 3-104 4 107 3-270 4 274 3-245 4 238 3-94 4 110 3-110 4 95 3-104 4 112 3-177 4 179 3-255 4 247 3-259 4 270 3-298 4 284 3-244 4 241 3-157 4 160 3-172 4 182 3-213 4 214 3-241 4 233 3-239 4 244 3-242 4 242 3-253 4 249 3-98 4 102 3-102 4 107 3-107 4 97 3-234 4 242 3-242 4 238 3-161 4 163 3-103 4 92 3-110 4 111 3-242 4 253 3-278 4 275 3-292 4 298 3-203 4 176 3-169 4 173 3-461 4 457 3-525 4 546 3-548 4 516 3-326 4 361 3-656 4 622 3-580 4 599 3-247 4 255 3-261 4 262 3-381 4 387 3-309 4 297 3-307 4 292 3-373 4 366 3-228 4 233 3-233 4 225 3-230 4 244 3-354 4 336 3-557 4 582 3-671 4 657 3-232 4 246 3-185 4 234 3-98 4 92 3-217 4 220 3-225 4 225 3-239 4 245 3-220 4 211 3-198 4 201 3-201 4 197 3-198 4 198 3-78 4 90 3-88 4 75 3-89 4 90 3-180 4 186 3-181 4 177 3-72 4 75 3-175 4 171 3-101 4 109 3-84 4 86 3-75 4 76 3-168 4 165 3-164 4 168 3-162 4 154 3-95 4 101 3-96 4 99 3-155 4 151 3-160 4 161 3-157 4 158 3-143 4 143 3-128 4 125 3-137 4 137 3-142 4 141 3-53 4 57 3-116 4 114 3-50 4 52 3-50 4 48 3-47 4 53 3-51 4 46 3-108 4 111 3-46 4 49 3-76 4 74 3-69 4 65 3-104 4 107 3-40 4 43 3-41 4 37 3-46 4 45 3-40 4 47 3-45 4 45 3-43 4 42 3-34 4 29 3-45 4 50 3-75 4 74 3-29 4 28 3-66 4 68 3-71 4 71 3-60 4 62 3-28 4 29 3-55 4 54 3-52 4 52 3-49 4 48 3-45 4 45 3-18 4 19 3-16 4 18 3-18 5 21 20 1 20 1 20 1 20 0 21 1 20 1 20 1 20 1 20 0 20 1 20 1 20 1 20 1 20 1 21 0 20 1 20 1 20 1 20 1 20 0 20 1 20 1 20 1 20 1 21 0 20 1 20 1 20 1 20 1 20 0 20 1 20 1 20 1 20 1 21 0 20 1 20 1 20 1 11 0M9118 13091l4 -137 4 137M9152 13091l10 -365 10 365M9274 13125l10 -809 10 809M9314 13148l10 -1112 10 1112M9417 13148l9 -306 9 306M9450 13166l10 -806 10 806M9477 13166l10 -974 10 974M9584 13166l10 -1074 10 1074M9652 13035l10 -815 10 815M9708 12990l10 -714 10 714M9776 12949l10 -771 10 771M9877 12926l10 -678 10 678M11513 12996l5 -180 5 180M11624 13008l7 -229 7 229M11735 13020l7 -241 7 241M12196 12924l10 -428 10 428M12212 12923l10 -422 10 422M12247 12919l10 -390 10 390M12644 12554l10 -429 10 429M12912 12259l10 -460 10 460M12982 12259l10 -386 10 386M13802 12766l10 -507 10 507M13979 12407l7 -223 7 223M14100 12554l10 -412 10 412M14625 12554l7 -221 7 221M14656 12554l6 -200 6 200" fill="none" stroke="#000" stroke-width="17" stroke-linejoin="round"/><path transform="scale(.1)" d="M9111 13255l1 0 4-77 3 131 4-357 3 362 4-259 3 264 4-253 3 254 4-363 3 364 4-128 3 126 4-55 3 63 4-96 3 101 4-146 3 142 4-502 3 499 4-147 3 150 4-89 3 94 4-69 3 71 4-71 3 72 4-73 3 73 4-73 3 79 4-79 3 79 4-238 3 239 4-340 3 350 4-216 3 216 4-90 3 90 4-90 3 97 4-257 3 263 4-287 3 274 4-509 3 510 4-259 3 262 4-306 3 296 4-194 3 187 4-231 3 230 4-187 3 173 4-87 3 88 4-58 3 51 4-105 3 97 4-117 3 111 4-72 3 65 4-31 3 27 4-50 3 44 4-26 3 22 4-25 3 21 4-95 3 89 4-44 3 40 4-104 3 100 4-79 3 73 4-116 3 112 4-119 3 125 4-55 3 68 4-130 3 132 4-191 3 190 4-334 3 340 4-246 3 244 4-82 3 80 4-116 3 119 4-58 3 69 4-76 3 70 4-60 3 69 4-184 3 183 4-166 3 165 4-251 3 265 4-175 3 166 4-175 3 182 4-153 3 159 4-173 3 172 4-277 3 281 4-416 3 407 4-401 3 403 4-275 3 289 4-181 3 170 4-102 3 117 4-393 3 393 4-532 3 522 4-319 3 321 4-232 3 243 4-248 3 235 4-236 3 239 4-113 3 112 4-114 3 122 4-125 3 139 4-141 3 133 4-153 3 160 4-190 3 176 4-173 3 195 4-157 3 137 4-139 3 153 4-465 3 471 4-402 3 401 4-256 3 253 4-194 3 183 4-163 3 187 4-192 3 192 4-203 3 203 4-241 3 228 4-197 3 197 4-406 3 404 4-452 3 478 4-682 3 651 4-569 3 600 4-677 3 659 4-481 3 495 4-345 3 319 4-287 3 296 4-290 3 290 4-385 3 363 4-200 3 234 4-234 3 215 4-216 3 198 4-199 3 221 4-223 3 219 4-220 3 234 4-347 3 324 4-300 3 301 4-216 3 210 4-211 3 225 4-227 3 223 4-653 3 574 20-425 20 0 20 1 20 1 20 1 20 1 20 1 20 2 20 1 21 2 20 2 20 2 20 3 20 2 20 2 20 3 20 3 20 2 20 3 21 3 20 2 20 3 20 3 20 3 20 3 20 2 20 3 20 3 20 2 21 3 20 2 20 2 20 3 20 2 20 2 20 2 20 3 20 2 20 2 21 3 20 2 20 2 20 3 20 2 20 3 20 2 20 3 20 2 20 2 21 3 20 2 20 3 20 2 20 2 20 3 20 2 20 2 20 3 20 2 7 0 4 3 3 32 4-29 3 28 4-27 3 30 4-29 3 27 4-63 3 65 4-66 3 67 4-64 3 67 4-30 3 30 4-29 3 33 4-82 3 81 4-73 3 73 4-74 3 79 4-70 3 69 4-31 3 36 4-35 3 35 4-42 3 39 4-87 3 91 4-89 3 89 4-88 3 91 4-113 3 115 4-76 3 80 4-77 3 77 4-91 3 93 4-92 3 89 4-34 3 38 4-43 3 42 4-37 3 40 4-48 3 46 4-34 3 35 4-34 3 41 4-114 3 116 4-181 3 183 4-131 3 128 4-52 3 54 4-64 3 66 4-56 3 56 4-106 3 111 4-118 3 119 4-171 3 171 4-91 3 88 4-87 3 89 4-42 3 44 4-68 3 67 4-89 3 89 4-107 3 111 4-94 3 91 4-55 3 56 4-51 3 55 4-54 3 50 4-62 3 65 4-45 3 43 4-40 3 48 4-53 3 53 4-85 3 81 4-55 3 54 4-95 3 101 4-47 3 44 4-43 3 42 4-115 3 118 4-222 3 225 4-121 3 122 4-208 3 206 4-146 3 150 4-48 3 47 4-144 3 148 4-212 3 208 4-105 3 105 4-84 3 90 4-68 3 63 4-68 3 68 4-44 3 46 4-66 3 69 4-68 3 71 4-51 3 53 4-184 3 182 4-299 3 301 4-156 3 157 4-52 3 51 4-109 3 112 4-286 3 283 4-299 3 298 4-323 3 326 4-227 3 227 4-252 3 255 4-315 3 312 4-223 3 222 4-108 3 113 4-120 3 125 4-120 3 113 4-59 3 62 4-58 3 58 4-74 3 75 4-103 3 104 4-51 3 54 4-54 3 54 4-80 3 83 4-271 3 273 4-176 3 172 4-56 3 60 4-191 3 186 4-388 3 397 4-258 3 250 4-240 3 239 4-94 3 52 2-17 20 2 20 2 20 2 20 1 21 2 20 2 4 9 4-5 3 25 4-38 3 38 4-129 3 128 4-15 3 17 4-17 3 17 4-21 3 22 4-29 3 29 4-26 3 27 4-27 3 28 4-26 3 25 4-21 3 21 4-36 3 39 4-26 3 27 4-27 3 26 4-27 3 26 4-66 3 66 4-91 3 90 4-45 3 50 4-189 3 191 4-511 3 509 4-380 3 366 4-233 3 238 4-156 3 149 4-110 3 114 4-121 3 117 4-378 3 394 4-510 3 501 4-431 3 440 4-321 3 306 4-148 3 150 4-216 3 230 4-169 3 168 4-163 3 163 4-236 3 234 4-215 3 200 4-174 3 178 4-150 3 142 4-142 3 153 4-418 3 431 4-574 3 569 4-405 3 402 4-326 3 333 4-426 3 421 4-601 3 589 4-438 3 441 4-329 3 343 4-431 3 408 4-337 3 338 4-205 3 205 4-143 3 163 4-163 3 143 4-311 3 334 4-354 3 345 4-501 3 487 4-445 3 467 4-216 3 194 4-143 3 165 4-195 3 187 4-372 3 363 4-195 3 201 4-343 3 355 4-368 3 364 4-329 3 311 4-147 3 174 4-181 3 178 4-387 3 402 4-463 3 449 4-179 3 180 4-335 3 349 4-194 3 188 4-360 3 353 4-484 3 483 4-484 3 505 4-572 3 550 4-641 3 655 4-639 3 629 4-430 3 436 4-407 3 418 4-200 3 199 4-391 3 380 4-188 3 177 4-177 3 174 4-225 3 248 4-340 3 342 4-199 3 201 4-201 3 203 4-424 3 414 4-800 3 804 4-217 3 213 4-236 3 240 4-279 3 279 4-521 3 511 4-712 3 699 4-601 3 609 4-604 3 609 4-187 3 177 4-201 3 208 4-203 3 231 4-249 3 279 4-614 3 620 4-885 3 844 4-636 3 670 4-357 3 338 4-736 3 738 4-741 3 731 4-370 3 369 4-365 3 369 4-254 3 268 4-450 3 432 4-250 3 251 4-254 3 253 4-816 3 808 4-683 3 682 4-686 3 686 4-263 3 279 4-407 3 409 4-296 3 279 4-242 3 245 4-245 3 284 4-284 3 252 4-252 3 269 4-712 3 722 4-566 3 542 4-552 3 579 4-695 3 678 4-617 3 613 4-327 3 312 4-927 3 920 4-596 3 616 4-259 3 246 4-246 3 238 4-793 3 819 4-285 3 263 4-689 3 717 4-691 3 652 4-1009 3 996 4-812 3 826 4-312 3 287 4-442 3 442 4-408 3 404 4-334 3 311 4-380 3 390 4-495 3 478 4-429 3 399 4-346 3 327 4-913 3 897 4-635 3 659 4-361 3 309 4-256 3 281 4-764 3 767 4-970 3 992 4-728 3 733 4-719 3 782 4-329 3 323 4-315 3 309 4-534 3 586 4-479 3 469 4-326 3 364 4-405 3 412 4-330 3 301 4-425 3 452 4-499 3 481 4-304 3 320 4-346 3 354 4-217 3 239 4-264 3 236 4-214 3 238 4-224 3 228 4-228 3 217 4-476 3 465 4-596 3 622 4-557 3 532 4-527 3 530 4-210 3 200 4-457 3 491 4-472 3 447 4-479 3 475 4-469 3 475 4-474 3 488 4-467 3 474 4-606 3 609 4-235 3 213 4-213 3 222 4-467 3 480 4-523 3 517 4-563 3 571 4-480 3 458 4-559 3 571 4-595 3 576 4-458 3 462 4-468 3 491 4-597 3 582 4-504 3 498 4-214 3 231 4-552 3 534 4-457 3 477 4-567 3 549 4-607 3 611 4-503 3 517 4-394 3 383 4-303 3 305 4-175 3 159 4-181 3 187 4-304 3 304 4-297 3 297 4-433 3 425 4-395 3 405 4-295 3 282 4-282 3 288 4-131 3 142 4-158 3 160 4-425 3 421 4-294 3 295 4-340 3 338 4-331 3 337 4-341 3 332 4-328 3 337 4-406 3 405 4-304 3 299 4-334 3 341 4-146 3 136 4-301 3 297 4-290 3 283 4-125 3 144 4-144 3 139 4-300 3 299 4-317 3 320 4-312 3 301 4-300 3 317 4-147 3 135 4-135 3 128 4-210 3 219 4-137 3 142 4-331 3 329 4-416 3 413 4-348 3 346 4-371 3 381 4-359 3 349 4-334 3 331 4-132 3 132 4-287 3 283 4-376 3 377 4-318 3 322 4-178 3 187 4-142 3 127 4-314 3 330 4-364 3 354 4-299 3 302 4-136 3 142 4-142 3 145 4-234 3 213 4-124 3 146 4-493 3 476 4-470 3 479 4-254 3 241 4-131 3 149 4-187 3 183 4-288 3 291 4-291 3 288 4-154 3 153 4-169 3 162 4-218 3 214 4-169 3 183 4-177 3 183 4-172 3 154 4-320 3 334 4-517 3 500 4-403 3 412 4-396 3 385 4-325 3 348 4-235 3 214 4-453 3 471 4-470 3 473 4-313 3 313 4-176 3 154 4-342 3 352 4-324 3 316 4-147 3 155 4-154 3 154 4-295 3 304 4-596 3 565 4-869 3 829 4-632 3 667 4-420 3 391 4-295 3 298 4-278 3 285 4-285 3 297 4-403 3 390 4-618 3 633 4-564 3 533 4-270 3 276 4-361 3 376 4-289 3 308 4-308 3 270 4-270 3 297 4-412 3 388 4-484 3 504 4-430 3 434 4-547 3 526 4-275 3 297 4-608 3 597 4-783 3 776 4-866 3 886 4-653 3 630 4-294 3 309 4-516 3 530 4-689 3 695 4-380 3 373 4-435 3 422 4-290 3 285 4-285 3 278 4-278 3 278 4-359 3 368 4-426 3 424 4-299 3 324 4-310 3 302 4-397 3 382 4-351 3 357 4-292 3 303 4-303 3 287 4-602 3 613 4-682 3 674 4-805 3 803 4-804 3 784 4-639 3 641 4-772 3 781 4-617 3 618 4-303 3 288 4-264 3 266 4-266 3 311 4-725 3 723 4-726 3 696 4-629 3 655 4-788 3 796 4-786 3 773 4-188 3 203 4-30 3 29 4-281 3 279 4-230 3 230 4-29 3 33 4-31 3 28 4-48 3 50 4-37 3 35 4-120 3 123 4-298 3 299 4-210 3 210 4-68 3 70 4-33 3 28 4-28 3 33 4-32 3 32 4-60 3 57 4-29 3 29 4-149 3 149 4-211 3 212 4-69 3 68 4-45 3 44 4-34 3 39 4-42 3 39 4-68 3 72 4-188 3 187 4-216 3 214 4-87 3 89 4-37 3 34 4-52 3 56 4-152 3 153 4-195 3 192 4-258 3 262 4-105 3 104 4-84 3 60 4-568 3 568 4-436 3 463 4-396 3 390 4-721 3 704 4-772 3 788 4-740 3 726 4-258 3 250 4-250 3 263 4-262 3 283 4-658 3 662 4-916 3 917 4-697 3 696 4-593 3 583 4-569 3 564 4-593 3 599 4-619 3 603 4-266 3 277 4-270 3 276 4-276 3 256 4-586 3 618 4-520 3 517 4-296 3 306 4-157 4 159 20 1 20 2 20 1 20 1 21 2 20 1 20 1 20 2 20 1 20 1 20 1 20 2 20 1 20 1 21 2 20 1 20 1 20 1 20 1 20 2 20 1 20 1 20 1 20 1 21 2 20 1 20 1 20 1 20 1 20 1 20 1 20 1 20 1 20 1 21 1 20 1 20 1 20 1 20 1 13 1M9109 13255l2 -133 2 133M9139 13203l10 -768 10 768M9236 13168l10 -453 10 453M9274 13157l10 -946 10 946M9310 13198l10 -1291 10 1291M9348 13235l10 -650 10 650M9438 13155l10 -800 10 800M9472 13155l10 -1045 10 1045M9584 13109l10 -1010 10 1010M9652 13049l10 -950 10 950M9742 12925l10 -680 10 680M9776 12900l10 -801 10 801M9832 12888l10 -543 10 543M9877 12879l10 -319 10 319M11244 12946l4 -71 4 71M11501 12961l6 -186 6 186M11625 12967l7 -247 7 247M11750 12972l9 -300 9 300M12222 12745l10 -380 10 380M12556 12697l10 -642 10 642M12805 12579l10 -642 10 642M12900 12476l10 -539 10 539M12995 12389l10 -452 10 452M13767 12865l10 -595 10 595M13957 12507l10 -380 10 380M14100 12507l10 -380 10 380M14468 13075l10 -450 10 450M14586 12579l10 -380 10 380M14622 12579l10 -324 10 324" fill="none" stroke="#f00" stroke-width="17" stroke-linejoin="round"/></g>
<path d="M886.65 953.50v-3.2M886.65 749.60v3.2M900.05 953.50v-3.2M900.05 749.60v3.2M913.45 953.50v-6.5M913.45 749.60v6.5M926.85 953.50v-3.2M926.85 749.60v3.2M940.25 953.50v-3.2M940.25 749.60v3.2M953.66 953.50v-3.2M953.66 749.60v3.2M967.06 953.50v-3.2M967.06 749.60v3.2M980.46 953.50v-6.5M980.46 749.60v6.5M993.86 953.50v-3.2M993.86 749.60v3.2M1007.26 953.50v-3.2M1007.26 749.60v3.2M1020.66 953.50v-3.2M1020.66 749.60v3.2M1034.06 953.50v-3.2M1034.06 749.60v3.2M1047.46 953.50v-6.5M1047.46 749.60v6.5M1060.86 953.50v-3.2M1060.86 749.60v3.2M1074.26 953.50v-3.2M1074.26 749.60v3.2M1087.66 953.50v-3.2M1087.66 749.60v3.2M1101.07 953.50v-3.2M1101.07 749.60v3.2M1114.47 953.50v-6.5M1114.47 749.60v6.5M1127.87 953.50v-3.2M1127.87 749.60v3.2M1141.27 953.50v-3.2M1141.27 749.60v3.2M1154.67 953.50v-3.2M1154.67 749.60v3.2M1168.07 953.50v-3.2M1168.07 749.60v3.2M1181.47 953.50v-6.5M1181.47 749.60v6.5M1194.87 953.50v-3.2M1194.87 749.60v3.2M1208.27 953.50v-3.2M1208.27 749.60v3.2M1221.67 953.50v-3.2M1221.67 749.60v3.2M1235.08 953.50v-3.2M1235.08 749.60v3.2M1248.48 953.50v-6.5M1248.48 749.60v6.5M1261.88 953.50v-3.2M1261.88 749.60v3.2M1275.28 953.50v-3.2M1275.28 749.60v3.2M1288.68 953.50v-3.2M1288.68 749.60v3.2M1302.08 953.50v-3.2M1302.08 749.60v3.2M1315.48 953.50v-6.5M1315.48 749.60v6.5M1328.88 953.50v-3.2M1328.88 749.60v3.2M1342.28 953.50v-3.2M1342.28 749.60v3.2M1355.68 953.50v-3.2M1355.68 749.60v3.2M1369.08 953.50v-3.2M1369.08 749.60v3.2M1382.49 953.50v-6.5M1382.49 749.60v6.5M1395.89 953.50v-3.2M1395.89 749.60v3.2M1409.29 953.50v-3.2M1409.29 749.60v3.2M1422.69 953.50v-3.2M1422.69 749.60v3.2M1436.09 953.50v-3.2M1436.09 749.60v3.2M1449.49 953.50v-6.5M1449.49 749.60v6.5M1462.89 953.50v-3.2M1462.89 749.60v3.2M1476.29 953.50v-3.2M1476.29 749.60v3.2M1489.69 953.50v-3.2M1489.69 749.60v3.2M1503.09 953.50v-3.2M1503.09 749.60v3.2M1516.49 953.50v-6.5M1516.49 749.60v6.5M1529.90 953.50v-3.2M1529.90 749.60v3.2M1543.30 953.50v-3.2M1543.30 749.60v3.2M1556.70 953.50v-3.2M1556.70 749.60v3.2M1570.10 953.50v-3.2M1570.10 749.60v3.2M1583.50 953.50v-6.5M1583.50 749.60v6.5M879.95 947.36h2.8M1590.20 947.36h-2.8M879.95 941.22h2.8M1590.20 941.22h-2.8M879.95 937.63h2.8M1590.20 937.63h-2.8M879.95 935.09h2.8M1590.20 935.09h-2.8M879.95 926.97h2.8M1590.20 926.97h-2.8M879.95 920.83h2.8M1590.20 920.83h-2.8M879.95 917.24h2.8M1590.20 917.24h-2.8M879.95 914.70h2.8M1590.20 914.70h-2.8M879.95 906.58h2.8M1590.20 906.58h-2.8M879.95 900.44h2.8M1590.20 900.44h-2.8M879.95 896.85h2.8M1590.20 896.85h-2.8M879.95 894.31h2.8M1590.20 894.31h-2.8M879.95 886.19h2.8M1590.20 886.19h-2.8M879.95 880.05h2.8M1590.20 880.05h-2.8M879.95 876.46h2.8M1590.20 876.46h-2.8M879.95 873.92h2.8M1590.20 873.92h-2.8M879.95 865.80h2.8M1590.20 865.80h-2.8M879.95 859.66h2.8M1590.20 859.66h-2.8M879.95 856.07h2.8M1590.20 856.07h-2.8M879.95 853.53h2.8M1590.20 853.53h-2.8M879.95 845.41h2.8M1590.20 845.41h-2.8M879.95 839.27h2.8M1590.20 839.27h-2.8M879.95 835.68h2.8M1590.20 835.68h-2.8M879.95 833.14h2.8M1590.20 833.14h-2.8M879.95 825.02h2.8M1590.20 825.02h-2.8M879.95 818.88h2.8M1590.20 818.88h-2.8M879.95 815.29h2.8M1590.20 815.29h-2.8M879.95 812.75h2.8M1590.20 812.75h-2.8M879.95 804.63h2.8M1590.20 804.63h-2.8M879.95 798.49h2.8M1590.20 798.49h-2.8M879.95 794.90h2.8M1590.20 794.90h-2.8M879.95 792.36h2.8M1590.20 792.36h-2.8M879.95 784.24h2.8M1590.20 784.24h-2.8M879.95 778.10h2.8M1590.20 778.10h-2.8M879.95 774.51h2.8M1590.20 774.51h-2.8M879.95 771.97h2.8M1590.20 771.97h-2.8M879.95 763.85h2.8M1590.20 763.85h-2.8M879.95 757.71h2.8M1590.20 757.71h-2.8M879.95 754.12h2.8M1590.20 754.12h-2.8M879.95 751.58h2.8M1590.20 751.58h-2.8M879.95 749.60h5.7M1590.20 749.60h-5.7M879.95 790.38h5.7M1590.20 790.38h-5.7M879.95 831.16h5.7M1590.20 831.16h-5.7M879.95 871.94h5.7M1590.20 871.94h-5.7M879.95 912.72h5.7M1590.20 912.72h-5.7M879.95 953.50h5.7M1590.20 953.50h-5.7M879.95 749.60h5.7M1590.20 749.60h-5.7M886.65 1157.40v-3.2M886.65 953.50v3.2M900.05 1157.40v-3.2M900.05 953.50v3.2M913.45 1157.40v-6.5M913.45 953.50v6.5M926.85 1157.40v-3.2M926.85 953.50v3.2M940.25 1157.40v-3.2M940.25 953.50v3.2M953.66 1157.40v-3.2M953.66 953.50v3.2M967.06 1157.40v-3.2M967.06 953.50v3.2M980.46 1157.40v-6.5M980.46 953.50v6.5M993.86 1157.40v-3.2M993.86 953.50v3.2M1007.26 1157.40v-3.2M1007.26 953.50v3.2M1020.66 1157.40v-3.2M1020.66 953.50v3.2M1034.06 1157.40v-3.2M1034.06 953.50v3.2M1047.46 1157.40v-6.5M1047.46 953.50v6.5M1060.86 1157.40v-3.2M1060.86 953.50v3.2M1074.26 1157.40v-3.2M1074.26 953.50v3.2M1087.66 1157.40v-3.2M1087.66 953.50v3.2M1101.07 1157.40v-3.2M1101.07 953.50v3.2M1114.47 1157.40v-6.5M1114.47 953.50v6.5M1127.87 1157.40v-3.2M1127.87 953.50v3.2M1141.27 1157.40v-3.2M1141.27 953.50v3.2M1154.67 1157.40v-3.2M1154.67 953.50v3.2M1168.07 1157.40v-3.2M1168.07 953.50v3.2M1181.47 1157.40v-6.5M1181.47 953.50v6.5M1194.87 1157.40v-3.2M1194.87 953.50v3.2M1208.27 1157.40v-3.2M1208.27 953.50v3.2M1221.67 1157.40v-3.2M1221.67 953.50v3.2M1235.08 1157.40v-3.2M1235.08 953.50v3.2M1248.48 1157.40v-6.5M1248.48 953.50v6.5M1261.88 1157.40v-3.2M1261.88 953.50v3.2M1275.28 1157.40v-3.2M1275.28 953.50v3.2M1288.68 1157.40v-3.2M1288.68 953.50v3.2M1302.08 1157.40v-3.2M1302.08 953.50v3.2M1315.48 1157.40v-6.5M1315.48 953.50v6.5M1328.88 1157.40v-3.2M1328.88 953.50v3.2M1342.28 1157.40v-3.2M1342.28 953.50v3.2M1355.68 1157.40v-3.2M1355.68 953.50v3.2M1369.08 1157.40v-3.2M1369.08 953.50v3.2M1382.49 1157.40v-6.5M1382.49 953.50v6.5M1395.89 1157.40v-3.2M1395.89 953.50v3.2M1409.29 1157.40v-3.2M1409.29 953.50v3.2M1422.69 1157.40v-3.2M1422.69 953.50v3.2M1436.09 1157.40v-3.2M1436.09 953.50v3.2M1449.49 1157.40v-6.5M1449.49 953.50v6.5M1462.89 1157.40v-3.2M1462.89 953.50v3.2M1476.29 1157.40v-3.2M1476.29 953.50v3.2M1489.69 1157.40v-3.2M1489.69 953.50v3.2M1503.09 1157.40v-3.2M1503.09 953.50v3.2M1516.49 1157.40v-6.5M1516.49 953.50v6.5M1529.90 1157.40v-3.2M1529.90 953.50v3.2M1543.30 1157.40v-3.2M1543.30 953.50v3.2M1556.70 1157.40v-3.2M1556.70 953.50v3.2M1570.10 1157.40v-3.2M1570.10 953.50v3.2M1583.50 1157.40v-6.5M1583.50 953.50v6.5M879.95 1150.58h2.8M1590.20 1150.58h-2.8M879.95 1143.76h2.8M1590.20 1143.76h-2.8M879.95 1139.77h2.8M1590.20 1139.77h-2.8M879.95 1136.94h2.8M1590.20 1136.94h-2.8M879.95 1127.92h2.8M1590.20 1127.92h-2.8M879.95 1121.10h2.8M1590.20 1121.10h-2.8M879.95 1117.11h2.8M1590.20 1117.11h-2.8M879.95 1114.28h2.8M1590.20 1114.28h-2.8M879.95 1105.27h2.8M1590.20 1105.27h-2.8M879.95 1098.45h2.8M1590.20 1098.45h-2.8M879.95 1094.46h2.8M1590.20 1094.46h-2.8M879.95 1091.63h2.8M1590.20 1091.63h-2.8M879.95 1082.61h2.8M1590.20 1082.61h-2.8M879.95 1075.79h2.8M1590.20 1075.79h-2.8M879.95 1071.80h2.8M1590.20 1071.80h-2.8M879.95 1068.97h2.8M1590.20 1068.97h-2.8M879.95 1059.96h2.8M1590.20 1059.96h-2.8M879.95 1053.14h2.8M1590.20 1053.14h-2.8M879.95 1049.15h2.8M1590.20 1049.15h-2.8M879.95 1046.32h2.8M1590.20 1046.32h-2.8M879.95 1037.30h2.8M1590.20 1037.30h-2.8M879.95 1030.48h2.8M1590.20 1030.48h-2.8M879.95 1026.49h2.8M1590.20 1026.49h-2.8M879.95 1023.66h2.8M1590.20 1023.66h-2.8M879.95 1014.65h2.8M1590.20 1014.65h-2.8M879.95 1007.83h2.8M1590.20 1007.83h-2.8M879.95 1003.84h2.8M1590.20 1003.84h-2.8M879.95 1001.01h2.8M1590.20 1001.01h-2.8M879.95 991.99h2.8M1590.20 991.99h-2.8M879.95 985.17h2.8M1590.20 985.17h-2.8M879.95 981.18h2.8M1590.20 981.18h-2.8M879.95 978.35h2.8M1590.20 978.35h-2.8M879.95 969.34h2.8M1590.20 969.34h-2.8M879.95 962.52h2.8M1590.20 962.52h-2.8M879.95 958.53h2.8M1590.20 958.53h-2.8M879.95 955.70h2.8M1590.20 955.70h-2.8M879.95 976.16h5.7M1590.20 976.16h-5.7M879.95 1021.47h5.7M1590.20 1021.47h-5.7M879.95 1066.78h5.7M1590.20 1066.78h-5.7M879.95 1112.09h5.7M1590.20 1112.09h-5.7M879.95 1157.40h5.7M1590.20 1157.40h-5.7M886.65 1361.30v-3.2M886.65 1157.40v3.2M900.05 1361.30v-3.2M900.05 1157.40v3.2M913.45 1361.30v-6.5M913.45 1157.40v6.5M926.85 1361.30v-3.2M926.85 1157.40v3.2M940.25 1361.30v-3.2M940.25 1157.40v3.2M953.66 1361.30v-3.2M953.66 1157.40v3.2M967.06 1361.30v-3.2M967.06 1157.40v3.2M980.46 1361.30v-6.5M980.46 1157.40v6.5M993.86 1361.30v-3.2M993.86 1157.40v3.2M1007.26 1361.30v-3.2M1007.26 1157.40v3.2M1020.66 1361.30v-3.2M1020.66 1157.40v3.2M1034.06 1361.30v-3.2M1034.06 1157.40v3.2M1047.46 1361.30v-6.5M1047.46 1157.40v6.5M1060.86 1361.30v-3.2M1060.86 1157.40v3.2M1074.26 1361.30v-3.2M1074.26 1157.40v3.2M1087.66 1361.30v-3.2M1087.66 1157.40v3.2M1101.07 1361.30v-3.2M1101.07 1157.40v3.2M1114.47 1361.30v-6.5M1114.47 1157.40v6.5M1127.87 1361.30v-3.2M1127.87 1157.40v3.2M1141.27 1361.30v-3.2M1141.27 1157.40v3.2M1154.67 1361.30v-3.2M1154.67 1157.40v3.2M1168.07 1361.30v-3.2M1168.07 1157.40v3.2M1181.47 1361.30v-6.5M1181.47 1157.40v6.5M1194.87 1361.30v-3.2M1194.87 1157.40v3.2M1208.27 1361.30v-3.2M1208.27 1157.40v3.2M1221.67 1361.30v-3.2M1221.67 1157.40v3.2M1235.08 1361.30v-3.2M1235.08 1157.40v3.2M1248.48 1361.30v-6.5M1248.48 1157.40v6.5M1261.88 1361.30v-3.2M1261.88 1157.40v3.2M1275.28 1361.30v-3.2M1275.28 1157.40v3.2M1288.68 1361.30v-3.2M1288.68 1157.40v3.2M1302.08 1361.30v-3.2M1302.08 1157.40v3.2M1315.48 1361.30v-6.5M1315.48 1157.40v6.5M1328.88 1361.30v-3.2M1328.88 1157.40v3.2M1342.28 1361.30v-3.2M1342.28 1157.40v3.2M1355.68 1361.30v-3.2M1355.68 1157.40v3.2M1369.08 1361.30v-3.2M1369.08 1157.40v3.2M1382.49 1361.30v-6.5M1382.49 1157.40v6.5M1395.89 1361.30v-3.2M1395.89 1157.40v3.2M1409.29 1361.30v-3.2M1409.29 1157.40v3.2M1422.69 1361.30v-3.2M1422.69 1157.40v3.2M1436.09 1361.30v-3.2M1436.09 1157.40v3.2M1449.49 1361.30v-6.5M1449.49 1157.40v6.5M1462.89 1361.30v-3.2M1462.89 1157.40v3.2M1476.29 1361.30v-3.2M1476.29 1157.40v3.2M1489.69 1361.30v-3.2M1489.69 1157.40v3.2M1503.09 1361.30v-3.2M1503.09 1157.40v3.2M1516.49 1361.30v-6.5M1516.49 1157.40v6.5M1529.90 1361.30v-3.2M1529.90 1157.40v3.2M1543.30 1361.30v-3.2M1543.30 1157.40v3.2M1556.70 1361.30v-3.2M1556.70 1157.40v3.2M1570.10 1361.30v-3.2M1570.10 1157.40v3.2M1583.50 1361.30v-6.5M1583.50 1157.40v6.5M879.95 1353.63h2.8M1590.20 1353.63h-2.8M879.95 1345.95h2.8M1590.20 1345.95h-2.8M879.95 1341.47h2.8M1590.20 1341.47h-2.8M879.95 1338.28h2.8M1590.20 1338.28h-2.8M879.95 1328.14h2.8M1590.20 1328.14h-2.8M879.95 1320.47h2.8M1590.20 1320.47h-2.8M879.95 1315.98h2.8M1590.20 1315.98h-2.8M879.95 1312.79h2.8M1590.20 1312.79h-2.8M879.95 1302.65h2.8M1590.20 1302.65h-2.8M879.95 1294.98h2.8M1590.20 1294.98h-2.8M879.95 1290.49h2.8M1590.20 1290.49h-2.8M879.95 1287.31h2.8M1590.20 1287.31h-2.8M879.95 1277.16h2.8M1590.20 1277.16h-2.8M879.95 1269.49h2.8M1590.20 1269.49h-2.8M879.95 1265.00h2.8M1590.20 1265.00h-2.8M879.95 1261.82h2.8M1590.20 1261.82h-2.8M879.95 1251.68h2.8M1590.20 1251.68h-2.8M879.95 1244.00h2.8M1590.20 1244.00h-2.8M879.95 1239.52h2.8M1590.20 1239.52h-2.8M879.95 1236.33h2.8M1590.20 1236.33h-2.8M879.95 1226.19h2.8M1590.20 1226.19h-2.8M879.95 1218.52h2.8M1590.20 1218.52h-2.8M879.95 1214.03h2.8M1590.20 1214.03h-2.8M879.95 1210.84h2.8M1590.20 1210.84h-2.8M879.95 1200.70h2.8M1590.20 1200.70h-2.8M879.95 1193.03h2.8M1590.20 1193.03h-2.8M879.95 1188.54h2.8M1590.20 1188.54h-2.8M879.95 1185.36h2.8M1590.20 1185.36h-2.8M879.95 1175.21h2.8M1590.20 1175.21h-2.8M879.95 1167.54h2.8M1590.20 1167.54h-2.8M879.95 1163.05h2.8M1590.20 1163.05h-2.8M879.95 1159.87h2.8M1590.20 1159.87h-2.8M879.95 1208.38h5.7M1590.20 1208.38h-5.7M879.95 1259.35h5.7M1590.20 1259.35h-5.7M879.95 1310.33h5.7M1590.20 1310.33h-5.7M879.95 1361.30h5.7M1590.20 1361.30h-5.7" stroke="#000" stroke-width="1.1" fill="none"/>
<path d="M879.95 749.60H1590.20V953.50H879.95ZM879.95 953.50H1590.20V1157.40H879.95ZM879.95 1157.40H1590.20V1361.30H879.95Z" stroke="#000" stroke-width="1.8" fill="none" stroke-linejoin="miter"/>
<text transform="translate(876.35 755.50) scale(0.84 1)" text-anchor="end" font-size="20.5" >4</text>
<text transform="translate(876.35 755.50) scale(0.84 1)" text-anchor="end" font-size="20.5" >4</text>
<text transform="translate(876.35 796.28) scale(0.84 1)" text-anchor="end" font-size="20.5" >2</text>
<text transform="translate(876.35 837.06) scale(0.84 1)" text-anchor="end" font-size="20.5" >0</text>
<text transform="translate(876.35 877.84) scale(0.84 1)" text-anchor="end" font-size="20.5" >-2</text>
<text transform="translate(876.35 918.62) scale(0.84 1)" text-anchor="end" font-size="20.5" >-4</text>
<text transform="translate(876.35 959.40) scale(0.84 1)" text-anchor="end" font-size="20.5" >-6</text>
<text transform="translate(876.35 982.06) scale(0.84 1)" text-anchor="end" font-size="20.5" >3</text>
<text transform="translate(876.35 1027.37) scale(0.84 1)" text-anchor="end" font-size="20.5" >1</text>
<text transform="translate(876.35 1072.68) scale(0.84 1)" text-anchor="end" font-size="20.5" >-1</text>
<text transform="translate(876.35 1117.99) scale(0.84 1)" text-anchor="end" font-size="20.5" >-3</text>
<text transform="translate(876.35 1163.30) scale(0.84 1)" text-anchor="end" font-size="20.5" >-5</text>
<text transform="translate(876.35 1214.28) scale(0.84 1)" text-anchor="end" font-size="20.5" >2</text>
<text transform="translate(876.35 1265.25) scale(0.84 1)" text-anchor="end" font-size="20.5" >0</text>
<text transform="translate(876.35 1316.23) scale(0.84 1)" text-anchor="end" font-size="20.5" >-2</text>
<text transform="translate(876.35 1367.20) scale(0.84 1)" text-anchor="end" font-size="20.5" >-4</text>
<text transform="translate(914.75 1383.50) scale(0.84 1)" text-anchor="middle" font-size="20.5" >10</text>
<text transform="translate(981.76 1383.50) scale(0.84 1)" text-anchor="middle" font-size="20.5" >20</text>
<text transform="translate(1048.76 1383.50) scale(0.84 1)" text-anchor="middle" font-size="20.5" >30</text>
<text transform="translate(1115.77 1383.50) scale(0.84 1)" text-anchor="middle" font-size="20.5" >40</text>
<text transform="translate(1182.77 1383.50) scale(0.84 1)" text-anchor="middle" font-size="20.5" >50</text>
<text transform="translate(1249.78 1383.50) scale(0.84 1)" text-anchor="middle" font-size="20.5" >60</text>
<text transform="translate(1316.78 1383.50) scale(0.84 1)" text-anchor="middle" font-size="20.5" >70</text>
<text transform="translate(1383.79 1383.50) scale(0.84 1)" text-anchor="middle" font-size="20.5" >80</text>
<text transform="translate(1450.79 1383.50) scale(0.84 1)" text-anchor="middle" font-size="20.5" >90</text>
<text transform="translate(1517.79 1383.50) scale(0.84 1)" text-anchor="middle" font-size="20.5" >100</text>
<text transform="translate(1584.80 1383.50) scale(0.84 1)" text-anchor="middle" font-size="20.5" >110</text>
<rect x="1530.20" y="756.60" width="54.00" height="43.75" fill="#fff" stroke="#000" stroke-width="1.6"/>
<path d="M1537.45 767.60h17.75" stroke="#000" stroke-width="2"/>
<path d="M1537.45 787.60h17.75" stroke="#f00" stroke-width="2"/>
<text transform="translate(1582.20 772.60) scale(0.88 1)" text-anchor="end" font-size="14" >33</text>
<text transform="translate(1582.20 792.60) scale(0.88 1)" text-anchor="end" font-size="14" >31</text>
<rect x="1530.20" y="960.50" width="54.00" height="43.75" fill="#fff" stroke="#000" stroke-width="1.6"/>
<path d="M1537.45 971.50h17.75" stroke="#000" stroke-width="2"/>
<path d="M1537.45 991.50h17.75" stroke="#f00" stroke-width="2"/>
<text transform="translate(1582.20 976.50) scale(0.88 1)" text-anchor="end" font-size="14" >32</text>
<text transform="translate(1582.20 996.50) scale(0.88 1)" text-anchor="end" font-size="14" >32</text>
<rect x="1530.20" y="1164.40" width="54.00" height="43.75" fill="#fff" stroke="#000" stroke-width="1.6"/>
<path d="M1537.45 1175.40h17.75" stroke="#000" stroke-width="2"/>
<path d="M1537.45 1195.40h17.75" stroke="#f00" stroke-width="2"/>
<text transform="translate(1582.20 1180.40) scale(0.88 1)" text-anchor="end" font-size="14" >31</text>
<text transform="translate(1582.20 1200.40) scale(0.88 1)" text-anchor="end" font-size="14" >33</text>
<text transform="translate(1136.80 1433.75) scale(0.88 1)" font-size="20"><tspan x="-1">Photon Energy </tspan><tspan font-family="'Liberation Serif', serif">(</tspan><tspan font-family="'Liberation Serif', serif" font-style="italic">Ry</tspan><tspan font-family="'Liberation Serif', serif">)</tspan></text>
<g transform="translate(850.60 1133.00) scale(0.88 1) rotate(-90)" font-family="'Liberation Serif', serif"><text x="0" y="0" font-size="20.5" font-style="italic">log</text><text x="26.2" y="6.6" font-size="14">10</text><text x="28.3" y="-9.5" font-size="14" font-style="italic">σ</text><text x="36.6" y="-6.2" font-size="10.5" font-style="italic">PI</text><text x="60" y="0" font-size="20.5">(<tspan font-style="italic">Mb</tspan>)</text></g>
</svg></body></html>
